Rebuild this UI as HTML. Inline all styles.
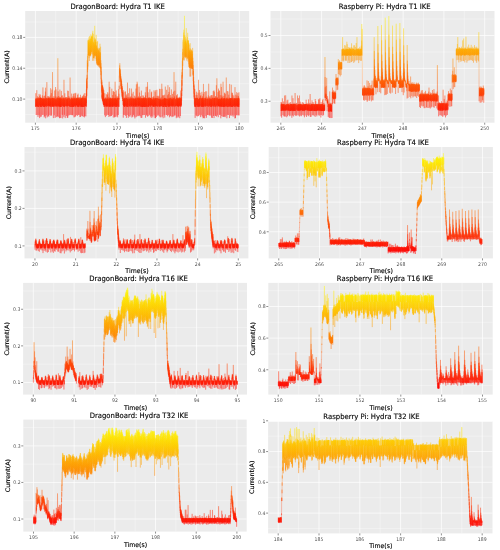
<!DOCTYPE html>
<html lang="en"><head><meta charset="utf-8"><title>Hydra IKE current traces</title>
<style>
html,body{margin:0;padding:0;background:#fff}
body{width:500px;height:550px;overflow:hidden}
svg{display:block;font-family:"DejaVu Sans","Liberation Sans",sans-serif}
.t{font-size:4.6px;fill:#4d4d4d}
.a{font-size:6.2px;fill:#000;stroke:#000;stroke-width:.12}
.h{font-size:6.87px;fill:#000;stroke:#000;stroke-width:.12}
.v{font-size:6.25px;fill:#000;stroke:#000;stroke-width:.12}
.l{fill:none;stroke-width:.3;stroke-linejoin:bevel}
</style></head><body>
<svg width="500" height="550" viewBox="0 0 500 550"><defs><linearGradient id="g0" gradientUnits="userSpaceOnUse" x1="0" x2="0" y1="116.84" y2="14.26"><stop offset="0" stop-color="#FF0000"/><stop offset="1" stop-color="#FFFF00"/></linearGradient><linearGradient id="g1" gradientUnits="userSpaceOnUse" x1="0" x2="0" y1="119.33" y2="14.13"><stop offset="0" stop-color="#FF0000"/><stop offset="1" stop-color="#FFFF00"/></linearGradient><linearGradient id="g2" gradientUnits="userSpaceOnUse" x1="0" x2="0" y1="255.28" y2="152.15"><stop offset="0" stop-color="#FF0000"/><stop offset="1" stop-color="#FFFF00"/></linearGradient><linearGradient id="g3" gradientUnits="userSpaceOnUse" x1="0" x2="0" y1="252.49" y2="153.24"><stop offset="0" stop-color="#FF0000"/><stop offset="1" stop-color="#FFFF00"/></linearGradient><linearGradient id="g4" gradientUnits="userSpaceOnUse" x1="0" x2="0" y1="391.66" y2="287.27"><stop offset="0" stop-color="#FF0000"/><stop offset="1" stop-color="#FFFF00"/></linearGradient><linearGradient id="g5" gradientUnits="userSpaceOnUse" x1="0" x2="0" y1="388.73" y2="285.94"><stop offset="0" stop-color="#FF0000"/><stop offset="1" stop-color="#FFFF00"/></linearGradient><linearGradient id="g6" gradientUnits="userSpaceOnUse" x1="0" x2="0" y1="527.04" y2="425.8"><stop offset="0" stop-color="#FF0000"/><stop offset="1" stop-color="#FFFF00"/></linearGradient><linearGradient id="g7" gradientUnits="userSpaceOnUse" x1="0" x2="0" y1="528.48" y2="417.72"><stop offset="0" stop-color="#FF0000"/><stop offset="1" stop-color="#FFFF00"/></linearGradient></defs><g><rect x="25.2" y="11" width="224" height="111.7" fill="#EBEBEB"/><path d="M55.79 11V122.7M96.57 11V122.7M137.35 11V122.7M178.13 11V122.7M218.91 11V122.7M25.2 114.53H249.2M25.2 83.67H249.2M25.2 52.82H249.2M25.2 21.97H249.2" stroke="#fff" stroke-opacity=".9" stroke-width=".38" fill="none"/><path d="M35.4 11V122.7M76.18 11V122.7M116.96 11V122.7M157.74 11V122.7M198.52 11V122.7M239.3 11V122.7M25.2 99.1H249.2M25.2 68.25H249.2M25.2 37.4H249.2" stroke="#fff" stroke-width=".7" fill="none"/><path d="M35.4 122.7v2M76.18 122.7v2M116.96 122.7v2M157.74 122.7v2M198.52 122.7v2M239.3 122.7v2M25.2 99.1h-2M25.2 68.25h-2M25.2 37.4h-2" stroke="#333" stroke-width=".55" fill="none"/><polyline points="35.4,97.9 35.48,106.3 35.56,98.8 35.64,107 35.71,97.9 35.79,93.2 35.87,97.8 35.95,106.9 36.03,99.7 36.11,106 36.18,115 36.26,106.3 36.34,98.9 36.42,106.7 36.5,97.9 36.58,105.6 36.66,98.9 36.73,106.3 36.81,90.2 36.89,106.2 36.97,99.8 37.05,106.9 37.13,115 37.2,106.3 37.28,98.2 37.36,106.1 37.44,98 37.52,96.3 37.6,99.5 37.68,106.9 37.75,98.5 37.83,106.7 37.91,97.8 37.99,116.9 38.07,98.4 38.15,106.9 38.22,98.9 38.3,106.9 38.38,99.6 38.46,97.2 38.54,97.8 38.62,106.9 38.7,98.2 38.77,106.4 38.85,115.1 38.93,105.8 39.01,98.2 39.09,93.9 39.17,97.9 39.24,105 39.32,98.4 39.4,105.8 39.48,97.8 39.56,95.6 39.64,118.1 39.71,106.1 39.79,98.1 39.87,106.7 39.95,97.8 40.03,106.9 40.11,97.8 40.19,105.4 40.26,98.5 40.34,116.8 40.42,94.5 40.5,106.9 40.58,97.8 40.66,106.1 40.73,99.6 40.81,97.2 40.89,99.3 40.97,106.9 41.05,97.8 41.13,107 41.21,98.1 41.28,105.8 41.36,116.6 41.44,105.4 41.52,98 41.6,106.7 41.68,98.1 41.75,105 41.83,99.7 41.91,106.6 41.99,98.4 42.07,106.7 42.15,99.1 42.23,115 42.3,97.8 42.38,95.4 42.46,98 42.54,105.4 42.62,99.1 42.7,106.2 42.77,98.9 42.85,105.8 42.93,87.4 43.01,105.2 43.09,97.9 43.17,114.9 43.25,97.9 43.32,106.4 43.4,99.2 43.48,105.3 43.56,99.2 43.64,107 43.72,98.2 43.79,106.9 43.87,99.9 43.95,106.9 44.03,98 44.11,96 44.19,117.4 44.27,105.4 44.34,98.8 44.42,106.9 44.5,98.5 44.58,107 44.66,98.8 44.74,116.3 44.81,97.8 44.89,95.5 44.97,98.7 45.05,106 45.13,98.2 45.21,106 45.29,98.2 45.36,91.6 45.44,98.2 45.52,106.5 45.6,87.7 45.68,118.3 45.76,97.8 45.83,106.2 45.91,99.8 45.99,105.2 46.07,99 46.15,107 46.23,99.3 46.31,115.4 46.38,97.9 46.46,106.4 46.54,97.8 46.62,105.5 46.7,99.1 46.78,94.8 46.85,82.1 46.93,91.3 47.01,99.3 47.09,106.8 47.17,97.9 47.25,106.5 47.32,117.3 47.4,106.7 47.48,98.8 47.56,106.1 47.64,98 47.72,96.2 47.8,98.2 47.87,105.7 47.95,98.1 48.03,105.6 48.11,98.3 48.19,106.2 48.27,98.9 48.34,115.8 48.42,96.2 48.5,105 48.58,97.9 48.66,106.7 48.74,98.6 48.82,116.7 48.89,97.9 48.97,105.6 49.05,97.6 49.13,106 49.21,99.6 49.29,96.9 49.36,98.1 49.44,106 49.52,98.2 49.6,105.7 49.68,98.3 49.76,106.9 49.84,99.5 49.91,115 49.99,99.1 50.07,95.6 50.15,99.2 50.23,106.4 50.31,98.7 50.38,107 50.46,98.7 50.54,105.5 50.62,88.2 50.7,105.5 50.78,98.5 50.86,115.9 50.93,97.9 51.01,105.3 51.09,98.3 51.17,107 51.25,98.8 51.33,93.1 51.4,98.4 51.48,105.4 51.56,115.4 51.64,106 51.72,98.3 51.8,106.2 51.88,89.5 51.95,106.9 52.03,98.6 52.11,105.4 52.19,97.9 52.27,107 52.35,97.8 52.42,106.4 52.5,72.1 52.58,85.7 52.66,99.8 52.74,106.2 52.82,97.9 52.9,106.5 52.97,98 53.05,105.8 53.13,98.6 53.21,106.7 53.29,98.1 53.37,118.1 53.44,99.2 53.52,106.4 53.6,98.3 53.68,96.3 53.76,99.8 53.84,107 53.91,97.9 53.99,106.6 54.07,98.5 54.15,107 54.23,115.3 54.31,106.8 54.39,98.3 54.46,105.7 54.54,98.8 54.62,90.5 54.7,97.8 54.78,106.4 54.86,99.5 54.93,105.2 55.01,98.2 55.09,118 55.17,96.5 55.25,106.5 55.33,99.1 55.41,106.6 55.48,97.9 55.56,87 55.64,97.8 55.72,105.9 55.8,99.3 55.88,105.2 55.95,98.4 56.03,89.4 56.11,116.8 56.19,105.4 56.27,99.8 56.35,106.1 56.43,98.9 56.5,106.6 56.58,98 56.66,106.7 56.74,99.1 56.82,96.6 56.9,99 56.97,106.3 57.05,117.2 57.13,105.1 57.21,97.9 57.29,106.3 57.37,97.4 57.45,105.2 57.52,98.5 57.6,106.6 57.68,97.9 57.76,115.9 57.84,58.2 57.92,78.1 57.99,97.8 58.07,106.5 58.15,91.3 58.23,106.3 58.31,117.1 58.39,96 58.47,99.7 58.54,105.6 58.62,98.5 58.7,106.3 58.78,98.3 58.86,106.5 58.94,97.8 59.01,105.6 59.09,98 59.17,107 59.25,98.5 59.33,105.8 59.41,96.7 59.49,118.2 59.56,98.9 59.64,106.9 59.72,97.8 59.8,106.1 59.88,89.6 59.96,105.4 60.03,98.3 60.11,117.8 60.19,97.8 60.27,107 60.35,98.8 60.43,106.8 60.51,97.1 60.58,106.9 60.66,98.3 60.74,106.6 60.82,98.7 60.9,105.3 60.98,118.1 61.05,106.9 61.13,98.7 61.21,107 61.29,98.3 61.37,90.9 61.45,98.3 61.52,107 61.6,98.6 61.68,106 61.76,95.8 61.84,105.1 61.92,98.2 62,105.9 62.07,98.4 62.15,106.8 62.23,114.9 62.31,105.7 62.39,95.3 62.47,105.5 62.54,99.6 62.62,106.9 62.7,118.4 62.78,106.9 62.86,98.3 62.94,105.9 63.02,98.4 63.09,106.3 63.17,99.2 63.25,96.9 63.33,99 63.41,107 63.49,98 63.56,105.8 63.64,99 63.72,106.5 63.8,98.1 63.88,116.8 63.96,79.8 64.04,90 64.11,98 64.19,107 64.27,99.3 64.35,114.9 64.43,99.8 64.51,106.8 64.58,98.1 64.66,106.1 64.74,98.1 64.82,93.3 64.9,97.9 64.98,106.5 65.06,97.8 65.13,106.8 65.21,118.1 65.29,106.7 65.37,98.1 65.45,105.9 65.53,99.5 65.6,97.3 65.68,98.3 65.76,105.8 65.84,99.3 65.92,97.4 66,97.9 66.08,106.9 66.15,99.2 66.23,105.8 66.31,99.6 66.39,115.9 66.47,98.4 66.55,97.4 66.62,99.5 66.7,105.8 66.78,98.7 66.86,105.9 66.94,97.2 67.02,106.6 67.1,98.7 67.17,106.3 67.25,117.9 67.33,105.2 67.41,99.4 67.49,106.5 67.57,98.3 67.64,105.2 67.72,90.6 67.8,117.7 67.88,97.8 67.96,106.4 68.04,98.6 68.12,105.5 68.19,99.5 68.27,91 68.35,98.8 68.43,106 68.51,97.9 68.59,105.5 68.66,115.5 68.74,105.1 68.82,98 68.9,96.1 68.98,98.2 69.06,106 69.13,98.8 69.21,106.3 69.29,98.2 69.37,106.3 69.45,115.1 69.53,105.3 69.61,97.4 69.68,106.4 69.76,98.1 69.84,106.8 69.92,99.7 70,106.7 70.08,77.5 70.15,88.7 70.23,93.4 70.31,106.9 70.39,99.7 70.47,105.6 70.55,114.9 70.63,105.8 70.7,99.1 70.78,106.4 70.86,98.8 70.94,106.8 71.02,97.8 71.1,97.5 71.17,98.5 71.25,105.2 71.33,98.1 71.41,115.1 71.49,99.8 71.57,105.3 71.65,93.6 71.72,106.9 71.8,97.9 71.88,106.8 71.96,98.2 72.04,107 72.12,97.5 72.19,107 72.27,99.7 72.35,115 72.43,98.8 72.51,106.4 72.59,99.1 72.67,105.5 72.74,98.3 72.82,106.2 72.9,115.4 72.98,96.2 73.06,98 73.14,106.7 73.21,98.2 73.29,106.1 73.37,93.9 73.45,106.7 73.53,99.4 73.61,107 73.69,97.8 73.76,107 73.84,99.5 73.92,106 74,117.4 74.08,105.1 74.16,93.2 74.23,105.2 74.31,98 74.39,106.3 74.47,99 74.55,105.6 74.63,98 74.71,106.4 74.78,97.8 74.86,96.5 74.94,117.1 75.02,105.3 75.1,98.7 75.18,105.6 75.25,93.5 75.33,106.6 75.41,99.8 75.49,106.4 75.57,97.9 75.65,106.2 75.72,116.3 75.8,92.8 75.88,98.9 75.96,107 76.04,98.9 76.12,105.2 76.2,98.9 76.27,105 76.35,98.6 76.43,115.1 76.51,97.9 76.59,105.3 76.67,98.4 76.74,105.3 76.82,98.2 76.9,106 76.98,99.4 77.06,97.4 77.14,98.8 77.22,105.1 77.29,97.8 77.37,107 77.45,98.6 77.53,115.8 77.61,94.8 77.69,106.7 77.76,97.9 77.84,106.4 77.92,98.5 78,106.4 78.08,93.6 78.16,106.7 78.24,99.5 78.31,114.9 78.39,97.9 78.47,106.6 78.55,99.7 78.63,106.9 78.71,98.1 78.78,105.2 78.86,98.2 78.94,97.1 79.02,115 79.1,105.3 79.18,98 79.26,106.9 79.33,97.5 79.41,105 79.49,99.7 79.57,105.7 79.65,99.6 79.73,105 79.8,98.6 79.88,117.1 79.96,99.4 80.04,106.5 80.12,97.4 80.2,106.3 80.28,97.8 80.35,107 80.43,98.1 80.51,94.8 80.59,99.1 80.67,116.9 80.75,99.3 80.82,105.1 80.9,98.8 80.98,105.7 81.06,98.7 81.14,107 81.22,97.6 81.3,105.7 81.37,98 81.45,115.7 81.53,98.4 81.61,107 81.69,98.7 81.77,106.4 81.84,97.8 81.92,106.8 82,98.1 82.08,106.6 82.16,96.5 82.24,106.9 82.32,98.4 82.39,106.1 82.47,116.1 82.55,96.5 82.63,97.8 82.71,106.9 82.79,98 82.86,106.9 82.94,97.8 83.02,106.8 83.1,98 83.18,95.6 83.26,116.9 83.33,106.6 83.41,97.9 83.49,107 83.57,98.1 83.65,94.6 83.73,98.5 83.81,105.4 83.88,99.1 83.96,106.9 84.04,97.8 84.12,107 84.2,98.4 84.28,106.6 84.35,93.2 84.43,117.4 84.51,98.1 84.59,105.9 84.67,98.7 84.75,106.3 84.83,116.1 84.9,107 84.98,98 85.06,96.2 85.14,98.7 85.22,105 85.3,96.3 85.37,106.1 85.45,99.2 85.53,105.8 85.61,97.9 85.69,106.1 85.77,98.1 85.85,116.4 85.92,97.9 86,107 86.08,93.1 86.16,105.8 86.24,99.1 86.32,106.7 86.39,89.4 86.47,103.1 86.55,78.9 86.63,97.5 86.71,80.7 86.79,95.9 86.87,77.8 86.94,89.6 87.02,74.8 87.1,88.1 87.18,68.5 87.26,60.3 87.34,64.6 87.41,79.3 87.49,62.9 87.57,72.3 87.65,55.8 87.73,69.5 87.81,54.3 87.89,66.5 87.96,49.9 88.04,40.6 88.12,54.5 88.2,39.8 88.28,54.9 88.36,39.7 88.43,55.5 88.51,42.1 88.59,55.9 88.67,43.1 88.75,55.1 88.83,40.8 88.91,55.3 88.98,37.2 89.06,58.1 89.14,41.5 89.22,57.7 89.3,61 89.38,57.8 89.45,39.7 89.53,55.9 89.61,35.9 89.69,41.6 89.77,41.8 89.85,56.1 89.93,39.1 90,55.1 90.08,43 90.16,55.7 90.24,40.8 90.32,55 90.4,41.2 90.47,54.7 90.55,38.5 90.63,56.4 90.71,39.3 90.79,55.2 90.87,34.3 90.94,40.3 91.02,38.9 91.1,51.5 91.18,37 91.26,53.6 91.34,36.3 91.42,51.5 91.49,38.6 91.57,52 91.65,36.5 91.73,48.4 91.81,35.7 91.89,51.1 91.96,53.9 92.04,48.4 92.12,35.7 92.2,50.4 92.28,36.9 92.36,52.2 92.44,37 92.51,32.8 92.59,39.1 92.67,60.8 92.75,39.8 92.83,30.8 92.91,42.4 92.98,55.2 93.06,41.2 93.14,54 93.22,41.3 93.3,33.9 93.38,44.8 93.46,58.1 93.53,42.1 93.61,58 93.69,42.9 93.77,58.3 93.85,60.8 93.93,58.5 94,42.3 94.08,58.6 94.16,45.4 94.24,57.5 94.32,37.4 94.4,55.4 94.48,44.3 94.55,56.1 94.63,43.1 94.71,25.8 94.79,36.2 94.87,54.9 94.95,39.8 95.02,55.6 95.1,39.4 95.18,55.4 95.26,41.9 95.34,38.7 95.42,39.2 95.5,56.3 95.57,41.9 95.65,53.8 95.73,41.9 95.81,55.4 95.89,40.5 95.97,56.2 96.04,45.2 96.12,59 96.2,34.8 96.28,61.1 96.36,46.6 96.44,60.3 96.52,45.7 96.59,50.1 96.67,63.5 96.75,51.3 96.83,64.7 96.91,47.9 96.99,63 97.06,48.5 97.14,42 97.22,51.5 97.3,64.5 97.38,48.4 97.46,65.2 97.53,63.5 97.61,40.9 97.69,51.2 97.77,64.5 97.85,49.3 97.93,65.8 98.01,49.5 98.08,47.7 98.16,52.5 98.24,65.3 98.32,49.6 98.4,64.5 98.48,50.8 98.55,66.6 98.63,49.7 98.71,63.3 98.79,64.7 98.87,64.1 98.95,51.3 99.03,65.1 99.1,48.2 99.18,65 99.26,51.6 99.34,67.3 99.42,53.4 99.5,48.3 99.57,66.4 99.65,65.4 99.73,53.2 99.81,64.3 99.89,52.1 99.97,43.7 100.05,51.5 100.12,68.3 100.2,52 100.28,68 100.36,52.9 100.44,68.4 100.52,55.4 100.59,46.7 100.67,59.4 100.75,71.7 100.83,60.3 100.91,75.2 100.99,63.2 101.07,79.3 101.14,66.7 101.22,83.7 101.3,71.3 101.38,87.3 101.46,92.6 101.54,89.6 101.61,78.7 101.69,90.8 101.77,80 101.85,97.4 101.93,81.7 102.01,98.6 102.09,94.6 102.16,99.2 102.24,85.4 102.32,100.2 102.4,85.7 102.48,100.5 102.56,84.9 102.63,100.5 102.71,86.3 102.79,101.4 102.87,99.3 102.95,101.6 103.03,89.9 103.11,103.9 103.18,87.4 103.26,102.9 103.34,88.7 103.42,104.9 103.5,92.5 103.58,105.4 103.65,92.8 103.73,104.9 103.81,90.2 103.89,107 103.97,97.9 104.05,105.1 104.13,99.2 104.2,105.1 104.28,98.7 104.36,105.5 104.44,99 104.52,106.7 104.6,98.9 104.67,115.3 104.75,98.4 104.83,93.3 104.91,95.5 104.99,106.9 105.07,99.4 105.14,106.4 105.22,97.9 105.3,106.7 105.38,117.1 105.46,105.3 105.54,98.5 105.62,105.2 105.69,97.4 105.77,105.1 105.85,99.6 105.93,106.2 106.01,99.2 106.09,106.7 106.16,97.9 106.24,106.1 106.32,94.2 106.4,115.8 106.48,98.8 106.56,105.6 106.64,99.6 106.71,106.9 106.79,99.5 106.87,106.3 106.95,98.8 107.03,106.4 107.11,99.4 107.18,94.9 107.26,114.9 107.34,105.5 107.42,98.9 107.5,105.8 107.58,97.9 107.66,106.8 107.73,92.1 107.81,105.7 107.89,98.9 107.97,93.6 108.05,98.9 108.13,106.9 108.2,98.4 108.28,106.7 108.36,115 108.44,106.3 108.52,99.1 108.6,105.8 108.68,99.6 108.75,96.9 108.83,97.8 108.91,117 108.99,98.3 109.07,107 109.15,81.7 109.22,105.4 109.3,99.3 109.38,107 109.46,98 109.54,105.8 109.62,99.8 109.7,107 109.77,86.9 109.85,116.1 109.93,98.8 110.01,105.5 110.09,98 110.17,106.3 110.24,99.3 110.32,106.6 110.4,98.3 110.48,107 110.56,97.4 110.64,116.3 110.72,98.3 110.79,105.9 110.87,99.4 110.95,105.4 111.03,98.2 111.11,106.1 111.19,98.3 111.26,105.4 111.34,99.3 111.42,105.9 111.5,116 111.58,106.3 111.66,98.7 111.74,106.9 111.81,88.7 111.89,106.7 111.97,98.7 112.05,107 112.13,98.3 112.21,114.9 112.28,98.8 112.36,106.2 112.44,98.1 112.52,105.9 112.6,95.1 112.68,106.1 112.75,98.3 112.83,106.9 112.91,98.7 112.99,107 113.07,99.6 113.15,106.6 113.23,91.1 113.3,117.5 113.38,97.9 113.46,91.5 113.54,99.8 113.62,105.5 113.7,98.7 113.77,105.1 113.85,98.2 113.93,106.4 114.01,97.9 114.09,106.5 114.17,99.6 114.25,105.9 114.32,98.6 114.4,106.2 114.48,117.4 114.56,92 114.64,98.4 114.72,106.3 114.79,97.9 114.87,106.4 114.95,98.9 115.03,116.7 115.11,81.7 115.19,105.5 115.27,97.9 115.34,106.9 115.42,99.3 115.5,107 115.58,98.1 115.66,105.2 115.74,94.6 115.81,105.5 115.89,99.2 115.97,117.1 116.05,98 116.13,105.2 116.21,90.5 116.29,106.5 116.36,99.7 116.44,107 116.52,99.8 116.6,106 116.68,98.8 116.76,107 116.83,97.4 116.91,105.5 116.99,115.6 117.07,96.2 117.15,97.9 117.23,107 117.31,98.3 117.38,105.5 117.46,97.8 117.54,106.5 117.62,117.3 117.7,106.5 117.78,98.6 117.85,106.2 117.93,98 118.01,105.6 118.09,98.6 118.17,96.5 118.25,99.8 118.33,115 118.4,97.9 118.48,89.1 118.56,98.7 118.64,106.6 118.72,98 118.8,107 118.87,98 118.95,106.7 119.03,93.7 119.11,99.7 119.19,85.7 119.27,89.3 119.34,75.7 119.42,82 119.5,68 119.58,75.6 119.66,65.3 119.74,73.5 119.82,63.2 119.89,76.7 119.97,68.7 120.05,78 120.13,70.4 120.21,79.2 120.29,69.4 120.36,80.6 120.44,73.2 120.52,82 120.6,74.1 120.68,85.9 120.76,76.7 120.84,77.6 120.91,76.4 120.99,89.1 121.07,78 121.15,88.6 121.23,79 121.31,89.4 121.38,80.1 121.46,91.4 121.54,81.6 121.62,81 121.7,82.7 121.78,93.1 121.86,83.9 121.93,95.7 122.01,86.2 122.09,97 122.17,86.3 122.25,98.6 122.33,89.8 122.4,87.9 122.48,88.4 122.56,99 122.64,91.9 122.72,101 122.8,91.7 122.88,101.2 122.95,92.7 123.03,104.9 123.11,98.1 123.19,106.6 123.27,117.7 123.35,106.4 123.42,98.8 123.5,105.5 123.58,90.3 123.66,106.4 123.74,98.6 123.82,114.9 123.9,99 123.97,106 124.05,98.9 124.13,106.4 124.21,97.5 124.29,105.4 124.37,98.7 124.44,107 124.52,98.4 124.6,106.8 124.68,98 124.76,115.1 124.84,99.3 124.92,106.6 124.99,98.4 125.07,91.9 125.15,98 125.23,106.1 125.31,91.3 125.39,105.2 125.46,98.8 125.54,105 125.62,115.8 125.7,106.3 125.78,97.8 125.86,106.8 125.94,97.9 126.01,105.7 126.09,97.9 126.17,106 126.25,95.5 126.33,106.4 126.41,117.9 126.48,106.7 126.56,97.9 126.64,106.7 126.72,99.7 126.8,94.3 126.88,98.1 126.95,106.9 127.03,97.8 127.11,106.6 127.19,98.8 127.27,115 127.35,99.3 127.43,105 127.5,82.6 127.58,106.6 127.66,99.3 127.74,107 127.82,99.2 127.9,97.3 127.97,99.2 128.05,107 128.13,98.7 128.21,105.5 128.29,117.8 128.37,105.4 128.45,97.9 128.52,93.2 128.6,98.7 128.68,105.6 128.76,98.3 128.84,106.8 128.92,116.1 128.99,107 129.07,96.9 129.15,106.4 129.23,99.2 129.31,106.5 129.39,98.7 129.47,105.9 129.54,98.9 129.62,88.3 129.7,98.4 129.78,106.1 129.86,116.8 129.94,106.9 130.01,98 130.09,106.8 130.17,98.6 130.25,106.9 130.33,98.7 130.41,105.5 130.49,97.8 130.56,97.1 130.64,98.5 130.72,115.3 130.8,97.9 130.88,96.2 130.96,98.3 131.03,105.3 131.11,98.7 131.19,105.7 131.27,98.2 131.35,106.6 131.43,88.6 131.51,106 131.58,99.6 131.66,106.8 131.74,97.9 131.82,105.9 131.9,117.5 131.98,107 132.05,98.3 132.13,93.6 132.21,98.2 132.29,105.7 132.37,98.4 132.45,106.7 132.53,98.6 132.6,116.7 132.68,97.9 132.76,97.4 132.84,97.9 132.92,105.1 133,98.6 133.07,106.8 133.15,97.8 133.23,91.8 133.31,98.2 133.39,106.1 133.47,98.9 133.55,114.9 133.62,98.4 133.7,106 133.78,98.6 133.86,106.7 133.94,98 134.02,106.5 134.09,99 134.17,116.6 134.25,98.8 134.33,107 134.41,98 134.49,95.7 134.56,99.3 134.64,105.6 134.72,99 134.8,106.8 134.88,118.4 134.96,106.1 135.04,99.6 135.11,105.2 135.19,98 135.27,105.1 135.35,96.6 135.43,106 135.51,98.1 135.58,107 135.66,98.7 135.74,106.8 135.82,99.2 135.9,106.4 135.98,88.6 136.06,117.2 136.13,99 136.21,106 136.29,99.3 136.37,84.4 136.45,99.6 136.53,107 136.6,99.6 136.68,105.7 136.76,97.9 136.84,105 136.92,97.8 137,116.4 137.08,98 137.15,81.7 137.23,99.4 137.31,83.7 137.39,92.1 137.47,105.3 137.55,98.5 137.62,106.9 137.7,97.8 137.78,107 137.86,115.7 137.94,106.6 138.02,97.5 138.1,106.4 138.17,97.9 138.25,106.6 138.33,98.5 138.41,106.4 138.49,96.4 138.57,105.9 138.64,99.1 138.72,116.1 138.8,97.8 138.88,105.6 138.96,99.2 139.04,86.7 139.12,98.4 139.19,105.3 139.27,97.9 139.35,105.7 139.43,98.7 139.51,115.4 139.59,92.5 139.66,105.1 139.74,97.8 139.82,106.9 139.9,98.6 139.98,106.1 140.06,97.9 140.14,106.7 140.21,116.3 140.29,96.7 140.37,98.4 140.45,107 140.53,98.7 140.61,105.8 140.68,99.1 140.76,96.1 140.84,98.3 140.92,105.9 141,99.8 141.08,118 141.15,98 141.23,107 141.31,98.2 141.39,90.6 141.47,98.1 141.55,105.6 141.63,98.1 141.7,107 141.78,98.8 141.86,117.8 141.94,98 142.02,106.6 142.1,98.1 142.17,107 142.25,99 142.33,107 142.41,98.8 142.49,106 142.57,115.2 142.65,95.4 142.72,97.8 142.8,106.3 142.88,98.5 142.96,107 143.04,97.8 143.12,105.6 143.19,98.2 143.27,105.8 143.35,98 143.43,115.1 143.51,95.6 143.59,106.9 143.67,98.3 143.74,106.3 143.82,99 143.9,106.7 143.98,98.9 144.06,97.4 144.14,99 144.21,107 144.29,98 144.37,107 144.45,97.2 144.53,115 144.61,98.4 144.69,105.6 144.76,99.8 144.84,106.9 144.92,99.2 145,105 145.08,98.1 145.16,107 145.23,98.4 145.31,92.3 145.39,99 145.47,117.7 145.55,95.5 145.63,106.9 145.71,98.2 145.78,106.4 145.86,98 145.94,106.7 146.02,99.5 146.1,86.9 146.18,97.9 146.25,105.9 146.33,98.2 146.41,114.9 146.49,98.3 146.57,107 146.65,99.1 146.73,106.2 146.8,99.8 146.88,107 146.96,115.9 147.04,106.5 147.12,98.4 147.2,86.6 147.27,98 147.35,106.5 147.43,97.9 147.51,82.1 147.59,91.3 147.67,116.8 147.75,98 147.82,106.5 147.9,98.6 147.98,107 148.06,98.8 148.14,92.3 148.22,98.2 148.29,107 148.37,97.9 148.45,105.7 148.53,98.6 148.61,106.9 148.69,97.5 148.76,115.9 148.84,99 148.92,105.8 149,97.9 149.08,105 149.16,98.1 149.24,106.6 149.31,98 149.39,97.3 149.47,114.9 149.55,106.2 149.63,98.3 149.71,105.8 149.78,98.5 149.86,89.3 149.94,97.9 150.02,105.5 150.1,97.8 150.18,105.2 150.26,99.6 150.33,106.3 150.41,97.9 150.49,106.8 150.57,97.9 150.65,116.5 150.73,98.2 150.8,105 150.88,98.2 150.96,106.6 151.04,98.9 151.12,105.3 151.2,98.6 151.28,117.8 151.35,92.4 151.43,105.8 151.51,99.2 151.59,105 151.67,91.6 151.75,105.6 151.82,98.9 151.9,106.2 151.98,115.8 152.06,106.9 152.14,97.9 152.22,97.7 152.3,98.3 152.37,105.1 152.45,99.3 152.53,105.7 152.61,99.5 152.69,106.5 152.77,99.8 152.84,117.4 152.92,96.9 153,106.6 153.08,98.1 153.16,106.9 153.24,99.7 153.32,106.5 153.39,99.5 153.47,106.1 153.55,97.8 153.63,106.4 153.71,99.2 153.79,96.1 153.86,98.1 153.94,107 154.02,90.3 154.1,115.4 154.18,97.8 154.26,105.3 154.34,98.8 154.41,106.7 154.49,99.6 154.57,105.2 154.65,99.8 154.73,106.4 154.81,98.3 154.88,105.9 154.96,118.1 155.04,106.6 155.12,91.6 155.2,106.5 155.28,97.8 155.36,105.4 155.43,98.4 155.51,118.2 155.59,98.8 155.67,105.5 155.75,90.1 155.83,106.6 155.9,98.1 155.98,106.6 156.06,98.6 156.14,105.5 156.22,97.8 156.3,106.1 156.37,117 156.45,106.2 156.53,98.3 156.61,106.4 156.69,98.6 156.77,106 156.85,97.8 156.92,89.8 157,98.6 157.08,95.9 157.16,99.6 157.24,106.5 157.32,115.6 157.39,106.7 157.47,98.6 157.55,106.9 157.63,98.1 157.71,106.7 157.79,97.9 157.87,105.7 157.94,98.4 158.02,95.8 158.1,98.7 158.18,106.8 158.26,114.9 158.34,106.2 158.41,98.8 158.49,106.5 158.57,99.1 158.65,105.4 158.73,99.8 158.81,97.5 158.89,99.8 158.96,95.8 159.04,116.1 159.12,106.9 159.2,98.9 159.28,106.2 159.36,99 159.43,106.8 159.51,99.8 159.59,106.6 159.67,88.8 159.75,106.7 159.83,98.5 159.91,105.9 159.98,117.2 160.06,89 160.14,98.9 160.22,105.7 160.3,99.6 160.38,106.2 160.45,99.8 160.53,106.7 160.61,98.8 160.69,105.7 160.77,97.8 160.85,105.6 160.93,117.4 161,106.2 161.08,99.6 161.16,105.8 161.24,98.3 161.32,97.5 161.4,98.6 161.47,105.9 161.55,99.8 161.63,105.8 161.71,99.2 161.79,83.7 161.87,92.1 161.95,107 162.02,88.9 162.1,106.4 162.18,99.8 162.26,116.7 162.34,99.6 162.42,106.7 162.49,97.9 162.57,95.4 162.65,99.4 162.73,105.1 162.81,98.6 162.89,106.6 162.96,99.2 163.04,106.5 163.12,118.2 163.2,105.7 163.28,95.4 163.36,105.6 163.44,99.7 163.51,107 163.59,99.2 163.67,107 163.75,97.9 163.83,95.4 163.91,99.9 163.98,107 164.06,98.4 164.14,115.3 164.22,97.9 164.3,105 164.38,98 164.46,105.3 164.53,98.6 164.61,105.8 164.69,94.7 164.77,117.6 164.85,99.3 164.93,105.3 165,97.9 165.08,107 165.16,98.4 165.24,107 165.32,86.6 165.4,105.1 165.48,98.6 165.55,106.9 165.63,97.9 165.71,106.2 165.79,99.1 165.87,105.5 165.95,99.2 166.02,106.4 166.1,115 166.18,106.2 166.26,99 166.34,107 166.42,98.5 166.5,107 166.57,98 166.65,89.8 166.73,98.7 166.81,107 166.89,115 166.97,106.5 167.04,98 167.12,105.1 167.2,98.9 167.28,106.6 167.36,95.3 167.44,106.3 167.52,99.2 167.59,106.3 167.67,116.2 167.75,107 167.83,98 167.91,85.2 167.99,93 168.06,105 168.14,99.1 168.22,106.5 168.3,94.2 168.38,106.4 168.46,99.7 168.54,115.1 168.61,98 168.69,107 168.77,99.1 168.85,105.1 168.93,91.9 169.01,106.7 169.08,99.8 169.16,106.1 169.24,99.7 169.32,106.6 169.4,97.9 169.48,117.3 169.56,87.2 169.63,106.4 169.71,99.2 169.79,106.4 169.87,98.1 169.95,105.3 170.03,98.7 170.1,106.1 170.18,97.5 170.26,105.9 170.34,115.8 170.42,105.1 170.5,97.9 170.57,95.1 170.65,98.9 170.73,106.1 170.81,98 170.89,116.3 170.97,97.9 171.05,106.4 171.12,99.7 171.2,105.3 171.28,98.8 171.36,89.4 171.44,98.9 171.52,106.8 171.59,99.4 171.67,106 171.75,98.7 171.83,105.1 171.91,98.7 171.99,117.2 172.07,96.9 172.14,106.2 172.22,99.5 172.3,105.4 172.38,98.3 172.46,106.3 172.54,93.9 172.61,106 172.69,116.5 172.77,106.9 172.85,98.8 172.93,106.9 173.01,99.4 173.09,105.7 173.16,99.7 173.24,106.7 173.32,97.9 173.4,91.6 173.48,97.8 173.56,105.5 173.63,98 173.71,116.5 173.79,97.9 173.87,105.8 173.95,96.3 174.03,72.1 174.11,85.7 174.18,105.6 174.26,97.8 174.34,106.9 174.42,99.2 174.5,96.4 174.58,115.5 174.65,105 174.73,98.3 174.81,90.7 174.89,99.1 174.97,106.3 175.05,99.4 175.13,106.2 175.2,115.4 175.28,106.2 175.36,99.4 175.44,106.7 175.52,98.8 175.6,106.1 175.67,99 175.75,81.7 175.83,98 175.91,105.9 175.99,99.4 176.07,106.4 176.15,97.9 176.22,105.5 176.3,118.2 176.38,105.9 176.46,96.3 176.54,105.6 176.62,95 176.69,105.3 176.77,98 176.85,107 176.93,116.7 177.01,105.8 177.09,99.1 177.17,105.4 177.24,98 177.32,106.1 177.4,94.2 177.48,106.8 177.56,97.8 177.64,106 177.71,99.6 177.79,106.1 177.87,98.8 177.95,117.8 178.03,97.5 178.11,106.2 178.18,99.3 178.26,106.9 178.34,99 178.42,107 178.5,116.6 178.58,106.9 178.66,98.4 178.73,106.9 178.81,97.8 178.89,106.4 178.97,98.3 179.05,105.7 179.13,97.8 179.2,106 179.28,97.8 179.36,106.3 179.44,96.8 179.52,105.2 179.6,98.5 179.68,106.4 179.75,118.2 179.83,105.6 179.91,98.1 179.99,106.4 180.07,99.1 180.15,105.6 180.22,98.3 180.3,107 180.38,116 180.46,106.8 180.54,97.8 180.62,106 180.7,90.5 180.77,107 180.85,97.8 180.93,105.9 181.01,98.7 181.09,106.8 181.17,97.5 181.24,105.6 181.32,97.8 181.4,93.3 181.48,105.2 181.56,88.2 181.64,100.7 181.72,80 181.79,96 181.87,75.2 181.95,91.1 182.03,72.2 182.11,85.7 182.19,69.4 182.26,78.6 182.34,60.8 182.42,76.4 182.5,58.2 182.58,70 182.66,52.2 182.74,65.9 182.81,48.8 182.89,60.8 182.97,43.9 183.05,39.7 183.13,54.7 183.21,41.7 183.28,53.6 183.36,60 183.44,56.8 183.52,39.4 183.6,32.5 183.68,43.6 183.76,58.6 183.83,29.7 183.91,38.1 183.99,41.5 184.07,34.9 184.15,41.9 184.23,56.9 184.3,60.5 184.38,58.8 184.46,15.8 184.54,30.5 184.62,42 184.7,57.2 184.77,41.7 184.85,56.7 184.93,35.4 185.01,54.7 185.09,41.6 185.17,55.9 185.25,41.2 185.32,57.5 185.4,37.1 185.48,57 185.56,40.3 185.64,57.6 185.72,41.7 185.79,55.8 185.87,41.5 185.95,39.1 186.03,42.2 186.11,58.5 186.19,45.4 186.27,28.1 186.34,37.6 186.42,57.2 186.5,43.6 186.58,56.9 186.66,42.6 186.74,57 186.81,60.6 186.89,58.8 186.97,43.7 187.05,40.6 187.13,45.1 187.21,58.6 187.29,42.3 187.36,36.9 187.44,42.1 187.52,58.6 187.6,40.7 187.68,32.8 187.76,41.5 187.83,42.8 187.91,40.1 187.99,57.6 188.07,40.2 188.15,61.6 188.23,40.9 188.31,58.2 188.38,40.7 188.46,56.6 188.54,43.2 188.62,59.7 188.7,43.1 188.78,49.3 188.85,64.2 188.93,50.7 189.01,67.2 189.09,52 189.17,67.1 189.25,44.6 189.33,65.6 189.4,50 189.48,65.8 189.56,50.9 189.64,68 189.72,48.5 189.8,67.5 189.87,50.6 189.95,76.6 190.03,52.1 190.11,68 190.19,43.2 190.27,68.3 190.35,52.6 190.42,66.5 190.5,52.2 190.58,48.5 190.66,50.9 190.74,76.5 190.82,51.4 190.89,66 190.97,50.3 191.05,68.2 191.13,50.6 191.21,49.3 191.29,52.5 191.37,68.5 191.44,54.3 191.52,68.1 191.6,50.6 191.68,66.6 191.76,50 191.84,69.2 191.91,51.4 191.99,67.4 192.07,51.4 192.15,68.6 192.23,51.2 192.31,68.6 192.38,54 192.46,68.9 192.54,53 192.62,47.9 192.7,51.4 192.78,69 192.86,57.8 192.93,74.6 193.01,61.1 193.09,75.7 193.17,65.1 193.25,81.2 193.33,69.1 193.4,84.2 193.48,71 193.56,87.2 193.64,76.9 193.72,89.4 193.8,81.1 193.88,93.6 193.95,84.3 194.03,97.3 194.11,85.5 194.19,99.2 194.27,88.8 194.35,104.5 194.42,93.1 194.5,99.6 194.58,106.6 194.66,98.3 194.74,106.7 194.82,89.1 194.9,106.3 194.97,98 195.05,105.3 195.13,117.9 195.21,105.5 195.29,99.5 195.37,107 195.44,97.8 195.52,106 195.6,98.7 195.68,106.9 195.76,98.4 195.84,107 195.92,98.3 195.99,94.9 196.07,115.4 196.15,106.6 196.23,97.9 196.31,105.1 196.39,98.8 196.46,91.7 196.54,97.8 196.62,106.6 196.7,98 196.78,116.2 196.86,98.1 196.94,105.2 197.01,99.3 197.09,95.1 197.17,97.8 197.25,105.6 197.33,98.3 197.41,105.4 197.48,97.8 197.56,106.9 197.64,97.9 197.72,105.5 197.8,116.4 197.88,105.7 197.96,92.7 198.03,107 198.11,99.8 198.19,106.9 198.27,99.3 198.35,106.4 198.43,98.2 198.5,79.8 198.58,90 198.66,116 198.74,99.5 198.82,106.4 198.9,98.9 198.98,106.6 199.05,98.5 199.13,105.6 199.21,98.9 199.29,106.5 199.37,114.9 199.45,105 199.52,90 199.6,106.5 199.68,97.9 199.76,107 199.84,97.8 199.92,105.6 199.99,98.4 200.07,106.2 200.15,92.7 200.23,106.5 200.31,98.4 200.39,95.8 200.47,97.8 200.54,106.9 200.62,117.1 200.7,106.4 200.78,98.5 200.86,95.3 200.94,99.8 201.01,105.2 201.09,98 201.17,106.5 201.25,115.2 201.33,105.6 201.41,98.6 201.49,106.9 201.56,97.8 201.64,106.6 201.72,98.8 201.8,106.9 201.88,91.8 201.96,106.5 202.03,99.7 202.11,105.8 202.19,99.8 202.27,116.5 202.35,98.5 202.43,105 202.51,96.3 202.58,106.2 202.66,97.8 202.74,106.9 202.82,98.1 202.9,106.8 202.98,98.4 203.05,118.3 203.13,98 203.21,107 203.29,93.8 203.37,106.6 203.45,83.9 203.53,105.7 203.6,99.7 203.68,105.7 203.76,118 203.84,105.7 203.92,99.8 204,106.9 204.07,99.5 204.15,105.8 204.23,99.7 204.31,92 204.39,98.6 204.47,105.9 204.55,98 204.62,106.6 204.7,118.3 204.78,106.5 204.86,99.4 204.94,97.8 205.02,99.5 205.09,106.9 205.17,98.9 205.25,106.8 205.33,98.8 205.41,105.6 205.49,91.4 205.57,105.7 205.64,97.9 205.72,105.9 205.8,115.8 205.88,106.3 205.96,97.9 206.04,106.4 206.11,98.9 206.19,96.6 206.27,98.7 206.35,105.3 206.43,117.8 206.51,106.7 206.58,98 206.66,91.3 206.74,98.3 206.82,105.8 206.9,99.1 206.98,105.8 207.06,99.2 207.13,105.6 207.21,99.1 207.29,106.8 207.37,98.7 207.45,106.5 207.53,115 207.6,106 207.68,97.9 207.76,105.9 207.84,98.6 207.92,97.4 208,98.4 208.08,106.2 208.15,115 208.23,105.2 208.31,95.4 208.39,107 208.47,99.1 208.55,106.5 208.62,99.4 208.7,83.7 208.78,92.1 208.86,95.6 208.94,98.3 209.02,105.9 209.1,99.8 209.17,115.4 209.25,97.8 209.33,105.1 209.41,97.8 209.49,105.9 209.57,98.7 209.64,106.5 209.72,99.7 209.8,115.5 209.88,98 209.96,96 210.04,97.8 210.12,97.2 210.19,97.9 210.27,106.5 210.35,99.1 210.43,105.1 210.51,98 210.59,107 210.66,99.1 210.74,105.2 210.82,115.5 210.9,106 210.98,95.2 211.06,106.2 211.14,98.8 211.21,106.7 211.29,99.5 211.37,106.8 211.45,99.7 211.53,117.7 211.61,99.4 211.68,95.2 211.76,99.7 211.84,106.8 211.92,98.5 212,106.3 212.08,97.9 212.16,105 212.23,95.2 212.31,106.4 212.39,118 212.47,106.7 212.55,99.4 212.63,97.7 212.7,98.2 212.78,106 212.86,97.9 212.94,105.9 213.02,99.5 213.1,107 213.18,98.1 213.25,91 213.33,97.8 213.41,105.2 213.49,115.9 213.57,106 213.65,98.8 213.72,105.9 213.8,98.1 213.88,106.9 213.96,90.4 214.04,118.1 214.12,98 214.19,105.6 214.27,98.2 214.35,91.7 214.43,99.1 214.51,105.1 214.59,97.9 214.67,106.1 214.74,98.4 214.82,106.9 214.9,98.2 214.98,105.6 215.06,115.6 215.14,106.2 215.21,98.4 215.29,107 215.37,99.4 215.45,96.4 215.53,99.4 215.61,116 215.69,98.4 215.76,96.3 215.84,99.8 215.92,106.3 216,98.1 216.08,106.4 216.16,98.7 216.23,106 216.31,99.7 216.39,85.2 216.47,116.6 216.55,106.4 216.63,98.4 216.71,105.2 216.78,98.1 216.86,78.3 216.94,89.1 217.02,107 217.1,97.9 217.18,97.2 217.25,98.9 217.33,105 217.41,97.9 217.49,115.4 217.57,99 217.65,105.3 217.73,97.8 217.8,106.7 217.88,99 217.96,92.1 218.04,99.5 218.12,105.9 218.2,99.7 218.27,117.2 218.35,99.1 218.43,106.1 218.51,88.6 218.59,105.8 218.67,99.4 218.75,106.1 218.82,99.1 218.9,106.5 218.98,99.5 219.06,106.5 219.14,90.3 219.22,106.1 219.29,98.6 219.37,90.9 219.45,114.9 219.53,106.1 219.61,99 219.69,105.8 219.77,98.2 219.84,106.7 219.92,98.8 220,106.9 220.08,99.3 220.16,114.9 220.24,95.1 220.31,106.6 220.39,99.8 220.47,105.7 220.55,99.5 220.63,105.8 220.71,98.7 220.79,118.3 220.86,97.9 220.94,83.7 221.02,92.1 221.1,106.8 221.18,98 221.26,106.3 221.33,87 221.41,105.7 221.49,98.5 221.57,106.8 221.65,98.9 221.73,116.2 221.8,97.9 221.88,106.6 221.96,95.4 222.04,107 222.12,97.9 222.2,105.8 222.28,98.3 222.35,96.7 222.43,98.5 222.51,106.9 222.59,99.8 222.67,105.2 222.75,98.8 222.82,107 222.9,116.7 222.98,105.5 223.06,81.7 223.14,106.9 223.22,99.1 223.3,106 223.37,98.3 223.45,116.9 223.53,99.7 223.61,107 223.69,98.1 223.77,106.4 223.84,95.9 223.92,106.8 224,98.7 224.08,107 224.16,98.6 224.24,107 224.32,98.3 224.39,105.8 224.47,98 224.55,116.7 224.63,93.1 224.71,106.5 224.79,97.8 224.86,92.5 224.94,98.1 225.02,105.5 225.1,99.5 225.18,117.2 225.26,98.9 225.34,94.1 225.41,97.8 225.49,106 225.57,98.3 225.65,106.7 225.73,98.7 225.81,106.8 225.88,99.8 225.96,106.1 226.04,115.6 226.12,107 226.2,97.8 226.28,77.5 226.36,88.7 226.43,106.2 226.51,98.9 226.59,105.3 226.67,97.9 226.75,106.3 226.83,98.9 226.9,118.3 226.98,97.7 227.06,107 227.14,97.8 227.22,106.7 227.3,91 227.38,105.1 227.45,98.8 227.53,107 227.61,114.9 227.69,106.3 227.77,99.4 227.85,106.9 227.92,98.2 228,91.4 228.08,98.6 228.16,106.9 228.24,99.4 228.32,106.9 228.39,98.4 228.47,106.2 228.55,115 228.63,106.6 228.71,94.7 228.79,106.3 228.87,99 228.94,105.7 229.02,99.6 229.1,106.3 229.18,98.4 229.26,105.2 229.34,97.7 229.41,105.3 229.49,118.1 229.57,105.2 229.65,83.9 229.73,106.3 229.81,97.9 229.89,106.9 229.96,99.5 230.04,106.7 230.12,98.5 230.2,106.5 230.28,98.3 230.36,106.5 230.43,98.1 230.51,105.3 230.59,98.6 230.67,115.3 230.75,98 230.83,105.5 230.91,99.2 230.98,105.5 231.06,98.7 231.14,115.8 231.22,98 231.3,84.7 231.38,97.8 231.45,106.7 231.53,98.2 231.61,107 231.69,97.9 231.77,107 231.85,98.3 231.93,92.6 232,99.7 232.08,107 232.16,98.7 232.24,107 232.32,115.4 232.4,92.9 232.47,98.6 232.55,106.7 232.63,98.4 232.71,107 232.79,94.8 232.87,105.6 232.95,97.8 233.02,105 233.1,116.7 233.18,105.2 233.26,99.8 233.34,106.5 233.42,99.4 233.49,106.2 233.57,98.1 233.65,105.9 233.73,98.2 233.81,95.5 233.89,99.2 233.97,106.9 234.04,115.4 234.12,106.9 234.2,98.2 234.28,105.5 234.36,99.4 234.44,106.5 234.51,98.8 234.59,105.1 234.67,98.1 234.75,106.8 234.83,97.9 234.91,118.4 234.99,87.1 235.06,107 235.14,99.1 235.22,106.7 235.3,98.6 235.38,106.2 235.46,118.1 235.53,106.2 235.61,98.3 235.69,105.8 235.77,94.7 235.85,105.4 235.93,98.3 236,105.6 236.08,98.8 236.16,106.4 236.24,98.5 236.32,106.3 236.4,98.4 236.48,106.2 236.55,115.2 236.63,105.4 236.71,92.1 236.79,105.7 236.87,98.3 236.95,105.4 237.02,95.5 237.1,107 237.18,99.6 237.26,115.3 237.34,98.9 237.42,106.9 237.5,99.4 237.57,106.1 237.65,98 237.73,106 237.81,93.1 237.89,105.8 237.97,98 238.04,106.7 238.12,97.8 238.2,106.6 238.28,98.8 238.36,115.3 238.44,95.9 238.52,106.7 238.59,97.9 238.67,106.6 238.75,99.2 238.83,105.2 238.91,92.3 238.99,107 239.06,97.9 239.14,115.4 239.22,98.7" stroke="url(#g0)" class="l"/><text class="t" transform="translate(35.4 130) scale(1 1.07)" text-anchor="middle">175</text><text class="t" transform="translate(76.18 130) scale(1 1.07)" text-anchor="middle">176</text><text class="t" transform="translate(116.96 130) scale(1 1.07)" text-anchor="middle">177</text><text class="t" transform="translate(157.74 130) scale(1 1.07)" text-anchor="middle">178</text><text class="t" transform="translate(198.52 130) scale(1 1.07)" text-anchor="middle">179</text><text class="t" transform="translate(239.3 130) scale(1 1.07)" text-anchor="middle">180</text><text class="t" transform="translate(22.5 100.85) scale(1 1.07)" text-anchor="end">0.10</text><text class="t" transform="translate(22.5 70) scale(1 1.07)" text-anchor="end">0.14</text><text class="t" transform="translate(22.5 39.15) scale(1 1.07)" text-anchor="end">0.18</text><text class="a" transform="translate(137.7 137.7) scale(1 1.07)" text-anchor="middle">Time(s)</text><text class="v" transform="translate(8.56 66.85) rotate(-90) scale(1.025 1)" text-anchor="middle">Current(A)</text><text class="h" transform="translate(117.6 9.2) scale(1 1.07)" text-anchor="middle">DragonBoard: Hydra T1 IKE</text></g>
<g><rect x="270.5" y="11" width="224" height="111.7" fill="#EBEBEB"/><path d="M301.19 11V122.7M341.97 11V122.7M382.75 11V122.7M423.53 11V122.7M464.31 11V122.7M270.5 117.69H494.5M270.5 84.81H494.5M270.5 51.94H494.5M270.5 19.06H494.5" stroke="#fff" stroke-opacity=".9" stroke-width=".38" fill="none"/><path d="M280.8 11V122.7M321.58 11V122.7M362.36 11V122.7M403.14 11V122.7M443.92 11V122.7M484.7 11V122.7M270.5 101.25H494.5M270.5 68.38H494.5M270.5 35.5H494.5" stroke="#fff" stroke-width=".7" fill="none"/><path d="M280.8 122.7v2M321.58 122.7v2M362.36 122.7v2M403.14 122.7v2M443.92 122.7v2M484.7 122.7v2M270.5 101.25h-2M270.5 68.38h-2M270.5 35.5h-2" stroke="#333" stroke-width=".55" fill="none"/><polyline points="280.8,104.1 280.88,109.6 280.96,116.3 281.04,101.9 281.11,104.2 281.19,110.9 281.27,104.8 281.35,111 281.43,102.5 281.51,109.8 281.58,103.9 281.66,117.7 281.74,103.9 281.82,110.9 281.9,104.3 281.98,110.6 282.06,104.4 282.13,109.7 282.21,104.1 282.29,111 282.37,98.3 282.45,109.6 282.53,105.3 282.6,109.8 282.68,103.9 282.76,109.6 282.84,104.7 282.92,115.1 283,104.3 283.08,110.9 283.15,105 283.23,110.2 283.31,105 283.39,111 283.47,104 283.55,110 283.62,101.4 283.7,109.6 283.78,104 283.86,116.2 283.94,104.3 284.02,110.8 284.1,104 284.17,110 284.25,105.3 284.33,110.1 284.41,116.5 284.49,110.1 284.57,95.5 284.64,110.4 284.72,105.3 284.8,110.9 284.88,104.1 284.96,109.6 285.04,105.4 285.11,110.6 285.19,105 285.27,110.1 285.35,105.4 285.43,116.5 285.51,105.3 285.59,110.5 285.66,95.3 285.74,100.8 285.82,104.7 285.9,110.6 285.98,104.1 286.06,109.7 286.13,105.1 286.21,111.1 286.29,104.3 286.37,110 286.45,105.2 286.53,109.6 286.61,104.1 286.68,109.7 286.76,117.3 286.84,111.1 286.92,104 287,100.4 287.08,103.9 287.15,110.2 287.23,104.2 287.31,110.2 287.39,103.9 287.47,109.8 287.55,116.1 287.63,110 287.7,104.6 287.78,110.6 287.86,99.7 287.94,109.6 288.02,104 288.1,110.5 288.17,103.9 288.25,111.1 288.33,104.8 288.41,109.7 288.49,104.4 288.57,110 288.65,105.2 288.72,110.5 288.8,114.9 288.88,110.9 288.96,104 289.04,111 289.12,103 289.19,111.1 289.27,104.9 289.35,109.7 289.43,116.2 289.51,110.1 289.59,105 289.67,110.2 289.74,104.5 289.82,110.6 289.9,104.8 289.98,103.8 290.06,104.9 290.14,111 290.21,103.9 290.29,102 290.37,103.9 290.45,111 290.53,103.9 290.61,111.1 290.69,104 290.76,115.7 290.84,104.8 290.92,110.7 291,103.9 291.08,109.9 291.16,104.4 291.23,109.8 291.31,104.5 291.39,111.1 291.47,103.9 291.55,110 291.63,104.1 291.71,111 291.78,104.3 291.86,117.8 291.94,95.5 292.02,102.8 292.1,104.4 292.18,109.5 292.25,103.9 292.33,110.9 292.41,105.2 292.49,115.5 292.57,105 292.65,110.6 292.72,104.3 292.8,109.8 292.88,104.2 292.96,110.5 293.04,98.2 293.12,111.1 293.2,103.9 293.27,110.9 293.35,103.9 293.43,110.2 293.51,104.6 293.59,116.4 293.67,104.3 293.74,111.1 293.82,104.3 293.9,109.9 293.98,103.9 294.06,110.3 294.14,102.9 294.22,110.9 294.29,104.1 294.37,111 294.45,104.6 294.53,110.7 294.61,104 294.69,110.9 294.76,115.1 294.84,109.5 294.92,104.7 295,110.6 295.08,93 295.16,99.5 295.24,105.5 295.31,110.7 295.39,103.9 295.47,111 295.55,103.9 295.63,111 295.71,115.8 295.78,110.9 295.86,105.1 295.94,109.6 296.02,103.9 296.1,103.7 296.18,104.8 296.26,109.5 296.33,115.6 296.41,110 296.49,104.2 296.57,103.1 296.65,104.1 296.73,109.6 296.8,104.4 296.88,110.6 296.96,105.2 297.04,109.8 297.12,105.3 297.2,111.1 297.28,115.3 297.35,110.2 297.43,105.3 297.51,95.5 297.59,105.3 297.67,109.8 297.75,104.7 297.82,111 297.9,104.8 297.98,111.1 298.06,104.2 298.14,110.9 298.22,104.1 298.3,109.9 298.37,105.2 298.45,98.1 298.53,104.7 298.61,115.5 298.69,104 298.77,110.8 298.84,105 298.92,110.6 299,104.4 299.08,110 299.16,104.1 299.24,109.8 299.31,104.9 299.39,111.1 299.47,95.5 299.55,109.7 299.63,116.5 299.71,111.1 299.79,104 299.86,110.5 299.94,103.9 300.02,111.1 300.1,104 300.18,109.9 300.26,101.6 300.33,115.6 300.41,104.6 300.49,110.2 300.57,103.9 300.65,109.8 300.73,104.9 300.81,110.2 300.88,104.4 300.96,110 301.04,105.1 301.12,110.9 301.2,104.1 301.28,109.5 301.35,104.4 301.43,116.2 301.51,105.4 301.59,103.8 301.67,104.9 301.75,109.9 301.83,105.1 301.9,110.2 301.98,105.5 302.06,110 302.14,105.1 302.22,114.9 302.3,103.9 302.37,102.1 302.45,105 302.53,111.1 302.61,104.9 302.69,110.1 302.77,104.5 302.85,110.8 302.92,104.5 303,111 303.08,104.3 303.16,110.3 303.24,104.9 303.32,115.4 303.39,105.2 303.47,102.7 303.55,105.3 303.63,110.4 303.71,104.1 303.79,111.1 303.87,104.6 303.94,110.5 304.02,103.9 304.1,103.8 304.18,105.4 304.26,110.1 304.34,105.3 304.41,117.3 304.49,104.3 304.57,110.4 304.65,104.3 304.73,111.1 304.81,104.4 304.89,110.2 304.96,104.2 305.04,109.7 305.12,105.3 305.2,115.5 305.28,104.3 305.36,110.3 305.43,104.3 305.51,109.5 305.59,104.1 305.67,109.7 305.75,104.2 305.83,109.8 305.91,103.9 305.98,109.8 306.06,105.1 306.14,99.7 306.22,104.2 306.3,110.7 306.38,104 306.45,110.9 306.53,116.9 306.61,110.5 306.69,104.4 306.77,109.8 306.85,104 306.92,110 307,105.2 307.08,103.2 307.16,103.9 307.24,109.9 307.32,104.9 307.4,115.2 307.47,105.3 307.55,110.9 307.63,104.9 307.71,110.3 307.79,104.3 307.87,110 307.94,103.9 308.02,110.8 308.1,103.7 308.18,109.6 308.26,105 308.34,111.1 308.42,116.2 308.49,111 308.57,99.4 308.65,109.6 308.73,104.1 308.81,111.1 308.89,105.3 308.96,111 309.04,104.6 309.12,110.9 309.2,115.2 309.28,110.1 309.36,105 309.44,111.1 309.51,104.2 309.59,109.8 309.67,104.1 309.75,103.1 309.83,105.2 309.91,110.9 309.98,104.6 310.06,111 310.14,94 310.22,100.1 310.3,116.9 310.38,110 310.46,105.3 310.53,110.5 310.61,104.8 310.69,110.8 310.77,105.3 310.85,110.8 310.93,103.9 311,111 311.08,116.8 311.16,103.5 311.24,104 311.32,110.6 311.4,104.2 311.48,110 311.55,104.1 311.63,110.9 311.71,104.1 311.79,111 311.87,104.7 311.95,110.5 312.02,100.3 312.1,111 312.18,105 312.26,115.3 312.34,105.4 312.42,109.5 312.5,103.9 312.57,110.4 312.65,104.1 312.73,110.2 312.81,104 312.89,110.4 312.97,105 313.04,102 313.12,104.2 313.2,115 313.28,105.4 313.36,110.9 313.44,103.9 313.52,110.7 313.59,104.3 313.67,103.8 313.75,105.4 313.83,110.9 313.91,103.9 313.99,111.1 314.06,115.9 314.14,110.9 314.22,104.4 314.3,110.2 314.38,104.2 314.46,111 314.53,105.3 314.61,111 314.69,104.2 314.77,111.1 314.85,104.7 314.93,110.9 315.01,104.9 315.08,110.7 315.16,116.8 315.24,99 315.32,105 315.4,111.1 315.48,104.2 315.55,110.8 315.63,104.3 315.71,110.9 315.79,101.1 315.87,109.6 315.95,103.9 316.03,110.5 316.1,114.9 316.18,110.6 316.26,104.4 316.34,110.5 316.42,104 316.5,111 316.57,104.8 316.65,110.4 316.73,104.1 316.81,116.3 316.89,105.5 316.97,111 317.05,105 317.12,109.6 317.2,103.8 317.28,111 317.36,104.4 317.44,110 317.52,104.8 317.59,109.9 317.67,104.5 317.75,111.1 317.83,103.9 317.91,110 317.99,104.5 318.07,109.7 318.14,105.1 318.22,114.9 318.3,104.6 318.38,110 318.46,104 318.54,110.7 318.61,104.7 318.69,99.4 318.77,104 318.85,110.8 318.93,104 319.01,99.5 319.09,104 319.16,115.9 319.24,104 319.32,111 319.4,103.9 319.48,110.8 319.56,105.1 319.63,109.7 319.71,104.5 319.79,109.8 319.87,98.3 319.95,109.6 320.03,114.9 320.11,110.9 320.18,104.1 320.26,109.9 320.34,105.4 320.42,110 320.5,105.4 320.58,111.1 320.65,104 320.73,111 320.81,104.2 320.89,117.5 320.97,104.3 321.05,111 321.12,104.5 321.2,102.1 321.28,105.1 321.36,111 321.44,105.5 321.52,110.9 321.6,104.3 321.67,115.1 321.75,104 321.83,110.7 321.91,104.2 321.99,111.1 322.07,103.9 322.14,111 322.22,104.5 322.3,111.1 322.38,104 322.46,109.6 322.54,100.3 322.62,110.9 322.69,105.5 322.77,110.1 322.85,115.8 322.93,109.8 323.01,98.9 323.09,110.8 323.16,105.4 323.24,110.5 323.32,103.9 323.4,111.1 323.48,105.4 323.56,114.9 323.64,105.2 323.71,110.9 323.79,103 323.87,110.9 323.95,105.2 324.03,110 324.11,105.4 324.18,110.6 324.26,105 324.34,111.1 324.42,104.7 324.5,110.1 324.58,104.9 324.66,110.9 324.73,103.9 324.81,110.3 324.89,98.2 324.97,57 325.05,97.7 325.13,77 325.2,97.8 325.28,87.2 325.36,97.9 325.44,94.4 325.52,98 325.6,97.4 325.68,93.4 325.75,99.4 325.83,98.9 325.91,100.6 325.99,98.2 326.07,101.3 326.15,86.2 326.22,85.9 326.3,98.5 326.38,94.3 326.46,99 326.54,98 326.62,99 326.7,77.8 326.77,99.1 326.85,101.1 326.93,100.7 327.01,102.1 327.09,111.2 327.17,102.6 327.24,100.8 327.32,102.9 327.4,99.5 327.48,103.2 327.56,96.2 327.64,103.4 327.72,100.6 327.79,103.6 327.87,100.3 327.95,107 328.03,98.7 328.11,104.7 328.19,111.7 328.26,116.9 328.34,111.7 328.42,104.2 328.5,111.4 328.58,103.9 328.66,111.3 328.73,104.4 328.81,111.8 328.89,103.9 328.97,102.7 329.05,104.2 329.13,110.4 329.21,117.8 329.28,110.2 329.36,104 329.44,111.8 329.52,104.5 329.6,110.2 329.68,104.7 329.75,91.4 329.83,98.8 329.91,117.9 329.99,103.6 330.07,111 330.15,105.2 330.23,110.6 330.3,104.2 330.38,111.5 330.46,104.4 330.54,111 330.62,102.9 330.7,111.7 330.77,104 330.85,110.9 330.93,104.7 331.01,118.1 331.09,104.1 331.17,111.4 331.25,105.6 331.32,111.4 331.4,104.8 331.48,111.6 331.56,105.1 331.64,111.7 331.72,105.2 331.79,103.1 331.87,104.9 331.95,110.7 332.03,118 332.11,111.5 332.19,92.1 332.27,99.2 332.34,104.2 332.42,99.2 332.5,87.6 332.58,97.9 332.66,91.4 332.74,98.1 332.81,91.9 332.89,98.3 332.97,92.3 333.05,103.3 333.13,92.7 333.21,99.3 333.29,93.1 333.36,98.8 333.44,93 333.52,99.1 333.6,90.3 333.68,99.1 333.76,92.8 333.83,98.1 333.91,92.9 333.99,98.3 334.07,91.5 334.15,99.2 334.23,92.4 334.31,98.1 334.38,103.3 334.46,98.3 334.54,93.1 334.62,99 334.7,91.7 334.78,99.3 334.85,103.9 334.93,99.1 335.01,92.5 335.09,98.3 335.17,92.5 335.25,98.6 335.33,91.4 335.4,97.8 335.48,93.1 335.56,99.2 335.64,93.1 335.72,98.4 335.8,92.7 335.87,79.2 335.95,85.5 336.03,74 336.11,85.2 336.19,78.1 336.27,84.3 336.34,77.8 336.42,85 336.5,78.9 336.58,85.3 336.66,77.8 336.74,84.1 336.82,78.7 336.89,83.8 336.97,90.2 337.05,84.5 337.13,77.6 337.21,85.4 337.29,77.8 337.36,84.2 337.44,77.9 337.52,85.4 337.6,79.3 337.68,85.1 337.76,89.7 337.84,84.3 337.91,78.7 337.99,85.2 338.07,77.6 338.15,84.3 338.23,77.6 338.31,59.1 338.38,74.2 338.46,62.2 338.54,69.7 338.62,63.3 338.7,69.4 338.78,63.5 338.86,69.5 338.93,61.8 339.01,68 339.09,62.8 339.17,61.5 339.25,62.3 339.33,69.7 339.4,63 339.48,68.1 339.56,74.7 339.64,60.3 339.72,62.1 339.8,68.1 339.88,61.8 339.95,69.3 340.03,61.9 340.11,68.5 340.19,76.4 340.27,69.1 340.35,62.9 340.42,68 340.5,62.1 340.58,69 340.66,63.2 340.74,69.6 340.82,63 340.9,69.4 340.97,62 341.05,69.6 341.13,75.1 341.21,68.8 341.29,62.1 341.37,69 341.44,61.9 341.52,68.8 341.6,62.4 341.68,69.7 341.76,62.5 341.84,68.8 341.92,59.5 341.99,49 342.07,61.3 342.15,49.5 342.23,55.9 342.31,49.7 342.39,55.7 342.46,49.3 342.54,55 342.62,37.1 342.7,54.7 342.78,49.3 342.86,54.9 342.93,48.7 343.01,55.2 343.09,60.4 343.17,54.5 343.25,49.1 343.33,55.8 343.41,49.3 343.48,48.6 343.56,49.3 343.64,61.4 343.72,48.7 343.8,55.2 343.88,49.7 343.95,55.1 344.03,48.9 344.11,55.1 344.19,50 344.27,54.6 344.35,49.9 344.43,55.3 344.5,50.2 344.58,55.5 344.66,50.3 344.74,45 344.82,48.7 344.9,55.8 344.97,49.4 345.05,54.6 345.13,60.6 345.21,55.2 345.29,45.6 345.37,55.5 345.45,49.7 345.52,54.7 345.6,49.8 345.68,60.6 345.76,48.7 345.84,55 345.92,49.7 345.99,55.5 346.07,50.2 346.15,54.9 346.23,49.3 346.31,55.9 346.39,48.7 346.47,55.3 346.54,49.3 346.62,60.7 346.7,49.5 346.78,54.7 346.86,41.7 346.94,55.7 347.01,49 347.09,55.5 347.17,44.2 347.25,54.4 347.33,48.8 347.41,55.7 347.49,49.4 347.56,55.7 347.64,49 347.72,55.2 347.8,49.8 347.88,54.6 347.96,49.3 348.03,63 348.11,49 348.19,55.8 348.27,49.3 348.35,47 348.43,48.7 348.51,55.2 348.58,48.7 348.66,55 348.74,50.2 348.82,60.5 348.9,49.7 348.98,55.1 349.05,49.9 349.13,54.9 349.21,49.2 349.29,55.5 349.37,48 349.45,54.8 349.53,48.7 349.6,55.4 349.68,49 349.76,63 349.84,47.2 349.92,55.6 350,48.8 350.07,54.4 350.15,48.7 350.23,55.6 350.31,48.7 350.39,55.7 350.47,49.3 350.54,55.7 350.62,48.8 350.7,54.7 350.78,49.1 350.86,55 350.94,49.3 351.02,62.2 351.09,49.9 351.17,55.9 351.25,47.3 351.33,55.9 351.41,49.8 351.49,55.1 351.56,43.3 351.64,61.9 351.72,50.2 351.8,54.5 351.88,49.7 351.96,54.5 352.04,49.9 352.11,54.9 352.19,49 352.27,55.2 352.35,49.1 352.43,47.7 352.51,49.8 352.58,55.6 352.66,61.1 352.74,55.2 352.82,48.7 352.9,54.9 352.98,48.8 353.06,55.7 353.13,49.3 353.21,54.9 353.29,48.9 353.37,55.2 353.45,48.8 353.53,55.8 353.6,49.1 353.68,55.5 353.76,62.9 353.84,55.9 353.92,48.7 354,45.6 354.08,49.3 354.15,45 354.23,50.2 354.31,55.6 354.39,49.7 354.47,54.7 354.55,49.7 354.62,61.6 354.7,49.8 354.78,54.8 354.86,49.6 354.94,55.4 355.02,49.5 355.1,55.3 355.17,50 355.25,54.3 355.33,48.9 355.41,46.9 355.49,48.8 355.57,55.8 355.64,49.7 355.72,55.7 355.8,60.4 355.88,55.7 355.96,50.3 356.04,55.8 356.12,49.1 356.19,43 356.27,48.7 356.35,54.5 356.43,48.8 356.51,55 356.59,48.7 356.66,60.3 356.74,48.9 356.82,55.7 356.9,49.1 356.98,37.1 357.06,48.7 357.14,55.1 357.21,50.2 357.29,54.8 357.37,49.5 357.45,55.2 357.53,48.8 357.61,55.5 357.68,49.5 357.76,60.2 357.84,49 357.92,55.5 358,49.7 358.08,55.1 358.15,48.7 358.23,54.8 358.31,48.2 358.39,55.7 358.47,49.3 358.55,54.6 358.63,49.3 358.7,63.1 358.78,48.7 358.86,55.4 358.94,50.1 359.02,55.8 359.1,50 359.17,55.6 359.25,49.7 359.33,60.2 359.41,49.9 359.49,55 359.57,49.4 359.65,55.4 359.72,49.6 359.8,46.8 359.88,49.5 359.96,55.7 360.04,48.7 360.12,55.9 360.19,48.7 360.27,55.5 360.35,49.3 360.43,54.8 360.51,48.9 360.59,54.5 360.67,60.8 360.74,54.5 360.82,49.6 360.9,55.7 360.98,48.9 361.06,55.6 361.14,48.9 361.21,54.4 361.29,45.6 361.37,60.8 361.45,48.8 361.53,55 361.61,40.5 361.69,55 361.76,24 361.84,36.7 361.92,49.1 362,55.8 362.08,49.3 362.16,28.9 362.23,39.4 362.31,55.4 362.39,89 362.47,94.9 362.55,89.5 362.63,94.8 362.71,88.4 362.78,95.5 362.86,88.3 362.94,95.5 363.02,88.5 363.1,95.5 363.18,89.1 363.25,95.5 363.33,86.6 363.41,94 363.49,99.9 363.57,95 363.65,88 363.73,94 363.8,88.9 363.88,95.7 363.96,87.8 364.04,95 364.12,88.9 364.2,100.8 364.27,85.1 364.35,95.2 364.43,88.3 364.51,95.4 364.59,88.5 364.67,95.2 364.74,86.3 364.82,94.9 364.9,88.8 364.98,95.6 365.06,87.8 365.14,99.8 365.22,88.8 365.29,94.4 365.37,87.8 365.45,94 365.53,89.2 365.61,95.3 365.69,87.7 365.76,95.2 365.84,87.8 365.92,95.3 366,88.1 366.08,95.4 366.16,100.2 366.24,95.1 366.31,88.3 366.39,94.9 366.47,88.5 366.55,95.6 366.63,89.2 366.71,94.9 366.78,87.8 366.86,95.6 366.94,89.1 367.02,80.4 367.1,88.3 367.18,101.8 367.26,87.9 367.33,93.9 367.41,88.2 367.49,94.6 367.57,88.5 367.65,94.4 367.73,88.2 367.8,95.4 367.88,87.9 367.96,100.6 368.04,86.3 368.12,95.3 368.2,88.8 368.28,94 368.35,81 368.43,95.6 368.51,88.8 368.59,94 368.67,89 368.75,95.6 368.82,87.9 368.9,95 368.98,87.8 369.06,95.3 369.14,88.2 369.22,94.5 369.3,88.4 369.37,100.9 369.45,88.1 369.53,95.2 369.61,82.9 369.69,94.3 369.77,88 369.84,95.4 369.92,99.6 370,94.9 370.08,89.3 370.16,95.5 370.24,89 370.32,85.3 370.39,89.1 370.47,95.5 370.55,88.5 370.63,94.6 370.71,88.4 370.79,94.4 370.86,88.7 370.94,94.8 371.02,89.4 371.1,95 371.18,89.5 371.26,93.9 371.34,101.4 371.41,95.2 371.49,89.1 371.57,84.8 371.65,89.2 371.73,94.8 371.81,89.3 371.88,94.9 371.96,89.3 372.04,95.1 372.12,80.6 372.2,100.2 372.28,87.8 372.35,95.4 372.43,89.1 372.51,94.1 372.59,88.3 372.67,94.6 372.75,88.3 372.83,95.3 372.9,89 372.98,95.5 373.06,100.4 373.14,94.4 373.22,88.1 373.3,87.2 373.37,88.1 373.45,95.2 373.53,87.9 373.61,95.3 373.69,89.2 373.77,95.1 373.85,78.6 373.92,87 374,80.4 374.08,87.6 374.16,37.1 374.24,87.4 374.32,50.9 374.39,79.7 374.47,59.3 374.55,86.4 374.63,65.9 374.71,86.4 374.79,69.9 374.87,86.9 374.94,74.6 375.02,86.5 375.1,76.2 375.18,86.6 375.26,78.3 375.34,88.1 375.41,76.1 375.49,87.5 375.57,80.2 375.65,88.1 375.73,80.7 375.81,87.9 375.89,80.2 375.96,94.3 376.04,80.8 376.12,86.4 376.2,78.3 376.28,87.5 376.36,80.4 376.43,87.7 376.51,81.9 376.59,86.9 376.67,80.8 376.75,86.9 376.83,83.9 376.91,87.5 376.98,80.3 377.06,86.5 377.14,80.9 377.22,77.7 377.3,80.3 377.38,87.5 377.45,80.5 377.53,88 377.61,82 377.69,88 377.77,92.2 377.85,26 377.93,81.9 378,44.1 378.08,80.3 378.16,52.7 378.24,80.6 378.32,63.2 378.4,80.6 378.47,68.9 378.55,80.4 378.63,71.9 378.71,80.2 378.79,75.6 378.87,80.9 378.95,77.9 379.02,80.4 379.1,79 379.18,81.4 379.26,80.2 379.34,80.3 379.42,81.2 379.49,81.4 379.57,82.1 379.65,92.1 379.73,82.7 379.81,80.4 379.89,79.5 379.96,82 380.04,83.3 380.12,81.2 380.2,83.5 380.28,81.4 380.36,83.7 380.44,81.5 380.51,83.8 380.59,80.8 380.67,83.9 380.75,93.3 380.83,84 380.91,80.5 380.98,84 381.06,80.2 381.14,87.6 381.22,76.3 381.3,87.4 381.38,80.3 381.46,87.7 381.53,25 381.61,87 381.69,40.2 381.77,87.8 381.85,54.6 381.93,87.6 382,61.1 382.08,78.5 382.16,68.5 382.24,86.6 382.32,71.8 382.4,87.1 382.48,74.9 382.55,87.6 382.63,76.9 382.71,86.9 382.79,78.9 382.87,87.8 382.95,80.2 383.02,87.1 383.1,79.8 383.18,87.7 383.26,80.6 383.34,87.9 383.42,79.8 383.5,87.8 383.57,83 383.65,87.6 383.73,80.7 383.81,86.8 383.89,81 383.97,86.9 384.04,81.8 384.12,87.1 384.2,80.9 384.28,88.1 384.36,80.2 384.44,86.9 384.52,78.8 384.59,87.3 384.67,80.3 384.75,95.2 384.83,81.3 384.91,87.8 384.99,81.4 385.06,87.4 385.14,80.6 385.22,17.7 385.3,81.9 385.38,39.7 385.46,81.6 385.54,52.3 385.61,80.3 385.69,60 385.77,94.7 385.85,64.7 385.93,80.3 386.01,70.6 386.08,80.9 386.16,74.1 386.24,94.7 386.32,77 386.4,80.2 386.48,78.5 386.55,80.3 386.63,80.1 386.71,80.4 386.79,81.1 386.87,80.2 386.95,81.6 387.03,80.2 387.1,82.4 387.18,79.6 387.26,82.9 387.34,93.9 387.42,83.2 387.5,80.4 387.57,83.4 387.65,80.9 387.73,83.6 387.81,81.6 387.89,83.8 387.97,81.8 388.05,80.2 388.12,81.4 388.2,83.9 388.28,81.7 388.36,84 388.44,81.3 388.52,87.7 388.59,81.6 388.67,87 388.75,80.6 388.83,16.1 388.91,81.1 388.99,34.7 389.07,81.3 389.14,47.2 389.22,80.3 389.3,57.2 389.38,80.9 389.46,65.2 389.54,75.6 389.61,69.3 389.69,92.8 389.77,73 389.85,81.6 389.93,76.1 390.01,81.1 390.09,77.9 390.16,81 390.24,79.7 390.32,81.9 390.4,78.9 390.48,81.3 390.56,81.7 390.63,93.6 390.71,82.4 390.79,80.2 390.87,82.8 390.95,80.8 391.03,83.1 391.11,80.6 391.18,83.4 391.26,81 391.34,83.6 391.42,81.7 391.5,83.8 391.58,80 391.65,83.9 391.73,80.5 391.81,83.9 391.89,81.9 391.97,84 392.05,81.4 392.13,88 392.2,92.7 392.28,87.6 392.36,81.1 392.44,87 392.52,25.6 392.6,87.9 392.67,46.8 392.75,87 392.83,54 392.91,87.1 392.99,61.4 393.07,86.5 393.15,68.7 393.22,86.9 393.3,71.8 393.38,86.7 393.46,75.2 393.54,77.2 393.62,77.6 393.69,87.9 393.77,79.5 393.85,87.1 393.93,80.5 394.01,87.6 394.09,81.2 394.16,87.2 394.24,82.2 394.32,88 394.4,80.9 394.48,88.1 394.56,80.3 394.64,87 394.71,81.1 394.79,87.7 394.87,80.8 394.95,86.9 395.03,80.2 395.11,87.4 395.18,80.8 395.26,79 395.34,81.1 395.42,86.8 395.5,80.8 395.58,94 395.66,81.6 395.73,86.6 395.81,81.9 395.89,87.2 395.97,81.3 396.05,87.4 396.13,79.1 396.2,23.7 396.28,81.9 396.36,39.7 396.44,82 396.52,51.7 396.6,80.6 396.68,60.9 396.75,80.3 396.83,65.9 396.91,80.5 396.99,70.8 397.07,80.4 397.15,75.3 397.22,81.3 397.3,76.8 397.38,77.6 397.46,79.3 397.54,79.7 397.62,80.5 397.7,80.7 397.77,81.2 397.85,80.4 397.93,82.1 398.01,80.4 398.09,82.5 398.17,92.9 398.24,83 398.32,81.4 398.4,83.3 398.48,81.3 398.56,83.5 398.64,80.5 398.72,83.6 398.79,80.6 398.87,83.8 398.95,80.7 399.03,83.9 399.11,79.9 399.19,84 399.26,81 399.34,84 399.42,80.6 399.5,88 399.58,80.2 399.66,87.2 399.74,80.8 399.81,88.1 399.89,23 399.97,87.8 400.05,38.8 400.13,87.6 400.21,51.7 400.28,86.7 400.36,59.8 400.44,87.9 400.52,66.8 400.6,87.3 400.68,71.1 400.76,87.5 400.83,75.3 400.91,86.7 400.99,76.5 401.07,76.5 401.15,78.9 401.23,86.4 401.3,80.2 401.38,87.9 401.46,81.2 401.54,86.6 401.62,80.4 401.7,87.7 401.77,80.2 401.85,79 401.93,81.4 402.01,92.1 402.09,81.3 402.17,87.8 402.25,80.3 402.32,86.9 402.4,80.4 402.48,86.6 402.56,81.1 402.64,87.5 402.72,80.2 402.79,87.6 402.87,78.3 402.95,86.9 403.03,81.4 403.11,87.1 403.19,81.3 403.27,95.2 403.34,72.8 403.42,86.9 403.5,80.4 403.58,28.3 403.66,81.6 403.74,45.3 403.81,80.7 403.89,55 403.97,80.8 404.05,63.4 404.13,92.5 404.21,68.7 404.29,80.6 404.36,71.6 404.44,81.2 404.52,75.7 404.6,80.3 404.68,77.7 404.76,80.9 404.83,79.3 404.91,81.3 404.99,80.4 405.07,81.2 405.15,81.3 405.23,80.7 405.31,82.1 405.38,80.5 405.46,82.6 405.54,81.2 405.62,83.4 405.7,82.2 405.78,85 405.85,82.9 405.93,86.6 406.01,83.8 406.09,87.3 406.17,83.7 406.25,87.5 406.33,84.6 406.4,87.5 406.48,83.9 406.56,87.6 406.64,83.8 406.72,87.6 406.8,85.2 406.87,91.2 406.95,85 407.03,83.3 407.11,98.5 407.19,45 407.27,84 407.35,60.6 407.42,83.9 407.5,64.2 407.58,82 407.66,72.3 407.74,83.9 407.82,75.6 407.89,83.9 407.97,78.9 408.05,97.8 408.13,81.6 408.21,83.8 408.29,83.2 408.36,84.5 408.44,83.8 408.52,84.3 408.6,84.9 408.68,84.1 408.76,85.6 408.84,83.8 408.91,84.2 408.99,91.2 409.07,80.9 409.15,90.9 409.23,84.1 409.31,91.2 409.38,84.4 409.46,91.2 409.54,84.4 409.62,90.8 409.7,83.8 409.78,91.5 409.86,96.9 409.93,83.4 410.01,83.8 410.09,91.5 410.17,85 410.25,91.4 410.33,85.3 410.4,91 410.48,85 410.56,91 410.64,76.5 410.72,90.8 410.8,98.3 410.88,91 410.95,84 411.03,91.7 411.11,84 411.19,91.5 411.27,84.1 411.35,91.7 411.42,84 411.5,91.6 411.58,82.7 411.66,91.7 411.74,83.9 411.82,95.9 411.9,85.6 411.97,90.1 412.05,85.4 412.13,91.5 412.21,84.7 412.29,82.3 412.37,84.5 412.44,91.5 412.52,84.1 412.6,91.7 412.68,84 412.76,91.4 412.84,84 412.92,97.5 412.99,84.2 413.07,90.5 413.15,84.6 413.23,91.6 413.31,83.6 413.39,90.9 413.46,84.5 413.54,91.6 413.62,84 413.7,90.3 413.78,85.1 413.86,96.4 413.94,85.4 414.01,82.4 414.09,85.2 414.17,91.5 414.25,84.1 414.33,90.9 414.41,85.4 414.48,91.6 414.56,84 414.64,90.7 414.72,84.2 414.8,91.6 414.88,96.2 414.96,91.3 415.03,85.5 415.11,90.2 415.19,84 415.27,91.7 415.35,85.1 415.43,91.7 415.5,85.1 415.58,96.5 415.66,85.6 415.74,91.3 415.82,84.8 415.9,90.8 415.97,83.8 416.05,91.5 416.13,84.1 416.21,91.4 416.29,84.5 416.37,82.6 416.45,84 416.52,91.7 416.6,83.8 416.68,98 416.76,84.9 416.84,91.7 416.92,85 416.99,91.3 417.07,84 417.15,90.1 417.23,84.1 417.31,91.5 417.39,85.3 417.47,90.2 417.54,95.8 417.62,90.1 417.7,85.1 417.78,90.2 417.86,83.1 417.94,91 418.01,85 418.09,90.8 418.17,84.5 418.25,91.7 418.33,82.7 418.41,91.7 418.49,84.2 418.56,96.7 418.64,84.8 418.72,90.7 418.8,84.7 418.88,90 418.96,85.2 419.03,91.5 419.11,85 419.19,91 419.27,84 419.35,90.5 419.43,84.5 419.51,93.9 419.58,107.1 419.66,94.4 419.74,101.6 419.82,94.5 419.9,101.3 419.98,94.7 420.05,101.5 420.13,94 420.21,100.6 420.29,95.1 420.37,101.4 420.45,95 420.53,108 420.6,94.2 420.68,101.5 420.76,92.7 420.84,100.8 420.92,94.4 421,100.8 421.07,93.7 421.15,100.4 421.23,105.6 421.31,90.5 421.39,93.7 421.47,100.5 421.55,95.4 421.62,101.5 421.7,93.8 421.78,101.3 421.86,95 421.94,100.8 422.02,93.8 422.09,101.6 422.17,106.4 422.25,101.4 422.33,90.1 422.41,100.9 422.49,94.8 422.57,100.2 422.64,94 422.72,101.6 422.8,95.1 422.88,92.8 422.96,94.2 423.04,101 423.11,94.4 423.19,100.8 423.27,95.1 423.35,106.3 423.43,93.9 423.51,101.4 423.58,93.6 423.66,101.1 423.74,95.4 423.82,99.9 423.9,94.7 423.98,101.3 424.06,94.7 424.13,108.2 424.21,94.6 424.29,100.1 424.37,95.2 424.45,100.1 424.53,93.8 424.6,101 424.68,93.8 424.76,92.3 424.84,95.3 424.92,100 425,94.6 425.08,108.1 425.15,94.1 425.23,100.9 425.31,93.7 425.39,100.2 425.47,93.9 425.55,90.8 425.62,93.8 425.7,101 425.78,95.2 425.86,101.2 425.94,93.7 426.02,100.9 426.1,94.4 426.17,100.2 426.25,94.5 426.33,101.4 426.41,93.8 426.49,107.3 426.57,94.5 426.64,99.9 426.72,95.3 426.8,100.8 426.88,94.7 426.96,100.4 427.04,107.8 427.12,101 427.19,93.2 427.27,101.6 427.35,93.8 427.43,99.9 427.51,95.3 427.59,101.3 427.66,94.5 427.74,100.5 427.82,94.3 427.9,100.4 427.98,94.3 428.06,100.5 428.14,94.3 428.21,108 428.29,93.8 428.37,101.5 428.45,94.9 428.53,100.2 428.61,93.9 428.68,100.2 428.76,91.6 428.84,101.4 428.92,94.4 429,87.6 429.08,94.2 429.16,100.2 429.23,94.8 429.31,100.5 429.39,95.1 429.47,100.1 429.55,107.6 429.63,101.2 429.7,94.9 429.78,100 429.86,95.1 429.94,100.8 430.02,93.9 430.1,100.1 430.17,95.3 430.25,108.5 430.33,93.8 430.41,92.5 430.49,94.3 430.57,100.9 430.65,93.8 430.72,100.4 430.8,94 430.88,100.9 430.96,95 431.04,101.6 431.12,95.4 431.19,107.5 431.27,94.9 431.35,92.9 431.43,93.8 431.51,101.6 431.59,94.9 431.67,100.2 431.74,94.6 431.82,101 431.9,106.6 431.98,101.2 432.06,95.1 432.14,99.9 432.21,94.6 432.29,101.1 432.37,93.7 432.45,90 432.53,93.7 432.61,100.8 432.69,94.6 432.76,100.8 432.84,95.2 432.92,101.4 433,92.9 433.08,100.7 433.16,93.8 433.23,101.4 433.31,107.2 433.39,101.5 433.47,93.7 433.55,100.2 433.63,93.7 433.71,101.4 433.78,94.1 433.86,101.5 433.94,89.1 434.02,101 434.1,95.4 434.18,100.6 434.25,107.7 434.33,101 434.41,95.4 434.49,100.9 434.57,93.7 434.65,100 434.73,94.3 434.8,101.5 434.88,92.7 434.96,100.6 435.04,93.8 435.12,100.6 435.2,94.3 435.27,101.5 435.35,105.9 435.43,99.9 435.51,94.1 435.59,101.3 435.67,95 435.75,93.5 435.82,106.1 435.9,99.9 435.98,94.9 436.06,101.2 436.14,94 436.22,101.2 436.29,94.5 436.37,101.6 436.45,93.4 436.53,101 436.61,94.2 436.69,100.8 436.77,94 436.84,108.4 436.92,93.8 437,101.5 437.08,91.6 437.16,99.9 437.24,94.8 437.31,101.6 437.39,65.1 437.47,79.7 437.55,93.9 437.63,101 437.71,95.1 437.78,100 437.86,103.1 437.94,110.3 438.02,102.9 438.1,109.3 438.18,103.1 438.26,109.8 438.33,104.4 438.41,109.7 438.49,102.9 438.57,95.5 438.65,116.3 438.73,110.2 438.8,104.1 438.88,110.3 438.96,104.2 439.04,110.3 439.12,102.9 439.2,110.8 439.28,104.5 439.35,102.5 439.43,103.9 439.51,109.2 439.59,102.9 439.67,110.6 439.75,103.4 439.82,109.5 439.9,115.2 439.98,109.9 440.06,102.9 440.14,109.8 440.22,104.1 440.3,110.5 440.37,104.6 440.45,110.8 440.53,104 440.61,109.7 440.69,103.1 440.77,109.8 440.84,103 440.92,115.3 441,103.9 441.08,110.7 441.16,103.2 441.24,110.7 441.32,104 441.39,101.1 441.47,104 441.55,109.1 441.63,102.9 441.71,109.3 441.79,104.3 441.86,115.9 441.94,104 442.02,110.8 442.1,103.5 442.18,110.6 442.26,103.1 442.34,110.2 442.41,103.5 442.49,110.7 442.57,102.9 442.65,110 442.73,104.2 442.81,116.9 442.88,103.2 442.96,109.5 443.04,103.1 443.12,89.7 443.2,97.4 443.28,110.6 443.36,103.8 443.43,109.9 443.51,103.2 443.59,109.7 443.67,103.1 443.75,110.5 443.83,102.9 443.9,110.1 443.98,115.5 444.06,110.7 444.14,103 444.22,99.2 444.3,103.2 444.38,110.2 444.45,103.1 444.53,109.9 444.61,115.1 444.69,110.6 444.77,103.6 444.85,109.4 444.92,95.5 445,109.9 445.08,103.7 445.16,109.7 445.24,104.1 445.32,110.8 445.39,104.4 445.47,117.4 445.55,103.2 445.63,110.2 445.71,103.5 445.79,110.2 445.87,103.9 445.94,110.1 446.02,103.4 446.1,101.6 446.18,104.6 446.26,110.6 446.34,103 446.41,115.6 446.49,104.1 446.57,109.8 446.65,104.1 446.73,109.7 446.81,103.2 446.89,109.2 446.96,102.9 447.04,110.2 447.12,103.1 447.2,99.8 447.28,103 447.36,109.3 447.43,115 447.51,110.5 447.59,101.1 447.67,109.7 447.75,103.5 447.83,110.5 447.91,104.6 447.98,109.6 448.06,94.4 448.14,100.4 448.22,94.5 448.3,100.5 448.38,93.7 448.45,100.1 448.53,91.1 448.61,100.1 448.69,105.7 448.77,99.5 448.85,94.4 448.93,100.5 449,93.4 449.08,101.1 449.16,94 449.24,99.7 449.32,93.7 449.4,100.5 449.47,94.3 449.55,99.7 449.63,94.6 449.71,100.6 449.79,93.6 449.87,106.9 449.95,93.6 450.02,93.2 450.1,94.6 450.18,100 450.26,93.4 450.34,88.6 450.42,93.6 450.49,100.4 450.57,94.7 450.65,101 450.73,94.3 450.81,100.3 450.89,94.1 450.97,101.2 451.04,106.4 451.12,100.6 451.2,93.6 451.28,101.2 451.36,93.6 451.44,100.9 451.51,90.2 451.59,101.2 451.67,94 451.75,106.2 451.83,94.1 451.91,99.7 451.98,93.7 452.06,100.2 452.14,74.8 452.22,82.5 452.3,75.9 452.38,74.2 452.46,75.9 452.53,82 452.61,75.2 452.69,70.8 452.77,75.3 452.85,82.5 452.93,58.5 453,67.5 453.08,75.4 453.16,89.1 453.24,75.1 453.32,81.4 453.4,75.3 453.48,82.4 453.55,74.8 453.63,82 453.71,75.1 453.79,80.9 453.87,74.7 453.95,74.6 454.02,87.2 454.1,81 454.18,74.7 454.26,81.7 454.34,67.3 454.42,81.1 454.5,74.7 454.57,81.5 454.65,75.6 454.73,82.4 454.81,87.1 454.89,81 454.97,76.1 455.04,82.4 455.12,75 455.2,81.7 455.28,74 455.36,81.9 455.44,75.9 455.52,81.6 455.59,74.8 455.67,81.5 455.75,76 455.83,81.8 455.91,75.8 455.99,80.9 456.06,75 456.14,82.2 456.22,49.5 456.3,55.2 456.38,48.5 456.46,54.6 456.54,48.6 456.61,55.2 456.69,48.6 456.77,55.5 456.85,49.3 456.93,55.5 457.01,60.2 457.08,55.1 457.16,49.3 457.24,55.3 457.32,49 457.4,44 457.48,49.3 457.56,54.9 457.63,48.4 457.71,55.5 457.79,37.1 457.87,43.8 457.95,49.6 458.03,54.8 458.1,49 458.18,54 458.26,59.8 458.34,54 458.42,49 458.5,55.6 458.58,49.5 458.65,55.5 458.73,48.5 458.81,47.4 458.89,62.4 458.97,54.7 459.05,48.5 459.12,55.2 459.2,48.9 459.28,54.5 459.36,48.3 459.44,54.7 459.52,48.9 459.59,47.1 459.67,48.9 459.75,55.5 459.83,49.9 459.91,54.2 459.99,48.3 460.07,54.8 460.14,60.2 460.22,54.9 460.3,48.7 460.38,55.5 460.46,49.7 460.54,54.4 460.61,48.7 460.69,54.8 460.77,48.4 460.85,61.8 460.93,48.5 461.01,55.5 461.09,49.8 461.16,54.7 461.24,48.5 461.32,55.5 461.4,46.7 461.48,55.5 461.56,49.1 461.63,55.4 461.71,49.8 461.79,60.9 461.87,49.3 461.95,54.7 462.03,48.5 462.11,54.4 462.18,48.3 462.26,55.4 462.34,49.6 462.42,54.4 462.5,49.7 462.58,54.9 462.65,40.4 462.73,55.2 462.81,48.7 462.89,54.2 462.97,49.4 463.05,55.5 463.13,61.1 463.2,54 463.28,48.5 463.36,54.2 463.44,48.8 463.52,54.9 463.6,48.6 463.67,38.5 463.75,49.7 463.83,61 463.91,49.4 463.99,55.3 464.07,49.4 464.15,55.2 464.22,48.3 464.3,55.3 464.38,49.6 464.46,55.4 464.54,49.7 464.62,54.6 464.69,49.4 464.77,62.4 464.85,48.3 464.93,55.4 465.01,47.3 465.09,54.5 465.17,48.8 465.24,55.3 465.32,48.7 465.4,55.5 465.48,48.5 465.56,54.4 465.64,49.6 465.71,55.5 465.79,60.1 465.87,54 465.95,36.7 466.03,54.9 466.11,48.5 466.19,54.5 466.26,48.7 466.34,55.2 466.42,49.2 466.5,54.7 466.58,49.3 466.66,53.9 466.73,49.3 466.81,54.7 466.89,62.6 466.97,55 467.05,49 467.13,54.6 467.2,49.3 467.28,54.5 467.36,46.7 467.44,55.4 467.52,48.5 467.6,48.2 467.68,48.6 467.75,55.2 467.83,49.7 467.91,55 467.99,61 468.07,55.5 468.15,48.7 468.22,54.4 468.3,49 468.38,55 468.46,48.4 468.54,55 468.62,48.4 468.7,44.6 468.77,49 468.85,55.4 468.93,48.5 469.01,59.9 469.09,49.5 469.17,47.5 469.24,49.1 469.32,55.5 469.4,48.7 469.48,55.4 469.56,48.5 469.64,54.3 469.72,48.9 469.79,60.5 469.87,49.1 469.95,53.9 470.03,48.7 470.11,55.4 470.19,49.8 470.26,55.6 470.34,48.5 470.42,55 470.5,48.6 470.58,54.7 470.66,59.8 470.74,54.6 470.81,49.5 470.89,47.4 470.97,48.3 471.05,55.1 471.13,49.1 471.21,44.8 471.28,49.2 471.36,55.3 471.44,48.5 471.52,54.8 471.6,60.2 471.68,54.8 471.76,48.9 471.83,54.8 471.91,48.7 471.99,55.2 472.07,48.7 472.15,54.5 472.23,49.1 472.3,55 472.38,49.3 472.46,54.5 472.54,60.9 472.62,54 472.7,46.7 472.78,54.3 472.85,48.8 472.93,54.9 473.01,48.7 473.09,47.9 473.17,49.3 473.25,55.4 473.32,49.4 473.4,54.8 473.48,62.7 473.56,55.4 473.64,48.4 473.72,54.3 473.79,49.4 473.87,54.8 473.95,48.6 474.03,55.5 474.11,49.5 474.19,55.5 474.27,49.7 474.34,55.3 474.42,48.3 474.5,45.1 474.58,48.9 474.66,55.2 474.74,49.4 474.81,54.6 474.89,49.6 474.97,60.4 475.05,48.7 475.13,46.9 475.21,48.8 475.29,54.7 475.36,49.3 475.44,54.5 475.52,48.4 475.6,48.3 475.68,49.7 475.76,54.5 475.83,48.6 475.91,55 475.99,61.2 476.07,55.1 476.15,49.9 476.23,54.7 476.31,48.7 476.38,54.6 476.46,48.7 476.54,55.1 476.62,46.7 476.7,62.8 476.78,48.7 476.85,54.5 476.93,49.9 477.01,55.1 477.09,48.5 477.17,55.5 477.25,49.8 477.33,54.8 477.4,48.9 477.48,54.1 477.56,49.2 477.64,54.8 477.72,49.6 477.8,47.7 477.87,48.4 477.95,60.3 478.03,49.6 478.11,54.6 478.19,49.8 478.27,55.3 478.35,48.4 478.42,55.4 478.5,49.3 478.58,61.4 478.66,49.4 478.74,54.1 478.82,32.2 478.89,41.1 478.97,49.1 479.05,88 479.13,101.3 479.21,87.9 479.29,87.8 479.37,89.7 479.44,96.3 479.52,89.6 479.6,95.9 479.68,86.7 479.76,96.1 479.84,89.4 479.91,95.2 479.99,87.8 480.07,96 480.15,102.7 480.23,94.8 480.31,87.9 480.39,96.3 480.46,87.9 480.54,95.2 480.62,88.9 480.7,95.3 480.78,89.6 480.86,95.3 480.93,86.4 481.01,96.3 481.09,89.7 481.17,102.5 481.25,88.5 481.33,95.8 481.4,88.5 481.48,96.3 481.56,87.8 481.64,94.8 481.72,87.4 481.8,95.3 481.88,88.5 481.95,96.1 482.03,88.2 482.11,94.9 482.19,101.7 482.27,95 482.35,88 482.42,95.6 482.5,88.5 482.58,96 482.66,100 482.74,96.1 482.82,88.9 482.9,95.1 482.97,88 483.05,96.3 483.13,89.7 483.21,96.3 483.29,85.6 483.37,94.5 483.44,89.2 483.52,94.7 483.6,87.8 483.68,95.7 483.76,102.7 483.84,96.3 483.92,89.4 483.99,94.6 484.07,88.2" stroke="url(#g1)" class="l"/><text class="t" transform="translate(280.8 130) scale(1 1.07)" text-anchor="middle">245</text><text class="t" transform="translate(321.58 130) scale(1 1.07)" text-anchor="middle">246</text><text class="t" transform="translate(362.36 130) scale(1 1.07)" text-anchor="middle">247</text><text class="t" transform="translate(403.14 130) scale(1 1.07)" text-anchor="middle">248</text><text class="t" transform="translate(443.92 130) scale(1 1.07)" text-anchor="middle">249</text><text class="t" transform="translate(484.7 130) scale(1 1.07)" text-anchor="middle">250</text><text class="t" transform="translate(267.8 103) scale(1 1.07)" text-anchor="end">0.3</text><text class="t" transform="translate(267.8 70.12) scale(1 1.07)" text-anchor="end">0.4</text><text class="t" transform="translate(267.8 37.25) scale(1 1.07)" text-anchor="end">0.5</text><text class="a" transform="translate(383 137.7) scale(1 1.07)" text-anchor="middle">Time(s)</text><text class="v" transform="translate(256.79 66.85) rotate(-90) scale(1.025 1)" text-anchor="middle">Current(A)</text><text class="h" transform="translate(384.6 9.2) scale(1 1.07)" text-anchor="middle">Raspberry Pi: Hydra T1 IKE</text></g>
<g><rect x="24.5" y="147" width="223.9" height="111.4" fill="#EBEBEB"/><path d="M55.29 147V258.4M95.96 147V258.4M136.62 147V258.4M177.3 147V258.4M217.97 147V258.4M24.5 227.15H248.4M24.5 189.65H248.4M24.5 152.15H248.4" stroke="#fff" stroke-opacity=".9" stroke-width=".38" fill="none"/><path d="M34.95 147V258.4M75.62 147V258.4M116.29 147V258.4M156.96 147V258.4M197.63 147V258.4M238.3 147V258.4M24.5 245.9H248.4M24.5 208.4H248.4M24.5 170.9H248.4" stroke="#fff" stroke-width=".7" fill="none"/><path d="M34.95 258.4v2M75.62 258.4v2M116.29 258.4v2M156.96 258.4v2M197.63 258.4v2M238.3 258.4v2M24.5 245.9h-2M24.5 208.4h-2M24.5 170.9h-2" stroke="#333" stroke-width=".55" fill="none"/><polyline points="34.95,240.5 35.03,249.7 35.11,244.1 35.18,247.5 35.26,242.2 35.34,245.4 35.42,241.4 35.5,245 35.58,240.5 35.65,242.9 35.73,238.9 35.81,242.6 35.89,238.6 35.97,243.4 36.05,240 36.12,250.7 36.2,240.8 36.28,245.9 36.36,242.5 36.44,246.9 36.51,243.1 36.59,247.5 36.67,244.6 36.75,248.1 36.83,244.3 36.91,250.3 36.98,243.7 37.06,248 37.14,244.7 37.22,248.5 37.3,243.8 37.38,248.1 37.45,244.3 37.53,248.1 37.61,244.1 37.69,248.5 37.77,244.3 37.84,248.3 37.92,243.7 38,247.5 38.08,244.2 38.16,248.2 38.24,244.3 38.31,251.1 38.39,243.7 38.47,248 38.55,244.4 38.63,247.7 38.71,243.7 38.78,246.7 38.86,241.8 38.94,245.6 39.02,241.3 39.1,245.1 39.18,240.3 39.25,243.7 39.33,239.2 39.41,251.7 39.49,239.3 39.57,244.1 39.64,241.4 39.72,244.7 39.8,241.7 39.88,246.2 39.96,242.9 40.04,246.5 40.11,243.6 40.19,248.2 40.27,244.4 40.35,248.5 40.43,243.8 40.51,247.9 40.58,244 40.66,248.2 40.74,243.8 40.82,249.8 40.9,243.9 40.97,247.7 41.05,244.5 41.13,248.5 41.21,244.1 41.29,248.3 41.37,243.9 41.44,247.4 41.52,244.4 41.6,248.1 41.68,244 41.76,247.6 41.84,243.9 41.91,247.8 41.99,244.3 42.07,250.5 42.15,244 42.23,247.7 42.3,243.9 42.38,247.2 42.46,242.6 42.54,245.6 42.62,240.8 42.7,244.2 42.77,239.3 42.85,242.8 42.93,238.6 43.01,253.1 43.09,239.6 43.17,243.2 43.24,239.6 43.32,243.5 43.4,241 43.48,245.6 43.56,242.1 43.63,246.8 43.71,241.5 43.79,247.7 43.87,244.4 43.95,248.3 44.03,243.8 44.1,248.3 44.18,250.8 44.26,247.6 44.34,244 44.42,248.4 44.5,244.1 44.57,248.4 44.65,244.2 44.73,248.3 44.81,244.7 44.89,248.2 44.96,244.1 45.04,248 45.12,243.9 45.2,240.3 45.28,243.7 45.36,250.4 45.43,243.8 45.51,248.5 45.59,243.7 45.67,247.8 45.75,244.5 45.83,247.4 45.9,243 45.98,251.8 46.06,241.5 46.14,245.3 46.22,240 46.3,244.1 46.37,238.8 46.45,242.1 46.53,238.4 46.61,242.6 46.69,238.1 46.76,242.4 46.84,239.1 46.92,244.6 47,240.6 47.08,245.5 47.16,243 47.23,247.5 47.31,243.8 47.39,252.7 47.47,244.1 47.55,241 47.63,244.3 47.7,248.2 47.78,244.6 47.86,247.4 47.94,244.2 48.02,248.5 48.09,243.8 48.17,248 48.25,244.5 48.33,252 48.41,243.9 48.49,248 48.56,244.5 48.64,248.4 48.72,244.2 48.8,248 48.88,244 48.96,248.3 49.03,244.7 49.11,247.7 49.19,243.7 49.27,248.5 49.35,243.7 49.42,247.8 49.5,242.9 49.58,246.9 49.66,242.2 49.74,249.7 49.82,241 49.89,243.6 49.97,239.3 50.05,243.2 50.13,239.3 50.21,242.9 50.29,239.3 50.36,243.3 50.44,240.8 50.52,244.3 50.6,241.2 50.68,246.6 50.75,242.5 50.83,252.5 50.91,243.5 50.99,247.8 51.07,244.2 51.15,247.4 51.22,243.7 51.3,247.7 51.38,243.7 51.46,248 51.54,244.1 51.62,248.4 51.69,243.8 51.77,248.3 51.85,244 51.93,248.5 52.01,243.6 52.08,248.5 52.16,244 52.24,248.1 52.32,251.6 52.4,248.1 52.48,244.1 52.55,248.1 52.63,243.7 52.71,248.4 52.79,243.8 52.87,247.4 52.95,241 53.02,247.4 53.1,242.9 53.18,246.7 53.26,241.9 53.34,252.9 53.42,240.4 53.49,244.5 53.57,240 53.65,243.2 53.73,239.8 53.81,243.6 53.88,239.6 53.96,243.8 54.04,240.6 54.12,244.7 54.2,241.4 54.28,246.2 54.35,242.6 54.43,247.5 54.51,241.3 54.59,251.1 54.67,244.4 54.75,248.5 54.82,243.7 54.9,247.5 54.98,244 55.06,248.2 55.14,251.7 55.21,248.1 55.29,244.2 55.37,247.6 55.45,243.9 55.53,248.5 55.61,244.4 55.68,248.3 55.76,244.3 55.84,247.7 55.92,244.7 56,248.4 56.08,243.8 56.15,248.3 56.23,244.5 56.31,249.8 56.39,244 56.47,247.7 56.54,243.5 56.62,241.8 56.7,242.6 56.78,246.5 56.86,241.5 56.94,245.4 57.01,240.5 57.09,244.1 57.17,239.5 57.25,243.8 57.33,239.8 57.41,243.1 57.48,239.9 57.56,244.5 57.64,241.5 57.72,251.5 57.8,242.5 57.87,246.6 57.95,239.9 58.03,247.6 58.11,244 58.19,248.5 58.27,244 58.34,247.8 58.42,244.2 58.5,248.5 58.58,251.7 58.66,247.9 58.74,243.7 58.81,247.9 58.89,244.1 58.97,248.3 59.05,243.9 59.13,248.2 59.2,243.7 59.28,247.5 59.36,243.9 59.44,247.9 59.52,243.7 59.6,247.6 59.67,244.3 59.75,248.4 59.83,244.6 59.91,247.6 59.99,244 60.07,248.3 60.14,253.1 60.22,248 60.3,243.7 60.38,246 60.46,241.7 60.54,245 60.61,240.8 60.69,244.3 60.77,240.8 60.85,244.6 60.93,240 61,243.7 61.08,253.3 61.16,244.8 61.24,241.1 61.32,245.7 61.4,242.1 61.47,247.3 61.55,243.1 61.63,248.2 61.71,243.9 61.79,242.8 61.87,244.7 61.94,248.2 62.02,244.4 62.1,251.3 62.18,243.7 62.26,248.2 62.33,243.7 62.41,248.3 62.49,244.2 62.57,248.4 62.65,244.6 62.73,248 62.8,243.7 62.88,248.2 62.96,244.6 63.04,248.4 63.12,243.7 63.2,248.4 63.27,250.5 63.35,248.3 63.43,243.8 63.51,248.2 63.59,234.1 63.66,247.8 63.74,244.4 63.82,247.3 63.9,242.6 63.98,246.8 64.06,241.6 64.13,244.7 64.21,240.3 64.29,244.1 64.37,253.5 64.45,244 64.53,239.8 64.6,243.5 64.68,240.4 64.76,244.8 64.84,240.7 64.92,246 64.99,241.9 65.07,247.2 65.15,243.4 65.23,248 65.31,244.1 65.39,247.5 65.46,244.4 65.54,248.5 65.62,244.7 65.7,248.3 65.78,243.7 65.86,248.4 65.93,243.7 66.01,251.4 66.09,244 66.17,248.5 66.25,244.7 66.32,248.2 66.4,244.1 66.48,248.3 66.56,250.1 66.64,239.5 66.72,244 66.79,248.5 66.87,244.2 66.95,248.3 67.03,243.7 67.11,242.8 67.19,244.3 67.26,247.7 67.34,243 67.42,246.3 67.5,242 67.58,244.7 67.66,240.2 67.73,250.3 67.81,239.3 67.89,242.8 67.97,238.5 68.05,241.7 68.12,238.1 68.2,242.8 68.28,239 68.36,243.5 68.44,240.9 68.52,245.4 68.59,241.6 68.67,246.5 68.75,243.2 68.83,248.1 68.91,244.2 68.99,248.5 69.06,250.6 69.14,247.5 69.22,244.5 69.3,247.7 69.38,244 69.45,248.3 69.53,243.7 69.61,248.5 69.69,244.4 69.77,248.4 69.85,244.4 69.92,248.5 70,243.8 70.08,248.2 70.16,243.9 70.24,252.4 70.32,244.4 70.39,248.5 70.47,236.9 70.55,248.1 70.63,244.1 70.71,248.4 70.78,244.2 70.86,247.6 70.94,241 71.02,246.9 71.1,242.4 71.18,245.8 71.25,241 71.33,251.1 71.41,239.5 71.49,242.9 71.57,238.8 71.65,243.4 71.72,239.2 71.8,242.9 71.88,239.4 71.96,244.8 72.04,240.8 72.11,246 72.19,242.1 72.27,247.3 72.35,243.4 72.43,248.2 72.51,250.2 72.58,248.2 72.66,243.9 72.74,248.5 72.82,244.4 72.9,248 72.98,244.1 73.05,248.3 73.13,244.7 73.21,247.8 73.29,244.5 73.37,248.1 73.44,244.2 73.52,247.9 73.6,243.8 73.68,242 73.76,250 73.84,248.3 73.91,243.7 73.99,248.2 74.07,244.5 74.15,248.2 74.23,244.1 74.31,247.6 74.38,243.6 74.46,248.1 74.54,251.4 74.62,246.8 74.7,241.4 74.77,245 74.85,240 74.93,242.8 75.01,239.1 75.09,242.2 75.17,238.7 75.24,242.4 75.32,238.4 75.4,242.7 75.48,239.8 75.56,243.5 75.64,240.7 75.71,246 75.79,242.2 75.87,247.4 75.95,243.9 76.03,247.9 76.11,249.8 76.18,248 76.26,244.2 76.34,248.1 76.42,244.3 76.5,248.5 76.57,244.3 76.65,248.5 76.73,244.5 76.81,248.1 76.89,244.5 76.97,248.5 77.04,243.7 77.12,249.8 77.2,243.7 77.28,248.3 77.36,244.4 77.44,242.5 77.51,243.7 77.59,248.5 77.67,244.2 77.75,248.4 77.83,243.8 77.9,248.5 77.98,243.8 78.06,247.3 78.14,251.7 78.22,246.9 78.3,241.3 78.37,244.5 78.45,240.4 78.53,244 78.61,239.2 78.69,242.4 78.77,239 78.84,242.6 78.92,238.6 79,243 79.08,240.1 79.16,244.3 79.23,241.3 79.31,243.6 79.39,243.1 79.47,250.7 79.55,243.4 79.63,247.9 79.7,243.8 79.78,248.3 79.86,243.8 79.94,248.3 80.02,243.9 80.1,247.9 80.17,244.2 80.25,248.4 80.33,244.2 80.41,247.8 80.49,244 80.56,248.5 80.64,244.4 80.72,252.7 80.8,237.2 80.88,248.4 80.96,244.4 81.03,248 81.11,243.7 81.19,248.3 81.27,243.7 81.35,247.6 81.43,253.2 81.5,248.4 81.58,243.8 81.66,247.4 81.74,243.2 81.82,243.6 81.89,242.4 81.97,245.2 82.05,240.4 82.13,243.9 82.21,239.8 82.29,243.6 82.36,239.7 82.44,243.1 82.52,239.8 82.6,253 82.68,240.6 82.76,244.8 82.83,242 82.91,246.5 82.99,243.1 83.07,247.6 83.15,244.4 83.23,247.5 83.3,243.9 83.38,248.5 83.46,243.7 83.54,248.4 83.62,243.9 83.69,247.9 83.77,244.2 83.85,248.2 83.93,244.6 84.01,253.2 84.09,243.9 84.16,247.7 84.24,244.3 84.32,248.1 84.4,244.3 84.48,248.5 84.56,244.3 84.63,248.1 84.71,244.5 84.79,243 84.87,243.9 84.95,252.6 85.02,243.8 85.1,247.9 85.18,244.4 85.26,247.5 85.34,243" stroke="url(#g2)" class="l"/><polyline points="86.67,236 86.75,228.7 86.82,235.8 86.9,241 86.98,233.6 87.06,240 87.14,230.7 87.22,237.7 87.29,230.4 87.37,238.3 87.45,230.7 87.53,238.5 87.61,231.8 87.68,232.5 87.76,234 87.84,221 87.92,235.9 88,228.7 88.08,235.1 88.15,232.9 88.23,237.1 88.31,235.7 88.39,236.4 88.47,236.8 88.55,235.8 88.62,237.8 88.7,236 88.78,238.4 88.86,236.2 88.94,238.7 89.01,236.5 89.09,238.9 89.17,235 89.25,239 89.33,233.6 89.41,239 89.48,235.2 89.56,239 89.64,234.6 89.72,239 89.8,234.4 89.88,240.7 89.95,210.8 90.03,239.5 90.11,221.9 90.19,238.3 90.27,229.5 90.35,235.5 90.42,227.7 90.5,236.1 90.58,228.7 90.66,236.6 90.74,229.8 90.81,239.4 90.89,231.9 90.97,241.1 91.05,233.5 91.13,241.4 91.21,234.3 91.28,242.9 91.36,238 91.44,242 91.52,234 91.6,242.7 91.68,235.1 91.75,231.5 91.83,233.7 91.91,241.5 91.99,233.7 92.07,225 92.14,235.1 92.22,230.2 92.3,233.5 92.38,233.5 92.46,232.3 92.54,235 92.61,233.9 92.69,236.1 92.77,235 92.85,236.6 92.93,232 93.01,237.1 93.08,229.6 93.16,236 93.24,226.1 93.32,233.4 93.4,224.8 93.47,232.4 93.55,225.1 93.63,232.8 93.71,227.4 93.79,236.1 93.87,229.8 93.94,218.4 94.02,232.3 94.1,240.5 94.18,211 94.26,240.3 94.34,222.6 94.41,241.4 94.49,228.2 94.57,240.6 94.65,231.3 94.73,240.3 94.8,232.7 94.88,241.4 94.96,232.6 95.04,240.1 95.12,235.5 95.2,240.3 95.27,233.2 95.35,225 95.43,232.6 95.51,240.7 95.59,233.7 95.67,240.6 95.74,232.1 95.82,240.3 95.9,231.5 95.98,239.6 96.06,229.9 96.13,236.8 96.21,228.2 96.29,221.3 96.37,225.5 96.45,228.3 96.53,225.5 96.6,231 96.68,226.5 96.76,232.9 96.84,227.7 96.92,233.7 97,229.1 97.07,234.5 97.15,231.2 97.23,234.9 97.31,232 97.39,235.1 97.47,231.5 97.54,235.1 97.62,231.7 97.7,218.8 97.78,241.8 97.86,235.1 97.93,232.4 98.01,235 98.09,231.9 98.17,234.9 98.25,231.7 98.33,239 98.4,206.7 98.48,238.3 98.56,218.5 98.64,238.3 98.72,225.3 98.8,237.1 98.87,228.7 98.95,215.5 99.03,228.2 99.11,235.3 99.19,225.5 99.26,232.5 99.34,232.6 99.42,230.6 99.5,221.4 99.58,229.7 99.66,223 99.73,230.7 99.81,223.5 99.89,232.6 99.97,227.4 100.05,235.3 100.13,229 100.2,236 100.28,228.9 100.36,236.2 100.44,229.2 100.52,214.5 100.59,228.7 100.67,222 100.75,228.7 100.83,226.1 100.91,229.2 100.99,228.9 101.06,229.5 101.14,230.3 101.22,229.4 101.3,219.5 101.38,226.8 101.46,211.3 101.53,221.7 101.61,205.6 101.69,215.1 101.77,197.6 101.85,207.4 101.92,192.5 102,201 102.08,184.3 102.16,193.2 102.24,178.9 102.32,186.9 102.39,172.4 102.47,171.7 102.55,181.9 102.63,186.8 102.71,184.7 102.79,164.7 102.86,176.5 102.94,158.8 103.02,172.8 103.1,158.1 103.18,169.7 103.25,157.8 103.33,164.7 103.41,154.3 103.49,169.3 103.57,157.8 103.65,170.8 103.72,163.6 103.8,170.3 103.88,162.9 103.96,178.8 104.04,182.9 104.12,179.5 104.19,171.3 104.27,181.7 104.35,167.6 104.43,181.4 104.51,173.7 104.59,182.1 104.66,169.8 104.74,182.7 104.82,166.1 104.9,185 104.98,167.9 105.05,182.7 105.13,165.6 105.21,178.7 105.29,166.9 105.37,175.7 105.45,162.9 105.52,174.3 105.6,161.1 105.68,172.4 105.76,159.9 105.84,167.9 105.92,190.7 105.99,168.7 106.07,154.9 106.15,162.3 106.23,165.2 106.31,164.1 106.38,154.6 106.46,169.4 106.54,155.3 106.62,174.6 106.7,162.7 106.78,179 106.85,164.7 106.93,181.3 107.01,166.5 107.09,182.2 107.17,168.3 107.25,171.5 107.32,166.4 107.4,183.9 107.48,165.4 107.56,184 107.64,166.4 107.71,184.1 107.79,165.8 107.87,178.3 107.95,169 108.03,181 108.11,171.7 108.18,174.5 108.26,168.4 108.34,184.6 108.42,174 108.5,184 108.58,173.8 108.65,185 108.73,164.8 108.81,182.5 108.89,164.7 108.97,176 109.04,162.5 109.12,174.6 109.2,158.2 109.28,172.2 109.36,158.2 109.44,172.1 109.51,156.7 109.59,173.1 109.67,193.3 109.75,176.2 109.83,161.4 109.91,182.5 109.98,165.4 110.06,178.3 110.14,165.4 110.22,184.8 110.3,167.2 110.37,182.1 110.45,170.9 110.53,181.1 110.61,170.8 110.69,186.6 110.77,176 110.84,187.3 110.92,168.8 111,189.6 111.08,171.5 111.16,187.7 111.24,173.2 111.31,191.1 111.39,173.8 111.47,191.6 111.55,176.7 111.63,188 111.71,176.8 111.78,197 111.86,173.9 111.94,187.3 112.02,166.2 112.1,177.9 112.17,163.7 112.25,169.5 112.33,158.9 112.41,171.8 112.49,158.3 112.57,173.3 112.64,161 112.72,176.8 112.8,163.1 112.88,183.8 112.96,170.8 113.04,186.5 113.11,169.2 113.19,187.1 113.27,174.7 113.35,162.6 113.43,171.5 113.5,184.2 113.58,172.2 113.66,176.2 113.74,174.9 113.82,189 113.9,178.2 113.97,189.6 114.05,172.6 114.13,187.6 114.21,173 114.29,189.2 114.37,169.6 114.44,190.8 114.52,173.7 114.6,189.9 114.68,172.4 114.76,183.8 114.83,173.2 114.91,197.6 114.99,165.5 115.07,182.2 115.15,161 115.23,172.4 115.3,160.4 115.38,170.1 115.46,154.1 115.54,166.1 115.62,156.4 115.7,170.3 115.77,157.4 115.85,168.7 115.93,174.2 116.01,187.5 116.09,179.8 116.16,191.8 116.24,183.8 116.32,195.8 116.4,190 116.48,200.4 116.56,195.4 116.63,205.5 116.71,197.6 116.79,209.5 116.87,203.5 116.95,215.7 117.03,207.9 117.1,220.6 117.18,212.4 117.26,224.5 117.34,218.4 117.42,229.8 117.49,221.2 117.57,233.4 117.65,225.2 117.73,234.7 117.81,226.3 117.89,234.9 117.96,228.5 118.04,238.8 118.12,229.1 118.2,240.6 118.28,230.4 118.36,242.5 118.43,232.8 118.51,242.5 118.59,234.2 118.67,246.1 118.75,236.7 118.83,247.7 118.9,238.3 118.98,249.5 119.06,240 119.14,244.2 119.22,247.5 119.29,244 119.37,247.8 119.45,242.8 119.53,246.7 119.61,241.7 119.69,245.3 119.76,241.5 119.84,244.2 119.92,240.6 120,244.4 120.08,240.6 120.16,244.5 120.23,240.5 120.31,253 120.39,241.8 120.47,245.6 120.55,242.3 120.62,247.5 120.7,243.8 120.78,247.7 120.86,244.5 120.94,248.3 121.02,244.6 121.09,247.9 121.17,244.6 121.25,248.3 121.33,244 121.41,248 121.49,244.1 121.56,248 121.64,249.9 121.72,248.5 121.8,243.7 121.88,247.7 121.95,243.7 122.03,247.7 122.11,244.6 122.19,248.5 122.27,243.8 122.35,248.1 122.42,244.5 122.5,248.1 122.58,243.7 122.66,248.5 122.74,250.4 122.82,248.1 122.89,244.3 122.97,247.4 123.05,242.9 123.13,245.7 123.21,241.4 123.28,245.4 123.36,240.1 123.44,238.3 123.52,240.1 123.6,243.8 123.68,239.6 123.75,250.7 123.83,240.3 123.91,244.5 123.99,241.2 124.07,245.4 124.15,242.1 124.22,247.1 124.3,243.8 124.38,248.3 124.46,244.4 124.54,252.2 124.61,243.9 124.69,248.1 124.77,244.5 124.85,248 124.93,244.1 125.01,239.2 125.08,243.9 125.16,248.1 125.24,243.9 125.32,248.2 125.4,244.5 125.48,248.5 125.55,244.7 125.63,247.8 125.71,243.7 125.79,248.4 125.87,243.9 125.95,251 126.02,243.8 126.1,247.9 126.18,243.9 126.26,248.3 126.34,244.1 126.41,247.5 126.49,243.6 126.57,247.5 126.65,242.4 126.73,246.3 126.81,240.8 126.88,251.6 126.96,239.7 127.04,243.9 127.12,239.1 127.2,243.6 127.28,239.8 127.35,243.5 127.43,239.7 127.51,244.3 127.59,240.8 127.67,246.3 127.74,242.8 127.82,247.4 127.9,243.2 127.98,248.2 128.06,244.1 128.14,247.8 128.21,244.4 128.29,251.9 128.37,244.5 128.45,247.6 128.53,243.9 128.61,248 128.68,243.7 128.76,248.3 128.84,244 128.92,247.6 129,244.7 129.07,251.6 129.15,244 129.23,247.9 129.31,244.3 129.39,248.3 129.47,244.6 129.54,240.1 129.62,244.4 129.7,248.3 129.78,244.2 129.86,248.2 129.94,244.1 130.01,247.4 130.09,242.9 130.17,250.9 130.25,241.8 130.33,245.1 130.4,240.5 130.48,243.4 130.56,239.2 130.64,243.5 130.72,238.8 130.8,243 130.87,239.6 130.95,242.9 131.03,239.8 131.11,245.1 131.19,241.5 131.27,245.9 131.34,243.2 131.42,247.7 131.5,244.2 131.58,247.8 131.66,244 131.73,251.3 131.81,244.2 131.89,247.7 131.97,244 132.05,248.5 132.13,244.1 132.2,248.4 132.28,244.4 132.36,247.7 132.44,244.4 132.52,240.1 132.6,244.5 132.67,253.3 132.75,244 132.83,248 132.91,244.6 132.99,248 133.07,244 133.14,248.5 133.22,243.7 133.3,247.6 133.38,243.6 133.46,247.9 133.53,244.2 133.61,248 133.69,243.4 133.77,246.5 133.85,242 133.93,246 134,241.7 134.08,244.6 134.16,240.4 134.24,253.2 134.32,239.6 134.4,244 134.47,239.5 134.55,244.2 134.63,240.2 134.71,244.7 134.79,234.6 134.86,246.2 134.94,250 135.02,247.8 135.1,244.4 135.18,248.2 135.26,244.3 135.33,248.3 135.41,244.3 135.49,247.5 135.57,244.1 135.65,248.2 135.73,243.8 135.8,248.5 135.88,244.2 135.96,250.4 136.04,243.7 136.12,247.5 136.19,244.7 136.27,248.4 136.35,244.4 136.43,247.7 136.51,240.4 136.59,247.9 136.66,243.7 136.74,248.4 136.82,244.1 136.9,248.2 136.98,243.7 137.06,248.2 137.13,244.1 137.21,251 137.29,242.7 137.37,246.8 137.45,241.9 137.52,245.2 137.6,240.2 137.68,243.9 137.76,239.1 137.84,242.3 137.92,239.2 137.99,242.7 138.07,239 138.15,243.8 138.23,240.8 138.31,245.3 138.39,241.8 138.46,245.9 138.54,242.8 138.62,247.8 138.7,252.2 138.78,247.6 138.85,244 138.93,248.2 139.01,244.5 139.09,247.8 139.17,243.7 139.25,248.5 139.32,244.6 139.4,247.8 139.48,244.2 139.56,247.7 139.64,244.5 139.72,248.5 139.79,243.7 139.87,253 139.95,234.1 140.03,247.9 140.11,243.7 140.18,248.4 140.26,243.8 140.34,247.5 140.42,244.4 140.5,248.2 140.58,244.2 140.65,248.4 140.73,243.5 140.81,247.7 140.89,243 140.97,239.7 141.05,241.6 141.12,252.9 141.2,240.7 141.28,244.4 141.36,239.4 141.44,243.6 141.52,239.3 141.59,243.8 141.67,239.6 141.75,243.6 141.83,249.7 141.91,245.4 141.98,242 142.06,246.7 142.14,243.2 142.22,247 142.3,243.8 142.38,247.7 142.45,243.9 142.53,247.6 142.61,243.8 142.69,247.5 142.77,243.7 142.85,248.4 142.92,244.2 143,248.2 143.08,251.3 143.16,248.3 143.24,243.7 143.31,248.5 143.39,243.7 143.47,247.5 143.55,244.1 143.63,247.9 143.71,243.7 143.78,248.3 143.86,240.1 143.94,242 144.02,244.6 144.1,251 144.18,244.6 144.25,247.9 144.33,243.4 144.41,247.7 144.49,243.2 144.57,246.3 144.64,240.8 144.72,244.3 144.8,239.5 144.88,242.5 144.96,238.3 145.04,241.6 145.11,250.2 145.19,242.3 145.27,239.2 145.35,242.8 145.43,239.7 145.51,244.8 145.58,241.8 145.66,246.6 145.74,243.1 145.82,247.9 145.9,244.2 145.97,247.6 146.05,243.9 146.13,248.5 146.21,244 146.29,247.6 146.37,242.3 146.44,248 146.52,244.5 146.6,251.5 146.68,243.7 146.76,248 146.84,243.9 146.91,247.5 146.99,244.7 147.07,247.4 147.15,244.5 147.23,247.8 147.3,244 147.38,250.6 147.46,244.7 147.54,242.4 147.62,243.9 147.7,248.4 147.77,244.1 147.85,248.3 147.93,244 148.01,246.4 148.09,242 148.17,245 148.24,240.7 148.32,243.8 148.4,238.7 148.48,242.6 148.56,237.9 148.64,242.4 148.71,237.9 148.79,242.8 148.87,252.6 148.95,244 149.03,240.3 149.1,244.7 149.18,241.5 149.26,246.9 149.34,243.3 149.42,248.1 149.5,244.2 149.57,250.2 149.65,243.8 149.73,241.2 149.81,244.7 149.89,248.4 149.97,244.5 150.04,248.3 150.12,243.7 150.2,248.5 150.28,244.6 150.36,248.2 150.43,244.1 150.51,247.5 150.59,244.6 150.67,247.5 150.75,244.7 150.83,251.7 150.9,244.2 150.98,247.5 151.06,243.9 151.14,247.5 151.22,244 151.3,247.7 151.37,244.7 151.45,247.8 151.53,244 151.61,246.7 151.69,243.3 151.76,245.9 151.84,242.1 151.92,244.7 152,240.3 152.08,244 152.16,239.8 152.23,244.2 152.31,249.8 152.39,243.5 152.47,240.1 152.55,244.9 152.63,242.7 152.7,245.6 152.78,242.8 152.86,246.5 152.94,243.8 153.02,248.3 153.09,244.5 153.17,248.5 153.25,243.7 153.33,248.2 153.41,243.8 153.49,248 153.56,252.8 153.64,248.2 153.72,243.9 153.8,248.5 153.88,243.8 153.96,247.9 154.03,243.7 154.11,252.2 154.19,243.9 154.27,242.9 154.35,243.7 154.42,248.1 154.5,244.4 154.58,248.5 154.66,244.5 154.74,248.5 154.82,243.7 154.89,247.6 154.97,243.8 155.05,247.6 155.13,243.4 155.21,247.6 155.29,242.6 155.36,245.8 155.44,250.9 155.52,245.2 155.6,240.7 155.68,243.6 155.76,240 155.83,243.3 155.91,239.8 155.99,244.1 156.07,240.8 156.15,245.4 156.22,241.6 156.3,246.2 156.38,251.2 156.46,242.5 156.54,243.5 156.62,247.5 156.69,244.1 156.77,247.5 156.85,243.8 156.93,248.5 157.01,244 157.09,248.4 157.16,243.7 157.24,239.6 157.32,243.9 157.4,248.3 157.48,244.7 157.55,248.5 157.63,244 157.71,247.6 157.79,244.1 157.87,248.4 157.95,250.1 158.02,248.1 158.1,244.4 158.18,247.6 158.26,243.8 158.34,247.8 158.42,243.7 158.49,248 158.57,243.6 158.65,247.7 158.73,243.6 158.81,247.2 158.88,249.8 158.96,245.7 159.04,241.1 159.12,244.1 159.2,239.2 159.28,243.6 159.35,238.6 159.43,242.7 159.51,239 159.59,243.5 159.67,239.7 159.75,245.1 159.82,241.1 159.9,245.5 159.98,243.3 160.06,247.6 160.14,244 160.21,248.3 160.29,251.1 160.37,248.3 160.45,244.7 160.53,248.5 160.61,243.7 160.68,248.4 160.76,244 160.84,248.3 160.92,244.5 161,247.4 161.08,243.7 161.15,247.7 161.23,243.7 161.31,247.9 161.39,243.9 161.47,248.4 161.54,244.1 161.62,250.2 161.7,244.6 161.78,239.9 161.86,244.5 161.94,247.7 162.01,244.3 162.09,248 162.17,243.5 162.25,248 162.33,243.4 162.41,246.8 162.48,242.2 162.56,245.6 162.64,240.9 162.72,251.5 162.8,239.8 162.88,243.4 162.95,239.9 163.03,240.1 163.11,239.9 163.19,244 163.27,240.2 163.34,245.2 163.42,241.8 163.5,246.4 163.58,243 163.66,247.7 163.74,243.4 163.81,252.8 163.89,244.7 163.97,248 164.05,243.7 164.13,248.5 164.21,243.8 164.28,248.5 164.36,243.7 164.44,248.4 164.52,243.9 164.6,248.4 164.67,250.1 164.75,243.6 164.83,244.5 164.91,248.5 164.99,243.7 165.07,248.3 165.14,244 165.22,247.4 165.3,244.7 165.38,248.2 165.46,243.7 165.54,248.2 165.61,244 165.69,248.4 165.77,244.5 165.85,247.7 165.93,243.5 166,246.5 166.08,250.3 166.16,246 166.24,241.7 166.32,245.1 166.4,241.1 166.47,244.7 166.55,240.6 166.63,243.9 166.71,241 166.79,245.1 166.87,241.6 166.94,243.3 167.02,242.3 167.1,252.4 167.18,243.8 167.26,247.4 167.33,243.7 167.41,248.1 167.49,244.5 167.57,248.5 167.65,243.7 167.73,250.9 167.8,243.7 167.88,248.5 167.96,243.9 168.04,247.8 168.12,244.1 168.2,248.1 168.27,244 168.35,247.9 168.43,243.7 168.51,248.5 168.59,244.5 168.66,248.4 168.74,243.8 168.82,248.1 168.9,243.8 168.98,248.5 169.06,244.7 169.13,248.5 169.21,249.9 169.29,247.7 169.37,244 169.45,247.1 169.53,242.8 169.6,246.2 169.68,242.3 169.76,246.1 169.84,240.9 169.92,244.3 170,240.2 170.07,244.8 170.15,240.4 170.23,244.3 170.31,240.2 170.39,244.4 170.46,251 170.54,246.3 170.62,242 170.7,243.4 170.78,243.3 170.86,247.6 170.93,244.4 171.01,247.7 171.09,244 171.17,247.9 171.25,244.1 171.33,248.4 171.4,252.1 171.48,247.6 171.56,244.3 171.64,247.7 171.72,243.9 171.79,248.2 171.87,244.3 171.95,247.6 172.03,243.7 172.11,248.3 172.19,243.8 172.26,247.6 172.34,243.8 172.42,248 172.5,244.6 172.58,250.5 172.66,244.2 172.73,248.5 172.81,244.1 172.89,234.1 172.97,244 173.05,247.6 173.12,242.7 173.2,246.9 173.28,242.5 173.36,245 173.44,241.2 173.52,244.4 173.59,239.8 173.67,243.7 173.75,240.3 173.83,251.6 173.91,239.8 173.99,244.8 174.06,240.6 174.14,246 174.22,242.4 174.3,246.8 174.38,243.6 174.45,243.4 174.53,244.6 174.61,248.3 174.69,243.9 174.77,247.9 174.85,244 174.92,253.3 175,244.1 175.08,248.1 175.16,243.7 175.24,243 175.32,243.7 175.39,248.2 175.47,244.7 175.55,247.9 175.63,243.8 175.71,251.3 175.78,243.9 175.86,248.4 175.94,244.2 176.02,248.2 176.1,244.1 176.18,248.5 176.25,243.7 176.33,247.6 176.41,243.7 176.49,248.3 176.57,243.2 176.65,247.3 176.72,242.4 176.8,245.9 176.88,240.5 176.96,251.7 177.04,239.7 177.12,243.3 177.19,238.9 177.27,242.7 177.35,238.5 177.43,243.3 177.51,239.1 177.58,244.1 177.66,240.2 177.74,245.5 177.82,242 177.9,246.6 177.98,243.5 178.05,247.8 178.13,252.5 178.21,248.4 178.29,244.2 178.37,247.8 178.45,244.1 178.52,247.8 178.6,242.9 178.68,248.1 178.76,244.1 178.84,247.5 178.91,243.7 178.99,242.9 179.07,244 179.15,248.5 179.23,243.9 179.31,247.6 179.38,243.9 179.46,248.3 179.54,243.9 179.62,247.4 179.7,244.7 179.78,248 179.85,251.8 179.93,248.4 180.01,244.1 180.09,248.4 180.17,243.3 180.24,246.9 180.32,242.8 180.4,246 180.48,242 180.56,245.4 180.64,240.5 180.71,244 180.79,250.4 180.87,243.9 180.95,240.4 181.03,244.3 181.11,240.7 181.18,244.6 181.26,243.6 181.34,246.4 181.42,243 181.5,247.6 181.57,243.6 181.65,248 181.73,252.5 181.81,247.8 181.89,243.8 181.97,247.6 182.04,243.7 182.12,247.5 182.2,244.1 182.28,248.3 182.36,243.7 182.44,247.9 182.51,243.7 182.59,247.9 182.67,243.9 182.75,251.7 182.83,244.1 182.9,247.8 182.98,235.2 183.06,248.4 183.14,243.7 183.22,248.4 183.3,244.6 183.37,247.6 183.45,243.9 183.53,247.7 183.61,244.5 183.69,247.7 183.77,243.7 183.84,247 183.92,242.3 184,246.1 184.08,241.3 184.16,245.3 184.24,240.9 184.31,252.3 184.39,239.3 184.47,243.8 184.55,239.5 184.63,244.2 184.7,240 184.78,244.8 184.86,241 184.94,245.4 185.02,242.2 185.1,247.4 185.17,250.9 185.25,247.3 185.33,244.6 185.41,248.3 185.49,240.2 185.57,226.7 185.64,235.5 185.72,244.5 185.8,232.4 185.88,241.2 185.96,232.1 186.03,240.8 186.11,232.3 186.19,241.8 186.27,234.7 186.35,231.2 186.43,235.7 186.5,244.6 186.58,235.8 186.66,244.8 186.74,235.7 186.82,244.4 186.9,226.3 186.97,243.3 187.05,233.4 187.13,242.5 187.21,233.6 187.29,242 187.36,231.3 187.44,242.2 187.52,233.3 187.6,239.6 187.68,228.9 187.76,237.4 187.83,225.8 187.91,235.7 187.99,231.5 188.07,235.4 188.15,227.5 188.23,240.4 188.3,233.2 188.38,243.8 188.46,234.4 188.54,245.4 188.62,234.8 188.69,244.3 188.77,227.3 188.85,244.3 188.93,236.8 189.01,246.3 189.09,237.7 189.16,247.7 189.24,236.8 189.32,247.4 189.4,238.9 189.48,233.4 189.56,239.6 189.63,246.5 189.71,235.4 189.79,243.1 189.87,231.5 189.95,241.2 190.02,230.8 190.1,242.1 190.18,234.2 190.26,245.8 190.34,243.7 190.42,248.3 190.49,252.5 190.57,247.2 190.65,243 190.73,246.5 190.81,241.8 190.89,244.3 190.96,240.3 191.04,243.9 191.12,239.3 191.2,243.6 191.28,239 191.36,251.7 191.43,240.4 191.51,243.8 191.59,240.6 191.67,245.7 191.75,242.2 191.82,247 191.9,244 191.98,247.3 192.06,243.7 192.14,247.8 192.22,250.3 192.29,239.7 192.37,244.6 192.45,248.3 192.53,243.7 192.61,247.6 192.69,244.3 192.76,247.6 192.84,244.6 192.92,248.4 193,244.7 193.08,247.6 193.15,243.8 193.23,247.9 193.31,244.7 193.39,248.1 193.47,243.8 193.55,248.4 193.62,244 193.7,250.3 193.78,243.9 193.86,248.5 193.94,243.7 194.02,242.1 194.09,243.8 194.17,246.2 194.25,241.9 194.33,245.4 194.41,240.8 194.48,242.9 194.56,238.7 194.64,242.5 194.72,237.8 194.8,238.1 194.88,244.7 194.95,229.7 195.03,235.2 195.11,219.1 195.19,226.7 195.27,210.1 195.35,216.6 195.42,199.3 195.5,208.3 195.58,190.6 195.66,199.5 195.74,180.2 195.81,188.9 195.89,170.6 195.97,179.7 196.05,173.2 196.13,182.5 196.21,167.1 196.28,179.9 196.36,165.4 196.44,175.4 196.52,158.6 196.6,169.1 196.68,154.8 196.75,171.6 196.83,157.4 196.91,170.7 196.99,151.8 197.07,171.9 197.14,159.8 197.22,174.7 197.3,157.4 197.38,170.7 197.46,160.4 197.54,165.1 197.61,160.9 197.69,176.7 197.77,165.1 197.85,178.1 197.93,165.3 198.01,172.2 198.08,186.4 198.16,161.6 198.24,166.7 198.32,177.5 198.4,166.7 198.48,173.8 198.55,166.1 198.63,175.9 198.71,160.4 198.79,179.3 198.87,165.6 198.94,178.7 199.02,166.6 199.1,178 199.18,162.1 199.26,177.5 199.34,160.8 199.41,172.8 199.49,159.9 199.57,176.1 199.65,159.6 199.73,174.2 199.81,155.3 199.88,165.1 199.96,159.7 200.04,176.1 200.12,186.5 200.2,180.6 200.27,163.2 200.35,181.1 200.43,167.3 200.51,184.3 200.59,166.9 200.67,185.8 200.74,166.7 200.82,180.2 200.9,169.5 200.98,185.4 201.06,170.6 201.14,179.6 201.21,165.6 201.29,176.9 201.37,168.6 201.45,182 201.53,167.1 201.6,176.8 201.68,163.3 201.76,180.5 201.84,167 201.92,179.8 202,180.5 202.07,179.4 202.15,163.8 202.23,168.5 202.31,160.4 202.39,178.4 202.47,163 202.54,170.4 202.62,157 202.7,171 202.78,185.9 202.86,172 202.93,159.2 203.01,170.7 203.09,158.8 203.17,173 203.25,165 203.33,180 203.4,163.3 203.48,183.3 203.56,172.6 203.64,182.7 203.72,167.8 203.8,183.9 203.87,171.7 203.95,183.5 204.03,169.2 204.11,186 204.19,168.5 204.26,184.1 204.34,169.2 204.42,186.6 204.5,169.4 204.58,167.5 204.66,176.7 204.73,188.1 204.81,173.8 204.89,183.6 204.97,174.8 205.05,184.1 205.13,172.5 205.2,185.6 205.28,168.7 205.36,183.7 205.44,169.7 205.52,180.2 205.59,160.1 205.67,170.8 205.75,156.1 205.83,167.2 205.91,152.5 205.99,172.2 206.06,154.1 206.14,171.8 206.22,157.7 206.3,176.1 206.38,162.5 206.46,180.9 206.53,198.1 206.61,166.6 206.69,168 206.77,183.9 206.85,174.3 206.93,183.7 207,172.9 207.08,181.7 207.16,168.4 207.24,181.7 207.32,173.3 207.39,185.7 207.47,174.9 207.55,187.1 207.63,170.2 207.71,189.4 207.79,171.1 207.86,187.4 207.94,171.7 208.02,183 208.1,169.5 208.18,182.5 208.26,169.9 208.33,165.7 208.41,169.1 208.49,176.3 208.57,162.8 208.65,177.5 208.72,158.6 208.8,170.5 208.88,160 208.96,170 209.04,161.1 209.12,174.8 209.19,182 209.27,173.9 209.35,166.3 209.43,173 209.51,185.6 209.59,180.2 209.66,192.3 209.74,185 209.82,198.4 209.9,192.3 209.98,202.6 210.05,197.7 210.13,208.4 210.21,204.2 210.29,215.8 210.37,209.6 210.45,221.1 210.52,213.8 210.6,225.3 210.68,219.6 210.76,228.1 210.84,221.4 210.92,230.7 210.99,221.4 211.07,231.2 211.15,222.3 211.23,233.7 211.31,224.3 211.38,234.3 211.46,225.9 211.54,236.5 211.62,227.5 211.7,237.7 211.78,228.4 211.85,238.8 211.93,228.7 212.01,239.6 212.09,231.9 212.17,241.4 212.25,231.4 212.32,242.4 212.4,233.3 212.48,243 212.56,234.4 212.64,244.6 212.71,235.9 212.79,245.8 212.87,237.1 212.95,247.1 213.03,240.3 213.11,244 213.18,248.4 213.26,234.1 213.34,247.4 213.42,243.3 213.5,246.8 213.58,241.5 213.65,244.9 213.73,241.5 213.81,244.4 213.89,240.4 213.97,244.5 214.05,240.8 214.12,244 214.2,240.8 214.28,245.1 214.36,253.4 214.44,246.3 214.51,243.2 214.59,247.2 214.67,244.2 214.75,247.4 214.83,244.3 214.91,243 214.98,243.9 215.06,247.5 215.14,244.3 215.22,248.5 215.3,244.1 215.38,247.6 215.45,244.4 215.53,247.5 215.61,244.2 215.69,252.3 215.77,244.5 215.84,240 215.92,244.4 216,247.7 216.08,243.7 216.16,247.7 216.24,244.3 216.31,248.3 216.39,244 216.47,247.5 216.55,243.9 216.63,250.1 216.71,244.7 216.78,248.4 216.86,243.6 216.94,247.5 217.02,242.5 217.1,245.9 217.17,241.4 217.25,244.7 217.33,250.5 217.41,244.3 217.49,240 217.57,244.5 217.64,240.8 217.72,244.7 217.8,240.9 217.88,245.4 217.96,241.5 218.04,246.2 218.11,243.1 218.19,247.7 218.27,243.8 218.35,248.4 218.43,244.2 218.5,247.5 218.58,244.6 218.66,247.5 218.74,242.9 218.82,248.3 218.9,244.6 218.97,248 219.05,250.4 219.13,248.5 219.21,243.8 219.29,248.2 219.37,244.5 219.44,247.8 219.52,244.6 219.6,247.7 219.68,244.7 219.76,248.4 219.83,244 219.91,247.5 219.99,251.2 220.07,247.5 220.15,244.1 220.23,248.1 220.3,244.7 220.38,240.4 220.46,243.1 220.54,246.8 220.62,242.2 220.7,246.4 220.77,241.7 220.85,244.4 220.93,240.7 221.01,253.3 221.09,240.4 221.17,243.6 221.24,240.4 221.32,244.2 221.4,240.5 221.48,245.6 221.56,241.9 221.63,246.5 221.71,242.9 221.79,247.1 221.87,244.2 221.95,248.1 222.03,243.7 222.1,248.4 222.18,244 222.26,247.9 222.34,244.3 222.42,247.7 222.5,250.2 222.57,248.4 222.65,244.1 222.73,248 222.81,244.1 222.89,248.4 222.96,244.4 223.04,241.2 223.12,244.2 223.2,248 223.28,244.7 223.36,248.3 223.43,244.6 223.51,248.5 223.59,251.6 223.67,247.6 223.75,244 223.83,248.5 223.9,244.3 223.98,242.6 224.06,243.1 224.14,247.2 224.22,251.6 224.29,245.3 224.37,241 224.45,244.9 224.53,239.6 224.61,243.6 224.69,239.6 224.76,243.2 224.84,240 224.92,243.4 225,240.4 225.08,245.4 225.16,241.3 225.23,243.4 225.31,243.3 225.39,247.1 225.47,252.8 225.55,248.1 225.62,244.5 225.7,248.3 225.78,243.7 225.86,248.1 225.94,244.7 226.02,248.4 226.09,244.6 226.17,248.5 226.25,244.4 226.33,248.1 226.41,244.7 226.49,248.2 226.56,243.8 226.64,247.9 226.72,243.8 226.8,247.4 226.88,249.8 226.95,248.5 227.03,243.8 227.11,248.3 227.19,244.6 227.27,248.2 227.35,243.7 227.42,248.2 227.5,244.3 227.58,247.9 227.66,249.8 227.74,236.3 227.82,241.1 227.89,244.8 227.97,239.9 228.05,242.7 228.13,238.5 228.21,241.7 228.29,238.3 228.36,242 228.44,238 228.52,243.1 228.6,239.5 228.68,244 228.75,241.3 228.83,252 228.91,242.3 228.99,247.8 229.07,244.4 229.15,247.5 229.22,244 229.3,247.7 229.38,244 229.46,247.8 229.54,244.6 229.62,247.7 229.69,239 229.77,248.1 229.85,243.8 229.93,250.5 230.01,244.5 230.08,248.3 230.16,244.7 230.24,248.5 230.32,243.8 230.4,248.4 230.48,243.7 230.55,248 230.63,244.2 230.71,248.3 230.79,244.4 230.87,248.3 230.95,244.1 231.02,247.7 231.1,252.8 231.18,247 231.26,242.6 231.34,245.6 231.41,240.7 231.49,244.3 231.57,243.6 231.65,243 231.73,238.4 231.81,242.2 231.88,237.8 231.96,241.7 232.04,238.4 232.12,243.3 232.2,239.2 232.28,252.4 232.35,240.9 232.43,245.6 232.51,242.9 232.59,247 232.67,244.1 232.74,247.7 232.82,244 232.9,248.5 232.98,243.8 233.06,248 233.14,243.8 233.21,248.1 233.29,243.8 233.37,247.6 233.45,244.3 233.53,248.5 233.61,244.1 233.68,248.5 233.76,253.2 233.84,248.1 233.92,244.3 234,247.7 234.07,243.8 234.15,247.9 234.23,243.9 234.31,248.1 234.39,243.7 234.47,248.2 234.54,244 234.62,248 234.7,244 234.78,247.1 234.86,242.4 234.94,249.8 235.01,241.8 235.09,238.3 235.17,240.6 235.25,243.7 235.33,238.6 235.41,242.2 235.48,239.2 235.56,243 235.64,250.9 235.72,243.9 235.8,241 235.87,244.7 235.95,242.2 236.03,246.6 236.11,243.1 236.19,247.3 236.27,244.3 236.34,248 236.42,243.9 236.5,248.2 236.58,244.6 236.66,247.7 236.74,243.8 236.81,248.1 236.89,244.5 236.97,247.6 237.05,243.8 237.13,248.4 237.2,244.5 237.28,251.9 237.36,243.1 237.44,248.2 237.52,244.1 237.6,248.5 237.67,244.3 237.75,248.5 237.83,243.9 237.91,248.1 237.99,244.2 238.07,247.7 238.14,244.6 238.22,252.2" stroke="url(#g2)" class="l"/><text class="t" transform="translate(34.95 265.7) scale(1 1.07)" text-anchor="middle">20</text><text class="t" transform="translate(75.62 265.7) scale(1 1.07)" text-anchor="middle">21</text><text class="t" transform="translate(116.29 265.7) scale(1 1.07)" text-anchor="middle">22</text><text class="t" transform="translate(156.96 265.7) scale(1 1.07)" text-anchor="middle">23</text><text class="t" transform="translate(197.63 265.7) scale(1 1.07)" text-anchor="middle">24</text><text class="t" transform="translate(238.3 265.7) scale(1 1.07)" text-anchor="middle">25</text><text class="t" transform="translate(21.8 247.65) scale(1 1.07)" text-anchor="end">0.1</text><text class="t" transform="translate(21.8 210.15) scale(1 1.07)" text-anchor="end">0.2</text><text class="t" transform="translate(21.8 172.65) scale(1 1.07)" text-anchor="end">0.3</text><text class="a" transform="translate(136.95 273.4) scale(1 1.07)" text-anchor="middle">Time(s)</text><text class="v" transform="translate(10.79 202.7) rotate(-90) scale(1.025 1)" text-anchor="middle">Current(A)</text><text class="h" transform="translate(117.2 145.2) scale(1 1.07)" text-anchor="middle">DragonBoard: Hydra T4 IKE</text></g>
<g><rect x="268.7" y="147" width="224.2" height="111.4" fill="#EBEBEB"/><path d="M299.12 147V258.4M339.88 147V258.4M380.62 147V258.4M421.38 147V258.4M462.12 147V258.4M268.7 246.56H492.9M268.7 216.94H492.9M268.7 187.31H492.9M268.7 157.69H492.9" stroke="#fff" stroke-opacity=".9" stroke-width=".38" fill="none"/><path d="M278.75 147V258.4M319.5 147V258.4M360.25 147V258.4M401 147V258.4M441.75 147V258.4M482.5 147V258.4M268.7 231.75H492.9M268.7 202.12H492.9M268.7 172.5H492.9" stroke="#fff" stroke-width=".7" fill="none"/><path d="M278.75 258.4v2M319.5 258.4v2M360.25 258.4v2M401 258.4v2M441.75 258.4v2M482.5 258.4v2M268.7 231.75h-2M268.7 202.12h-2M268.7 172.5h-2" stroke="#333" stroke-width=".55" fill="none"/><polyline points="278.75,248 278.83,246.9 278.91,243 278.99,246.3 279.06,243 279.14,246.7 279.22,243.1 279.3,246.5 279.38,242.8 279.46,246.7 279.53,243.1 279.61,249 279.69,243 279.77,246.5 279.85,242.7 279.93,246.8 280,242.5 280.08,246.6 280.16,243.4 280.24,247 280.32,242.8 280.4,239.1 280.47,242.9 280.55,246.9 280.63,243 280.71,247.1 280.79,242.5 280.87,248.5 280.95,242.5 281.02,247.1 281.1,243.4 281.18,246.5 281.26,243.4 281.34,246.4 281.42,243.4 281.49,246.9 281.57,248.8 281.65,247.1 281.73,243.2 281.81,239.2 281.89,242.5 281.96,247.1 282.04,242.5 282.12,246.4 282.2,243 282.28,247 282.36,237.4 282.43,246.5 282.51,243 282.59,246.1 282.67,243.2 282.75,246.9 282.83,248 282.9,247 282.98,242.4 283.06,246.4 283.14,243.2 283.22,247 283.3,243.4 283.38,248.8 283.45,242.8 283.53,246.7 283.61,243.5 283.69,246.2 283.77,242.5 283.85,246.3 283.92,242.5 284,246.4 284.08,243 284.16,247.1 284.24,241.4 284.32,246.2 284.39,242.4 284.47,247.1 284.55,243.4 284.63,246.5 284.71,248.8 284.79,246.8 284.86,242.9 284.94,246.8 285.02,242.4 285.1,247 285.18,242.6 285.26,246.8 285.34,242.7 285.41,249.1 285.49,243.2 285.57,246.4 285.65,242.7 285.73,246.9 285.81,242.4 285.88,246.9 285.96,243.2 286.04,246.9 286.12,242.6 286.2,247.1 286.28,240.8 286.35,246.8 286.43,242.4 286.51,248.9 286.59,242.4 286.67,247.1 286.75,242.6 286.82,247.1 286.9,243.5 286.98,246.6 287.06,242.5 287.14,246.7 287.22,242.2 287.3,247.1 287.37,248.3 287.45,246.7 287.53,242.4 287.61,246.2 287.69,242.8 287.77,247.1 287.84,243 287.92,246.2 288,242.4 288.08,246.6 288.16,243.2 288.24,246.8 288.31,242.4 288.39,246.5 288.47,248.3 288.55,247 288.63,243.1 288.71,247.2 288.78,242.5 288.86,246.2 288.94,242.5 289.02,247.1 289.1,242.4 289.18,246.8 289.26,242.7 289.33,240.7 289.41,243.3 289.49,241 289.57,243.1 289.65,246.7 289.73,248.5 289.8,247.2 289.88,242.4 289.96,247.1 290.04,242.7 290.12,246.9 290.2,242.6 290.27,246.3 290.35,242.9 290.43,246.9 290.51,242.9 290.59,246.3 290.67,248.6 290.74,246.9 290.82,242.5 290.9,246.8 290.98,242.5 291.06,246.9 291.14,243.5 291.21,246.2 291.29,242.4 291.37,246.9 291.45,243.2 291.53,246.3 291.61,248.4 291.69,246.6 291.76,243.1 291.84,241.2 291.92,242.5 292,246.4 292.08,243.1 292.16,248.5 292.23,243.1 292.31,246.1 292.39,242.5 292.47,247.2 292.55,242.9 292.63,247.1 292.7,243.3 292.78,246.4 292.86,242.8 292.94,246.4 293.02,243.4 293.1,246.5 293.17,248 293.25,246.8 293.33,242.4 293.41,246.6 293.49,242.6 293.57,247.1 293.65,242.5 293.72,247 293.8,243.2 293.88,247.2 293.96,242.5 294.04,247 294.12,243.2 294.19,247.1 294.27,243.5 294.35,246.4 294.43,242.7 294.51,246.6 294.59,248.5 294.66,246.4 294.74,242.5 294.82,246.3 294.9,243.1 294.98,247.1 295.06,238 295.13,241.8 295.21,237.8 295.29,242.1 295.37,237.9 295.45,241.9 295.53,238.2 295.61,242 295.68,237.7 295.76,235.5 295.84,238.1 295.92,242.2 296,238.5 296.08,241.5 296.15,237.7 296.23,241.4 296.31,244.2 296.39,242.1 296.47,237.6 296.55,241.2 296.62,238.4 296.7,242.2 296.78,237.6 296.86,241.3 296.94,244.6 297.02,241.8 297.09,237.5 297.17,241.6 297.25,237.9 297.33,241.7 297.41,233.4 297.49,241.7 297.56,238.1 297.64,241.3 297.72,238.2 297.8,241.9 297.88,238.4 297.96,241.6 298.04,238 298.11,244.7 298.19,237.8 298.27,241.3 298.35,238.1 298.43,241.7 298.51,237.9 298.58,241.6 298.66,238.6 298.74,242.2 298.82,244.7 298.9,233.3 298.98,237.6 299.05,242 299.13,236.1 299.21,236.6 299.29,231.4 299.37,231.9 299.45,227.2 299.52,227.4 299.6,222.3 299.68,222.9 299.76,217.8 299.84,218.4 299.92,213.2 300,209.9 300.07,214.9 300.15,210.4 300.23,214.6 300.31,208.8 300.39,214.9 300.47,210 300.54,214.2 300.62,210.7 300.7,209.1 300.78,210.3 300.86,216.4 300.94,210.4 301.01,214.1 301.09,210.9 301.17,214.6 301.25,210 301.33,208 301.41,210 301.48,215 301.56,210.1 301.64,214.7 301.72,210.3 301.8,214.7 301.88,210.3 301.96,215.2 302.03,216.7 302.11,214 302.19,209.8 302.27,215 302.35,210.2 302.43,214.3 302.5,209.9 302.58,214.7 302.66,210.2 302.74,214.4 302.82,210.3 302.9,209.4 302.97,210.1 303.05,214.4 303.13,216.6 303.21,207.1 303.29,208.5 303.37,200.9 303.44,203.8 303.52,195.4 303.6,198 303.68,189.7 303.76,192.8 303.84,184.9 303.91,187 303.99,179.2 304.07,181.3 304.15,173.6 304.23,176.3 304.31,168.9 304.39,169.7 304.46,161.1 304.54,168.1 304.62,161.7 304.7,167.6 304.78,161.7 304.86,160.1 304.93,162 305.01,168.5 305.09,161.2 305.17,168 305.25,161.3 305.33,168.2 305.4,161.3 305.48,167.1 305.56,160.3 305.64,167.9 305.72,161.4 305.8,168.5 305.87,161.8 305.95,168.6 306.03,162.1 306.11,169.9 306.19,161.9 306.27,170.3 306.35,161.3 306.42,171 306.5,161.1 306.58,171.3 306.66,161.4 306.74,167.5 306.82,161.1 306.89,167.2 306.97,161.4 307.05,168.5 307.13,180 307.21,167.8 307.29,178.1 307.36,167 307.44,178.1 307.52,168.1 307.6,176.6 307.68,167.8 307.76,162.6 307.83,168.5 307.91,162 307.99,168.6 308.07,161.2 308.15,167.3 308.23,161.1 308.31,168.5 308.38,160.9 308.46,168 308.54,162.2 308.62,160.3 308.7,161 308.78,168.4 308.85,161.1 308.93,168.6 309.01,176.8 309.09,168.1 309.17,177 309.25,168.5 309.32,176.7 309.4,167.3 309.48,174.8 309.56,168.6 309.64,162.4 309.72,167.5 309.79,160.5 309.87,167.6 309.95,161.2 310.03,168.5 310.11,162.4 310.19,167.2 310.27,161.3 310.34,167.5 310.42,171.1 310.5,168.3 310.58,172.6 310.66,168.5 310.74,172.5 310.81,167.8 310.89,173.1 310.97,167.7 311.05,162.7 311.13,168.5 311.21,161.2 311.28,167.7 311.36,161.3 311.44,167.4 311.52,160.9 311.6,175.4 311.68,161.2 311.75,175.3 311.83,161.4 311.91,175.7 311.99,161.9 312.07,175.7 312.15,162 312.22,168.6 312.3,161.9 312.38,167.2 312.46,162.1 312.54,167.6 312.62,161 312.7,168.4 312.77,162.6 312.85,168.6 312.93,161.2 313.01,167.6 313.09,173.3 313.17,167 313.24,175.6 313.32,167.4 313.4,175.5 313.48,167.1 313.56,173.2 313.64,160.4 313.71,162.6 313.79,185.8 313.87,176.4 313.95,167.3 314.03,161.7 314.11,168.6 314.18,161.1 314.26,174.9 314.34,161.9 314.42,173.6 314.5,161.4 314.58,173.3 314.66,162 314.73,175.7 314.81,162.4 314.89,168 314.97,160.9 315.05,181.4 315.13,173.9 315.2,168.3 315.28,162.1 315.36,168.3 315.44,162 315.52,168.5 315.6,175.5 315.67,167.9 315.75,175.6 315.83,167.7 315.91,175.7 315.99,167.8 316.07,175.5 316.14,168.6 316.22,187.3 316.3,177.2 316.38,162.6 316.46,168.4 316.54,162.1 316.62,168.5 316.69,161.5 316.77,167.9 316.85,158.2 316.93,167.7 317.01,170.9 317.09,168.6 317.16,170.1 317.24,168.3 317.32,171.5 317.4,167 317.48,170.6 317.56,168.5 317.63,162.5 317.71,167.6 317.79,161.6 317.87,167.4 317.95,162.1 318.03,168.2 318.1,161.7 318.18,160.5 318.26,161.7 318.34,168.3 318.42,162.5 318.5,168.1 318.57,161.1 318.65,167.6 318.73,162.3 318.81,177.3 318.89,161 318.97,177.6 319.05,161 319.12,175.6 319.2,162.3 319.28,177.2 319.36,162.6 319.44,167.6 319.52,159.7 319.59,168.3 319.67,161 319.75,176.8 319.83,162.6 319.91,175.4 319.99,162.1 320.06,177.9 320.14,162.1 320.22,177.3 320.3,161.2 320.38,167.6 320.46,162.5 320.53,168.4 320.61,161 320.69,167.1 320.77,161.1 320.85,168.6 320.93,161.1 321.01,167.7 321.08,161.3 321.16,167.2 321.24,162.2 321.32,167.9 321.4,161.3 321.48,167.6 321.55,162.4 321.63,168.1 321.71,162.4 321.79,167.6 321.87,175.6 321.95,168.5 322.02,173.9 322.1,168 322.18,176.2 322.26,167.2 322.34,175.4 322.42,167.4 322.49,160.5 322.57,167.7 322.65,161.6 322.73,167.1 322.81,161.9 322.89,168.1 322.97,162.1 323.04,167.4 323.12,172.4 323.2,167.8 323.28,171.6 323.36,167.3 323.44,171.1 323.51,168.3 323.59,171.7 323.67,167.2 323.75,162.3 323.83,167.1 323.91,161.6 323.98,167.6 324.06,161.1 324.14,167.8 324.22,161 324.3,168.4 324.38,172.3 324.45,168.3 324.53,171.5 324.61,168.2 324.69,172 324.77,168.2 324.85,172.2 324.92,167.3 325,161.7 325.08,168.4 325.16,161.3 325.24,167.8 325.32,162.1 325.4,168.1 325.47,159.6 325.55,166.9 325.63,162.6 325.71,167.6 325.79,161 325.87,167.4 325.94,171.3 326.02,168.6 326.1,170.4 326.18,167.3 326.26,171.4 326.34,168 326.41,169.8 326.49,171.5 326.57,181 326.65,176.9 326.73,186 326.81,183.7 326.88,192.3 326.96,189.6 327.04,196.9 327.12,194.4 327.2,203.4 327.28,199.7 327.36,208.4 327.43,206.7 327.51,215.4 327.59,211.5 327.67,220.7 327.75,215.2 327.83,221.7 327.9,215.8 327.98,222.5 328.06,217.2 328.14,224.7 328.22,219.1 328.3,224.9 328.37,219.9 328.45,227.6 328.53,222 328.61,228.3 328.69,221.2 328.77,227 328.84,221.3 328.92,228.8 329,222.6 329.08,228.4 329.16,223.3 329.24,228.8 329.32,224 329.39,231.1 329.47,226 329.55,234.2 329.63,229 329.71,237.1 329.79,232.7 329.86,238.9 329.94,234.4 330.02,243 330.1,245.3 330.18,243.7 330.26,239.7 330.33,243.7 330.41,239.8 330.49,243.5 330.57,240.5 330.65,239.2 330.73,239.6 330.8,243.8 330.88,240.5 330.96,244.3 331.04,239.7 331.12,243.6 331.2,239.8 331.28,245 331.35,240 331.43,244.3 331.51,239.2 331.59,243.7 331.67,240 331.75,243.7 331.82,244.6 331.9,243.9 331.98,240.6 332.06,244.3 332.14,239.6 332.22,243.8 332.29,240.3 332.37,244.3 332.45,239.8 332.53,243.8 332.61,239.9 332.69,238 332.76,240.3 332.84,243.8 332.92,239.8 333,243.9 333.08,240.1 333.16,244.7 333.23,240.2 333.31,244.3 333.39,240.4 333.47,243.8 333.55,239.7 333.63,244.3 333.71,240.2 333.78,244.8 333.86,240.3 333.94,238.9 334.02,239.7 334.1,243.6 334.18,239.9 334.25,243.8 334.33,239.7 334.41,243.5 334.49,240.4 334.57,244.3 334.65,240.3 334.72,245 334.8,240.1 334.88,244.3 334.96,239.7 335.04,243.9 335.12,240 335.19,244 335.27,239.8 335.35,243.7 335.43,239.7 335.51,243.4 335.59,239.8 335.67,244 335.74,239.1 335.82,244 335.9,240.3 335.98,243.7 336.06,239.7 336.14,243.8 336.21,244.6 336.29,238.7 336.37,240.6 336.45,243.5 336.53,240.1 336.61,244.2 336.68,240.5 336.76,244 336.84,239.8 336.92,245.5 337,240.4 337.08,243.6 337.15,240.3 337.23,239.4 337.31,239.6 337.39,244.1 337.47,239.7 337.55,243.6 337.63,240.6 337.7,244.3 337.78,239.9 337.86,244.2 337.94,245.3 338.02,244.3 338.1,240.6 338.17,243.9 338.25,239.7 338.33,244.3 338.41,239.7 338.49,244.3 338.57,237.6 338.64,244.9 338.72,240.1 338.8,244.3 338.88,240.5 338.96,244.1 339.04,238.7 339.11,243.9 339.19,239.7 339.27,244.3 339.35,239.6 339.43,244.2 339.51,239.6 339.58,244 339.66,239.8 339.74,237.2 339.82,239.9 339.9,244.2 339.98,239.7 340.06,243.8 340.13,245.6 340.21,244 340.29,239.7 340.37,243.7 340.45,240.6 340.53,244.3 340.6,245 340.68,244 340.76,239.9 340.84,243.6 340.92,239.5 341,244.3 341.07,240 341.15,244.1 341.23,239.8 341.31,244.3 341.39,240.6 341.47,244.3 341.54,239.7 341.62,243.8 341.7,238.8 341.78,243.5 341.86,239.8 341.94,244.2 342.02,239.7 342.09,244.7 342.17,239.7 342.25,244 342.33,240.3 342.41,244.2 342.49,240.3 342.56,239.5 342.64,240.1 342.72,243.4 342.8,240.5 342.88,244.3 342.96,239.8 343.03,243.7 343.11,245 343.19,244.2 343.27,240.1 343.35,243.9 343.43,240.1 343.5,243.7 343.58,239.9 343.66,244.3 343.74,239.7 343.82,239.3 343.9,244.7 343.98,243.6 344.05,240.5 344.13,243.4 344.21,239.6 344.29,244.2 344.37,240.3 344.45,243.9 344.52,239.9 344.6,244.1 344.68,245.4 344.76,239.6 344.84,239.9 344.92,244.2 344.99,240 345.07,243.4 345.15,240.2 345.23,243.5 345.31,239.9 345.39,243.6 345.46,239.6 345.54,244.3 345.62,240.4 345.7,245.6 345.78,240.1 345.86,243.8 345.93,238 346.01,243.4 346.09,240.4 346.17,244.3 346.25,240.2 346.33,244.3 346.41,240.2 346.48,244.2 346.56,240.1 346.64,244.6 346.72,240.6 346.8,243.8 346.88,240 346.95,244.3 347.03,240.2 347.11,243.4 347.19,240.3 347.27,238.7 347.35,239.6 347.42,245.2 347.5,240 347.58,244 347.66,240.5 347.74,244.2 347.82,240.4 347.89,243.5 347.97,238.6 348.05,243.5 348.13,240 348.21,244 348.29,240.3 348.37,244.2 348.44,239.6 348.52,243.4 348.6,240 348.68,243.4 348.76,239.8 348.84,244.8 348.91,239.7 348.99,244.2 349.07,239.5 349.15,244.3 349.23,239.6 349.31,243.9 349.38,240.2 349.46,244.3 349.54,240.3 349.62,244.3 349.7,239.8 349.78,239.1 349.85,244.8 349.93,244.1 350.01,239.9 350.09,244.3 350.17,240.4 350.25,244.2 350.33,239.9 350.4,244 350.48,239.7 350.56,244.2 350.64,239.6 350.72,244.1 350.8,239.6 350.87,245.5 350.95,239.6 351.03,243.8 351.11,239.4 351.19,244.1 351.27,240.2 351.34,244.2 351.42,245.1 351.5,244.3 351.58,240.3 351.66,243.6 351.74,240.1 351.81,244.3 351.89,240 351.97,243.7 352.05,239.8 352.13,244.3 352.21,240.1 352.29,244.2 352.36,240.6 352.44,243.7 352.52,245 352.6,244.3 352.68,240 352.76,243.7 352.83,240.2 352.91,238.7 352.99,238.6 353.07,244.1 353.15,239.6 353.23,243.5 353.3,239.8 353.38,244.3 353.46,240.1 353.54,244.3 353.62,240.4 353.7,244 353.77,244.7 353.85,244.3 353.93,239.6 354.01,243.5 354.09,238.8 354.17,244.2 354.24,239.7 354.32,244 354.4,239.6 354.48,243.5 354.56,240.3 354.64,244.2 354.72,240.2 354.79,244.7 354.87,240.4 354.95,243.4 355.03,240.5 355.11,243.6 355.19,240.6 355.26,244.2 355.34,240.2 355.42,239.5 355.5,240.4 355.58,244.9 355.66,239.5 355.73,244.3 355.81,239.7 355.89,244 355.97,239.6 356.05,244.2 356.13,240.1 356.2,244.2 356.28,240.4 356.36,244.3 356.44,239.6 356.52,243.7 356.6,244.6 356.68,244.3 356.75,240.2 356.83,243.5 356.91,239.6 356.99,243.3 357.07,240.5 357.15,243.6 357.22,245 357.3,239.2 357.38,240.3 357.46,243.7 357.54,239.6 357.62,244.3 357.69,239.6 357.77,244.3 357.85,239.1 357.93,244.1 358.01,239.7 358.09,244.3 358.16,240.3 358.24,244 358.32,240.3 358.4,244.2 358.48,239.9 358.56,244 358.64,244.7 358.71,244.3 358.79,240.1 358.87,239.4 358.95,240.6 359.03,243.4 359.11,240 359.18,243.8 359.26,240.3 359.34,243.4 359.42,239.6 359.5,244.9 359.58,240.4 359.65,243.3 359.73,240 359.81,243.8 359.89,240.3 359.97,243.8 360.05,239.6 360.12,243.6 360.2,239.9 360.28,243.6 360.36,245 360.44,243.8 360.52,239.2 360.59,243.9 360.67,240.4 360.75,244 360.83,240 360.91,244.3 360.99,240 361.07,244.2 361.14,240 361.22,245.1 361.3,239.8 361.38,244 361.46,239.7 361.54,244.3 361.61,240 361.69,243.9 361.77,240.7 361.85,244.3 361.93,239.7 362.01,244.2 362.08,240 362.16,244.3 362.24,240.6 362.32,244.3 362.4,244.9 362.48,244.3 362.55,240.2 362.63,244.3 362.71,240 362.79,243.9 362.87,240 362.95,239.6 363.03,239.8 363.1,244.1 363.18,239.9 363.26,244.2 363.34,239.6 363.42,244.3 363.5,245.6 363.57,244.2 363.65,240.6 363.73,238.5 363.81,239.7 363.89,243.4 363.97,239.9 364.04,244.1 364.12,240 364.2,244.2 364.28,240 364.36,241.9 364.44,246.5 364.51,241 364.59,246.6 364.67,241.8 364.75,245.9 364.83,242.2 364.91,245.9 364.99,241.8 365.06,246.5 365.14,241.8 365.22,246.5 365.3,246.9 365.38,246.4 365.46,241.9 365.53,246.5 365.61,242.8 365.69,245.9 365.77,242.2 365.85,246.5 365.93,242.3 366,246.3 366.08,241.2 366.16,245.8 366.24,242.7 366.32,245.7 366.4,247.5 366.47,246.6 366.55,241.7 366.63,246.1 366.71,242.3 366.79,246.1 366.87,241.9 366.94,246.5 367.02,246.9 367.1,246.1 367.18,241.8 367.26,245.9 367.34,242.9 367.42,245.9 367.49,241.9 367.57,245.8 367.65,242.1 367.73,245.9 367.81,242 367.89,246.2 367.96,242.3 368.04,246 368.12,241.9 368.2,245.9 368.28,242.3 368.36,246.7 368.43,241.8 368.51,245.8 368.59,242.8 368.67,245.9 368.75,242.4 368.83,246.3 368.9,241.8 368.98,246.6 369.06,241.9 369.14,246 369.22,242.4 369.3,246.5 369.38,242 369.45,246.2 369.53,242 369.61,246.4 369.69,242.9 369.77,246 369.85,242 369.92,245.8 370,247 370.08,245.9 370.16,241.8 370.24,245.8 370.32,241.9 370.39,246.4 370.47,242.5 370.55,246.5 370.63,242.6 370.71,245.8 370.79,242.1 370.86,239.5 370.94,242.8 371.02,246.6 371.1,246.9 371.18,245.5 371.26,242.5 371.34,246.1 371.41,242 371.49,246.6 371.57,241.3 371.65,245.7 371.73,242.9 371.81,246.1 371.88,246.7 371.96,246.2 372.04,242.2 372.12,246.1 372.2,241.8 372.28,246.4 372.35,239.5 372.43,246.5 372.51,242 372.59,246.3 372.67,241.9 372.75,246.5 372.82,242 372.9,246.6 372.98,241.8 373.06,246.3 373.14,242.5 373.22,245.9 373.3,242.2 373.37,245.9 373.45,241.8 373.53,241.3 373.61,241.9 373.69,246.5 373.77,241.8 373.84,246 373.92,241.4 374,246.7 374.08,242.4 374.16,246.3 374.24,242.4 374.31,246.5 374.39,242.5 374.47,245.9 374.55,242.6 374.63,245.8 374.71,241.8 374.78,245.9 374.86,242.7 374.94,245.9 375.02,242.5 375.1,246.8 375.18,241.9 375.25,241.6 375.33,242.5 375.41,245.5 375.49,242.4 375.57,246.2 375.65,242.2 375.73,246.1 375.8,242 375.88,247.1 375.96,242.1 376.04,246.5 376.12,242.4 376.2,246.1 376.27,240.9 376.35,246 376.43,242.1 376.51,245.7 376.59,242.6 376.67,245.8 376.74,241.8 376.82,246.1 376.9,241.8 376.98,247.5 377.06,242.3 377.14,245.9 377.21,240.6 377.29,246.5 377.37,242 377.45,245.6 377.53,241.9 377.61,245.7 377.69,242.5 377.76,246.4 377.84,241.8 377.92,246.2 378,246.8 378.08,246.1 378.16,242 378.23,246.5 378.31,242.4 378.39,245.5 378.47,241.9 378.55,245.8 378.63,239.7 378.7,246.4 378.78,242.8 378.86,246.4 378.94,242.1 379.02,246 379.1,242.2 379.17,246.3 379.25,247 379.33,246.5 379.41,242 379.49,246.5 379.57,241.9 379.65,245.7 379.72,242.2 379.8,246.4 379.88,242.2 379.96,246.3 380.04,241.9 380.12,247.4 380.19,242.7 380.27,246 380.35,239.5 380.43,246.5 380.51,242 380.59,246.2 380.66,242.2 380.74,246 380.82,242.4 380.9,246 380.98,246.6 381.06,246.2 381.13,241.9 381.21,245.8 381.29,242.2 381.37,245.6 381.45,241.1 381.53,245.8 381.6,242.1 381.68,246.3 381.76,246.9 381.84,246 381.92,242.8 382,246 382.08,240.9 382.15,245.6 382.23,242.4 382.31,245.7 382.39,242.7 382.47,245.6 382.55,242.1 382.62,246.3 382.7,242.1 382.78,247.5 382.86,242.8 382.94,245.7 383.02,241.9 383.09,245.9 383.17,242 383.25,240.6 383.33,242.7 383.41,246 383.49,241.9 383.56,245.9 383.64,246.6 383.72,245.8 383.8,242.4 383.88,246.2 383.96,242.4 384.04,246.2 384.11,242 384.19,241.4 384.27,242.1 384.35,246.4 384.43,242.7 384.51,246.3 384.58,241.8 384.66,246.3 384.74,241.9 384.82,246.4 384.9,246.7 384.98,246.2 385.05,242.4 385.13,246.4 385.21,242.3 385.29,241.6 385.37,241.8 385.45,246.1 385.52,242 385.6,245.5 385.68,241.9 385.76,246.5 385.84,242.7 385.92,246.2 386,242.6 386.07,245.5 386.15,247.2 386.23,241.8 386.31,242.3 386.39,241.1 386.47,242.4 386.54,245.8 386.62,247 386.7,246.5 386.78,242.1 386.86,246.5 386.94,241.9 387.01,245.6 387.09,242 387.17,245.8 387.25,242 387.33,246.3 387.41,242.4 387.48,246 387.56,241.9 387.64,245.7 387.72,242.4 387.8,246.3 387.88,241.6 387.95,246.4 388.03,247.2 388.11,253.4 388.19,247.7 388.27,251.3 388.35,247.8 388.43,246.7 388.5,247.9 388.58,251.5 388.66,247.1 388.74,252.5 388.82,247.3 388.9,251.3 388.97,247.2 389.05,250.9 389.13,247.3 389.21,251.5 389.29,247.9 389.37,251 389.44,243.7 389.52,251.3 389.6,247.8 389.68,251.3 389.76,252.7 389.84,251.6 389.91,247.6 389.99,251.7 390.07,247.3 390.15,251.4 390.23,247.1 390.31,251.6 390.39,247.1 390.46,251.7 390.54,247.9 390.62,251.7 390.7,247 390.78,243.8 390.86,253.4 390.93,250.7 391.01,247.6 391.09,251.6 391.17,247.9 391.25,250.9 391.33,247 391.4,251.2 391.48,247.8 391.56,245.2 391.64,248.1 391.72,251.2 391.8,247.8 391.87,251.3 391.95,247.5 392.03,253 392.11,247.2 392.19,251.7 392.27,247.6 392.35,251.4 392.42,247.5 392.5,245.1 392.58,247.2 392.66,250.9 392.74,252.5 392.82,251.5 392.89,247.3 392.97,250.9 393.05,247.2 393.13,251.4 393.21,247 393.29,251.5 393.36,247.4 393.44,250.9 393.52,247.1 393.6,252.9 393.68,247.5 393.76,245.3 393.83,247.9 393.91,250.9 393.99,247.1 394.07,251.6 394.15,247.2 394.23,251 394.31,247.3 394.38,251.3 394.46,247 394.54,250.9 394.62,253 394.7,251.7 394.78,247.7 394.85,251.6 394.93,247.7 395.01,251 395.09,247.1 395.17,251.7 395.25,247.6 395.32,251.3 395.4,243.7 395.48,250.9 395.56,247.9 395.64,251.4 395.72,247 395.79,253.4 395.87,248 395.95,251.7 396.03,247.2 396.11,246 396.19,247 396.26,251 396.34,247.3 396.42,251.7 396.5,247 396.58,252.4 396.66,247.6 396.74,251 396.81,247.4 396.89,251.1 396.97,247.4 397.05,251.1 397.13,247.1 397.21,245.4 397.28,247.8 397.36,245.6 397.44,248 397.52,250.9 397.6,247 397.68,251.7 397.75,247.7 397.83,252.9 397.91,247.1 397.99,251.5 398.07,247.2 398.15,251.6 398.22,247 398.3,251.5 398.38,247.3 398.46,251.7 398.54,246.5 398.62,251.6 398.7,253.2 398.77,250.9 398.85,247.1 398.93,251.4 399.01,247.1 399.09,251.2 399.17,247.3 399.24,250.7 399.32,246.6 399.4,251.6 399.48,247 399.56,251.6 399.64,247.3 399.71,251.2 399.79,247.8 399.87,251.3 399.95,252.4 400.03,251.5 400.11,247.5 400.18,250.9 400.26,247.4 400.34,246.9 400.42,247 400.5,253.3 400.58,247.3 400.66,251.5 400.73,247.5 400.81,251.6 400.89,247.6 400.97,251.7 401.05,247.1 401.13,251.2 401.2,247 401.28,251.7 401.36,252.5 401.44,250.9 401.52,247 401.6,250.8 401.67,247.4 401.75,246.3 401.83,247.1 401.91,251.7 401.99,247.4 402.07,251.2 402.14,247.8 402.22,247 402.3,247.7 402.38,253 402.46,247.2 402.54,251.7 402.61,247.9 402.69,250.7 402.77,247.9 402.85,251.7 402.93,247 403.01,251.2 403.09,247.6 403.16,250.8 403.24,247.4 403.32,250.8 403.4,253.3 403.48,250.8 403.56,247.7 403.63,251.5 403.71,248 403.79,251.7 403.87,247.1 403.95,251.4 404.03,247.6 404.1,246.3 404.18,247.3 404.26,251.7 404.34,247.2 404.42,251.4 404.5,247.4 404.57,251.7 404.65,247.1 404.73,251.5 404.81,252.4 404.89,251.4 404.97,247.7 405.05,251.7 405.12,248 405.2,250.8 405.28,247 405.36,251.5 405.44,247.4 405.52,252.4 405.59,247.8 405.67,251.7 405.75,247 405.83,250.9 405.91,248 405.99,251 406.06,247.8 406.14,247 406.22,247 406.3,251.2 406.38,247.6 406.46,250.9 406.53,247.8 406.61,253.2 406.69,247 406.77,246.2 406.85,253.6 406.93,246.3 407.01,251 407.08,246.2 407.16,250.4 407.24,246.7 407.32,250.7 407.4,246.6 407.48,250.6 407.55,225.1 407.63,253 407.71,234.2 407.79,251.4 407.87,240.7 407.95,251 408.02,243.2 408.1,251 408.18,245.4 408.26,251.3 408.34,246.4 408.42,251.1 408.49,246.3 408.57,251.3 408.65,248 408.73,251.4 408.81,246.2 408.89,250.9 408.96,247.3 409.04,250.6 409.12,246.7 409.2,251 409.28,246.6 409.36,232.5 409.44,240.7 409.51,239.2 409.59,246.3 409.67,242.7 409.75,246.2 409.83,245.5 409.91,246.5 409.98,246.4 410.06,246.2 410.14,247.5 410.22,245 410.3,248 410.38,247.2 410.45,248.3 410.53,246.8 410.61,248.5 410.69,252.8 410.77,248.6 410.85,246.6 410.92,248.7 411,243.5 411.08,248.7 411.16,229.5 411.24,248.7 411.32,237.2 411.4,250.5 411.47,241.5 411.55,252.3 411.63,243.8 411.71,250.7 411.79,246.2 411.87,250.8 411.94,246.8 412.02,250.8 412.1,246.3 412.18,251 412.26,247.1 412.34,237.4 412.41,248.4 412.49,250.8 412.57,246.3 412.65,250.4 412.73,246.6 412.81,251.2 412.88,246.5 412.96,251.4 413.04,246.2 413.12,250.5 413.2,246.4 413.28,247.9 413.36,253.2 413.43,247.2 413.51,251 413.59,247.2 413.67,250.9 413.75,247 413.83,250.7 413.9,247.7 413.98,251.4 414.06,247.3 414.14,253.6 414.22,247.2 414.3,251.3 414.37,247.6 414.45,251.7 414.53,248 414.61,251.2 414.69,247.9 414.77,251 414.84,248 414.92,250.7 415,247 415.08,250.8 415.16,247 415.24,245.7 415.32,247.1 415.39,251.4 415.47,254 415.55,251.7 415.63,247.2 415.71,251.3 415.79,248 415.86,251 415.94,248 416.02,250.7 416.1,245.4 416.18,247.6 416.26,239 416.33,241.3 416.41,233.8 416.49,236.1 416.57,228.5 416.65,231.6 416.73,223.6 416.8,226.1 416.88,217.9 416.96,220.9 417.04,212.7 417.12,215.4 417.2,207.2 417.27,209.7 417.35,202.2 417.43,207.7 417.51,202 417.59,208.2 417.67,201.5 417.75,207.4 417.82,202.1 417.9,201.4 417.98,200.2 418.06,207.1 418.14,200.3 418.22,205.6 418.29,200.6 418.37,206.2 418.45,199.8 418.53,206.6 418.61,199.9 418.69,205.8 418.76,200 418.84,206 418.92,198.8 419,205.3 419.08,199.2 419.16,204.1 419.23,198.3 419.31,205 419.39,197.9 419.47,204.7 419.55,198.1 419.63,203.8 419.71,197.5 419.78,204.1 419.86,197.1 419.94,197.9 420.02,196.5 420.1,203.5 420.18,197 420.25,203.2 420.33,194.2 420.41,202.3 420.49,196.9 420.57,202.5 420.65,195.3 420.72,202.5 420.8,195.3 420.88,201.5 420.96,195.8 421.04,202 421.12,195.8 421.19,201.4 421.27,194.2 421.35,201.3 421.43,191.3 421.51,193.9 421.59,187.7 421.67,189.7 421.74,184.5 421.82,187.4 421.9,180 421.98,182.7 422.06,176.8 422.14,179.4 422.21,173 422.29,175.4 422.37,169.1 422.45,172.1 422.53,166 422.61,158.3 422.68,165.3 422.76,159.1 422.84,165.8 422.92,158.3 423,166.4 423.08,158.6 423.15,166.6 423.23,160.4 423.31,166 423.39,159.3 423.47,166.3 423.55,160.7 423.62,167.2 423.7,160 423.78,166 423.86,160.3 423.94,166.7 424.02,160.1 424.1,166.1 424.17,173 424.25,166.8 424.33,171.9 424.41,166.9 424.49,171.8 424.57,165.9 424.64,171.6 424.72,158.2 424.8,159.9 424.88,167.6 424.96,160 425.04,166.8 425.11,159.7 425.19,167.4 425.27,159.9 425.35,167.5 425.43,161.7 425.51,166.6 425.58,160.7 425.66,168.3 425.74,179.5 425.82,168.1 425.9,181.2 425.98,167.5 426.06,181.4 426.13,167.9 426.21,180.2 426.29,167.5 426.37,162.1 426.45,168.2 426.53,161.9 426.6,176.2 426.68,160.6 426.76,179.1 426.84,161.2 426.92,177.1 427,160.5 427.07,178.2 427.15,160.6 427.23,168.2 427.31,161.5 427.39,168.7 427.47,178.4 427.54,172.9 427.62,162.7 427.7,169.4 427.78,163.7 427.86,170.2 427.94,171 428.02,170.6 428.09,171.8 428.17,170.6 428.25,172.6 428.33,170.4 428.41,172.6 428.49,170.3 428.56,165 428.64,171.3 428.72,163.7 428.8,171.2 428.88,163.7 428.96,170.5 429.03,164.1 429.11,171.7 429.19,160.6 429.27,170.8 429.35,163.5 429.43,171 429.5,164.2 429.58,171.4 429.66,163.4 429.74,171.1 429.82,178.6 429.9,169.8 429.97,176.2 430.05,169.7 430.13,177.9 430.21,170.8 430.29,176.2 430.37,170.5 430.45,161.3 430.52,170.5 430.6,161.5 430.68,169.7 430.76,164.1 430.84,169.1 430.92,162.4 430.99,170.1 431.07,162.6 431.15,171.3 431.23,163.3 431.31,171.9 431.39,162.1 431.46,172.4 431.54,190.3 431.62,178.9 431.7,162.3 431.78,168.6 431.86,162.8 431.93,169 432.01,162.8 432.09,167.7 432.17,162.4 432.25,168.6 432.33,162.7 432.41,184.4 432.48,175.4 432.56,169.1 432.64,169.6 432.72,169.2 432.8,170.4 432.88,169.5 432.95,171 433.03,168.3 433.11,169.4 433.19,169.5 433.27,162.8 433.35,168.1 433.42,162.3 433.5,158.1 433.58,161.5 433.66,169.1 433.74,162.6 433.82,168.9 433.89,162.7 433.97,170.7 434.05,162.4 434.13,170.8 434.21,161.8 434.29,169.9 434.37,161.9 434.44,170.7 434.52,160.6 434.6,159.1 434.68,161.1 434.76,168.2 434.84,160.5 434.91,167.3 434.99,160.2 435.07,166.4 435.15,160.4 435.23,166.7 435.31,169.1 435.38,166.7 435.46,169.4 435.54,165.7 435.62,169.9 435.7,165.7 435.78,168.9 435.85,165.6 435.93,158.5 436.01,166.5 436.09,158.7 436.17,166 436.25,158.1 436.33,165.4 436.4,158.6 436.48,164.9 436.56,159 436.64,164.8 436.72,157.3 436.8,164.9 436.87,157.1 436.95,164.1 437.03,157 437.11,172.4 437.19,156.8 437.27,172.2 437.34,156.5 437.42,171 437.5,158.2 437.58,171.2 437.66,158 437.74,164.7 437.81,158.3 437.89,164.8 437.97,158.2 438.05,164.1 438.13,159 438.21,168.6 438.28,159.1 438.36,169.7 438.44,158.9 438.52,169.4 438.6,158.7 438.68,168.5 438.76,159.1 438.83,157.5 438.91,159.9 438.99,166.5 439.07,158.8 439.15,166.6 439.23,155.6 439.3,165.7 439.38,159.7 439.46,165.8 439.54,159.1 439.62,165.7 439.7,158.3 439.77,173.4 439.85,158.9 439.93,172.3 440.01,157.5 440.09,173.4 440.17,158.7 440.24,171.3 440.32,158 440.4,165.1 440.48,158.2 440.56,165.4 440.64,157.5 440.72,166.5 440.79,158.6 440.87,166.8 440.95,170.8 441.03,165.6 441.11,170 441.19,166.7 441.26,169.7 441.34,167.1 441.42,171.7 441.5,166.8 441.58,158.6 441.66,165.4 441.73,159.1 441.81,156.6 441.89,158.1 441.97,165.4 442.05,157.7 442.13,165.4 442.2,157.9 442.28,164.1 442.36,157.3 442.44,164.8 442.52,156.9 442.6,164.6 442.68,171.4 442.75,164.2 442.83,173.1 442.91,165.5 442.99,173.6 443.07,164.4 443.15,171.4 443.22,164.5 443.3,159 443.38,153.2 443.46,156.9 443.54,164.9 443.62,157.4 443.69,164 443.77,157.4 443.85,164.7 443.93,173.9 444.01,168.9 444.09,176.5 444.16,173.4 444.24,181 444.32,177.9 444.4,185.4 444.48,181.1 444.56,190 444.63,186.8 444.71,194.4 444.79,190.7 444.87,198.2 444.95,193.5 445.03,202.8 445.11,198.3 445.18,206.4 445.26,201.7 445.34,209.7 445.42,206.8 445.5,213.7 445.58,208.4 445.65,217 445.73,211.1 445.81,219.4 445.89,214.2 445.97,221.8 446.05,216.1 446.12,224.7 446.2,220.1 446.28,226.3 446.36,221.7 446.44,229.8 446.52,224.8 446.59,232.5 446.67,227.4 446.75,234.3 446.83,229.3 446.91,236.1 446.99,232.4 447.07,235.6 447.14,239.2 447.22,236 447.3,241.4 447.38,236.3 447.46,239.1 447.54,236.2 447.61,239.5 447.69,235 447.77,239.4 447.85,236.5 447.93,241.4 448.01,236.3 448.08,239.7 448.16,236.5 448.24,239.1 448.32,235.8 448.4,239.6 448.48,235.6 448.55,237.1 448.63,236.1 448.71,238.9 448.79,236.2 448.87,239.1 448.95,236.1 449.03,233.7 449.1,235.3 449.18,239.7 449.26,228.2 449.34,239.3 449.42,236.1 449.5,209.5 449.57,235.7 449.65,235.5 449.73,216.8 449.81,239.2 449.89,235.7 449.97,223.9 450.04,236 450.12,239.6 450.2,226.6 450.28,239 450.36,236.4 450.44,229.7 450.51,236.1 450.59,239.7 450.67,231.8 450.75,235.4 450.83,236.5 450.91,233.1 450.98,236.2 451.06,239.5 451.14,234.1 451.22,239.2 451.3,236.4 451.38,234.9 451.46,235.7 451.53,234.8 451.61,235.6 451.69,238.9 451.77,236.2 451.85,236.2 451.93,235.8 452,235.5 452.08,236.3 452.16,242 452.24,233.9 452.32,236.9 452.4,235.6 452.47,229.2 452.55,235.9 452.63,239.6 452.71,211.8 452.79,237.2 452.87,235.7 452.94,219.4 453.02,235.6 453.1,239.2 453.18,224.8 453.26,237.4 453.34,235 453.42,227.4 453.49,235.9 453.57,238.8 453.65,230.6 453.73,237.5 453.81,236 453.89,232.1 453.96,235.6 454.04,239 454.12,233.7 454.2,237.6 454.28,236.3 454.36,234.6 454.43,233.5 454.51,239.2 454.59,235.2 454.67,241.5 454.75,235.6 454.83,235.8 454.9,236.5 454.98,237.1 455.06,236.3 455.14,234.2 455.22,236.2 455.3,236.6 455.38,236.5 455.45,233.9 455.53,236.4 455.61,239.4 455.69,228.2 455.77,237.1 455.85,236.1 455.92,211 456,235.8 456.08,241.3 456.16,219.7 456.24,237.3 456.32,235 456.39,222.7 456.47,234.4 456.55,239.7 456.63,227.3 456.71,237.5 456.79,241.1 456.86,230.4 456.94,236.1 457.02,239.5 457.1,231.7 457.18,237.6 457.26,236.5 457.34,233.5 457.41,235.6 457.49,239.7 457.57,234.3 457.65,239.6 457.73,235.8 457.81,235.3 457.88,236.2 457.96,242.1 458.04,235.7 458.12,235 458.2,235.7 458.28,236.4 458.35,235.9 458.43,239 458.51,236 458.59,234.2 458.67,236 458.75,236.9 458.82,228.4 458.9,241.6 458.98,236.4 459.06,210.3 459.14,234.8 459.22,237.3 459.29,219.2 459.37,239.7 459.45,236.3 459.53,224.6 459.61,236.2 459.69,237.4 459.77,226.4 459.84,239 459.92,235.7 460,229.3 460.08,235.9 460.16,237.5 460.24,231.9 460.31,239.4 460.39,236.5 460.47,233.3 460.55,236 460.63,237.6 460.71,234.1 460.78,239.3 460.86,241.8 460.94,235.3 461.02,235.7 461.1,235.6 461.18,235.6 461.25,239.6 461.33,235.6 461.41,236.2 461.49,235.7 461.57,236.1 461.65,236.3 461.73,239.3 461.8,233.8 461.88,236.8 461.96,236 462.04,227.1 462.12,235 462.2,238.9 462.27,208.8 462.35,237.2 462.43,235.7 462.51,218.3 462.59,236.3 462.67,239.4 462.74,221.8 462.82,237.4 462.9,236.3 462.98,226.9 463.06,235.7 463.14,238.9 463.21,229.6 463.29,237.5 463.37,235.7 463.45,231.3 463.53,235.8 463.61,241.2 463.69,233.3 463.76,237.6 463.84,236.1 463.92,234.2 464,236.4 464.08,239.1 464.16,234.5 464.23,238.9 464.31,236.1 464.39,235.5 464.47,241.8 464.55,237.2 464.63,235.6 464.7,239.7 464.78,235.9 464.86,235.1 464.94,235.6 465.02,234.2 465.1,236 465.17,239.7 465.25,227.5 465.33,237.1 465.41,235.9 465.49,211 465.57,235.7 465.64,239 465.72,218.2 465.8,237.3 465.88,236.3 465.96,222.9 466.04,235.8 466.12,238.9 466.19,227.7 466.27,237.5 466.35,236.4 466.43,230.3 466.51,237.5 466.59,239.3 466.66,231.8 466.74,237.6 466.82,235.7 466.9,233.1 466.98,234.6 467.06,239.3 467.13,234.4 467.21,239.7 467.29,236.5 467.37,235.4 467.45,234.5 467.53,239.1 467.6,235.7 467.68,239.3 467.76,236 467.84,236.3 467.92,235.7 468,236.2 468.08,236.4 468.15,239 468.23,233.8 468.31,236.9 468.39,236.1 468.47,228.6 468.55,235.7 468.62,239.1 468.7,210.3 468.78,237.2 468.86,234.9 468.94,218.4 469.02,236.2 469.09,238.8 469.17,224.6 469.25,237.4 469.33,235.6 469.41,227.3 469.49,237.5 469.56,239.4 469.64,229.6 469.72,237.5 469.8,235.6 469.88,232 469.96,235.9 470.04,239.3 470.11,232.9 470.19,237.6 470.27,235.8 470.35,234.5 470.43,241.3 470.51,239.4 470.58,234.4 470.66,239.1 470.74,236 470.82,235.8 470.9,235.6 470.98,237.1 471.05,236.1 471.13,239 471.21,236.2 471.29,236.6 471.37,236.2 471.45,234 471.52,236.1 471.6,239.3 471.68,227 471.76,237.1 471.84,236.5 471.92,209.5 471.99,236.2 472.07,239.7 472.15,217 472.23,237.4 472.31,235.9 472.39,224 472.47,235.7 472.54,239 472.62,227.6 472.7,237.5 472.78,235.9 472.86,229.6 472.94,235.7 473.01,239.7 473.09,231.5 473.17,237.6 473.25,236.1 473.33,232.8 473.41,237.6 473.48,238.9 473.56,234.1 473.64,239.1 473.72,236.3 473.8,235.2 473.88,235.6 473.95,239.3 474.03,232.4 474.11,237.1 474.19,236.4 474.27,236.1 474.35,235.8 474.43,239.2 474.5,236.6 474.58,234 474.66,236 474.74,236.9 474.82,227.5 474.9,239 474.97,236.4 475.05,210.3 475.13,235.8 475.21,235.5 475.29,217.2 475.37,239.2 475.44,235.9 475.52,224.4 475.6,236.1 475.68,237.4 475.76,226.8 475.84,239.4 475.91,235 475.99,229.9 476.07,236 476.15,237.5 476.23,231.3 476.31,239.7 476.39,235.7 476.46,233.1 476.54,235.8 476.62,237.6 476.7,234.4 476.78,239.4 476.86,234.8 476.93,235.2 477.01,236.3 477.09,239.7 477.17,235.9 477.25,239.1 477.33,237.1 477.4,236.3 477.48,236.3 477.56,234.6 477.64,236.3 477.72,238.9 477.8,234.2 477.87,236.8 477.95,236.3 478.03,227.7 478.11,235.7 478.19,239.6 478.27,209.5 478.35,237.2 478.42,236.1 478.5,219.6 478.58,236.2 478.66,239 478.74,223.4 478.82,234.3 478.89,236.1 478.97,227.5 479.05,236.2 479.13,238.8 479.21,230.1 479.29,237.5 479.36,241.6 479.44,231.2 479.52,236.1 479.6,239.4 479.68,239 479.76,242.9 479.83,238.9 479.91,243.7 479.99,239.1 480.07,238.1 480.15,239.1 480.23,243.8 480.3,239.4 480.38,243.8 480.46,237.7 480.54,243.4 480.62,238.9 480.7,243.9 480.78,245.2 480.85,243.8 480.93,238.9 481.01,243 481.09,238.7 481.17,243.1 481.25,237.8 481.32,243.1 481.4,239.5 481.48,243.2 481.56,245 481.64,243.6 481.72,239.1 481.79,244 481.87,239 481.95,244 482.03,239.4" stroke="url(#g3)" class="l"/><text class="t" transform="translate(278.75 265.7) scale(1 1.07)" text-anchor="middle">265</text><text class="t" transform="translate(319.5 265.7) scale(1 1.07)" text-anchor="middle">266</text><text class="t" transform="translate(360.25 265.7) scale(1 1.07)" text-anchor="middle">267</text><text class="t" transform="translate(401 265.7) scale(1 1.07)" text-anchor="middle">268</text><text class="t" transform="translate(441.75 265.7) scale(1 1.07)" text-anchor="middle">269</text><text class="t" transform="translate(482.5 265.7) scale(1 1.07)" text-anchor="middle">270</text><text class="t" transform="translate(266 233.5) scale(1 1.07)" text-anchor="end">0.4</text><text class="t" transform="translate(266 203.88) scale(1 1.07)" text-anchor="end">0.6</text><text class="t" transform="translate(266 174.25) scale(1 1.07)" text-anchor="end">0.8</text><text class="a" transform="translate(381.3 273.4) scale(1 1.07)" text-anchor="middle">Time(s)</text><text class="v" transform="translate(254.99 202.7) rotate(-90) scale(1.025 1)" text-anchor="middle">Current(A)</text><text class="h" transform="translate(383 145.2) scale(1 1.07)" text-anchor="middle">Raspberry Pi: Hydra T4 IKE</text></g>
<g><rect x="23.1" y="282.9" width="223.9" height="111.7" fill="#EBEBEB"/><path d="M53.71 282.9V394.6M94.53 282.9V394.6M135.35 282.9V394.6M176.17 282.9V394.6M216.99 282.9V394.6M23.1 364.19H247M23.1 327.56H247M23.1 290.94H247" stroke="#fff" stroke-opacity=".9" stroke-width=".38" fill="none"/><path d="M33.3 282.9V394.6M74.12 282.9V394.6M114.94 282.9V394.6M155.76 282.9V394.6M196.58 282.9V394.6M237.4 282.9V394.6M23.1 382.5H247M23.1 345.88H247M23.1 309.25H247" stroke="#fff" stroke-width=".7" fill="none"/><path d="M33.3 394.6v2M74.12 394.6v2M114.94 394.6v2M155.76 394.6v2M196.58 394.6v2M237.4 394.6v2M23.1 382.5h-2M23.1 345.88h-2M23.1 309.25h-2" stroke="#333" stroke-width=".55" fill="none"/><polyline points="33.3,377 33.38,382.6 33.46,374.5 33.54,379.1 33.61,370.2 33.69,374.3 33.77,365.7 33.85,369.4 33.93,361.1 34.01,366.9 34.09,342.2 34.16,352.8 34.24,363.3 34.32,360.8 34.4,363.7 34.48,370.1 34.56,351.4 34.64,359.2 34.71,366.3 34.79,372 34.87,367 34.95,373.1 35.03,368.2 35.11,357.4 35.18,369.8 35.26,375.4 35.34,370 35.42,376.6 35.5,370.5 35.58,376.8 35.66,365.2 35.73,377.7 35.81,371.6 35.89,379 35.97,372.5 36.05,379.7 36.13,373 36.21,380.3 36.28,373.4 36.36,380.7 36.44,374.6 36.52,381.2 36.6,376.1 36.68,382.2 36.76,361.2 36.83,382.6 36.91,375.9 36.99,382.4 37.07,377 37.15,382.6 37.23,378.2 37.31,383.4 37.38,380.4 37.46,380 37.54,380.2 37.62,384.2 37.7,379.5 37.78,383 37.85,377.9 37.93,380.6 38.01,376.6 38.09,380.5 38.17,375.8 38.25,380 38.33,375.5 38.4,380.3 38.48,376.2 38.56,389 38.64,377.3 38.72,382.1 38.8,379.4 38.88,383.9 38.95,380 39.03,384.3 39.11,380.6 39.19,384.5 39.27,380.4 39.35,384.1 39.43,389.8 39.5,384.3 39.58,380.8 39.66,384.2 39.74,380.9 39.82,384.2 39.9,380.7 39.98,384.9 40.05,380.7 40.13,384.7 40.21,380.4 40.29,384.5 40.37,381 40.45,384.9 40.52,380.4 40.6,384.6 40.68,380.6 40.76,379.7 40.84,381 40.92,385.1 41,380.4 41.07,388.3 41.15,380.5 41.23,383.6 41.31,379.8 41.39,382.9 41.47,378.3 41.55,382.2 41.62,377.6 41.7,388.1 41.78,377.4 41.86,380.6 41.94,376.9 42.02,381.4 42.1,377.5 42.17,381.2 42.25,378.4 42.33,382.7 42.41,379.1 42.49,383.1 42.57,380 42.65,384.1 42.72,380.6 42.8,384.6 42.88,380.3 42.96,384.3 43.04,387.7 43.12,384.1 43.19,381.3 43.27,384.1 43.35,380.9 43.43,385 43.51,380.4 43.59,384.8 43.67,380.4 43.74,384.1 43.82,380.6 43.9,384.4 43.98,380.4 44.06,384.6 44.14,380.3 44.22,384.9 44.29,381.1 44.37,384.8 44.45,381.1 44.53,388.1 44.61,380.7 44.69,384.5 44.77,380 44.84,383.7 44.92,379 45,382.1 45.08,386.5 45.16,381.1 45.24,376.7 45.32,380.4 45.39,375.8 45.47,379.5 45.55,375.9 45.63,379.7 45.71,376.4 45.79,381.4 45.86,378 45.94,382.4 46.02,379.6 46.1,384.1 46.18,380.1 46.26,384.5 46.34,380.7 46.41,386.4 46.49,380.6 46.57,384 46.65,380.4 46.73,384.9 46.81,380.6 46.89,384.1 46.96,380.4 47.04,384.9 47.12,376.9 47.2,384.6 47.28,380.7 47.36,384.7 47.44,381.1 47.51,384.3 47.59,381.2 47.67,384.8 47.75,380.9 47.83,386.5 47.91,380.4 47.99,384.7 48.06,380.6 48.14,384 48.22,380.7 48.3,374.1 48.38,379.8 48.46,382.8 48.53,379.1 48.61,382.1 48.69,377.1 48.77,380.1 48.85,375.8 48.93,389.2 49.01,375 49.08,378.6 49.16,375.7 49.24,379.5 49.32,376 49.4,381.1 49.48,377.5 49.56,381.8 49.63,388.1 49.71,384.2 49.79,380.9 49.87,384.4 49.95,381.3 50.03,384.8 50.11,380.4 50.18,384.7 50.26,381.2 50.34,384.7 50.42,380.7 50.5,385 50.58,380.5 50.66,384.5 50.73,378.4 50.81,384.6 50.89,381.1 50.97,384.3 51.05,389.7 51.13,384.9 51.2,380.4 51.28,384.4 51.36,380.8 51.44,384.8 51.52,381.2 51.6,384 51.68,380.7 51.75,384.5 51.83,380.9 51.91,384.1 51.99,379.7 52.07,382.7 52.15,378.4 52.23,386.7 52.3,377.9 52.38,380.9 52.46,376.6 52.54,379.9 52.62,375.6 52.7,379.2 52.78,375.6 52.85,380.2 52.93,377 53.01,381.6 53.09,377.8 53.17,382.6 53.25,379.1 53.33,383.8 53.4,380.5 53.48,386.2 53.56,380.9 53.64,384.5 53.72,380.4 53.8,384.8 53.87,380.4 53.95,384.9 54.03,381.3 54.11,385.1 54.19,380.8 54.27,384.8 54.35,381.3 54.42,379.7 54.5,380.5 54.58,384.8 54.66,380.9 54.74,388.1 54.82,380.4 54.9,384.9 54.97,381 55.05,384.1 55.13,381 55.21,384.5 55.29,380.3 55.37,385.1 55.45,380.8 55.52,388.3 55.6,379.2 55.68,382.1 55.76,377.7 55.84,380.5 55.92,379.8 56,379.6 56.07,375.1 56.15,378.1 56.23,374.4 56.31,378.2 56.39,375.3 56.47,379.4 56.54,375.9 56.62,380.9 56.7,377.9 56.78,389.4 56.86,379.7 56.94,384 57.02,380 57.09,384.6 57.17,380.4 57.25,385 57.33,381.3 57.41,385 57.49,380.3 57.57,384.8 57.64,380.3 57.72,384.9 57.8,380.4 57.88,384.4 57.96,380.6 58.04,385 58.12,380.3 58.19,388.6 58.27,381.4 58.35,384.6 58.43,373.3 58.51,384.5 58.59,381.3 58.67,385 58.74,380.6 58.82,384.9 58.9,380.4 58.98,384.5 59.06,380.6 59.14,384.4 59.21,380 59.29,388.8 59.37,378.1 59.45,381.3 59.53,376.8 59.61,380.2 59.69,375.4 59.76,380.2 59.84,375.5 59.92,380 60,375.5 60.08,380.2 60.16,376.9 60.24,381.5 60.31,378.2 60.39,388.6 60.47,379.3 60.55,383.8 60.63,380.2 60.71,384.4 60.79,380.3 60.86,384.9 60.94,380.3 61.02,384.9 61.1,380.3 61.18,385.1 61.26,380.9 61.34,384.6 61.41,388.1 61.49,384.5 61.57,381.2 61.65,384.6 61.73,380.8 61.81,379.8 61.88,380.8 61.96,384.5 62.04,381 62.12,384.4 62.2,381 62.28,384.1 62.36,381.2 62.43,384.7 62.51,380.6 62.59,384 62.67,380.4 62.75,386.6 62.83,379.4 62.91,382.6 62.98,378.7 63.06,382 63.14,376.7 63.22,380.9 63.3,377 63.38,380.3 63.46,375.9 63.53,379.7 63.61,376.5 63.69,381.2 63.77,377.7 63.85,382.3 63.93,389.5 64.01,383.7 64.08,379.9 64.16,384.2 64.24,380.7 64.32,384.4 64.4,381.4 64.48,381 64.56,372.8 64.63,379.2 64.71,372 64.79,377.4 64.87,371.4 64.95,363.6 65.03,369.3 65.1,375.7 65.18,368.6 65.26,373 65.34,367.5 65.42,371.7 65.5,364.5 65.58,371.7 65.65,363.3 65.73,356.6 65.81,373.6 65.89,369.1 65.97,361.8 66.05,367.6 66.13,362.6 66.2,368.9 66.28,361.5 66.36,368.7 66.44,362.6 66.52,360.9 66.6,362.7 66.68,369.4 66.75,361.5 66.83,369.4 66.91,362.4 66.99,369.6 67.07,363.2 67.15,346.6 67.23,355 67.3,367.5 67.38,363.4 67.46,370.4 67.54,363.4 67.62,370.4 67.7,363.3 67.77,371 67.85,356.6 67.93,372 68.01,364.7 68.09,371.6 68.17,364.7 68.25,372.6 68.32,365 68.4,371.8 68.48,365 68.56,372.1 68.64,364.5 68.72,371.9 68.8,359.5 68.87,370.6 68.95,364.7 69.03,369.8 69.11,366.8 69.19,370 69.27,361.8 69.35,369.2 69.42,362.1 69.5,359.5 69.58,360.9 69.66,367.7 69.74,359.3 69.82,366.6 69.9,360 69.97,366.1 70.05,348.8 70.13,355.7 70.21,357.5 70.29,366.1 70.37,359.5 70.44,364.9 70.52,359.3 70.6,367.1 70.68,360.4 70.76,366.1 70.84,358.8 70.92,366.6 70.99,360.7 71.07,368.1 71.15,366.9 71.23,369.4 71.31,362.4 71.39,369.5 71.47,362.5 71.54,369.8 71.62,354.5 71.7,369.3 71.78,363.4 71.86,369 71.94,362.8 72.02,369.8 72.09,363.1 72.17,369.8 72.25,363.5 72.33,368.9 72.41,361.9 72.49,340.4 72.57,351.3 72.64,370.2 72.72,363.6 72.8,370.2 72.88,363.4 72.96,361.5 73.04,365.3 73.11,370.9 73.19,364.9 73.27,372.8 73.35,365.6 73.43,372 73.51,366.1 73.59,373.6 73.66,374.7 73.74,374.9 73.82,367.8 73.9,375.5 73.98,369.6 74.06,367.9 74.14,368.7 74.21,376.9 74.29,369.2 74.37,368 74.45,371.3 74.53,376.4 74.61,370.1 74.69,377.5 74.76,371 74.84,378.6 74.92,372.1 75,377.8 75.08,372.5 75.16,378.7 75.24,371.8 75.31,379.7 75.39,380.5 75.47,379 75.55,373.1 75.63,379.8 75.71,374.4 75.78,381.3 75.86,374.8 75.94,381 76.02,374.8 76.1,381.1 76.18,375.1 76.26,373 76.33,375.7 76.41,383.6 76.49,377.3" stroke="url(#g4)" class="l"/><polyline points="78.22,387.3 78.3,384.8 78.38,380.8 78.45,383.5 78.53,379.9 78.61,383 78.69,378 78.77,381.5 78.85,380.1 78.93,380.3 79,376.6 79.08,380.6 79.16,376.2 79.24,380.4 79.32,376.6 79.4,381.5 79.48,377.9 79.55,387.2 79.63,378.9 79.71,383.9 79.79,372.1 79.87,383.9 79.95,380.9 80.03,385 80.1,380.5 80.18,389.7 80.26,380.8 80.34,384.1 80.42,381.2 80.5,384.3 80.58,380.9 80.65,384.3 80.73,381.2 80.81,384.9 80.89,381.2 80.97,384.2 81.05,380.9 81.12,384.3 81.2,381.3 81.28,384.7 81.36,380.4 81.44,384.1 81.52,381.4 81.6,385 81.67,376.2 81.75,388.8 81.83,380.4 81.91,384.6 81.99,380.8 82.07,383.1 82.15,378.9 82.22,382 82.3,378.1 82.38,380.3 82.46,376.6 82.54,388.2 82.62,375.4 82.7,379.6 82.77,375.5 82.85,379.8 82.93,376.4 83.01,380.6 83.09,377.2 83.17,381.6 83.25,379.2 83.32,382.9 83.4,379.9 83.48,384.1 83.56,379.8 83.64,385 83.72,380.9 83.79,385 83.87,380.9 83.95,384.7 84.03,381 84.11,387.7 84.19,380.3 84.27,384.4 84.34,380.6 84.42,385.1 84.5,380.9 84.58,384.1 84.66,380.9 84.74,384.1 84.82,386.9 84.89,384.5 84.97,381.2 85.05,384.7 85.13,380.4 85.21,384.5 85.29,381.3 85.37,384.2 85.44,380.4 85.52,384 85.6,379.5 85.68,383 85.76,378.1 85.84,381.1 85.92,376.9 85.99,388.1 86.07,375 86.15,378 86.23,377.1 86.31,377.9 86.39,374.2 86.46,379 86.54,375.5 86.62,380.1 86.7,377.6 86.78,381.6 86.86,378.5 86.94,383.2 87.01,380.4 87.09,384.6 87.17,389.9 87.25,384.9 87.33,381.2 87.41,384 87.49,381 87.56,385 87.64,380.9 87.72,384.3 87.8,380.8 87.88,384.8 87.96,379.3 88.04,385.1 88.11,380.6 88.19,385 88.27,388.8 88.35,384.1 88.43,381.2 88.51,384.5 88.59,380.6 88.66,384.4 88.74,380.7 88.82,384.6 88.9,380.5 88.98,384.9 89.06,380.4 89.13,384.1 89.21,380.3 89.29,383.1 89.37,378.3 89.45,381.1 89.53,376.5 89.61,380 89.68,375.7 89.76,378.3 89.84,374.8 89.92,378.5 90,386.8 90.08,378.5 90.16,378.3 90.23,380.7 90.31,377.1 90.39,382.2 90.47,379.5 90.55,383.5 90.63,380.7 90.71,383.9 90.78,381.1 90.86,386.3 90.94,380.3 91.02,384.2 91.1,380.5 91.18,385 91.26,380.7 91.33,384.3 91.41,380.5 91.49,385.1 91.57,380.6 91.65,384.4 91.73,380.9 91.81,387.1 91.88,380.3 91.96,384.3 92.04,380.3 92.12,385.1 92.2,380.6 92.28,384.1 92.35,380.9 92.43,384.1 92.51,380.8 92.59,384.8 92.67,380.8 92.75,384 92.83,379.7 92.9,383.1 92.98,378.3 93.06,380.9 93.14,370.9 93.22,380 93.3,375.8 93.38,388 93.45,374.7 93.53,378.7 93.61,375.3 93.69,379.9 93.77,376.8 93.85,380.7 93.93,377.9 94,382.3 94.08,379.1 94.16,384.4 94.24,380.1 94.32,387.9 94.4,380.6 94.48,385 94.55,381.3 94.63,384.7 94.71,380.7 94.79,384.3 94.87,380.3 94.95,384.9 95.02,380.7 95.1,384.6 95.18,389.9 95.26,384.9 95.34,378.8 95.42,384.1 95.5,381.2 95.57,384.9 95.65,381.2 95.73,385.1 95.81,381.1 95.89,384.3 95.97,380.8 96.05,384.6 96.12,380.8 96.2,384.3 96.28,386.8 96.36,384.3 96.44,379.3 96.52,383.2 96.6,379.4 96.67,387.9 96.75,379 96.83,382.5 96.91,377.4 96.99,380.8 97.07,376.5 97.15,379 97.22,374.7 97.3,378.6 97.38,374.6 97.46,377.7 97.54,385.1 97.62,377.9 97.69,375.5 97.77,379.7 97.85,376.3 97.93,380.1 98.01,377 98.09,381.8 98.17,378.2 98.24,383.1 98.32,379.4 98.4,383.3 98.48,379.3 98.56,383.4 98.64,379.2 98.72,386.9 98.79,379.1 98.87,383.4 98.95,379.5 99.03,383.3 99.11,379.6 99.19,383 99.27,378.7 99.34,382.9 99.42,379.3 99.5,378.6 99.58,379.1 99.66,383.3 99.74,378.7 99.82,383.2 99.89,378.8 99.97,387.1 100.05,374 100.13,383.3 100.21,379.3 100.29,382.7 100.36,378.5 100.44,381.6 100.52,376.7 100.6,379.7 100.68,375.5 100.76,379 100.84,373.9 100.91,387.7 100.99,373.9 101.07,377.5 101.15,373.6 101.23,378.2 101.31,374.4 101.39,378.9 101.46,376.1 101.54,380.4 101.62,377.3 101.7,381.5 101.78,379.1 101.86,382.4 101.94,379 102.01,373.9 102.09,379.6 102.17,382.7 102.25,378.8 102.33,385.3 102.41,379.2 102.49,383.3 102.56,379 102.64,375.4 102.72,379.1 102.8,383 102.88,379 102.96,382.9 103.03,378.7 103.11,375 103.19,378.9 103.27,367.9 103.35,373.6 103.43,359.9 103.51,365.7 103.58,353.4 103.66,359.5 103.74,346.8 103.82,352 103.9,341.6 103.98,345.3 104.06,334.5 104.13,339.8 104.21,328.5 104.29,332.2 104.37,319.3 104.45,328 104.53,318.7 104.61,328.4 104.68,339.4 104.76,333.8 104.84,318.7 104.92,334.4 105,316.5 105.08,332.5 105.16,323 105.23,333.8 105.31,322.8 105.39,336.8 105.47,320.5 105.55,323.8 105.63,320.1 105.7,334.1 105.78,324.4 105.86,334.9 105.94,320.3 106.02,335.2 106.1,319.8 106.18,332.2 106.25,316.2 106.33,329.1 106.41,315.3 106.49,328 106.57,318.3 106.65,333.2 106.73,319 106.8,333.3 106.88,316.3 106.96,327.6 107.04,320.1 107.12,317.1 107.2,319.2 107.28,335 107.35,316.4 107.43,335.1 107.51,321.9 107.59,335.1 107.67,317.2 107.75,329 107.83,322.1 107.9,334.1 107.98,322.9 108.06,333.9 108.14,321.6 108.22,329.6 108.3,316.7 108.37,330.8 108.45,327.5 108.53,332.5 108.61,320.4 108.69,328.8 108.77,316.4 108.85,328.1 108.92,318.8 109,329.7 109.08,316.6 109.16,330.4 109.24,312.2 109.32,329.8 109.4,329.6 109.47,322 109.55,316.3 109.63,324.7 109.71,316.3 109.79,323.2 109.87,310 109.95,328 110.02,317.2 110.1,328.2 110.18,313.9 110.26,324.4 110.34,314.5 110.42,329.1 110.5,321.5 110.57,333.8 110.65,316.4 110.73,334.9 110.81,321.9 110.89,335.6 110.97,324.1 111.04,335.8 111.12,320.2 111.2,333.5 111.28,317.3 111.36,332.9 111.44,319.5 111.52,334.1 111.59,320.1 111.67,332.3 111.75,317.8 111.83,336.4 111.91,319.6 111.99,332.1 112.07,321 112.14,337.7 112.22,319.8 112.3,331.8 112.38,321.8 112.46,331.7 112.54,322.9 112.62,334.4 112.69,317.9 112.77,335.2 112.85,325.2 112.93,336.8 113.01,323.5 113.09,331.8 113.17,324.6 113.24,334.5 113.32,321 113.4,336.3 113.48,320.7 113.56,341.9 113.64,324.7 113.71,335.7 113.79,319.9 113.87,335.8 113.95,323 114.03,338 114.11,321.3 114.19,334.6 114.26,319.9 114.34,337.1 114.42,328.8 114.5,341.8 114.58,328.5 114.66,337.2 114.74,324 114.81,342.9 114.89,330.6 114.97,338.8 115.05,325.6 115.13,331.8 115.21,329.9 115.29,336.8 115.36,327.9 115.44,319.1 115.52,325.7 115.6,339.2 115.68,325.8 115.76,341.7 115.84,325.6 115.91,337.4 115.99,325.4 116.07,336.4 116.15,325.7 116.23,320.5 116.31,323.2 116.38,340 116.46,327.9 116.54,335.6 116.62,324 116.7,333 116.78,318.4 116.86,336 116.93,317.3 117.01,335 117.09,316.7 117.17,332.6 117.25,315.7 117.33,332.8 117.41,317.7 117.48,332.6 117.56,319.8 117.64,329.6 117.72,318.5 117.8,329.9 117.88,316.2 117.96,324.8 118.03,314.9 118.11,324.6 118.19,310 118.27,324.7 118.35,312.2 118.43,319.8 118.51,310.6 118.58,318.9 118.66,306.9 118.74,322.2 118.82,310.5 118.9,325.5 118.98,311.5 119.05,328.1 119.13,310.4 119.21,324.8 119.29,318.3 119.37,325.8 119.45,316.2 119.53,333.3 119.6,313.5 119.68,329.2 119.76,313.7 119.84,327.6 119.92,314.9 120,326.3 120.08,316.6 120.15,330 120.23,316.4 120.31,315.1 120.39,314.5 120.47,325.5 120.55,314.7 120.63,330.6 120.7,315.1 120.78,322.8 120.86,324 120.94,328.6 121.02,309.2 121.1,323.5 121.18,310.9 121.25,326.2 121.33,307 121.41,322.4 121.49,308.3 121.57,323.4 121.65,313.6 121.73,320.5 121.8,306.1 121.88,321 121.96,305.9 122.04,314.2 122.12,302 122.2,318.2 122.27,300.2 122.35,311 122.43,302.9 122.51,312.8 122.59,301.1 122.67,312.9 122.75,299.8 122.82,322.6 122.9,303.8 122.98,312.1 123.06,301.9 123.14,302.7 123.22,318.5 123.3,297 123.37,318.2 123.45,298.7 123.53,313.7 123.61,303.6 123.69,318.6 123.77,296.7 123.85,311.2 123.92,296.6 124,317.5 124.08,297.5 124.16,306 124.24,301.4 124.32,318.8 124.4,304.6 124.47,340.7 124.55,298.1 124.63,314 124.71,297.4 124.79,316.1 124.87,297.6 124.94,318.1 125.02,299.5 125.1,310.5 125.18,302.9 125.26,313.3 125.34,295.1 125.42,316.5 125.49,293.7 125.57,302.2 125.65,299 125.73,312.3 125.81,292.6 125.89,307.4 125.97,291.6 126.04,308.8 126.12,297.3 126.2,312.8 126.28,336.3 126.36,311.1 126.44,289.9 126.52,312.1 126.59,294.3 126.67,307.5 126.75,289.7 126.83,306.8 126.91,305.9 126.99,306.4 127.07,291.5 127.14,311.1 127.22,292.2 127.3,310.4 127.38,287.6 127.46,309 127.54,293 127.61,303 127.69,288.3 127.77,310.3 127.85,290 127.93,307.5 128.01,300.4 128.09,308.5 128.16,295.4 128.24,310 128.32,300.3 128.4,311.2 128.48,298 128.56,311.2 128.64,304 128.71,313.5 128.79,300.1 128.87,321 128.95,306.6 129.03,321.4 129.11,302.5 129.19,324.1 129.26,304.4 129.34,296.5 129.42,307.9 129.5,317.8 129.58,304.4 129.66,320.9 129.74,306.7 129.81,319.3 129.89,302 129.97,323.8 130.05,303.6 130.13,319.8 130.21,304.9 130.28,320 130.36,299.8 130.44,301.7 130.52,302.5 130.6,315.5 130.68,300.8 130.76,312 130.83,326.8 130.91,316.4 130.99,302.8 131.07,318.5 131.15,301.1 131.23,317.6 131.31,302.9 131.38,320.1 131.46,300.2 131.54,315.2 131.62,303.9 131.7,303.8 131.78,301.1 131.86,319.8 131.93,304.1 132.01,318.3 132.09,300.8 132.17,321.4 132.25,300.3 132.33,321 132.41,300.2 132.48,321 132.56,307.9 132.64,323.3 132.72,302.6 132.8,304.5 132.88,302 132.95,323.5 133.03,303.8 133.11,323 133.19,305.6 133.27,316.8 133.35,308.8 133.43,320.9 133.5,304.3 133.58,314.5 133.66,299.4 133.74,317.8 133.82,306.8 133.9,318.8 133.98,306.8 134.05,312.4 134.13,298.4 134.21,316.8 134.29,297.4 134.37,318.9 134.45,296 134.53,317.9 134.6,301.3 134.68,312.9 134.76,299.8 134.84,311.3 134.92,295.1 135,315.5 135.08,295.6 135.15,316.3 135.23,295.9 135.31,318.1 135.39,296 135.47,313.4 135.55,305.5 135.62,314.9 135.7,303 135.78,313.6 135.86,296.6 135.94,316.2 136.02,297.9 136.1,313.1 136.17,298.2 136.25,315.9 136.33,298.6 136.41,318.3 136.49,299.7 136.57,313.8 136.65,301.4 136.72,317.3 136.8,299.8 136.88,314.9 136.96,298.9 137.04,314.6 137.12,298.6 137.2,316.7 137.27,296.4 137.35,317.2 137.43,297.9 137.51,316.6 137.59,302.6 137.67,315.5 137.75,297.4 137.82,296.7 137.9,298.6 137.98,309.8 138.06,301.4 138.14,312.4 138.22,301.6 138.29,310.4 138.37,336.9 138.45,311.6 138.53,303.9 138.61,315.9 138.69,298.9 138.77,321.9 138.84,303.6 138.92,323.2 139,300 139.08,318.2 139.16,308 139.24,317.9 139.32,308.9 139.39,323 139.47,309 139.55,322.1 139.63,308.7 139.71,320.7 139.79,304.1 139.87,323.1 139.94,324.3 140.02,317 140.1,308.8 140.18,301.1 140.26,304.8 140.34,322.2 140.42,304.2 140.49,318.7 140.57,301.8 140.65,324.4 140.73,306.7 140.81,321.4 140.89,302 140.96,318.5 141.04,303 141.12,314.9 141.2,300.1 141.28,314 141.36,306.6 141.44,320.7 141.51,300.4 141.59,299.5 141.67,301.7 141.75,315.1 141.83,302 141.91,319.7 141.99,304.4 142.06,314.9 142.14,300.1 142.22,315.7 142.3,306.3 142.38,322.1 142.46,301.4 142.54,322.5 142.61,305 142.69,321.8 142.77,304.6 142.85,318.8 142.93,305 143.01,321.3 143.09,301.5 143.16,324 143.24,302.4 143.32,311.1 143.4,304.7 143.48,323.2 143.56,301.7 143.63,317.7 143.71,300.6 143.79,317.4 143.87,303.2 143.95,303.3 144.03,303 144.11,320.3 144.18,303.2 144.26,322.2 144.34,301.4 144.42,321.9 144.5,300.2 144.58,317.5 144.66,301.8 144.73,319.9 144.81,300.3 144.89,316.7 144.97,300.4 145.05,301.2 145.13,306.4 145.21,320.3 145.28,300.7 145.36,315.6 145.44,316.2 145.52,315 145.6,305.4 145.68,317.6 145.76,299.2 145.83,320.3 145.91,299.3 145.99,321.2 146.07,294.4 146.15,318.5 146.23,302 146.3,320.3 146.38,302.8 146.46,318.9 146.54,300.9 146.62,321.1 146.7,307 146.78,323.4 146.85,303 146.93,319.3 147.01,308.9 147.09,323.8 147.17,307.6 147.25,322.3 147.33,305.9 147.4,327.2 147.48,310.5 147.56,318.8 147.64,303.9 147.72,326 147.8,307 147.88,321.8 147.95,299.1 148.03,321.4 148.11,299.5 148.19,321.2 148.27,302.6 148.35,318.5 148.43,298.3 148.5,310.6 148.58,301.2 148.66,311.4 148.74,300 148.82,328.9 148.9,300.1 148.97,318.2 149.05,297.3 149.13,318.4 149.21,297.8 149.29,315.1 149.37,300.4 149.45,319.2 149.52,300 149.6,318.3 149.68,303.8 149.76,317.1 149.84,304.1 149.92,317.2 150,307 150.07,322.1 150.15,301.8 150.23,321.8 150.31,302.2 150.39,299.7 150.47,303.8 150.55,318.5 150.62,302.1 150.7,329 150.78,301.5 150.86,312 150.94,298.7 151.02,311.7 151.1,293.3 151.17,312.3 151.25,298.8 151.33,306.4 151.41,297.5 151.49,310.2 151.57,295.8 151.65,310.6 151.72,292.7 151.8,309.2 151.88,288.8 151.96,309.1 152.04,295.5 152.12,311.4 152.19,295.6 152.27,307.5 152.35,297 152.43,308.6 152.51,297.3 152.59,311.6 152.67,290.7 152.74,309.4 152.82,304.3 152.9,311.3 152.98,295.1 153.06,308.7 153.14,296.6 153.22,312.5 153.29,293.9 153.37,310.4 153.45,294.6 153.53,308.8 153.61,294.3 153.69,308.3 153.77,294.9 153.84,312.9 153.92,296.3 154,312.2 154.08,296.6 154.16,333 154.24,302.8 154.32,313 154.39,298.8 154.47,311.4 154.55,302.9 154.63,316.4 154.71,303.8 154.79,318 154.86,304.9 154.94,317.4 155.02,303.5 155.1,318.6 155.18,301.9 155.26,316.2 155.34,298.3 155.41,317.6 155.49,304.9 155.57,319 155.65,301.4 155.73,338 155.81,303.3 155.89,313.9 155.96,296 156.04,315.9 156.12,296.8 156.2,317.7 156.28,301.1 156.36,312.7 156.44,294.8 156.51,315.9 156.59,299.6 156.67,308.5 156.75,297.8 156.83,307.2 156.91,297.8 156.99,310.2 157.06,291.9 157.14,309.2 157.22,293.8 157.3,309.9 157.38,298.5 157.46,313.2 157.53,296.9 157.61,310.8 157.69,293.7 157.77,301.4 157.85,295.2 157.93,312.5 158.01,328.3 158.08,311.6 158.16,296.1 158.24,316.1 158.32,298.5 158.4,308.7 158.48,298.8 158.56,317 158.63,295.2 158.71,315.4 158.79,294.5 158.87,312.2 158.95,302.8 159.03,316.5 159.11,297.2 159.18,313 159.26,295.8 159.34,315.1 159.42,297.1 159.5,314.6 159.58,297 159.66,316.4 159.73,327.8 159.81,318.5 159.89,303.8 159.97,317.2 160.05,299.9 160.13,302.1 160.2,304.8 160.28,322.4 160.36,300.7 160.44,323 160.52,300.3 160.6,316.9 160.68,305.2 160.75,319.3 160.83,302.6 160.91,315.9 160.99,306.4 161.07,319.9 161.15,305.1 161.23,311.4 161.3,297.8 161.38,312.6 161.46,297.9 161.54,310.7 161.62,295.4 161.7,313.1 161.78,290.8 161.85,309 161.93,295.5 162.01,312.4 162.09,314.4 162.17,305.8 162.25,296.1 162.33,311.1 162.4,296.1 162.48,310.7 162.56,295.5 162.64,316 162.72,296.6 162.8,312.7 162.87,297.9 162.95,319.1 163.03,303.8 163.11,321.9 163.19,300.4 163.27,323 163.35,305.3 163.42,329.9 163.5,303.5 163.58,323.3 163.66,302.4 163.74,324 163.82,302.6 163.9,319.1 163.97,305.7 164.05,322.2 164.13,306.1 164.21,313.4 164.29,298.2 164.37,314.7 164.45,299.4 164.52,317.6 164.6,295 164.68,316.2 164.76,299.3 164.84,302.4 164.92,312.4 165,313.9 165.07,291.2 165.15,310 165.23,291.7 165.31,305.6 165.39,292.6 165.47,308 165.54,294.5 165.62,315.1 165.7,293.3 165.78,315.2 165.86,300.7 165.94,316.6 166.02,307.7 166.09,316.7 166.17,312.8 166.25,324.4 166.33,316.5 166.41,328.7 166.49,322 166.57,333.6 166.64,328.7 166.72,338.4 166.8,332.4 166.88,344.2 166.96,337.7 167.04,350.6 167.12,342.6 167.19,356 167.27,347.8 167.35,359.4 167.43,355.2 167.51,366.3 167.59,360.5 167.67,368.8 167.74,360.6 167.82,370.8 167.9,361 167.98,369.8 168.06,363.8 168.14,372.3 168.21,363 168.29,374.1 168.37,365 168.45,375 168.53,364.8 168.61,375.2 168.69,365.9 168.76,376.8 168.84,366.7 168.92,376.3 169,367.7 169.08,376.9 169.16,369.9 169.24,379.6 169.31,369.9 169.39,380.1 169.47,372.6 169.55,382 169.63,372.7 169.71,380.8 169.79,373.2 169.86,384.1 169.94,375.8 170.02,383.3 170.1,375.8 170.18,384.5 170.26,377.2 170.34,386.6 170.41,376.8 170.49,388.3 170.57,384 170.65,380.4 170.73,383.5 170.81,378.3 170.88,381.8 170.96,376.9 171.04,379.6 171.12,375.7 171.2,379.1 171.28,374.9 171.36,378.3 171.43,374.4 171.51,379.2 171.59,375.5 171.67,380.6 171.75,377.3 171.83,388.6 171.91,378.6 171.98,382.8 172.06,379.8 172.14,384.2 172.22,381.1 172.3,384.7 172.38,380.8 172.46,384.8 172.53,387.5 172.61,384.9 172.69,380.6 172.77,385.1 172.85,381.1 172.93,384.6 173.01,380.9 173.08,385 173.16,381.4 173.24,384.2 173.32,380.4 173.4,384.7 173.48,380.7 173.55,384.9 173.63,381 173.71,384.8 173.79,380.8 173.87,384.1 173.95,380.5 174.03,388.2 174.1,370.9 174.18,383.9 174.26,380.1 174.34,383.6 174.42,378.4 174.5,382 174.58,376.7 174.65,380.7 174.73,375.8 174.81,378.8 174.89,375.3 174.97,379.4 175.05,375.7 175.13,389 175.2,376.8 175.28,381.2 175.36,377.7 175.44,382.2 175.52,379.2 175.6,383.4 175.68,379.9 175.75,383.9 175.83,380.4 175.91,384.6 175.99,381.2 176.07,379.3 176.15,380.3 176.22,384.3 176.3,380.7 176.38,384 176.46,380.3 176.54,388.1 176.62,380.5 176.7,384.4 176.77,381.1 176.85,384.9 176.93,381.1 177.01,387.2 177.09,380.3 177.17,384.9 177.25,380.8 177.32,384.3 177.4,380.4 177.48,384.5 177.56,380.8 177.64,370.9 177.72,380.8 177.8,384.5 177.87,379.5 177.95,383.7 178.03,378.8 178.11,382 178.19,378.1 178.27,381.1 178.35,376.8 178.42,380.1 178.5,376.1 178.58,379.8 178.66,386.4 178.74,375.5 178.82,376.9 178.89,381.1 178.97,378 179.05,382.1 179.13,379.5 179.21,383.5 179.29,380.8 179.37,384 179.44,381.2 179.52,388.5 179.6,380.7 179.68,384.2 179.76,380.8 179.84,384.4 179.92,380.3 179.99,385 180.07,380.5 180.15,384.6 180.23,367.9 180.31,374.5 180.39,381.2 180.47,384.6 180.54,380.4 180.62,384.3 180.7,380.7 180.78,384.6 180.86,389.2 180.94,385 181.02,380.8 181.09,384.4 181.17,380.8 181.25,384.9 181.33,380.9 181.41,384.5 181.49,379.8 181.57,383.4 181.64,378.1 181.72,381.9 181.8,376.5 181.88,380.5 181.96,375.7 182.04,378.5 182.11,375.8 182.19,388.2 182.27,375.1 182.35,379.9 182.43,376.2 182.51,380.6 182.59,378.6 182.66,382.2 182.74,379.7 182.82,388.3 182.9,380.6 182.98,384.4 183.06,380.8 183.14,384.8 183.21,380.4 183.29,379.6 183.37,380.3 183.45,384.2 183.53,381.3 183.61,384.3 183.69,381.1 183.76,385 183.84,380.3 183.92,384 184,380.6 184.08,385 184.16,380.6 184.24,386.3 184.31,380.4 184.39,384.5 184.47,380.6 184.55,384.4 184.63,380.9 184.71,384.9 184.78,380.3 184.86,384.7 184.94,380.8 185.02,384.1 185.1,379.9 185.18,383 185.26,378.3 185.33,381.3 185.41,387.8 185.49,380.1 185.57,375.2 185.65,378.6 185.73,375 185.81,378.5 185.88,375 185.96,379.6 186.04,373 186.12,380.7 186.2,386.2 186.28,383.1 186.36,379.7 186.43,383.6 186.51,380.2 186.59,384.5 186.67,380.4 186.75,384.9 186.83,380.5 186.91,384.3 186.98,380.4 187.06,384.1 187.14,380.5 187.22,384.3 187.3,380.7 187.38,384.8 187.45,380.4 187.53,384.8 187.61,380.9 187.69,384.6 187.77,380.4 187.85,387.4 187.93,380.4 188,370.9 188.08,381.4 188.16,384.4 188.24,380.3 188.32,385 188.4,381 188.48,384.6 188.55,380.4 188.63,383.8 188.71,379.7 188.79,386.8 188.87,378.6 188.95,381.7 189.03,376.9 189.1,380.8 189.18,376.2 189.26,380 189.34,376.3 189.42,380.6 189.5,376.8 189.58,380.6 189.65,386.6 189.73,381.7 189.81,378.8 189.89,383.5 189.97,377.5 190.05,383.9 190.12,380.9 190.2,385 190.28,380.8 190.36,384.5 190.44,380.4 190.52,384.4 190.6,380.6 190.67,384.7 190.75,381 190.83,385.1 190.91,380.8 190.99,384.2 191.07,386.5 191.15,384.7 191.22,381.3 191.3,384.9 191.38,380.6 191.46,384.9 191.54,380.6 191.62,384.5 191.7,377.6 191.77,384.9 191.85,381.2 191.93,384.7 192.01,380.4 192.09,384.9 192.17,380 192.25,388 192.32,379.3 192.4,382.8 192.48,377.6 192.56,380.9 192.64,376.7 192.72,379.6 192.79,375.3 192.87,379.3 192.95,375 193.03,379.7 193.11,386.3 193.19,380.7 193.27,377.6 193.34,381.2 193.42,378.2 193.5,383.4 193.58,379.8 193.66,384.5 193.74,380.4 193.82,384.7 193.89,381 193.97,384.9 194.05,380.5 194.13,384.8 194.21,380.9 194.29,384.8 194.37,380.4 194.44,384.8 194.52,387.2 194.6,384.2 194.68,380.5 194.76,384 194.84,380.4 194.92,384.3 194.99,380.9 195.07,384.1 195.15,380.5 195.23,384.5 195.31,380.3 195.39,385 195.46,380.5 195.54,387.5 195.62,380.9 195.7,383.8 195.78,380 195.86,383.8 195.94,379.3 196.01,382.1 196.09,376.7 196.17,380.1 196.25,376 196.33,378.7 196.41,374.7 196.49,377.9 196.56,375 196.64,379 196.72,375.9 196.8,380.3 196.88,388.8 196.96,378.8 197.04,378.4 197.11,383.6 197.19,379.8 197.27,384.8 197.35,380.5 197.43,384.8 197.51,381.2 197.59,384.7 197.66,380.6 197.74,385 197.82,387.3 197.9,384.2 197.98,380.5 198.06,384.3 198.13,381 198.21,385 198.29,380.6 198.37,385 198.45,380.8 198.53,384.6 198.61,381.2 198.68,384.2 198.76,380.4 198.84,372.2 198.92,380.4 199,385 199.08,380.3 199.16,386.2 199.23,380.3 199.31,384.8 199.39,379.7 199.47,383.5 199.55,378.9 199.63,381.7 199.71,376.7 199.78,380.6 199.86,388.2 199.94,380.3 200.02,375 200.1,378.8 200.18,375.2 200.26,379.6 200.33,375.4 200.41,380.3 200.49,377 200.57,382.4 200.65,378.9 200.73,383.7 200.8,380.7 200.88,384.7 200.96,380.7 201.04,385 201.12,381.3 201.2,384 201.28,375.9 201.35,385 201.43,386.3 201.51,384.2 201.59,381 201.67,385 201.75,380.5 201.83,384.4 201.9,380.4 201.98,384.8 202.06,380.8 202.14,384.8 202.22,380.8 202.3,384.3 202.38,380.7 202.45,384.2 202.53,381.2 202.61,387.4 202.69,380.5 202.77,384.4 202.85,381.2 202.93,384.6 203,380.1 203.08,382.8 203.16,378.7 203.24,381.7 203.32,376.6 203.4,380.6 203.47,375.4 203.55,379.3 203.63,375.1 203.71,378.6 203.79,387.9 203.87,379.2 203.95,376.9 204.02,381.1 204.1,378.3 204.18,381.9 204.26,379.4 204.34,384.2 204.42,387.4 204.5,384.4 204.57,381 204.65,385 204.73,380.9 204.81,384.1 204.89,380.4 204.97,384.9 205.05,380.6 205.12,384.1 205.2,380.5 205.28,384.3 205.36,380.5 205.44,385 205.52,381.3 205.6,384.6 205.67,389.7 205.75,385 205.83,380.3 205.91,375.8 205.99,380.8 206.07,384.9 206.14,381.2 206.22,385 206.3,380.5 206.38,377.7 206.46,380.8 206.54,384.5 206.62,380.5 206.69,384 206.77,378.7 206.85,382.4 206.93,378.6 207.01,381.5 207.09,376.8 207.17,386.2 207.24,376.9 207.32,380.3 207.4,376.3 207.48,380.5 207.56,377 207.64,381.8 207.72,378 207.79,383.1 207.87,379.4 207.95,383.3 208.03,380.9 208.11,384.3 208.19,386.3 208.27,375.6 208.34,381 208.42,384.1 208.5,381.3 208.58,384.8 208.66,380.5 208.74,384.3 208.82,368.6 208.89,374.9 208.97,380.5 209.05,384.5 209.13,380.3 209.21,384.9 209.29,387.8 209.36,384.3 209.44,380.5 209.52,384.2 209.6,380.5 209.68,384.5 209.76,380.8 209.84,384.7 209.91,381.2 209.99,385 210.07,380.5 210.15,377.2 210.23,379.8 210.31,382.5 210.39,377.9 210.46,381.7 210.54,388.5 210.62,380.2 210.7,375.3 210.78,379 210.86,374.6 210.94,379.3 211.01,375.1 211.09,379.1 211.17,376 211.25,381.2 211.33,378.2 211.41,382.4 211.49,379.2 211.56,383.8 211.64,380.6 211.72,384.1 211.8,380.4 211.88,388.8 211.96,380.9 212.03,376.3 212.11,380.3 212.19,384.9 212.27,380.9 212.35,384.4 212.43,380.7 212.51,384.2 212.58,381.1 212.66,386.5 212.74,380.5 212.82,384.3 212.9,380.4 212.98,385 213.06,380.9 213.13,384.2 213.21,381.3 213.29,384.6 213.37,381.4 213.45,384.5 213.53,381 213.61,384.9 213.68,380.9 213.76,383.8 213.84,379.1 213.92,382.6 214,378 214.08,381.5 214.16,387.8 214.23,379.8 214.31,375.9 214.39,379.3 214.47,376 214.55,379.9 214.63,376.4 214.7,380 214.78,378.7 214.86,382.1 214.94,378.8 215.02,387.8 215.1,379.4 215.18,384.3 215.25,380.8 215.33,385 215.41,381.1 215.49,384.5 215.57,380.3 215.65,385 215.73,380.4 215.8,384.5 215.88,380.9 215.96,384.5 216.04,380.5 216.12,384.6 216.2,380.5 216.28,387.2 216.35,381.1 216.43,384.9 216.51,380.4 216.59,385.1 216.67,380.9 216.75,384.4 216.83,376.3 216.9,384.2 216.98,380.8 217.06,384.7 217.14,380.7 217.22,384.9 217.3,388.2 217.37,384.4 217.45,380.1 217.53,383.3 217.61,378.4 217.69,382.1 217.77,378.3 217.85,381 217.92,377 218,380.5 218.08,376.3 218.16,389 218.24,376.4 218.32,381.5 218.4,378.1 218.47,382.2 218.55,378.4 218.63,383.3 218.71,380.2 218.79,384.2 218.87,380.8 218.95,384.2 219.02,364.2 219.1,372.5 219.18,380.3 219.26,384.4 219.34,381.2 219.42,385 219.5,380.4 219.57,384.8 219.65,381 219.73,384.8 219.81,380.8 219.89,385 219.97,389.3 220.04,385 220.12,380.4 220.2,378.6 220.28,381 220.36,384.4 220.44,380.7 220.52,384.1 220.59,381.3 220.67,384.2 220.75,381.3 220.83,384.3 220.91,388 220.99,383.7 221.07,379.5 221.14,382.1 221.22,377.4 221.3,380.8 221.38,376.8 221.46,380.2 221.54,375.3 221.62,389.4 221.69,375.3 221.77,379.8 221.85,375.9 221.93,380.9 222.01,379.8 222.09,382.5 222.17,378.9 222.24,383.3 222.32,380.3 222.4,384.7 222.48,381.3 222.56,384.2 222.64,381 222.71,384.8 222.79,380.5 222.87,389.4 222.95,381.3 223.03,385 223.11,380.3 223.19,385 223.26,381.4 223.34,384.6 223.42,380.9 223.5,378.2 223.58,380.3 223.66,384.8 223.74,380.5 223.81,384.5 223.89,381 223.97,384.5 224.05,389 224.13,384.3 224.21,380.5 224.29,384.9 224.36,380.3 224.44,384.7 224.52,380.1 224.6,383.6 224.68,380 224.76,383.2 224.84,378.4 224.91,373.6 224.99,376.9 225.07,381.2 225.15,376.9 225.23,380.4 225.31,388.6 225.38,380.6 225.46,376.7 225.54,381.5 225.62,378.3 225.7,382.2 225.78,378.9 225.86,383.1 225.93,379.8 226.01,384.7 226.09,381.1 226.17,388.1 226.25,380.3 226.33,384.5 226.41,381.2 226.48,384.4 226.56,380.8 226.64,384.5 226.72,380.4 226.8,379.9 226.88,381 226.96,384.5 227.03,380.5 227.11,384.2 227.19,363.5 227.27,372.1 227.35,386.8 227.43,385.1 227.51,380.6 227.58,384.3 227.66,380.3 227.74,384.7 227.82,380.4 227.9,384.5 227.98,380.9 228.05,383.9 228.13,379.7 228.21,382.8 228.29,378.8 228.37,382 228.45,377.5 228.53,380.1 228.6,376.4 228.68,380 228.76,375.3 228.84,379 228.92,374.8 229,378.8 229.08,389.3 229.15,380.7 229.23,377.2 229.31,382.3 229.39,379 229.47,383.5 229.55,379.7 229.63,384.9 229.7,389.7 229.78,384.1 229.86,380.3 229.94,384.8 230.02,381.1 230.1,384.2 230.18,380.3 230.25,384.7 230.33,380.6 230.41,385 230.49,381 230.57,384.6 230.65,380.7 230.72,385 230.8,380.7 230.88,384.1 230.96,380.3 231.04,386.6 231.12,380.8 231.2,384.9 231.27,381.3 231.35,384.6 231.43,380.9 231.51,384.9 231.59,380.7 231.67,383.9 231.75,380.4 231.82,380.2 231.9,378 231.98,381.5 232.06,376.6 232.14,386.8 232.22,374.7 232.3,378.4 232.37,373.9 232.45,378.5 232.53,374.5 232.61,378.7 232.69,375.2 232.77,380.4 232.85,377.2 232.92,382.4 233,379.5 233.08,383.8 233.16,380.1 233.24,376.6 233.32,364.9 233.39,372.9 233.47,380.9 233.55,388.7 233.63,381.3 233.71,384.7 233.79,380.8 233.87,384.5 233.94,380.3 234.02,384.6 234.1,381.2 234.18,384.2 234.26,380.8 234.34,384.6 234.42,380.9 234.49,386.2 234.57,381 234.65,384.7 234.73,380.4 234.81,384.7 234.89,380.4 234.97,384.9 235.04,381.2 235.12,384.6 235.2,380.2 235.28,384.5 235.36,389.9 235.44,382.7 235.52,378.8 235.59,381.5 235.67,376.5 235.75,379.6 235.83,375.8 235.91,379.1 235.99,374.6 236.06,378.3 236.14,378.4 236.22,379.8 236.3,376.1 236.38,388.8 236.46,377.9 236.54,382.9 236.61,379.8 236.69,383.8 236.77,380.9 236.85,384 236.93,380.9 237.01,384.6 237.09,381.3 237.16,384.9 237.24,380.8 237.32,384.7" stroke="url(#g4)" class="l"/><text class="t" transform="translate(33.3 401.9) scale(1 1.07)" text-anchor="middle">90</text><text class="t" transform="translate(74.12 401.9) scale(1 1.07)" text-anchor="middle">91</text><text class="t" transform="translate(114.94 401.9) scale(1 1.07)" text-anchor="middle">92</text><text class="t" transform="translate(155.76 401.9) scale(1 1.07)" text-anchor="middle">93</text><text class="t" transform="translate(196.58 401.9) scale(1 1.07)" text-anchor="middle">94</text><text class="t" transform="translate(237.4 401.9) scale(1 1.07)" text-anchor="middle">95</text><text class="t" transform="translate(20.4 384.25) scale(1 1.07)" text-anchor="end">0.1</text><text class="t" transform="translate(20.4 347.62) scale(1 1.07)" text-anchor="end">0.2</text><text class="t" transform="translate(20.4 311) scale(1 1.07)" text-anchor="end">0.3</text><text class="a" transform="translate(135.55 409.6) scale(1 1.07)" text-anchor="middle">Time(s)</text><text class="v" transform="translate(9.39 338.75) rotate(-90) scale(1.025 1)" text-anchor="middle">Current(A)</text><text class="h" transform="translate(138.5 281.1) scale(1 1.07)" text-anchor="middle">DragonBoard: Hydra T16 IKE</text></g>
<g><rect x="268.3" y="282.9" width="224.4" height="111.7" fill="#EBEBEB"/><path d="M298.68 282.9V394.6M339.52 282.9V394.6M380.38 282.9V394.6M421.23 282.9V394.6M462.07 282.9V394.6M268.3 385.56H492.7M268.3 353.94H492.7M268.3 322.31H492.7M268.3 290.69H492.7" stroke="#fff" stroke-opacity=".9" stroke-width=".38" fill="none"/><path d="M278.25 282.9V394.6M319.1 282.9V394.6M359.95 282.9V394.6M400.8 282.9V394.6M441.65 282.9V394.6M482.5 282.9V394.6M268.3 369.75H492.7M268.3 338.12H492.7M268.3 306.5H492.7" stroke="#fff" stroke-width=".7" fill="none"/><path d="M278.25 394.6v2M319.1 394.6v2M359.95 394.6v2M400.8 394.6v2M441.65 394.6v2M482.5 394.6v2M268.3 369.75h-2M268.3 338.12h-2M268.3 306.5h-2" stroke="#333" stroke-width=".55" fill="none"/><polyline points="278.25,381.9 278.33,386.2 278.41,381.5 278.49,386.3 278.56,382 278.64,371.3 278.72,377 278.8,385.6 278.88,381.5 278.96,385.7 279.04,381.5 279.11,385.9 279.19,381.5 279.27,385.9 279.35,389.1 279.43,385.4 279.51,382.1 279.59,386.4 279.66,381.7 279.74,386.3 279.82,382.5 279.9,380.5 279.98,388 280.06,386.2 280.14,381.5 280.21,386.2 280.29,382.2 280.37,386.2 280.45,382.1 280.53,386 280.61,381.5 280.69,385.8 280.76,382.1 280.84,385.7 280.92,381.5 281,385.4 281.08,382.4 281.16,385.5 281.24,382.5 281.31,386 281.39,388.6 281.47,386.5 281.55,382.1 281.63,385.9 281.71,382 281.79,386.5 281.87,382.5 281.94,388.5 282.02,381.5 282.1,385.4 282.18,382.2 282.26,386.1 282.34,380.1 282.42,385.7 282.49,382.1 282.57,386.3 282.65,381.7 282.73,385.9 282.81,381.5 282.89,378.6 282.97,381.6 283.04,386.2 283.12,382 283.2,386.1 283.28,388.3 283.36,385.4 283.44,381.5 283.52,386.4 283.59,382.2 283.67,386.3 283.75,382.1 283.83,386.5 283.91,381.5 283.99,385.6 284.07,387.8 284.14,386.5 284.22,382.5 284.3,386.4 284.38,381.5 284.46,386.1 284.54,381.9 284.62,386.5 284.69,382.1 284.77,381.3 284.85,382.6 284.93,388.9 285.01,382.1 285.09,385.9 285.17,382 285.24,386.5 285.32,382.3 285.4,386.3 285.48,381.9 285.56,385.6 285.64,382.1 285.72,379.5 285.79,382.6 285.87,385.7 285.95,381.9 286.03,385.8 286.11,388.2 286.19,386.3 286.27,381.8 286.34,386.3 286.42,381.7 286.5,385.9 286.58,381.8 286.66,386.3 286.74,382 286.82,386.2 286.89,381.8 286.97,385.8 287.05,382 287.13,385.4 287.21,381.7 287.29,386 287.37,387.9 287.44,386.3 287.52,381.7 287.6,386.1 287.68,382.5 287.76,388.1 287.84,382 287.92,379 287.99,382.1 288.07,385.5 288.15,381.5 288.23,385.6 288.31,382.6 288.39,386.3 288.47,376.6 288.55,380.9 288.62,377.2 288.7,380.9 288.78,383.3 288.86,380.7 288.94,376.6 289.02,380.8 289.1,376.6 289.17,375.8 289.25,376.7 289.33,380.2 289.41,377.3 289.49,380.6 289.57,382.8 289.65,380.5 289.72,376.6 289.8,380.2 289.88,376.7 289.96,381 290.04,376.7 290.12,380.9 290.2,376.6 290.27,372.2 290.35,377.1 290.43,380.8 290.51,384 290.59,381 290.67,377 290.75,380.9 290.82,376.8 290.9,380.9 290.98,377 291.06,374.9 291.14,376.6 291.22,380.8 291.3,376.9 291.37,382.6 291.45,376.6 291.53,381 291.61,377 291.69,380.9 291.77,376.6 291.85,380.9 291.92,376.6 292,380.3 292.08,376.6 292.16,381 292.24,371.5 292.32,380.7 292.4,376.6 292.47,380.6 292.55,383 292.63,380.9 292.71,376.6 292.79,380.8 292.87,377.4 292.95,381 293.02,376.9 293.1,375.6 293.18,376.7 293.26,380.8 293.34,376.6 293.42,380.6 293.5,383.8 293.57,380.8 293.65,376.9 293.73,380.1 293.81,376.9 293.89,375.8 293.97,377.5 294.05,380.7 294.12,376.6 294.2,380.6 294.28,376.6 294.36,381 294.44,377.4 294.52,383.8 294.6,377.1 294.67,380.8 294.75,376.6 294.83,380 294.91,377.3 294.99,380.6 295.07,374.8 295.15,380.6 295.22,376.8 295.3,380.6 295.38,383 295.46,373.9 295.54,377.7 295.62,379.6 295.7,377.6 295.78,373.5 295.85,352 295.93,373.8 296.01,360 296.09,373.8 296.17,364.7 296.25,367.5 296.33,367.7 296.4,373.1 296.48,369.1 296.56,373.9 296.64,371 296.72,372 296.8,372.5 296.88,373.8 296.95,373.2 297.03,372.7 297.11,373.7 297.19,373.5 297.27,374.2 297.35,373.7 297.43,361.2 297.5,380.3 297.58,366.5 297.66,373.3 297.74,368.9 297.82,372.5 297.9,370.3 297.98,373 298.05,371.6 298.13,373 298.21,372.8 298.29,373.4 298.37,373.2 298.45,373.3 298.53,373.7 298.6,380.4 298.68,374.2 298.76,372.8 298.84,368.5 298.92,373 299,374.7 299.08,364.1 299.15,374.7 299.23,367.6 299.31,374.8 299.39,369.4 299.47,374.9 299.55,371.2 299.63,374.9 299.7,372.3 299.78,366.4 299.86,372.3 299.94,374.9 300.02,372.5 300.1,374.9 300.18,372.1 300.25,374.9 300.33,372.3 300.41,364.6 300.49,374.3 300.57,377 300.65,372.3 300.73,376.9 300.8,372 300.88,377.4 300.96,372.4 301.04,376.8 301.12,372.4 301.2,374.4 301.28,379.2 301.35,380.8 301.43,373.8 301.51,375.4 301.59,378.6 301.67,374.4 301.75,379.3 301.83,375 301.9,379.3 301.98,374.3 302.06,380.7 302.14,375.4 302.22,372.2 302.3,375 302.38,379.3 302.46,374.8 302.53,379.2 302.61,374.8 302.69,379.4 302.77,375.1 302.85,379 302.93,381.8 303.01,378.3 303.08,375.4 303.16,378.5 303.24,375.1 303.32,370.4 303.4,375.1 303.48,379.4 303.56,374.2 303.63,378.9 303.71,374.3 303.79,378.8 303.87,374.9 303.95,379 304.03,374.6 304.11,378.8 304.18,374.8 304.26,378.9 304.34,381.1 304.42,379 304.5,374.5 304.58,379.2 304.66,375.4 304.73,374.2 304.81,374.6 304.89,379.4 304.97,374.4 305.05,378.4 305.13,374.5 305.21,378.6 305.28,371.6 305.36,380.9 305.44,374.9 305.52,378.9 305.6,375.4 305.68,379.4 305.76,374.8 305.83,380.7 305.91,374.8 305.99,378.5 306.07,375.1 306.15,379.3 306.23,374.5 306.31,372.5 306.38,375.3 306.46,379 306.54,374.5 306.62,379.4 306.7,374.5 306.78,378.7 306.86,374.5 306.93,379 307.01,374.5 307.09,378.7 307.17,374.6 307.25,380.8 307.33,374.8 307.41,378.8 307.48,375.4 307.56,374.3 307.64,375.2 307.72,378.5 307.8,381 307.88,379 307.96,374.8 308.03,379.4 308.11,374.5 308.19,378.8 308.27,374.7 308.35,372 308.43,375.1 308.51,378.5 308.58,374.4 308.66,378.6 308.74,375.1 308.82,379.3 308.9,372.3 308.98,378.3 309.06,372.3 309.14,379.8 309.21,369.9 309.29,356.2 309.37,373 309.45,361.9 309.53,372.4 309.61,365.5 309.69,372.4 309.76,367.9 309.84,372.1 309.92,369.4 310,373.2 310.08,371.3 310.16,372.8 310.24,372.3 310.31,371.9 310.39,372.7 310.47,372.1 310.55,371.6 310.63,372.4 310.71,373.8 310.79,371.9 310.86,374.1 310.94,327.5 311.02,374.2 311.1,343.9 311.18,374.4 311.26,349.5 311.34,374.6 311.41,355.7 311.49,374.6 311.57,360.5 311.65,374.7 311.73,365.1 311.81,374.7 311.89,367.1 311.96,374.7 312.04,369.1 312.12,374.7 312.2,371 312.28,374.7 312.36,371.6 312.44,374.7 312.51,371.6 312.59,354.2 312.67,372.9 312.75,361.2 312.83,372 312.91,363.6 312.99,371.6 313.06,366.8 313.14,372.1 313.22,369.2 313.3,365.6 313.38,370.5 313.46,371.6 313.54,371.2 313.61,358.9 313.69,372.3 313.77,374.4 313.85,372.6 313.93,371.5 314.01,373.1 314.09,371.5 314.16,373.6 314.24,378.9 314.32,385.3 314.4,379.1 314.48,382.3 314.56,379.2 314.64,383 314.71,379.3 314.79,382.7 314.87,377.5 314.95,383.3 315.03,378.8 315.11,382.9 315.19,378.6 315.26,385.2 315.34,378.5 315.42,382.2 315.5,378.3 315.58,382.5 315.66,374.9 315.74,383.2 315.82,379.2 315.89,383 315.97,378.3 316.05,383.2 316.13,378.5 316.21,357.1 316.29,378.5 316.37,367.7 316.44,378.7 316.52,372.9 316.6,379.2 316.68,376 316.76,379.2 316.84,377.4 316.92,384.8 316.99,379 317.07,378.3 317.15,379.5 317.23,378.7 317.31,380.1 317.39,376.9 317.47,380.4 317.54,378.3 317.62,380.5 317.7,378.9 317.78,380.6 317.86,384.7 317.94,380.7 318.02,379.1 318.09,380.8 318.17,379.2 318.25,382.3 318.33,378.8 318.41,382.6 318.49,378.3 318.57,377.3 318.64,378.6 318.72,382.3 318.8,378.9 318.88,383 318.96,379.1 319.04,383.3 319.12,379.1 319.19,384.6 319.27,378.5 319.35,372.2 319.43,378.4 319.51,382.3 319.59,378.3 319.67,382.7 319.74,378.9 319.82,382.9 319.9,363.4 319.98,382.6 320.06,371.4 320.14,383.3 320.22,374.4 320.29,383.2 320.37,376.9 320.45,382.8 320.53,378.5 320.61,383.2 320.69,378.1 320.77,383.1 320.84,379.9 320.92,382.9 321,379.3 321.08,383 321.16,374.6 321.24,375.2 321.32,367 321.39,368.5 321.47,359.8 321.55,360 321.63,351.5 321.71,352.5 321.79,343.7 321.87,344.9 321.94,336.2 322.02,338.5 322.1,329.1 322.18,329.9 322.26,322.1 322.34,323.1 322.42,313.7 322.49,312.2 322.57,313 322.65,323.6 322.73,311.3 322.81,321.8 322.89,311.9 322.97,320.1 323.05,310 323.12,319.3 323.2,310.4 323.28,320.3 323.36,310.4 323.44,317.7 323.52,309.2 323.6,318.4 323.67,305.7 323.75,317.5 323.83,305.7 323.91,316.1 323.99,305.1 324.07,314.2 324.15,304.5 324.22,315.4 324.3,304.1 324.38,285.9 324.46,297.9 324.54,302.5 324.62,304.6 324.7,316.9 324.77,305.6 324.85,317 324.93,306.3 325.01,316.6 325.09,307.6 325.17,315.7 325.25,306.1 325.32,316.8 325.4,304.6 325.48,314.4 325.56,305.4 325.64,317.6 325.72,305.2 325.8,295.4 325.87,304.7 325.95,316.2 326.03,308 326.11,316.3 326.19,307.6 326.27,318.6 326.35,307.4 326.42,317.5 326.5,308 326.58,318.9 326.66,309.3 326.74,320.3 326.82,310.1 326.9,323.1 326.97,301 327.05,322.8 327.13,313.6 327.21,324 327.29,293.9 327.37,301.7 327.45,314.9 327.52,324.2 327.6,313.1 327.68,323.9 327.76,312.6 327.84,324.1 327.92,312.6 328,323.4 328.07,312.2 328.15,322.9 328.23,311.1 328.31,298.1 328.39,312.4 328.47,320.6 328.55,309.6 328.62,321.9 328.7,319 328.78,319.7 328.86,310.1 328.94,332.7 329.02,339.1 329.1,332.1 329.17,340.2 329.25,332.8 329.33,339.7 329.41,334.1 329.49,339 329.57,332.8 329.65,340.3 329.73,333.8 329.8,342.6 329.88,333.6 329.96,341.4 330.04,335 330.12,340.9 330.2,331.3 330.28,341.7 330.35,336.5 330.43,342.8 330.51,335.9 330.59,343.1 330.67,336.3 330.75,343.7 330.83,337.5 330.9,342.5 330.98,336.8 331.06,344.1 331.14,349 331.22,343.9 331.3,337.4 331.38,343.8 331.45,337.3 331.53,343.4 331.61,336.9 331.69,344.4 331.77,337.5 331.85,343.4 331.93,337.6 332,342.8 332.08,336.4 332.16,342.7 332.24,336.8 332.32,343 332.4,336.7 332.48,343 332.55,335 332.63,342.8 332.71,334.9 332.79,344.7 332.87,336.1 332.95,335.5 333.03,308.8 333.1,318.8 333.18,309.2 333.26,325.1 333.34,307.4 333.42,317 333.5,308.1 333.58,316.8 333.65,306.5 333.73,316.3 333.81,290.7 333.89,300.2 333.97,306.3 334.05,305.2 334.13,304.9 334.2,315.7 334.28,305.6 334.36,315.7 334.44,307.1 334.52,315.4 334.6,307.1 334.68,314.8 334.75,327 334.83,315.8 334.91,307.2 334.99,315.5 335.07,304.1 335.15,315.9 335.23,305.7 335.3,314.4 335.38,307.1 335.46,315.3 335.54,306.2 335.62,315.6 335.7,308 335.78,314.8 335.85,306.7 335.93,315.8 336.01,306.2 336.09,314.4 336.17,320.7 336.25,313.8 336.33,306.6 336.41,313.8 336.48,304.6 336.56,313.1 336.64,297.9 336.72,313.1 336.8,305.7 336.88,313.8 336.96,303.8 337.03,313.6 337.11,303.9 337.19,314.4 337.27,303.5 337.35,312.9 337.43,304.6 337.51,313.8 337.58,303 337.66,312.3 337.74,321.3 337.82,313.2 337.9,303.1 337.98,310.6 338.06,302.5 338.13,312.2 338.21,295.1 338.29,311.8 338.37,302.8 338.45,311.4 338.53,300.8 338.61,310.9 338.68,299.9 338.76,310.2 338.84,301 338.92,309 339,301.4 339.08,310.6 339.16,296.6 339.23,308.4 339.31,300 339.39,310.5 339.47,300.9 339.55,310.8 339.63,300.8 339.71,308.7 339.78,300.3 339.86,309.2 339.94,318.5 340.02,310 340.1,299.6 340.18,309.1 340.26,301.4 340.33,308.5 340.41,296.2 340.49,293.3 340.57,295 340.65,301.6 340.73,295.5 340.81,301.9 340.88,295.2 340.96,301.9 341.04,295.8 341.12,301.1 341.2,295.7 341.28,301.1 341.36,296.1 341.43,312.3 341.51,295.7 341.59,312.4 341.67,293.2 341.75,311.3 341.83,295.9 341.91,309.9 341.98,295.5 342.06,312.7 342.14,294.7 342.22,313.6 342.3,294.7 342.38,313.6 342.46,293.9 342.53,313.2 342.61,295.5 342.69,302 342.77,294.8 342.85,300.7 342.93,294.7 343.01,302.2 343.09,295.7 343.16,301.8 343.24,310.1 343.32,301.5 343.4,311.1 343.48,301.5 343.56,309 343.64,302 343.71,308.8 343.79,301.8 343.87,295.7 343.95,301.1 344.03,295.7 344.11,301.3 344.19,311.7 344.26,300.6 344.34,310.7 344.42,302.1 344.5,313.3 344.58,301.6 344.66,312.3 344.74,302 344.81,316.7 344.89,301.7 344.97,317.2 345.05,302.2 345.13,313.9 345.21,301 345.29,313.3 345.36,302.2 345.44,295.8 345.52,302.2 345.6,294.9 345.68,302.1 345.76,295 345.84,292.9 345.91,295 345.99,301.2 346.07,295.6 346.15,315.8 346.23,296.3 346.31,315.2 346.39,295.1 346.46,318 346.54,295 346.62,314.8 346.7,294.9 346.78,315.8 346.86,295.5 346.94,313.8 347.01,295.3 347.09,316.3 347.17,294.7 347.25,316.3 347.33,294.8 347.41,300.9 347.49,296 347.56,301 347.64,295.4 347.72,302.2 347.8,294.7 347.88,302.2 347.96,295.4 348.04,311.2 348.11,295.5 348.19,310.8 348.27,294.8 348.35,311.4 348.43,295.9 348.51,311.3 348.59,295.9 348.66,301.7 348.74,295.1 348.82,301.4 348.9,294.7 348.98,313.4 349.06,294.7 349.14,313.4 349.21,294.8 349.29,314 349.37,294.6 349.45,313 349.53,295.4 349.61,301.4 349.69,292.3 349.77,302.2 349.84,295.7 349.92,309.8 350,294.9 350.08,309.8 350.16,294.8 350.24,311.5 350.32,294.9 350.39,310 350.47,295.9 350.55,300.8 350.63,311.6 350.71,302.2 350.79,309 350.87,300.8 350.94,312 351.02,301.9 351.1,310.3 351.18,301.2 351.26,295.3 351.34,300.8 351.42,294.8 351.49,312.7 351.57,294.8 351.65,314.9 351.73,294.8 351.81,313.9 351.89,294.6 351.97,314.1 352.04,295.5 352.12,301.8 352.2,296 352.28,302 352.36,293.5 352.44,301.1 352.52,294.9 352.59,301.2 352.67,295.2 352.75,309.8 352.83,296.2 352.91,312.9 352.99,295.9 353.07,310.4 353.14,296.1 353.22,310.1 353.3,309.3 353.38,301.4 353.46,309.1 353.54,301.9 353.62,309.5 353.69,301.7 353.77,310.5 353.85,301 353.93,296 354.01,302.2 354.09,293.7 354.17,302.1 354.24,311 354.32,301.7 354.4,309.3 354.48,301.8 354.56,310.4 354.64,302 354.72,310.6 354.79,301.7 354.87,296 354.95,302 355.03,295.2 355.11,301.6 355.19,294.9 355.27,301.8 355.34,294.9 355.42,317.7 355.5,294.8 355.58,316 355.66,295 355.74,317.5 355.82,294.7 355.89,322.3 355.97,311.6 356.05,294.5 356.13,311.6 356.21,301.9 356.29,309.4 356.37,302.2 356.44,308.8 356.52,302 356.6,310.7 356.68,302.2 356.76,296.3 356.84,300.8 356.92,294.8 357,301.3 357.07,296 357.15,300.6 357.23,310.3 357.31,302 357.39,309.1 357.47,302.2 357.55,309.2 357.62,301.8 357.7,311.2 357.78,301.9 357.86,296.2 357.94,293 358.02,296.2 358.1,301.5 358.17,294.7 358.25,301.7 358.33,316 358.41,301 358.49,315.1 358.57,302 358.65,314.4 358.72,301.4 358.8,317.7 358.88,300.6 358.96,294.6 359.04,302.2 359.12,295.8 359.2,301.6 359.27,313.5 359.35,301.8 359.43,312.9 359.51,301.2 359.59,315.5 359.67,302 359.75,315.2 359.82,300.6 359.9,296.1 359.98,301.1 360.06,311.2 360.14,301.2 360.22,310.3 360.3,301.4 360.37,309.5 360.45,301.5 360.53,310.6 360.61,300.9 360.69,295.9 360.77,294.6 360.85,296 360.92,301.3 361,295.1 361.08,300.5 361.16,295.4 361.24,312.7 361.32,294.7 361.4,310.3 361.47,295.9 361.55,312.5 361.63,294.8 361.71,312.9 361.79,295.4 361.87,301.4 361.95,309.9 362.02,302.2 362.1,308.4 362.18,300.9 362.26,309.6 362.34,301.9 362.42,308.2 362.5,302 362.57,295.2 362.65,301 362.73,294.1 362.81,301.1 362.89,295.6 362.97,300.7 363.05,295.5 363.12,313 363.2,294.6 363.28,313 363.36,295.7 363.44,314 363.52,294.9 363.6,315 363.68,294.9 363.75,318.8 363.83,295.2 363.91,314.1 363.99,294.9 364.07,313.8 364.15,295.1 364.23,318.2 364.3,294.7 364.38,300.6 364.46,295.6 364.54,300.9 364.62,296.3 364.7,309.3 364.78,296.2 364.85,311.9 364.93,293.7 365.01,308.9 365.09,295.9 365.17,309.9 365.25,295.5 365.33,301.3 365.4,294.8 365.48,302.1 365.56,295.2 365.64,312.7 365.72,291.6 365.8,309.9 365.88,295.7 365.95,310.9 366.03,294.8 366.11,309.4 366.19,295 366.27,301.7 366.35,295.3 366.43,301.8 366.5,295.5 366.58,301.8 366.66,295.4 366.74,310 366.82,295.8 366.9,313.6 366.98,295.8 367.05,312.6 367.13,295.8 367.21,312.8 367.29,295.2 367.37,319 367.45,294.8 367.53,316.9 367.6,296.1 367.68,316.4 367.76,294.6 367.84,317.2 367.92,294.7 368,300.7 368.08,295.6 368.15,301.6 368.23,295.7 368.31,291.6 368.39,315.2 368.47,301.9 368.55,314.8 368.63,302.1 368.7,315.8 368.78,300.9 368.86,318.9 368.94,302.2 369.02,294.7 369.1,302.2 369.18,294.7 369.25,301.9 369.33,295.1 369.41,301.8 369.49,295.1 369.57,301.5 369.65,294.8 369.73,311.1 369.8,294.9 369.88,310.8 369.96,295 370.04,311.3 370.12,295.7 370.2,312.2 370.28,313.6 370.36,302.2 370.43,313.9 370.51,301.5 370.59,314.1 370.67,301.4 370.75,314.7 370.83,301.6 370.91,295.3 370.98,294.5 371.06,294.9 371.14,301 371.22,294.8 371.3,300.6 371.38,295.5 371.46,315.9 371.53,294.8 371.61,315.7 371.69,296 371.77,317.8 371.85,294.9 371.93,316.9 372.01,293.5 372.08,312.7 372.16,295.1 372.24,327.1 372.32,314.2 372.4,316.8 372.48,295.1 372.56,316.7 372.63,294.9 372.71,302.2 372.79,295 372.87,300.9 372.95,296.3 373.03,302.1 373.11,294.9 373.18,302.1 373.26,310.2 373.34,301.9 373.42,311.2 373.5,302 373.58,311.3 373.66,302.2 373.73,311 373.81,301.9 373.89,294.3 373.97,301.3 374.05,295.9 374.13,314.9 374.21,295 374.28,317.8 374.36,295 374.44,315.8 374.52,295 374.6,314.5 374.68,296.3 374.76,301.9 374.83,295.7 374.91,310.3 374.99,294.7 375.07,311.6 375.15,295 375.23,311.9 375.31,294.9 375.38,310 375.46,296.3 375.54,301.9 375.62,295.6 375.7,301.7 375.78,295.6 375.86,315.4 375.93,294.8 376.01,315 376.09,294.3 376.17,313.4 376.25,294.7 376.33,315.8 376.41,295.5 376.48,301.4 376.56,295 376.64,301.9 376.72,296.1 376.8,301.4 376.88,294.7 376.96,300.9 377.04,294.9 377.11,301.9 377.19,318.9 377.27,300.7 377.35,316.1 377.43,300.9 377.51,319.2 377.59,301.8 377.66,314.4 377.74,300.5 377.82,295.4 377.9,302 377.98,312.7 378.06,302.2 378.14,311.1 378.21,302.1 378.29,310.5 378.37,301.9 378.45,310.8 378.53,292.7 378.61,295.6 378.69,301.9 378.76,295.2 378.84,301.3 378.92,295.1 379,309.7 379.08,295.2 379.16,309 379.24,296.3 379.31,311 379.39,294.6 379.47,310.2 379.55,294.8 379.63,300.8 379.71,294.9 379.79,300.9 379.86,291.6 379.94,314.6 380.02,295.6 380.1,313.5 380.18,295.1 380.26,313.9 380.34,295.2 380.41,313 380.49,295.2 380.57,293.9 380.65,294.7 380.73,302 380.81,294.7 380.89,311.9 380.96,295.7 381.04,308.8 381.12,295.4 381.2,311.2 381.28,295.9 381.36,310.5 381.44,296 381.51,293.7 381.59,294.6 381.67,302 381.75,295.6 381.83,301.5 381.91,310.7 381.99,301.1 382.06,312.4 382.14,300.9 382.22,310.4 382.3,301.2 382.38,323.9 382.46,312.4 382.54,295.4 382.61,301.5 382.69,294.7 382.77,311 382.85,295.6 382.93,311.4 383.01,295.5 383.09,313.9 383.16,296.3 383.24,311.6 383.32,295.7 383.4,301.6 383.48,296.1 383.56,293.2 383.64,295.2 383.71,316.5 383.79,294.6 383.87,317.2 383.95,294.9 384.03,315 384.11,295.7 384.19,314.9 384.27,295.5 384.34,300.6 384.42,294.8 384.5,302 384.58,294.6 384.66,313.5 384.74,295.6 384.82,314.2 384.89,294.6 384.97,316.8 385.05,294.6 385.13,315.9 385.21,294.9 385.29,301.9 385.37,315.2 385.44,302.2 385.52,313.9 385.6,301.3 385.68,313.6 385.76,301.5 385.84,314.2 385.92,300.9 385.99,295.7 386.07,300.7 386.15,294.8 386.23,301.2 386.31,312.9 386.39,300.7 386.47,312.7 386.54,302.2 386.62,313.8 386.7,301.3 386.78,315.5 386.86,302.1 386.94,293.6 387.02,301.3 387.09,294.6 387.17,313.3 387.25,295.9 387.33,315 387.41,296.3 387.49,314.9 387.57,295.3 387.64,314.8 387.72,294.9 387.8,302 387.88,295.5 387.96,301.4 388.04,295.3 388.12,316.9 388.19,295.2 388.27,312.9 388.35,295.8 388.43,314.6 388.51,296.2 388.59,316.3 388.67,295.6 388.74,301 388.82,295 388.9,301.5 388.98,295 389.06,314 389.14,296.1 389.22,314.6 389.29,295.6 389.37,316.3 389.45,293.6 389.53,314.8 389.61,295.9 389.69,301.1 389.77,294.9 389.84,302.1 389.92,295.7 390,302.1 390.08,294.7 390.16,313.3 390.24,295 390.32,310 390.39,295.1 390.47,312.6 390.55,330.2 390.63,315.9 390.71,295.9 390.79,301.3 390.87,295 390.95,301.2 391.02,295 391.1,310.7 391.18,294.9 391.26,311.5 391.34,295.9 391.42,310.2 391.5,295.6 391.57,310.8 391.65,293.8 391.73,300.8 391.81,294.7 391.89,302 391.97,311.6 392.05,301.3 392.12,309.2 392.2,301.4 392.28,310.1 392.36,301.8 392.44,312.4 392.52,301.4 392.6,294.7 392.67,301.9 392.75,308.7 392.83,300.8 392.91,309.2 392.99,300.9 393.07,309.9 393.15,302.1 393.22,310.8 393.3,302 393.38,294.4 393.46,301.3 393.54,295.9 393.62,302.1 393.7,295.3 393.77,294.4 393.85,295.8 393.93,311.8 394.01,295.9 394.09,309.1 394.17,294.8 394.25,309.3 394.32,296.3 394.4,310.8 394.48,295.9 394.56,301 394.64,316.9 394.72,300.9 394.8,318.9 394.87,301 394.95,318.3 395.03,301.9 395.11,318.6 395.19,301.5 395.27,295.2 395.35,294.4 395.42,294.9 395.5,301 395.58,314.2 395.66,301.2 395.74,313.8 395.82,300.9 395.9,314 395.97,304.4 396.05,290.6 396.13,305.8 396.21,299.7 396.29,305.5 396.37,299.4 396.45,305.6 396.52,299.3 396.6,293.5 396.68,299.3 396.76,291.5 396.84,300.3 396.92,291.5 397,300.6 397.07,305.5 397.15,299.1 397.23,305.6 397.31,291.4 397.39,305.1 397.47,299.4 397.55,306.9 397.63,300.4 397.7,292.7 397.78,300.1 397.86,292.3 397.94,305.3 398.02,292.1 398.1,305.3 398.18,292 398.25,306.6 398.33,293.1 398.41,305.9 398.49,290.6 398.57,300.1 398.65,291.9 398.73,307 398.8,292.9 398.88,307.3 398.96,292.9 399.04,305.3 399.12,291.8 399.2,307.8 399.28,291.7 399.35,300.8 399.43,292.2 399.51,291.4 399.59,292.8 399.67,299.6 399.75,308.7 399.83,299.8 399.9,310.6 399.98,300.9 400.06,296.5 400.14,292.1 400.22,295.2 400.3,301.1 400.38,295.8 400.45,302.2 400.53,295.5 400.61,301.8 400.69,296.4 400.77,302.3 400.85,295.2 400.93,302.7 401,311.3 401.08,302.7 401.16,309.3 401.24,301.4 401.32,311.2 401.4,301.1 401.48,311.9 401.55,302.1 401.63,294.4 401.71,308.1 401.79,295.9 401.87,308.2 401.95,296.2 402.03,308.8 402.1,296.3 402.18,309.6 402.26,296.7 402.34,301.1 402.42,295.4 402.5,301.7 402.58,295.4 402.65,309.8 402.73,295.2 402.81,310.5 402.89,295.3 402.97,308.3 403.05,295.3 403.13,308.5 403.2,295.6 403.28,301.2 403.36,295.7 403.44,302.4 403.52,295.1 403.6,301.7 403.68,296 403.75,301.5 403.83,314.9 403.91,301.4 403.99,312 404.07,302.6 404.15,315.8 404.23,294.5 404.31,313 404.38,301.9 404.46,295.9 404.54,308.8 404.62,296.7 404.7,308.3 404.78,295.7 404.86,319.1 404.93,310 405.01,308.3 405.09,295.9 405.17,302.1 405.25,295.6 405.33,302 405.41,311.6 405.48,292.8 405.56,314.7 405.64,302.4 405.72,314.6 405.8,302.2 405.88,313.9 405.96,301.6 406.03,295.2 406.11,301.5 406.19,295.4 406.27,301.4 406.35,295.6 406.43,301.3 406.51,312 406.58,301.8 406.66,312.4 406.74,302.1 406.82,310 406.9,302.7 406.98,310.5 407.06,302.2 407.13,295.1 407.21,302.1 407.29,296.2 407.37,308.4 407.45,295.2 407.53,308.2 407.61,295.2 407.68,308.6 407.76,296.4 407.84,307.9 407.92,296.7 408,302.2 408.08,295.3 408.16,302.4 408.23,296.7 408.31,301.5 408.39,295.6 408.47,302.4 408.55,295.6 408.63,301.6 408.71,311.2 408.78,301.7 408.86,313.6 408.94,301.7 409.02,310.6 409.1,301.3 409.18,310.5 409.26,311.7 409.33,295.2 409.41,311.3 409.49,296.2 409.57,312.4 409.65,295.8 409.73,309.3 409.81,295.2 409.88,302.6 409.96,295.3 410.04,301.4 410.12,295.3 410.2,301.5 410.28,296.7 410.36,309.2 410.43,295.7 410.51,307.4 410.59,296.8 410.67,307.3 410.75,294.6 410.83,307.9 410.91,295.2 410.98,302.5 411.06,295.1 411.14,302.1 411.22,295.4 411.3,301.5 411.38,308.4 411.46,302.2 411.54,308.1 411.61,301.8 411.69,307.1 411.77,302.1 411.85,308.2 411.93,302.6 412.01,295.1 412.09,302.4 412.16,296.7 412.24,301.6 412.32,296.7 412.4,311.2 412.48,295.8 412.56,313.1 412.64,295.5 412.71,313.8 412.79,295.7 412.87,311.1 412.95,295.8 413.03,302.5 413.11,295.3 413.19,314.9 413.26,295.4 413.34,314.9 413.42,296.3 413.5,314.4 413.58,295.2 413.66,314.4 413.74,295.6 413.81,301.3 413.89,307.9 413.97,302.3 414.05,309.2 414.13,302.6 414.21,308.1 414.29,294.3 414.36,309.3 414.44,302.2 414.52,295.6 414.6,301.9 414.68,296.8 414.76,301.8 414.84,296.3 414.91,312.9 414.99,296.2 415.07,313.1 415.15,295.8 415.23,313.8 415.31,295.9 415.39,313 415.46,295.2 415.54,302.4 415.62,296.7 415.7,302.6 415.78,295.2 415.86,301.5 415.94,309.8 416.01,301.1 416.09,311 416.17,302.1 416.25,309.1 416.33,302.5 416.41,308.9 416.49,302 416.56,295.4 416.64,302.6 416.72,296 416.8,302.4 416.88,296.1 416.96,310.3 417.04,296 417.11,310 417.19,295.5 417.27,310.1 417.35,295.8 417.43,308.7 417.51,295.4 417.59,302.4 417.66,312.7 417.74,302.7 417.82,311.5 417.9,301 417.98,312.1 418.06,301.7 418.14,311.5 418.22,301.6 418.29,295.4 418.37,302.7 418.45,295.8 418.53,301.7 418.61,295.1 418.69,302.1 418.77,295.1 418.84,312.4 418.92,295.8 419,314.3 419.08,295.3 419.16,322.3 419.24,311.8 419.32,313.7 419.39,296 419.47,302.6 419.55,295.1 419.63,302.4 419.71,308 419.79,301.1 419.87,309.7 419.94,301.2 420.02,308.6 420.1,302.7 420.18,307.8 420.26,293.9 420.34,295.5 420.42,302.4 420.49,310 420.57,302.5 420.65,308.5 420.73,301.1 420.81,309.3 420.89,302.5 420.97,310.3 421.04,302.4 421.12,296.8 421.2,301.7 421.28,295.3 421.36,301.9 421.44,309 421.52,294.8 421.59,310.6 421.67,301.3 421.75,309.6 421.83,302.6 421.91,309.5 421.99,301.2 422.07,295.7 422.14,301.6 422.22,296.8 422.3,302.6 422.38,296.7 422.46,302.7 422.54,310.1 422.62,301.1 422.69,311.9 422.77,302.7 422.85,310.8 422.93,301.2 423.01,310 423.09,301.6 423.17,295.3 423.24,292.7 423.32,296.1 423.4,302.5 423.48,295.8 423.56,302.2 423.64,309.2 423.72,302.5 423.79,308.1 423.87,302.2 423.95,309.7 424.03,302.7 424.11,308.5 424.19,301.6 424.27,295.3 424.34,312 424.42,296 424.5,312.4 424.58,296.3 424.66,313.8 424.74,296.3 424.82,313 424.9,295.3 424.97,302.6 425.05,295.5 425.13,302.7 425.21,295.9 425.29,301.9 425.37,295.5 425.45,309.5 425.52,295.4 425.6,308 425.68,295.4 425.76,310.1 425.84,295.9 425.92,308.5 426,296.7 426.07,302.6 426.15,323.9 426.23,312.7 426.31,295.8 426.39,309.6 426.47,296.3 426.55,308.9 426.62,295.3 426.7,308 426.78,295.1 426.86,309.2 426.94,296.6 427.02,309.9 427.1,296.6 427.17,310.8 427.25,296.6 427.33,309.9 427.41,296.1 427.49,310.2 427.57,296.2 427.65,301.9 427.72,295.5 427.8,302.6 427.88,295.4 427.96,293 428.04,295.2 428.12,302.7 428.2,313.6 428.27,302.3 428.35,311.4 428.43,302.2 428.51,313 428.59,301.6 428.67,313.2 428.75,301.7 428.82,295.1 428.9,301.2 428.98,296.4 429.06,301.5 429.14,293.8 429.22,311.8 429.3,295.2 429.37,312.2 429.45,296.7 429.53,311.8 429.61,295.1 429.69,311.3 429.77,295.6 429.85,302.5 429.92,310.4 430,301.6 430.08,312.5 430.16,301.6 430.24,313.2 430.32,302.6 430.4,310.3 430.47,302.6 430.55,296.2 430.63,301 430.71,296.4 430.79,302.7 430.87,296.8 430.95,302 431.02,296.5 431.1,312.1 431.18,294.6 431.26,312.8 431.34,295.1 431.42,312.6 431.5,295.5 431.58,312.3 431.65,295.6 431.73,302.7 431.81,309.9 431.89,302.2 431.97,310.1 432.05,301.3 432.13,309.1 432.2,302.6 432.28,311.8 432.36,301.8 432.44,296 432.52,301.2 432.6,295.2 432.68,301.9 432.75,296.4 432.83,301.5 432.91,294.8 432.99,310 433.07,296 433.15,309.4 433.23,295.8 433.3,309.3 433.38,295.2 433.46,308.7 433.54,303.8 433.62,310.4 433.7,305.9 433.78,313.2 433.85,306.4 433.93,313.4 434.01,308.3 434.09,315.2 434.17,309.5 434.25,317.6 434.33,311.9 434.4,318.8 434.48,313.2 434.56,320.9 434.64,315 434.72,320.9 434.8,315.8 434.88,323.1 434.95,316.9 435.03,324.8 435.11,318.8 435.19,327.5 435.27,323.9 435.35,332.2 435.43,329.1 435.5,338.7 435.58,335.1 435.66,343.7 435.74,339.2 435.82,349 435.9,345.2 435.98,353.4 436.05,350 436.13,359.1 436.21,354.2 436.29,363.9 436.37,358.8 436.45,367.3 436.53,361.4 436.6,369.7 436.68,364.2 436.76,372.4 436.84,367.6 436.92,374.9 437,369.9 437.08,378.9 437.15,372.9 437.23,381.8 437.31,376.6 437.39,384.3 437.47,378.7 437.55,386.2 437.63,388.5 437.7,388.1 437.78,383.5 437.86,388 437.94,383.3 438.02,388.6 438.1,382.7 438.18,387.8 438.26,378.9 438.33,388.8 438.41,383 438.49,388.2 438.57,382.4 438.65,388.7 438.73,382.7 438.81,388.4 438.88,382.6 438.96,388.1 439.04,382.7 439.12,388.7 439.2,382.5 439.28,377.3 439.36,383.3 439.43,377.7 439.51,378.4 439.59,377.7 439.67,382.5 439.75,377 439.83,382.2 439.91,377.7 439.98,374.3 440.06,378 440.14,384.7 440.22,369.5 440.3,382.4 440.38,378 440.46,359.9 440.53,378.5 440.61,382.8 440.69,365.7 440.77,383.3 440.85,378.1 440.93,369.8 441.01,378.8 441.08,383 441.16,372 441.24,380.4 441.32,378.2 441.4,373.1 441.48,378.6 441.56,382.6 441.63,375.1 441.71,380.1 441.79,378.4 441.87,376.3 441.95,377.8 442.03,383 442.11,377.1 442.18,379.2 442.26,378.7 442.34,377.8 442.42,377.8 442.5,382.8 442.58,377.8 442.66,376.5 442.73,378.6 442.81,378.9 442.89,373.4 442.97,384.3 443.05,377.7 443.13,375.8 443.21,378.4 443.28,374.5 443.36,376.3 443.44,383.2 443.52,378.5 443.6,377.5 443.68,376 443.76,379.9 443.83,378.2 443.91,382.1 443.99,378.7 444.07,378.6 444.15,378 444.23,380.2 444.31,379 444.38,382.2 444.46,378.1 444.54,379.4 444.62,378.9 444.7,380.1 444.78,377.9 444.86,382.7 444.93,379.6 445.01,379.8 445.09,378.1 445.17,379.1 445.25,378.3 445.33,383.3 445.41,378.1 445.49,380.1 445.56,377.8 445.64,376.3 445.72,377.7 445.8,385.6 445.88,372.6 445.96,380.3 446.04,378.3 446.11,366.3 446.19,378.6 446.27,383 446.35,370.3 446.43,380.4 446.51,378.1 446.59,372.8 446.66,378.8 446.74,377.1 446.82,374 446.9,380.4 446.98,378.5 447.06,375.8 447.14,378.5 447.21,382.4 447.29,376.6 447.37,380.4 447.45,377.9 447.53,377.8 447.61,375.2 447.69,382.9 447.76,378.4 447.84,380.5 447.92,384.7 448,378.6 448.08,378 448.16,383 448.24,377.7 448.31,380.5 448.39,378.6 448.47,379.5 448.55,378.1 448.63,372.1 448.71,378.2 448.79,382.2 448.86,378.4 448.94,379.9 449.02,378 449.1,382.8 449.18,380 449.26,379.7 449.34,377.7 449.41,380.1 449.49,377.8 449.57,382.7 449.65,378.5 449.73,378.3 449.81,375.9 449.89,380.3 449.96,376.5 450.04,382.9 450.12,380.3 450.2,374 450.28,377.7 450.36,380.4 450.44,369.1 450.51,383 450.59,377.9 450.67,358.4 450.75,378.4 450.83,380.4 450.91,365.1 450.99,385.3 451.06,378.7 451.14,367.4 451.22,378.2 451.3,380.5 451.38,370.5 451.46,382.3 451.54,378.3 451.61,372.8 451.69,377.8 451.77,384.8 451.85,374.5 451.93,383.2 452.01,377.9 452.09,375.7 452.17,371.6 452.24,382.6 452.32,376.8 452.4,383.2 452.48,378 452.56,377.6 452.64,377.9 452.72,383.3 452.79,378.2 452.87,383.3 452.95,377.8 453.03,378.8 453.11,377.9 453.19,382.6 453.27,378.7 453.34,379.5 453.42,378.5 453.5,379.6 453.58,378.1 453.66,383.2 453.74,376.7 453.82,377.8 453.89,384.9 453.97,379.8 454.05,375.5 454.13,383.3 454.21,377.8 454.29,371.3 454.37,378.5 454.44,380.1 454.52,365.4 454.6,382.5 454.68,377.9 454.76,352 454.84,377.4 454.92,380.3 454.99,359.7 455.07,382.8 455.15,378 455.23,363.9 455.31,377.9 455.39,380.4 455.47,368.6 455.54,383.3 455.62,378.5 455.7,370.9 455.78,377.8 455.86,380.4 455.94,373.1 456.02,383.3 456.09,380.4 456.17,374.8 456.25,378.6 456.33,382.8 456.41,375.7 456.49,383 456.57,384.4 456.64,376.8 456.72,378.7 456.8,373 456.88,377.8 456.96,379.9 457.04,378 457.12,378.3 457.19,378.7 457.27,382.2 457.35,378.4 457.43,378.6 457.51,375.8 457.59,379.2 457.67,376.9 457.74,385.7 457.82,378.8 457.9,374.6 457.98,377.9 458.06,379.7 458.14,370.4 458.22,382.6 458.29,378.4 458.37,361 458.45,377.9 458.53,380.1 458.61,345.7 458.69,382.1 458.77,380.2 458.85,356.3 458.92,378.7 459,377.2 459.08,362.1 459.16,382.5 459.24,377.8 459.32,364.6 459.4,377.7 459.47,377.6 459.55,369.3 459.63,382.5 459.71,378.8 459.79,370.7 459.87,378.3 459.95,380.4 460.02,373.3 460.1,382.3 460.18,377.8 460.26,375 460.34,378.3 460.42,382.8 460.5,375.8 460.57,385.5 460.65,378.3 460.73,377.3 460.81,378.4 460.89,383 460.97,378.1 461.05,377.1 461.12,378.9 461.2,378.4 461.28,378.4 461.36,382.1 461.44,377.7 461.52,382.8 461.6,385.4 461.67,379.3 461.75,378 461.83,383.3 461.91,378.6 461.99,376 462.07,378.8 462.15,379.7 462.22,378.8 462.3,382.7 462.38,378.9 462.46,383.2 462.54,378.4 462.62,380.1 462.7,377.7 462.77,383.2 462.85,378.1 462.93,382.4 463.01,385.2 463.09,379.5 463.17,378.5 463.25,382.8 463.32,378.2 463.4,382.4 463.48,377.8 463.56,377.4 463.64,384.8 463.72,382.6 463.8,375.2 463.87,382.9 463.95,378.2 464.03,371.3 464.11,378.5 464.19,382.9 464.27,364.6 464.35,377.5 464.42,377.7 464.5,350.5 464.58,377.8 464.66,382.1 464.74,359.9 464.82,383.3 464.9,377.8 464.97,365 465.05,377.7 465.13,382.2 465.21,367.1 465.29,382.6 465.37,378.8 465.45,370.7 465.53,378.1 465.6,383.2 465.68,372.7 465.76,382.5 465.84,378 465.92,374 466,377.8 466.08,382.8 466.15,376.1 466.23,383.3 466.31,378.1 466.39,375 466.47,377.7 466.55,382.8 466.63,377.5 466.7,384.3 466.78,378 466.86,378.4 466.94,377.7 467.02,382.6 467.1,378.5 467.18,382.5 467.25,377 467.33,377.2 467.41,378.5 467.49,382.6 467.57,374.6 467.65,382.9 467.73,377.9 467.8,369.4 467.88,378.8 467.96,382.6 468.04,372.3 468.12,383.2 468.2,378.2 468.28,374.7 468.35,378.8 468.43,383.1 468.51,375.4 468.59,382.8 468.67,378.8 468.75,376.8 468.83,377.7 468.9,382.7 468.98,377.7 469.06,382.1 469.14,377.9 469.22,377.6 469.3,377.9 469.38,380 469.45,378.8 469.53,383.1 469.61,378.5 469.69,379.1 469.77,378.2 469.85,378.9 469.93,377.7 470,383.3 470.08,377.8 470.16,379.7 470.24,378.3 470.32,375.8 470.4,377.8 470.48,383.2 470.55,372.2 470.63,380 470.71,377.8 470.79,365.1 470.87,378.9 470.95,382.6 471.03,352.8 471.1,376.8 471.18,378.6 471.26,361.7 471.34,380.3 471.42,383.3 471.5,365.3 471.58,380.3 471.65,378.3 471.73,369 471.81,372.7 471.89,382.5 471.97,371.4 472.05,380.4 472.13,377.9 472.2,373.6 472.28,377.8 472.36,382.6 472.44,374.4 472.52,380.4 472.6,378.7 472.68,376.2 472.76,380.5 472.83,382.7 472.91,377.1 472.99,380.5 473.07,377.3 473.15,378 473.23,378.9 473.31,379.6 473.38,377.7 473.46,382.1 473.54,378.8 473.62,378.8 473.7,378.8 473.78,377.6 473.86,378 473.93,383.3 474.01,375.9 474.09,379.6 474.17,375.5 474.25,372.3 474.33,377.7 474.41,382.7 474.48,364 474.56,379.9 474.64,384.5 474.72,351.6 474.8,378.1 474.88,383.2 474.96,361 475.03,380.1 475.11,378.6 475.19,363.8 475.27,378.3 475.35,382.2 475.43,368.1 475.51,380.3 475.58,378.7 475.66,370.1 475.74,378.2 475.82,382.4 475.9,373.2 475.98,380.4 476.06,378.3 476.13,374.8 476.21,377.7 476.29,382.1 476.37,375.7 476.45,380.4 476.53,378.3 476.61,376.9 476.68,377.8 476.76,382.9 476.84,377.7 476.92,382.3 477,377.9 477.08,378.4 477.16,378.1 477.23,382.3 477.31,378.3 477.39,379.3 477.47,377.9 477.55,379.1 477.63,378.5 477.71,385.3 477.78,378 477.86,377.2 477.94,377.8 478.02,375.8 478.1,374.8 478.18,383.2 478.26,377.7 478.33,370.5 478.41,378.1 478.49,380 478.57,363 478.65,385.1 478.73,378.9 478.81,346.5 478.88,377.9 478.96,380.2 479.04,356.8 479.12,383.3 479.2,374.5 479.28,362.6 479.36,378.3 479.44,380.3 479.51,365.9 479.59,382.3 479.67,378 479.75,368.9 479.83,378.2 479.91,380.4 479.99,371.8 480.06,382.2 480.14,377.8 480.22,373.6 480.3,377.8 480.38,382.1 480.46,375.5 480.54,382.5 480.61,375.6 480.69,375.9 480.77,378.2 480.85,382.9 480.93,377 481.01,383.3 481.09,377.8 481.16,377.8 481.24,378.5 481.32,382.6 481.4,376 481.48,383.3 481.56,375.6 481.64,372.1 481.71,378.1 481.79,382.5 481.87,364.7 481.95,382.7 482.03,378.2 482.11,369.5 482.19,377.9 482.26,383.2 482.34,372.3 482.42,383.3" stroke="url(#g5)" class="l"/><text class="t" transform="translate(278.25 401.9) scale(1 1.07)" text-anchor="middle">150</text><text class="t" transform="translate(319.1 401.9) scale(1 1.07)" text-anchor="middle">151</text><text class="t" transform="translate(359.95 401.9) scale(1 1.07)" text-anchor="middle">152</text><text class="t" transform="translate(400.8 401.9) scale(1 1.07)" text-anchor="middle">153</text><text class="t" transform="translate(441.65 401.9) scale(1 1.07)" text-anchor="middle">154</text><text class="t" transform="translate(482.5 401.9) scale(1 1.07)" text-anchor="middle">155</text><text class="t" transform="translate(265.6 371.5) scale(1 1.07)" text-anchor="end">0.4</text><text class="t" transform="translate(265.6 339.88) scale(1 1.07)" text-anchor="end">0.6</text><text class="t" transform="translate(265.6 308.25) scale(1 1.07)" text-anchor="end">0.8</text><text class="a" transform="translate(381 409.6) scale(1 1.07)" text-anchor="middle">Time(s)</text><text class="v" transform="translate(254.59 338.75) rotate(-90) scale(1.025 1)" text-anchor="middle">Current(A)</text><text class="h" transform="translate(385 281.1) scale(1 1.07)" text-anchor="middle">Raspberry Pi: Hydra T16 IKE</text></g>
<g><rect x="23.3" y="419.6" width="223.4" height="112" fill="#EBEBEB"/><path d="M53.84 419.6V531.6M94.52 419.6V531.6M135.2 419.6V531.6M175.88 419.6V531.6M216.56 419.6V531.6M23.3 500.72H246.7M23.3 464.17H246.7M23.3 427.62H246.7" stroke="#fff" stroke-opacity=".9" stroke-width=".38" fill="none"/><path d="M33.5 419.6V531.6M74.18 419.6V531.6M114.86 419.6V531.6M155.54 419.6V531.6M196.22 419.6V531.6M236.9 419.6V531.6M23.3 519H246.7M23.3 482.45H246.7M23.3 445.9H246.7" stroke="#fff" stroke-width=".7" fill="none"/><path d="M33.5 531.6v2M74.18 531.6v2M114.86 531.6v2M155.54 531.6v2M196.22 531.6v2M236.9 531.6v2M23.3 519h-2M23.3 482.45h-2M23.3 445.9h-2" stroke="#333" stroke-width=".55" fill="none"/><polyline points="33.5,524.2 33.58,516.5 33.66,517.8 33.73,523.4 33.81,517.3 33.89,523.4 33.97,517.6 34.05,523 34.13,518.1 34.2,514.6 34.28,517.4 34.36,523.1 34.44,517.2 34.52,522.3 34.6,524.2 34.67,523.7 34.75,516.4 34.83,523 34.91,517.2 34.99,523.6 35.07,517.3 35.14,524.3 35.22,517.8 35.3,523.3 35.38,515.6 35.46,522.7 35.53,517.5 35.61,523.6 35.69,517.5 35.77,522.6 35.85,517.5 35.93,522.3 36,511 36.08,492.9 36.16,509.4 36.24,513.5 36.32,507.4 36.4,511.3 36.47,505.2 36.55,509.9 36.63,503.5 36.71,493.9 36.79,501.4 36.87,506.9 36.94,487.2 37.02,493.1 37.1,502.8 37.18,503.8 37.26,498.5 37.33,489.5 37.41,498.5 37.49,504 37.57,498.8 37.65,504.7 37.73,498.4 37.8,504.3 37.88,499.2 37.96,503.9 38.04,494.7 38.12,503.2 38.2,498 38.27,503.4 38.35,497.2 38.43,502.6 38.51,496.3 38.59,494.9 38.67,502.7 38.74,502.6 38.82,496.7 38.9,502.2 38.98,496.4 39.06,503 39.13,498.2 39.21,495.9 39.29,498.1 39.37,505.5 39.45,499.6 39.53,505.6 39.6,501.8 39.68,507.2 39.76,502 39.84,508.3 39.92,504.5 40,495.2 40.07,505 40.15,510 40.23,505 40.31,510.6 40.39,505.7 40.47,511.2 40.54,506.6 40.62,510.7 40.7,507.9 40.78,511.1 40.86,505.6 40.93,510.1 41.01,504.5 41.09,509.9 41.17,504.4 41.25,497.1 41.33,503.9 41.4,509.2 41.48,503.2 41.56,508.8 41.64,502.4 41.72,505 41.8,501.8 41.87,497 41.95,501.8 42.03,489.8 42.11,496 42.19,506.4 42.27,495.6 42.34,505.3 42.42,499.1 42.5,504.3 42.58,497.7 42.66,503.7 42.73,498 42.81,502.6 42.89,497.3 42.97,501.3 43.05,496.3 43.13,501 43.2,496.9 43.28,509.3 43.36,495.7 43.44,501.7 43.52,496.6 43.6,503 43.67,497 43.75,502.8 43.83,497.8 43.91,503.7 43.99,498.7 44.07,505.1 44.14,499.3 44.22,506.1 44.3,500.7 44.38,505.7 44.46,511.8 44.53,507.8 44.61,502.3 44.69,508.5 44.77,502.9 44.85,509.6 44.93,505.2 45,509.8 45.08,504.7 45.16,510.9 45.24,504.8 45.32,510.3 45.4,506.4 45.47,511.3 45.55,506.6 45.63,511.2 45.71,507 45.79,505.6 45.87,506.4 45.94,514.4 46.02,506.5 46.1,513 46.18,506.8 46.26,513 46.33,507.8 46.41,512.5 46.49,503.9 46.57,513.3 46.65,508 46.73,512.7 46.8,509.2 46.88,514.7 46.96,509 47.04,514.2 47.12,497.6 47.2,515.6 47.27,516.3 47.35,516.4 47.43,512.9 47.51,518.2 47.59,510.2 47.67,518.6 47.74,514.1 47.82,519.4 47.9,513.6 47.98,517.8 48.06,513.8 48.13,500.1 48.21,512.6 48.29,517.8 48.37,513.4 48.45,517.7 48.53,512.1 48.6,517.1 48.68,511.4 48.76,516.6 48.84,511.2 48.92,517.1 49,512 49.07,518.1 49.15,518.9 49.23,518.5 49.31,513.4 49.39,519.3 49.47,513.6 49.54,519.6 49.62,514.1 49.7,520.7 49.78,513.6 49.86,521.6 49.93,515.7 50.01,522.1 50.09,514 50.17,522.8 50.25,516.7 50.33,522.5 50.4,517.8 50.48,523.2 50.56,517.2 50.64,524.8 50.72,522.7 50.8,517.2 50.87,523.6 50.95,515.8 51.03,523.5 51.11,517.2 51.19,523.1 51.27,518.6 51.34,525.1 51.42,518 51.5,523 51.58,518.4 51.66,523.7 51.73,517.8 51.81,523.6 51.89,517.9 51.97,523.6 52.05,517.4 52.13,515.4 52.2,518.3 52.28,523.6 52.36,524.9 52.44,523.1 52.52,517.4 52.6,517 52.67,518.5 52.75,522.6 52.83,517.4 52.91,515.1 52.99,518.2 53.07,522.6 53.14,518.2 53.22,523.2 53.3,524.8 53.38,523 53.46,517.5 53.53,523.5 53.61,518.5 53.69,522.3 53.77,525.5 53.85,509.6 53.93,517.6 54,523.3 54.08,518.4 54.16,523.5 54.24,517.6 54.32,513.6 54.4,517.6 54.47,522.9 54.55,518.2 54.63,523.2 54.71,514.3 54.79,525.5 54.87,517.5 54.94,523.7 55.02,517.5 55.1,523 55.18,517.4 55.26,522.7 55.33,517.2 55.41,523.4 55.49,517.3 55.57,524.8 55.65,517.8 55.73,522.4 55.8,518.4 55.88,512.9 55.96,517.5 56.04,522.5 56.12,517.6 56.2,522.9 56.27,517.3 56.35,507.8 56.43,522.2 56.51,522.9 56.59,520.9 56.67,513.9 56.74,520.1 56.82,514.5 56.9,520.2 56.98,514 57.06,520.4 57.13,511.6 57.21,519.3 57.29,512.5 57.37,518 57.45,511.4 57.53,493.4 57.6,502.9 57.68,517.6 57.76,511.1 57.84,517.4 57.92,509.5 58,516.3 58.07,509.9 58.15,509.3 58.23,510.2 58.31,517.9 58.39,520.7 58.47,518 58.54,511.6 58.62,506.8 58.7,511.2 58.78,516.9 58.86,510.7 58.93,518.7 59.01,511.1 59.09,518 59.17,511 59.25,518.6 59.33,512.1 59.4,504.9 59.48,512.5 59.56,518.6 59.64,512.8 59.72,518.2 59.8,511.6 59.87,518.5 59.95,518.3 60.03,519.3 60.11,512.8 60.19,518.9 60.27,512.9 60.34,505.2 60.42,512.7 60.5,519 60.58,512.6 60.66,520.3 60.73,513 60.81,520.7 60.89,512.9 60.97,519.2 61.05,513.3 61.13,521.1 61.2,508.5 61.28,515.8 61.36,504 61.44,508.6 61.52,497.7 61.6,502.1 61.67,492 61.75,496.7 61.83,484.7 61.91,491.3 61.99,479.4 62.07,485.6 62.14,471.9 62.22,479.5 62.3,466.7 62.38,472.3 62.46,458.8 62.53,469 62.61,452.9 62.69,469.5 62.77,457 62.85,469.6 62.93,453.5 63,471.5 63.08,454.8 63.16,467.2 63.24,464.1 63.32,471 63.4,457.5 63.47,469.8 63.55,460.6 63.63,469.9 63.71,457.5 63.79,467.4 63.87,456.9 63.94,471.9 64.02,455 64.1,471.7 64.18,455.3 64.26,469.1 64.33,455.4 64.41,472.9 64.49,460.3 64.57,467.5 64.65,464.3 64.73,473.2 64.8,462.4 64.88,476.1 64.96,461 65.04,474 65.12,466.1 65.2,473.9 65.27,467.4 65.35,477.4 65.43,461.8 65.51,472.6 65.59,461.4 65.67,477.8 65.74,460.9 65.82,476.3 65.9,463.4 65.98,462.4 66.06,461.3 66.13,472.7 66.21,459.2 66.29,466.6 66.37,460 66.45,468.9 66.53,455.9 66.6,471.8 66.68,455.5 66.76,472 66.84,455.5 66.92,472 67,458.7 67.07,469.6 67.15,458.1 67.23,473.3 67.31,457.6 67.39,463.9 67.47,460 67.54,474.3 67.62,461 67.7,474.8 67.78,458.1 67.86,475.2 67.93,461.1 68.01,470.4 68.09,460.8 68.17,470.2 68.25,457 68.33,473.5 68.4,473 68.48,468.8 68.56,458.1 68.64,467.4 68.72,461.4 68.8,469.3 68.87,454.3 68.95,468.8 69.03,454.1 69.11,471.7 69.19,458.4 69.27,468.2 69.34,459.9 69.42,469.7 69.5,454.6 69.58,470.6 69.66,457.7 69.73,471.6 69.81,458.8 69.89,468.9 69.97,457.2 70.05,467.4 70.13,455.5 70.2,467 70.28,455.2 70.36,466 70.44,458.5 70.52,472.2 70.6,455.7 70.67,460.4 70.75,457.1 70.83,471 70.91,455.7 70.99,473.1 71.07,459.6 71.14,471.1 71.22,460.6 71.3,478.1 71.38,457 71.46,470.5 71.53,461.5 71.61,474.6 71.69,462.9 71.77,470.6 71.85,464 71.93,470.2 72,459 72.08,474.1 72.16,457 72.24,472.8 72.32,455.8 72.4,473.3 72.47,456.7 72.55,472.8 72.63,455.9 72.71,472 72.79,454.9 72.87,467.1 72.94,456.1 73.02,468 73.1,453.9 73.18,470.8 73.26,479.5 73.33,459.8 73.41,458.1 73.49,467.7 73.57,456.5 73.65,471.4 73.73,456.9 73.8,468.2 73.88,456 73.96,472.3 74.04,459.7 74.12,473.2 74.2,462.2 74.27,468.6 74.35,459 74.43,469.1 74.51,457.3 74.59,460.7 74.67,463.1 74.74,474.6 74.82,461.3 74.9,473.4 74.98,462.1 75.06,467.5 75.13,461.7 75.21,474.9 75.29,461.6 75.37,470.7 75.45,457.7 75.53,475.1 75.6,459.6 75.68,472.4 75.76,458.2 75.84,474.9 75.92,457.7 76,472.9 76.07,460.8 76.15,469.9 76.23,457.5 76.31,471.5 76.39,462.3 76.47,471.1 76.54,455.9 76.62,473.7 76.7,461.8 76.78,456.9 76.86,457.5 76.93,471.1 77.01,457.8 77.09,473.5 77.17,462.5 77.25,468.6 77.33,459.7 77.4,469.2 77.48,479.6 77.56,475.3 77.64,461 77.72,469.8 77.8,459.2 77.87,473.5 77.95,461.8 78.03,472 78.11,460.6 78.19,472.1 78.27,464.1 78.34,474.1 78.42,463.8 78.5,472.1 78.58,459.3 78.66,474.1 78.73,458.3 78.81,468.1 78.89,459 78.97,473.9 79.05,459.8 79.13,470.8 79.2,460 79.28,473.6 79.36,458.7 79.44,473.6 79.52,458.2 79.6,467.8 79.67,456.6 79.75,469.6 79.83,455.6 79.91,466.5 79.99,454.8 80.07,471.5 80.14,458.7 80.22,465.3 80.3,453.2 80.38,474.5 80.46,453 80.53,466.2 80.61,458.8 80.69,471.5 80.77,459 80.85,466 80.93,456.2 81,468 81.08,457.7 81.16,469.3 81.24,460 81.32,474.3 81.4,462.1 81.47,471.9 81.55,458.4 81.63,471.3 81.71,462.1 81.79,476.4 81.87,457.3 81.94,474.5 82.02,464.9 82.1,475.2 82.18,461.4 82.26,474 82.33,459.9 82.41,470.3 82.49,465.3 82.57,472.3 82.65,462.5 82.73,471 82.8,472.3 82.88,463.3 82.96,458.8 83.04,473.3 83.12,460.1 83.2,471.4 83.27,458.4 83.35,474.4 83.43,461.8 83.51,474 83.59,461.2 83.67,467.2 83.74,455.8 83.82,472.5 83.9,456.8 83.98,471.5 84.06,453.6 84.13,469.6 84.21,457.2 84.29,470.1 84.37,453.2 84.45,468.1 84.53,455.6 84.6,464.6 84.68,477.3 84.76,470 84.84,460.4 84.92,467 85,460.2 85.07,466.8 85.15,459.7 85.23,470 85.31,457.2 85.39,467.4 85.47,460.8 85.54,467.6 85.62,460.1 85.7,471.8 85.78,458.8 85.86,462.8 85.93,459.3 86.01,472.2 86.09,459 86.17,472.5 86.25,459.1 86.33,468.3 86.4,458.2 86.48,468.3 86.56,459.3 86.64,478.8 86.72,454.5 86.8,474.6 86.87,458.8 86.95,479.8 87.03,458.6 87.11,473.8 87.19,464 87.27,479.6 87.34,463.6 87.42,477.5 87.5,455.5 87.58,478.5 87.66,462.4 87.73,473.6 87.81,453.3 87.89,477.4 87.97,456.4 88.05,472.5 88.13,454.6 88.2,477.5 88.28,455.2 88.36,473.1 88.44,454.6 88.52,474.5 88.6,463.5 88.67,477 88.75,458.1 88.83,470.4 88.91,451.7 88.99,470.3 89.07,452 89.14,460.6 89.22,452.4 89.3,472.3 89.38,455.3 89.46,472.4 89.53,448.8 89.61,468.7 89.69,452 89.77,468.8 89.85,449.2 89.93,465.4 90,455.3 90.08,471.1 90.16,452.8 90.24,473.4 90.32,452.4 90.4,458.4 90.47,453.6 90.55,462.2 90.63,453.8 90.71,474.3 90.79,454 90.87,474 90.94,454.1 91.02,474.3 91.1,462.9 91.18,473.8 91.26,455.8 91.33,472.9 91.41,458.5 91.49,471.8 91.57,452.8 91.65,471.6 91.73,452.3 91.8,474.5 91.88,452.8 91.96,473.2 92.04,447.6 92.12,462.6 92.2,450.7 92.27,469.3 92.35,450.3 92.43,464.3 92.51,443 92.59,449.6 92.67,445.8 92.74,457.6 92.82,443.9 92.9,458.8 92.98,444.9 93.06,466.1 93.13,447 93.21,459.7 93.29,450.4 93.37,463.6 93.45,444 93.53,465.9 93.6,443.9 93.68,467.5 93.76,453.1 93.84,467.7 93.92,459.8 94,461.8 94.07,452.3 94.15,464 94.23,446.6 94.31,467.9 94.39,452.5 94.47,463.6 94.54,452.7 94.62,464 94.7,453.8 94.78,470.7 94.86,447 94.93,471.2 95.01,471.1 95.09,468.5 95.17,455.6 95.25,451 95.33,448.9 95.4,471.3 95.48,454.5 95.56,470.6 95.64,451.4 95.72,467.9 95.8,447.3 95.87,465.2 95.95,449.2 96.03,467.5 96.11,443.9 96.19,464.9 96.27,443.4 96.34,464.7 96.42,452.8 96.5,463.6 96.58,450.5 96.66,464.3 96.73,442.2 96.81,465.1 96.89,441 96.97,461.3 97.05,446.2 97.13,463.9 97.2,448.8 97.28,459.8 97.36,447.3 97.44,456.7 97.52,440.7 97.6,461.9 97.67,440.8 97.75,457.8 97.83,444.7 97.91,458.9 97.99,441.1 98.07,456.7 98.14,441.1 98.22,459.7 98.3,440.1 98.38,461.6 98.46,438.5 98.53,460.2 98.61,440 98.69,456 98.77,447.3 98.85,461.7 98.93,439.4 99,457.5 99.08,440.2 99.16,459.8 99.24,443.1 99.32,464.6 99.4,444 99.47,456.7 99.55,465.8 99.63,458.8 99.71,445.9 99.79,460.2 99.87,450.4 99.94,463.8 100.02,442.1 100.1,461.5 100.18,442.2 100.26,461.3 100.33,442.2 100.41,466.1 100.49,446.2 100.57,465.8 100.65,447.2 100.73,447 100.8,449.4 100.88,456.1 100.96,443.4 101.04,467.6 101.12,444.5 101.2,463.8 101.27,443.8 101.35,463.5 101.43,445.8 101.51,460.1 101.59,442.9 101.67,459.5 101.74,442.8 101.82,462.5 101.9,440.7 101.98,461.6 102.06,439 102.13,459.7 102.21,437.9 102.29,456.3 102.37,440.5 102.45,461 102.53,439.9 102.6,451.2 102.68,435.9 102.76,454.3 102.84,441.5 102.92,457.8 103,433.8 103.07,451.5 103.15,439.8 103.23,449.6 103.31,433.5 103.39,454.3 103.47,434.7 103.54,454.8 103.62,442.1 103.7,456.9 103.78,435.3 103.86,450.7 103.93,438 104.01,450.3 104.09,434.5 104.17,456.7 104.25,438.2 104.33,457.1 104.4,439 104.48,451.5 104.56,438.6 104.64,445.5 104.72,435.2 104.8,453.8 104.87,435.1 104.95,464.3 105.03,440.4 105.11,455.8 105.19,438.6 105.27,457.2 105.34,440 105.42,451.3 105.5,433.6 105.58,449.3 105.66,434.2 105.73,455.8 105.81,441.1 105.89,456.7 105.97,440.5 106.05,456.4 106.13,434.2 106.2,453.3 106.28,433.6 106.36,451.7 106.44,431.3 106.52,454.7 106.6,432.5 106.67,451.6 106.75,447.8 106.83,455.4 106.91,430.9 106.99,447.5 107.07,435.3 107.14,454.9 107.22,437.3 107.3,454.6 107.38,439.2 107.46,447.8 107.53,433.4 107.61,455.3 107.69,439.3 107.77,448.7 107.85,435.6 107.93,452.2 108,431.4 108.08,449.5 108.16,437.6 108.24,447 108.32,434 108.4,444.7 108.47,429.5 108.55,446.5 108.63,428.5 108.71,438.3 108.79,430.1 108.87,448.6 108.94,428.2 109.02,448.4 109.1,431.2 109.18,445.3 109.26,434.3 109.33,444.9 109.41,432.8 109.49,444.8 109.57,432.8 109.65,452.6 109.73,432.3 109.8,445.5 109.88,427.8 109.96,448.5 110.04,438.1 110.12,446.2 110.2,437.1 110.27,455.8 110.35,435.4 110.43,446.8 110.51,433.7 110.59,456.8 110.67,439.4 110.74,454.3 110.82,435.8 110.9,449.8 110.98,435.1 111.06,456.7 111.13,434.2 111.21,451.8 111.29,437.2 111.37,436.7 111.45,438.5 111.53,454.5 111.6,430.3 111.68,446.8 111.76,437.1 111.84,450.4 111.92,427.8 112,443.6 112.07,428.4 112.15,437.5 112.23,435.7 112.31,446.5 112.39,427.7 112.47,450.8 112.54,430.2 112.62,443 112.7,430.6 112.78,451.1 112.86,452.8 112.93,453 113.01,429.4 113.09,451.6 113.17,432.2 113.25,449.4 113.33,436.6 113.4,457.4 113.48,434.5 113.56,452.2 113.64,442.1 113.72,454 113.8,435.4 113.87,451.2 113.95,446.5 114.03,460.6 114.11,436 114.19,454.7 114.27,436.5 114.34,453.2 114.42,435 114.5,454.6 114.58,438.4 114.66,457.8 114.73,442.5 114.81,437 114.89,436 114.97,457.8 115.05,433 115.13,452.2 115.2,437.8 115.28,453.5 115.36,431.6 115.44,455 115.52,436.2 115.6,453.4 115.67,436.6 115.75,453.8 115.83,431.6 115.91,449 115.99,427.8 116.07,445.5 116.14,427.9 116.22,446.8 116.3,436.4 116.38,448.4 116.46,438.3 116.53,453.8 116.61,428.6 116.69,451.4 116.77,438.3 116.85,450.4 116.93,437.6 117,454.8 117.08,430.2 117.16,451 117.24,434.4 117.32,455.9 117.4,431.2 117.47,452.3 117.55,471.8 117.63,440.9 117.71,437 117.79,456.8 117.87,439.4 117.94,456.6 118.02,436.8 118.1,456.8 118.18,434 118.26,450.7 118.33,440.3 118.41,452.9 118.49,433.1 118.57,452.6 118.65,430.2 118.73,438.2 118.8,436.5 118.88,447.6 118.96,438.1 119.04,452.2 119.12,437.1 119.2,445.5 119.27,429.5 119.35,449.4 119.43,438.1 119.51,453.9 119.59,430.6 119.67,454.8 119.74,432.7 119.82,454 119.9,432 119.98,454.5 120.06,430.5 120.13,454.1 120.21,448.8 120.29,456.1 120.37,435 120.45,452.9 120.53,439.3 120.6,456.1 120.68,433.3 120.76,455.9 120.84,443.6 120.92,454 121,432.9 121.07,455.6 121.15,432 121.23,451.9 121.31,429.7 121.39,449.7 121.47,431.8 121.54,452.9 121.62,430 121.7,454.5 121.78,435.5 121.86,452.9 121.93,435.7 122.01,452.8 122.09,437.7 122.17,454.3 122.25,434.1 122.33,441.5 122.4,432.3 122.48,457 122.56,433.7 122.64,454 122.72,440.2 122.8,451.1 122.87,436 122.95,456.6 123.03,438.8 123.11,459.3 123.19,437.3 123.27,459.2 123.34,435.5 123.42,437.5 123.5,455.6 123.58,457.4 123.66,441.5 123.73,460.8 123.81,436.9 123.89,457.2 123.97,436.7 124.05,455.2 124.13,436.1 124.2,455 124.28,440.5 124.36,452.4 124.44,441.7 124.52,452.5 124.6,443.2 124.67,447.2 124.75,440.6 124.83,457.4 124.91,436.3 124.99,450.4 125.07,436.3 125.14,457 125.22,437.8 125.3,452.8 125.38,436.5 125.46,454.1 125.53,436.2 125.61,456.1 125.69,437.6 125.77,456.4 125.85,439.3 125.93,447 126,436.4 126.08,455.8 126.16,430.7 126.24,448.5 126.32,430.2 126.4,452.2 126.47,431.3 126.55,445.2 126.63,429.6 126.71,453.2 126.79,433.1 126.87,440.8 126.94,430.1 127.02,453 127.1,437.7 127.18,452.2 127.26,447.9 127.33,451.9 127.41,432.6 127.49,448.8 127.57,429.2 127.65,447 127.73,432 127.8,453.6 127.88,437.4 127.96,455 128.04,434.6 128.12,448.2 128.2,438.4 128.27,453.9 128.35,449.8 128.43,443.6 128.51,435.9 128.59,450.6 128.67,429.6 128.74,444.4 128.82,432.7 128.9,453.8 128.98,428.3 129.06,445.7 129.13,430.8 129.21,453.8 129.29,432.6 129.37,436.2 129.45,435.8 129.53,455.9 129.6,435.2 129.68,447.8 129.76,441.6 129.84,454.3 129.92,438.2 130,451.7 130.07,436.3 130.15,456.5 130.23,437.5 130.31,457.2 130.39,439.6 130.47,460.6 130.54,440.2 130.62,459.6 130.7,436.3 130.78,454.2 130.86,444.5 130.93,460.5 131.01,437 131.09,455 131.17,435.4 131.25,467.1 131.33,437.9 131.4,456.4 131.48,439 131.56,458.3 131.64,435.2 131.72,455.8 131.8,433.8 131.87,458.6 131.95,434.2 132.03,452.5 132.11,439.1 132.19,454.2 132.27,439 132.34,457.8 132.42,436.1 132.5,460.6 132.58,438.7 132.66,460.6 132.73,435.5 132.81,459.8 132.89,440.4 132.97,455 133.05,443.7 133.13,459.2 133.2,440.8 133.28,435.8 133.36,437.4 133.44,455.5 133.52,444.7 133.6,459.9 133.67,437.5 133.75,457.8 133.83,442.8 133.91,456.1 133.99,435.5 134.07,459.6 134.14,437 134.22,454.8 134.3,450 134.38,457.8 134.46,442.5 134.53,459.7 134.61,441.1 134.69,443.7 134.77,434.7 134.85,458.9 134.93,435.4 135,456.4 135.08,433.4 135.16,455.1 135.24,436.2 135.32,453 135.4,435.2 135.47,452.6 135.55,432.6 135.63,454.1 135.71,443.8 135.79,453.1 135.87,435.2 135.94,456.2 136.02,467 136.1,454.8 136.18,437.3 136.26,451.7 136.33,438.9 136.41,452.3 136.49,433.3 136.57,453.9 136.65,437.1 136.73,451.1 136.8,429.4 136.88,453.4 136.96,429.8 137.04,452.4 137.12,441.7 137.2,452.5 137.27,430.7 137.35,448.1 137.43,430.9 137.51,449 137.59,440.4 137.67,451.3 137.74,432.2 137.82,448.3 137.9,433.7 137.98,447.4 138.06,432 138.13,447.7 138.21,443.2 138.29,456 138.37,430.5 138.45,455.4 138.53,432.7 138.6,449.7 138.68,429.5 138.76,454.2 138.84,429.4 138.92,454.9 139,432.7 139.07,452.3 139.15,432.2 139.23,454.7 139.31,431.9 139.39,453.3 139.47,434.5 139.54,448.2 139.62,436.2 139.7,448.8 139.78,436.9 139.86,457.4 139.93,433.3 140.01,450.3 140.09,438 140.17,455.3 140.25,436 140.33,467.6 140.4,439.8 140.48,455.7 140.56,436 140.64,457 140.72,439 140.8,456.5 140.87,436.6 140.95,457.7 141.03,434 141.11,448.4 141.19,433 141.27,457.6 141.34,435.1 141.42,464.9 141.5,437.3 141.58,452.5 141.66,436.4 141.73,452.8 141.81,434.1 141.89,442.3 141.97,435.8 142.05,454.4 142.13,437.6 142.2,449.2 142.28,439.6 142.36,447.9 142.44,440.4 142.52,455.5 142.6,431.6 142.67,436.1 142.75,433.4 142.83,455.3 142.91,434.9 142.99,453.7 143.07,429.5 143.14,447.3 143.22,428.8 143.3,451.4 143.38,434.2 143.46,445.8 143.53,437 143.61,453.4 143.69,433.8 143.77,454.6 143.85,440.7 143.93,449.5 144,437.5 144.08,455.6 144.16,432 144.24,453.9 144.32,432.4 144.4,447.7 144.47,436.3 144.55,451.2 144.63,434.2 144.71,456.3 144.79,437.5 144.87,455.5 144.94,436.9 145.02,451.9 145.1,439.9 145.18,455.4 145.26,433.3 145.33,452.4 145.41,436.5 145.49,450.2 145.57,439.5 145.65,453.7 145.73,451 145.8,457.8 145.88,440.7 145.96,458.6 146.04,434 146.12,459.1 146.2,442.3 146.27,459.5 146.35,443.7 146.43,458.6 146.51,436.1 146.59,444.4 146.67,439.1 146.74,459.4 146.82,460.7 146.9,456.1 146.98,439.1 147.06,458.6 147.13,436.2 147.21,459.8 147.29,436.1 147.37,455 147.45,437.1 147.53,434.1 147.6,438.2 147.68,459.6 147.76,441.3 147.84,460.7 147.92,436.1 148,458.5 148.07,435.1 148.15,459.2 148.23,437.8 148.31,458.2 148.39,439.6 148.47,456.2 148.54,432.8 148.62,450.6 148.7,434.8 148.78,451.9 148.86,433.5 148.93,449.6 149.01,437 149.09,448.5 149.17,434.1 149.25,453.1 149.33,433.1 149.4,451.3 149.48,433.9 149.56,454.9 149.64,437.9 149.72,450.7 149.8,441.5 149.87,457.8 149.95,441.2 150.03,456.2 150.11,434.5 150.19,456.5 150.27,440.2 150.34,457 150.42,433.1 150.5,451.7 150.58,431.6 150.66,450.4 150.73,438.2 150.81,450.8 150.89,439 150.97,452.1 151.05,430.3 151.13,447.4 151.2,432.3 151.28,446.1 151.36,455.9 151.44,447.9 151.52,430.7 151.6,454.5 151.67,439.2 151.75,455.2 151.83,438.9 151.91,455.8 151.99,435.2 152.07,451.4 152.14,432.6 152.22,452.9 152.3,430.9 152.38,448.4 152.46,431.1 152.53,453.4 152.61,444.5 152.69,454.3 152.77,431.5 152.85,448.5 152.93,439.7 153,451.7 153.08,431.4 153.16,454.6 153.24,456.3 153.32,452.7 153.4,437.9 153.47,454.5 153.55,434 153.63,454.4 153.71,431.1 153.79,451 153.87,431.8 153.94,442.1 154.02,431.7 154.1,446.7 154.18,430.9 154.26,448.1 154.33,437.4 154.41,455.4 154.49,433.5 154.57,450.7 154.65,475.8 154.73,457.3 154.8,445.3 154.88,456.2 154.96,438.7 155.04,458.5 155.12,440 155.2,458.6 155.27,443.1 155.35,455.3 155.43,442.3 155.51,453.3 155.59,437.6 155.67,458.8 155.74,435.1 155.82,456.2 155.9,439.4 155.98,453.5 156.06,438.8 156.13,455.8 156.21,438 156.29,464.3 156.37,443.6 156.45,451.9 156.53,435.3 156.6,456.9 156.68,435.3 156.76,456.4 156.84,439.6 156.92,457.7 157,435.1 157.07,453.1 157.15,435.2 157.23,452.2 157.31,443.9 157.39,454.2 157.47,443 157.54,458.4 157.62,434.9 157.7,460.4 157.78,439 157.86,455.5 157.93,439.6 158.01,452.2 158.09,434.4 158.17,459.2 158.25,434.3 158.33,449.3 158.4,437.1 158.48,456.3 158.56,434.9 158.64,459 158.72,442.8 158.8,440.5 158.87,441.1 158.95,459 159.03,436 159.11,457.5 159.19,442.7 159.27,454.1 159.34,443.2 159.42,458.5 159.5,441 159.58,457.3 159.66,439.7 159.73,458.5 159.81,435.7 159.89,459.5 159.97,436.2 160.05,459.3 160.13,436.5 160.2,457.5 160.28,434.7 160.36,457.4 160.44,467.8 160.52,456.4 160.6,433.9 160.67,451.2 160.75,438.8 160.83,454.2 160.91,439.7 160.99,452 161.07,433.4 161.14,450.1 161.22,439.8 161.3,456.8 161.38,433.5 161.46,435 161.53,433.6 161.61,456.4 161.69,437.1 161.77,451.8 161.85,431.6 161.93,448 162,431.7 162.08,465 162.16,439.1 162.24,442.6 162.32,437.3 162.4,454.6 162.47,436.3 162.55,449.7 162.63,436.7 162.71,452.5 162.79,433.4 162.87,449.5 162.94,433.2 163.02,454.2 163.1,439 163.18,452.6 163.26,433.2 163.33,447.6 163.41,430 163.49,446.3 163.57,433.1 163.65,452.1 163.73,458.6 163.8,455.1 163.88,431.6 163.96,437.2 164.04,433.4 164.12,457.1 164.2,436 164.27,458.1 164.35,441.3 164.43,454.1 164.51,433.9 164.59,453 164.67,437.9 164.74,457.9 164.82,442.5 164.9,432.9 164.98,433.9 165.06,458.7 165.13,439.4 165.21,457.9 165.29,434.8 165.37,453.3 165.45,451.3 165.53,456.9 165.6,433.4 165.68,454.8 165.76,435.9 165.84,452.4 165.92,431.9 166,456.6 166.07,440.2 166.15,456.4 166.23,438.7 166.31,455.4 166.39,435.5 166.47,456.4 166.54,440 166.62,453.3 166.7,440.1 166.78,452.2 166.86,438.2 166.93,454.4 167.01,434.8 167.09,454.7 167.17,432.3 167.25,451.3 167.33,439.4 167.4,439.9 167.48,431 167.56,447.9 167.64,434 167.72,462.7 167.8,437.9 167.87,455.7 167.95,433 168.03,448.8 168.11,430.1 168.19,454.9 168.27,429.9 168.34,454.9 168.42,442.5 168.5,455.1 168.58,436.6 168.66,452.7 168.73,430.9 168.81,469.5 168.89,431.4 168.97,451.9 169.05,431.8 169.13,453.6 169.2,441.2 169.28,455.9 169.36,433.7 169.44,451.2 169.52,440.1 169.6,456.5 169.67,434.7 169.75,443.2 169.83,434.4 169.91,450.3 169.99,435.2 170.07,455.1 170.14,436.3 170.22,455.4 170.3,443 170.38,456.7 170.46,436.4 170.53,456.5 170.61,466.1 170.69,455.8 170.77,442.9 170.85,455.5 170.93,439.2 171,450.4 171.08,439.6 171.16,439.9 171.24,442.9 171.32,452.4 171.4,439.7 171.47,449.8 171.55,432.9 171.63,457.6 171.71,435.5 171.79,456.9 171.87,435.4 171.94,456.3 172.02,436 172.1,455.4 172.18,436.2 172.26,442.2 172.33,447.1 172.41,455.1 172.49,436.1 172.57,455.9 172.65,431.3 172.73,449.3 172.8,432.5 172.88,456 172.96,433.2 173.04,452.8 173.12,433.5 173.2,448.7 173.27,437.3 173.35,455.8 173.43,438.5 173.51,453.3 173.59,438.8 173.67,455.3 173.74,434 173.82,456.3 173.9,434.8 173.98,451.1 174.06,434.3 174.13,448.9 174.21,440.4 174.29,456.9 174.37,439.7 174.45,453.6 174.53,434 174.6,449.4 174.68,432.8 174.76,448.7 174.84,431.2 174.92,455.9 175,441.6 175.07,447.6 175.15,437.3 175.23,448.6 175.31,432.7 175.39,448 175.47,431.3 175.54,450.7 175.62,441.5 175.7,455.2 175.78,432.9 175.86,455.7 175.93,430.8 176.01,455.1 176.09,435.4 176.17,447.6 176.25,436.6 176.33,455.1 176.4,457.9 176.48,453.3 176.56,435.4 176.64,452 176.72,438.4 176.8,450.7 176.87,434.1 176.95,456.1 177.03,435.2 177.11,451.9 177.19,441 177.27,457.1 177.34,442.8 177.42,456.6 177.5,435.9 177.58,456.8 177.66,442.8 177.73,460.7 177.81,435.9 177.89,454.5 177.97,444.5 178.05,453.6 178.13,449.2 178.2,460.1 178.28,456.3 178.36,464.9 178.44,461.2 178.52,471.8 178.6,467.3 178.67,477.6 178.75,471.7 178.83,483.2 178.91,478.1 178.99,488.5 179.07,484.5 179.14,493 179.22,487.8 179.3,496.4 179.38,491.7 179.46,499.9 179.53,492.9 179.61,501.9 179.69,495.6 179.77,504.3 179.85,499.8 179.93,508.2 180,501 180.08,511 180.16,504.5 180.24,513 180.32,506.6 180.4,515 180.47,508.6 180.55,515.8 180.63,509 180.71,517 180.79,510.2 180.87,517.9 180.94,509.6 181.02,518 181.1,510.1 181.18,518.8 181.26,512.3 181.33,519.3 181.41,511.3 181.49,518.7 181.57,513.4 181.65,520.3 181.73,513.6 181.8,520.8 181.88,514.7 181.96,521.8 182.04,513.8 182.12,521.7 182.2,515.3 182.27,523 182.35,515.9 182.43,518.8 182.51,522.4 182.59,518.4 182.67,521.8 182.74,516.2 182.82,522.6 182.9,517.9 182.98,522.4 183.06,518.3 183.13,522.4 183.21,518 183.29,522.5 183.37,523.9 183.45,521.7 183.53,518 183.6,522.1 183.68,516.3 183.76,522.2 183.84,518.6 183.92,522 184,517.9 184.07,522.5 184.15,518.9 184.23,522.1 184.31,524.6 184.39,522.4 184.47,518.3 184.54,522.4 184.62,518.7 184.7,522.6 184.78,524.1 184.86,521.9 184.93,518.4 185.01,522.2 185.09,518.2 185.17,521.9 185.25,509.7 185.33,522.3 185.4,518.2 185.48,521.8 185.56,518.1 185.64,522.2 185.72,518.4 185.8,523.7 185.87,518.1 185.95,522.6 186.03,509.7 186.11,522.6 186.19,518.2 186.27,522.2 186.34,519 186.42,521.7 186.5,518 186.58,523.8 186.66,518 186.73,522.6 186.81,518.4 186.89,522.1 186.97,518.3 187.05,522.3 187.13,518.1 187.2,514.5 187.28,518.5 187.36,523.8 187.44,518 187.52,521.9 187.6,518.4 187.67,522.5 187.75,518.6 187.83,522.3 187.91,518.5 187.99,517.5 188.07,505.1 188.14,511.9 188.22,524.6 188.3,522.1 188.38,518.1 188.46,522.1 188.53,518.6 188.61,522.6 188.69,518.3 188.77,522 188.85,518.5 188.93,521.7 189,518 189.08,522.2 189.16,517.9 189.24,521.7 189.32,524 189.4,522.6 189.47,517.7 189.55,521.7 189.63,518.3 189.71,522.4 189.79,518.2 189.87,523.8 189.94,518.9 190.02,522.6 190.1,518.1 190.18,522.6 190.26,518.9 190.33,521.8 190.41,518.2 190.49,521.8 190.57,517.9 190.65,522.5 190.73,524.4 190.8,522.4 190.88,518.9 190.96,522.6 191.04,518.1 191.12,522.6 191.2,518.1 191.27,521.8 191.35,518.9 191.43,517.6 191.51,518 191.59,522.5 191.67,518.7 191.74,522.2 191.82,518.4 191.9,524.6 191.98,518.9 192.06,521.9 192.13,513.8 192.21,522.4 192.29,518.7 192.37,521.9 192.45,518.4 192.53,523.8 192.6,518.4 192.68,522.4 192.76,518.5 192.84,522.4 192.92,518.3 193,522.6 193.07,518.5 193.15,522.1 193.23,518.1 193.31,522.2 193.39,518.2 193.47,523.8 193.54,518.3 193.62,521.9 193.7,516.4 193.78,522 193.86,518 193.93,522.2 194.01,518.2 194.09,521.9 194.17,518 194.25,522.4 194.33,523.7 194.4,522.5 194.48,517.9 194.56,522.2 194.64,518.5 194.72,522.1 194.8,518.9 194.87,521.7 194.95,518.5 195.03,522.4 195.11,515.5 195.19,522.6 195.27,518.7 195.34,521.6 195.42,524.6 195.5,521.7 195.58,516.3 195.66,522.5 195.73,518.2 195.81,522.1 195.89,518.6 195.97,521.9 196.05,524.2 196.13,522.2 196.2,518.3 196.28,522.6 196.36,517.9 196.44,516.5 196.52,518.6 196.6,522.1 196.67,518 196.75,521.6 196.83,518.5 196.91,522.3 196.99,518.1 197.07,522.5 197.14,524 197.22,522.1 197.3,518 197.38,522.6 197.46,519 197.53,522.4 197.61,518.1 197.69,522.3 197.77,518.1 197.85,523.8 197.93,516 198,522.5 198.08,518 198.16,522.3 198.24,518.8 198.32,522.1 198.4,523.7 198.47,522 198.55,517.9 198.63,521.8 198.71,518.8 198.79,522.2 198.87,518.1 198.94,522 199.02,518.8 199.1,522.5 199.18,518.5 199.26,522.1 199.33,524.1 199.41,522.5 199.49,518.2 199.57,522.4 199.65,517.9 199.73,522.2 199.8,515.1 199.88,522.7 199.96,517.9 200.04,521.6 200.12,524.5 200.2,522.6 200.27,518.4 200.35,521.8 200.43,518 200.51,521.8 200.59,518 200.67,517.6 200.74,518.3 200.82,522 200.9,518.3 200.98,522 201.06,517.9 201.13,522.5 201.21,523.7 201.29,522.5 201.37,518.6 201.45,521.7 201.53,518.7 201.6,522 201.68,518 201.76,522.3 201.84,518.6 201.92,522.5 202,518.4 202.07,522.3 202.15,516 202.23,523.8 202.31,518 202.39,522 202.47,518 202.54,522.4 202.62,517.9 202.7,521.9 202.78,524.6 202.86,522.4 202.93,517.9 203.01,517.9 203.09,518 203.17,521.7 203.25,518.1 203.33,522.6 203.4,518.4 203.48,522 203.56,524 203.64,522 203.72,517.9 203.8,522.6 203.87,518.9 203.95,522.5 204.03,518 204.11,522 204.19,513.2 204.27,522.2 204.34,518 204.42,522.4 204.5,517.9 204.58,522.6 204.66,518.5 204.73,523.8 204.81,517.9 204.89,522.3 204.97,518.3 205.05,522.1 205.13,518 205.2,517.4 205.28,518.1 205.36,521.7 205.44,518.1 205.52,521.9 205.6,517.9 205.67,523.7 205.75,518.7 205.83,522.3 205.91,517.9 205.99,522.2 206.07,518 206.14,522.6 206.22,518 206.3,521.7 206.38,518.7 206.46,524.5 206.53,518.6 206.61,521.8 206.69,515.9 206.77,521.8 206.85,518.8 206.93,522.1 207,518.6 207.08,522.3 207.16,524.4 207.24,522.4 207.32,518 207.4,522.5 207.47,518.7 207.55,522.5 207.63,518.5 207.71,522.5 207.79,518.7 207.87,521.8 207.94,517.9 208.02,522.6 208.1,518.6 208.18,522.3 208.26,524.4 208.33,522.2 208.41,518.7 208.49,521.9 208.57,514.5 208.65,522.1 208.73,518 208.8,522 208.88,516 208.96,524 209.04,518.2 209.12,522.5 209.2,518.4 209.27,522.5 209.35,518 209.43,522.6 209.51,518.2 209.59,523.8 209.67,518.1 209.74,522 209.82,518.6 209.9,522.6 209.98,518.9 210.06,521.9 210.13,518.1 210.21,521.8 210.29,509.9 210.37,522.6 210.45,518.7 210.53,522.7 210.6,517.9 210.68,523.9 210.76,518.5 210.84,522.4 210.92,518.6 211,521.7 211.07,518.7 211.15,522.6 211.23,518 211.31,522.1 211.39,517.7 211.47,522 211.54,518.4 211.62,523.7 211.7,518.1 211.78,522.6 211.86,518.1 211.93,522.6 212.01,518.7 212.09,522.1 212.17,524.2 212.25,522.1 212.33,518.3 212.4,522.5 212.48,509.9 212.56,514.6 212.64,518.2 212.72,522.5 212.8,518.5 212.87,522.5 212.95,518 213.03,521.8 213.11,518 213.19,523.8 213.27,518.2 213.34,521.7 213.42,518.5 213.5,522.1 213.58,518.8 213.66,522.4 213.73,518.6 213.81,522.1 213.89,518.5 213.97,522.6 214.05,518.8 214.13,523.9 214.2,518.1 214.28,522.4 214.36,518 214.44,522.4 214.52,515 214.6,522.4 214.67,524 214.75,515.8 214.83,517.9 214.91,522.2 214.99,518.2 215.07,522.3 215.14,518.1 215.22,522.6 215.3,518.1 215.38,522.2 215.46,518.5 215.53,523.7 215.61,518.1 215.69,522.1 215.77,517.9 215.85,522.7 215.93,517.9 216,522.4 216.08,518.2 216.16,522.2 216.24,518.1 216.32,522.7 216.4,518.9 216.47,522.2 216.55,518.7 216.63,522.1 216.71,524.1 216.79,521.9 216.87,518.3 216.94,517.1 217.02,518.2 217.1,522.2 217.18,524.2 217.26,522.3 217.33,517.9 217.41,521.6 217.49,517.2 217.57,521.8 217.65,518.2 217.73,521.9 217.8,519 217.88,522.1 217.96,518.2 218.04,522 218.12,517.9 218.2,522.5 218.27,518.4 218.35,522.5 218.43,523.9 218.51,522.3 218.59,506.2 218.67,512.5 218.74,518.1 218.82,522.3 218.9,518.2 218.98,521.7 219.06,518.1 219.13,522.5 219.21,518.6 219.29,524.2 219.37,518.5 219.45,517.3 219.53,518.9 219.6,521.6 219.68,518.2 219.76,522.6 219.84,518.9 219.92,522.5 220,518.3 220.07,524.5 220.15,518.5 220.23,522.4 220.31,518.7 220.39,521.8 220.47,518 220.54,521.8 220.62,518.4 220.7,521.8 220.78,517.9 220.86,523.9 220.93,518.6 221.01,522.3 221.09,518.6 221.17,521.7 221.25,518.6 221.33,522.4 221.4,518.3 221.48,522.4 221.56,518.2 221.64,524 221.72,510.7 221.8,522 221.87,518.5 221.95,522.2 222.03,518.9 222.11,522.5 222.19,518.3 222.27,522.7 222.34,518.2 222.42,522.5 222.5,514.4 222.58,524.1 222.66,518 222.73,522.5 222.81,518.2 222.89,522.5 222.97,518.1 223.05,521.7 223.13,518.7 223.2,522 223.28,518.6 223.36,522.5 223.44,518.8 223.52,522 223.6,523.7 223.67,522.5 223.75,518.7 223.83,522.6 223.91,518 223.99,522.4 224.07,518.8 224.14,522.3 224.22,518 224.3,524.2 224.38,516.8 224.46,522 224.53,518.7 224.61,522.1 224.69,518.1 224.77,522.5 224.85,518.8 224.93,521.8 225,518.1 225.08,524.5 225.16,518.8 225.24,522.4 225.32,518 225.4,514.4 225.47,518.2 225.55,522.4 225.63,518.4 225.71,522 225.79,518.3 225.87,522.4 225.94,517.9 226.02,522 226.1,524.2 226.18,522.5 226.26,518.3 226.33,522.3 226.41,518.6 226.49,521.6 226.57,523.8 226.65,522.4 226.73,518.1 226.8,517.4 226.88,518.7 226.96,522.6 227.04,518.6 227.12,522.4 227.2,518.9 227.27,522.6 227.35,518.5 227.43,522.6 227.51,517.9 227.59,522.6 227.67,518.1 227.74,522.4 227.82,517.9 227.9,523.9 227.98,518.1 228.06,521.7 228.13,518.4 228.21,522.3 228.29,518.3 228.37,522.4 228.45,518.4 228.53,515.4 228.6,524.1 228.68,522.4 228.76,518.6 228.84,522.4 228.92,518 229,522.2 229.07,518.8 229.15,522.4 229.23,524.1 229.31,522.5 229.39,518.4 229.47,522.3 229.54,518.9 229.62,522.4 229.7,515 229.78,522.4 229.86,518.5 229.93,522.6 230.01,517.9 230.09,522.4 230.17,518 230.25,524.1 230.33,518.7 230.4,514.5 230.48,520.5 230.56,511.2 230.64,517.1 230.72,508.2 230.8,512.8 230.87,503 230.95,509.3 231.03,498.9 231.11,503.7 231.19,495.3 231.27,499.8 231.34,490.7 231.42,497 231.5,491.8 231.58,486.1 231.66,490.5 231.73,491.3 231.81,493 231.89,502.5 231.97,495.2 232.05,503.5 232.13,496.1 232.2,505.5 232.28,497.6 232.36,506.9 232.44,499.3 232.52,506.8 232.6,501.8 232.67,509.3 232.75,502.4 232.83,511.6 232.91,500.4 232.99,512.8 233.07,506.5 233.14,514.1 233.22,508.6 233.3,515.9 233.38,510 233.46,517.8 233.53,511.5 233.61,518.6 233.69,511.1 233.77,519.5 233.85,511.2 233.93,519.7 234,510.6 234.08,519 234.16,512.4 234.24,519.2 234.32,513.1 234.4,519.6 234.47,513.2 234.55,520.1 234.63,513.8 234.71,520.1 234.79,513.3 234.87,519.8 234.94,512.5 235.02,520.2 235.1,513.6 235.18,520.3 235.26,512.9 235.33,519.4 235.41,507.6 235.49,520.9 235.57,514.1 235.65,521.4 235.73,516.6 235.8,521.6 235.88,518 235.96,521.8 236.04,518.1 236.12,516.4 236.2,518.7 236.27,522 236.35,518.8 236.43,522.3 236.51,518 236.59,522.1 236.67,526.8 236.74,521.7 236.82,518.7" stroke="url(#g6)" class="l"/><text class="t" transform="translate(33.5 538.9) scale(1 1.07)" text-anchor="middle">195</text><text class="t" transform="translate(74.18 538.9) scale(1 1.07)" text-anchor="middle">196</text><text class="t" transform="translate(114.86 538.9) scale(1 1.07)" text-anchor="middle">197</text><text class="t" transform="translate(155.54 538.9) scale(1 1.07)" text-anchor="middle">198</text><text class="t" transform="translate(196.22 538.9) scale(1 1.07)" text-anchor="middle">199</text><text class="t" transform="translate(236.9 538.9) scale(1 1.07)" text-anchor="middle">200</text><text class="t" transform="translate(20.6 520.75) scale(1 1.07)" text-anchor="end">0.1</text><text class="t" transform="translate(20.6 484.2) scale(1 1.07)" text-anchor="end">0.2</text><text class="t" transform="translate(20.6 447.65) scale(1 1.07)" text-anchor="end">0.3</text><text class="a" transform="translate(135.5 546.6) scale(1 1.07)" text-anchor="middle">Time(s)</text><text class="v" transform="translate(9.59 475.6) rotate(-90) scale(1.025 1)" text-anchor="middle">Current(A)</text><text class="h" transform="translate(139 417.8) scale(1 1.07)" text-anchor="middle">DragonBoard: Hydra T32 IKE</text></g>
<g><rect x="268.1" y="421.2" width="224.4" height="112.2" fill="#EBEBEB"/><path d="M298.6 421.2V533.4M339.4 421.2V533.4M380.2 421.2V533.4M421 421.2V533.4M461.8 421.2V533.4M268.1 528.48H492.5M268.1 497.72H492.5M268.1 466.95H492.5M268.1 436.18H492.5" stroke="#fff" stroke-opacity=".9" stroke-width=".38" fill="none"/><path d="M278.2 421.2V533.4M319 421.2V533.4M359.8 421.2V533.4M400.6 421.2V533.4M441.4 421.2V533.4M482.2 421.2V533.4M268.1 513.1H492.5M268.1 482.33H492.5M268.1 451.57H492.5M268.1 421.5H492.5" stroke="#fff" stroke-width=".7" fill="none"/><path d="M278.2 533.4v2M319 533.4v2M359.8 533.4v2M400.6 533.4v2M441.4 533.4v2M482.2 533.4v2M268.1 513.1h-2M268.1 482.33h-2M268.1 451.57h-2M268.1 420.8h-2" stroke="#333" stroke-width=".55" fill="none"/><polyline points="278.2,517.6 278.28,522 278.36,517.4 278.44,522.8 278.51,518.4 278.59,522.3 278.67,517.9 278.75,522.2 278.83,517.7 278.91,522.7 278.98,523.1 279.06,522 279.14,518.3 279.22,521.7 279.3,518.4 279.38,522.8 279.46,518 279.53,522.1 279.61,517.9 279.69,522.2 279.77,517.3 279.85,522.2 279.93,518.1 280.01,522.8 280.08,522.7 280.16,517 280.24,517.5 280.32,522.3 280.4,517.8 280.48,522.3 280.55,517.6 280.63,517.2 280.71,517.6 280.79,521.8 280.87,517.5 280.95,522.2 281.03,522.6 281.1,522.7 281.18,517.3 281.26,522 281.34,517.3 281.42,522.8 281.5,513.4 281.58,515.1 281.65,497.7 281.73,501 281.81,497.6 281.89,501.1 281.97,489.6 282.05,493.3 282.12,482.4 282.2,485.7 282.28,475.4 282.36,478.5 282.44,467.3 282.52,470.8 282.6,460.4 282.67,463.3 282.75,442.4 282.83,458.5 282.91,444 282.99,470.2 283.07,443.3 283.14,470.8 283.22,444.7 283.3,473.3 283.38,442.4 283.46,457.1 283.54,440.8 283.62,455.5 283.69,440.6 283.77,457.4 283.85,441.8 283.93,457.4 284.01,443 284.09,457.7 284.17,463.2 284.24,457.2 284.32,463 284.4,456.8 284.48,462.7 284.56,455.9 284.64,434.9 284.71,459 284.79,445.4 284.87,456 284.95,444.4 285.03,459.4 285.11,446.9 285.19,459.9 285.26,443.3 285.34,457.5 285.42,470.4 285.5,458.9 285.58,469.5 285.66,458 285.74,471.4 285.81,458.6 285.89,443.6 285.97,458.8 286.05,443.9 286.13,457.9 286.21,442.3 286.28,455.9 286.36,441.9 286.44,455.1 286.52,465 286.6,455.8 286.68,465.4 286.76,456.6 286.83,467.4 286.91,457.9 286.99,439.1 287.07,458.1 287.15,441 287.23,457.5 287.31,441.4 287.38,453.4 287.46,441.9 287.54,439.2 287.62,441 287.7,470.1 287.78,439.5 287.85,468.8 287.93,439.5 288.01,468.2 288.09,440.1 288.17,456.6 288.25,443.6 288.33,455.5 288.4,442.5 288.48,457.3 288.56,443.7 288.64,459.3 288.72,443.9 288.8,459.9 288.87,464.9 288.95,460.6 289.03,468.5 289.11,435.2 289.19,466.4 289.27,459.5 289.35,444.1 289.42,457.3 289.5,444.2 289.58,459 289.66,431 289.74,456.6 289.82,446.2 289.9,458.5 289.97,442.3 290.05,457.6 290.13,442.3 290.21,454.2 290.29,443.8 290.37,462 290.44,428.5 290.52,436.8 290.6,434.1 290.68,462.1 290.76,439.6 290.84,454.6 290.92,440.1 290.99,456.4 291.07,441.1 291.15,456.5 291.23,442.8 291.31,455.9 291.39,463.5 291.47,457.5 291.54,463.5 291.62,435.6 291.7,464.1 291.78,456.8 291.86,443.9 291.94,458.5 292.01,442.8 292.09,455.4 292.17,445.8 292.25,467.1 292.33,443.6 292.41,467.8 292.49,445.4 292.56,465.9 292.64,444.2 292.72,457 292.8,443.4 292.88,455.2 292.96,443.8 293.03,436.3 293.11,441.7 293.19,457.5 293.27,441.6 293.35,456.1 293.43,442.8 293.51,457.9 293.58,441.1 293.66,458.1 293.74,444 293.82,458.6 293.9,441.9 293.98,456.6 294.06,444.1 294.13,455.5 294.21,442.8 294.29,453.8 294.37,441.8 294.45,457.3 294.53,442.3 294.6,457.1 294.68,440.6 294.76,454.7 294.84,428.4 294.92,454.1 295,443.4 295.08,459.2 295.15,442.2 295.23,460.1 295.31,445.5 295.39,462.4 295.47,443.5 295.55,455.7 295.63,442.6 295.7,459.2 295.78,438.7 295.86,459.3 295.94,444.8 296.02,458.2 296.1,445.4 296.17,456.1 296.25,457.3 296.33,456.3 296.41,457.3 296.49,456.7 296.57,427 296.65,436.3 296.72,437.4 296.8,455.7 296.88,442 296.96,452.7 297.04,441.3 297.12,452.7 297.19,438.8 297.27,458.2 297.35,439.3 297.43,458.2 297.51,440 297.59,459.1 297.67,440.5 297.74,454.6 297.82,440.5 297.9,453.6 297.98,428.8 298.06,456.3 298.14,440.4 298.22,454.8 298.29,440.2 298.37,453.2 298.45,440.5 298.53,456.9 298.61,473.1 298.69,461.8 298.76,464.6 298.84,457 298.92,467.9 299,454.2 299.08,443.3 299.16,454.8 299.24,429 299.31,454.9 299.39,442.9 299.47,455.7 299.55,441.4 299.63,457.2 299.71,456.8 299.79,454.7 299.86,455.2 299.94,455.6 300.02,455.6 300.1,439.2 300.18,442.8 300.26,456.4 300.33,443.3 300.41,457.3 300.49,441.5 300.57,458.1 300.65,441.4 300.73,458 300.81,443.9 300.88,437.6 300.96,441.8 301.04,457 301.12,442.3 301.2,462.1 301.28,442.7 301.36,460.6 301.43,444.4 301.51,462.6 301.59,444.8 301.67,457 301.75,441.1 301.83,454.8 301.9,441.4 301.98,456.8 302.06,441.8 302.14,439.7 302.22,442.2 302.3,455.5 302.38,440 302.45,454.1 302.53,457 302.61,452.6 302.69,455.9 302.77,456.3 302.85,456.6 302.92,454.9 303,441.1 303.08,455.4 303.16,468.2 303.24,431.3 303.32,472.5 303.4,453.5 303.47,470.1 303.55,454.9 303.63,441.5 303.71,453.5 303.79,442 303.87,452.5 303.95,438.7 304.02,453.4 304.1,439.2 304.18,438.4 304.26,439.6 304.34,455.4 304.42,441.1 304.49,455.1 304.57,440.5 304.65,453.5 304.73,441 304.81,464.7 304.89,440.3 304.97,466.9 305.04,443.6 305.12,469.5 305.2,443.5 305.28,456.7 305.36,440.7 305.44,455.1 305.52,440.6 305.59,454 305.67,442.7 305.75,458.3 305.83,441.1 305.91,456.3 305.99,441.6 306.06,455.9 306.14,443.9 306.22,434.8 306.3,444.9 306.38,459.2 306.46,443.6 306.54,458.6 306.61,447.1 306.69,460.4 306.77,444.9 306.85,460.4 306.93,446.1 307.01,460 307.08,445.3 307.16,458.9 307.24,445.2 307.32,436.9 307.4,447.2 307.48,454.6 307.56,444.5 307.63,455.7 307.71,446.6 307.79,455 307.87,444.6 307.95,457.2 308.03,441.8 308.11,456.3 308.18,440.5 308.26,454.9 308.34,439 308.42,453.8 308.5,455.3 308.58,452.7 308.65,454.7 308.73,452.5 308.81,454.2 308.89,454.7 308.97,440 309.05,433.1 309.13,438.1 309.2,453.4 309.28,439.1 309.36,455.4 309.44,439.2 309.52,455.7 309.6,439.5 309.68,456.4 309.75,443.6 309.83,455.6 309.91,436.9 309.99,456.9 310.07,442.1 310.15,454.9 310.22,444.1 310.3,456.9 310.38,441.8 310.46,456.1 310.54,441.7 310.62,454.9 310.7,441.9 310.77,455.3 310.85,440.7 310.93,455 311.01,440.1 311.09,454.4 311.17,454 311.25,451.7 311.32,454.7 311.4,450.2 311.48,453.3 311.56,433.2 311.64,438 311.72,450.6 311.79,438.6 311.87,460.9 311.95,437.5 312.03,459.4 312.11,439.7 312.19,460 312.27,438.9 312.34,452.6 312.42,437.3 312.5,455.4 312.58,441.9 312.66,454.6 312.74,439.1 312.81,455.7 312.89,442.3 312.97,434.5 313.05,441.5 313.13,454.4 313.21,441.8 313.29,455.7 313.36,456.3 313.44,453.2 313.52,456.8 313.6,455.1 313.68,457.1 313.76,454.7 313.84,440.1 313.91,451 313.99,437.6 314.07,453.8 314.15,438.6 314.23,428 314.31,436.4 314.38,449.4 314.46,436.3 314.54,451.3 314.62,435.2 314.7,455.1 314.78,434.6 314.86,454.2 314.93,442 315.01,446.5 315.09,441.4 315.17,457.4 315.25,441.6 315.33,456.5 315.41,440.7 315.48,455 315.56,440.7 315.64,455.8 315.72,441.3 315.8,445.9 315.88,441.1 315.95,446.8 316.03,457.7 316.11,445.9 316.19,458.2 316.27,446.6 316.35,458.4 316.43,445.6 316.5,457.8 316.58,446.1 316.66,441.3 316.74,446.3 316.82,440.8 316.9,446.9 316.97,455.1 317.05,437.6 317.13,456.4 317.21,446.9 317.29,455.8 317.37,446.6 317.45,455.6 317.52,446.9 317.6,441.7 317.68,446.9 317.76,460.6 317.84,445.5 317.92,459.4 318,446.4 318.07,458.9 318.15,445.7 318.23,458.9 318.31,446.2 318.39,440.8 318.47,446.9 318.54,441.1 318.62,446.8 318.7,440.9 318.78,455.2 318.86,438 318.94,456.4 319.02,470 319.09,458.1 319.17,440.5 319.25,458.3 319.33,441.5 319.41,459.1 319.49,440.4 319.57,457.1 319.64,440.4 319.72,460 319.8,440.3 319.88,458.6 319.96,441.3 320.04,446.6 320.11,440.4 320.19,445.5 320.27,440.3 320.35,446.7 320.43,456 320.51,446.7 320.59,458.6 320.66,446.4 320.74,458.5 320.82,446.5 320.9,457.4 320.98,445.8 321.06,440 321.13,446.2 321.21,441.2 321.29,445.3 321.37,459.3 321.45,445.6 321.53,462.3 321.61,446.7 321.68,464 321.76,445.6 321.84,461.7 321.92,445.6 322,440.4 322.08,445.7 322.16,440.6 322.23,439.2 322.31,463.2 322.39,445.3 322.47,460.3 322.55,445.5 322.63,461.5 322.7,446 322.78,463.6 322.86,445.2 322.94,440.2 323.02,446 323.1,440.4 323.18,446.2 323.25,455.8 323.33,445.8 323.41,455.1 323.49,445.4 323.57,455.3 323.65,446 323.73,457.4 323.8,445.2 323.88,440.7 323.96,445.8 324.04,441.4 324.12,445.4 324.2,441 324.27,460.9 324.35,441.3 324.43,464.2 324.51,440.1 324.59,463.2 324.67,440.2 324.75,459.8 324.82,441.3 324.9,445.9 324.98,440.3 325.06,445.2 325.14,458 325.22,445.1 325.3,462.6 325.37,445.9 325.45,462 325.53,445.8 325.61,460.5 325.69,439.6 325.77,440.2 325.84,445.8 325.92,441.1 326,446.3 326.08,440.5 326.16,446.3 326.24,440.4 326.32,445.9 326.39,457.7 326.47,446.1 326.55,456.9 326.63,445.9 326.71,455.1 326.79,437.1 326.86,456 326.94,445.2 327.02,440.1 327.1,455.6 327.18,440.2 327.26,455.5 327.34,440.5 327.41,457.3 327.49,441.3 327.57,456.9 327.65,440.3 327.73,445.9 327.81,440.7 327.89,445.1 327.96,439.9 328.04,456.2 328.12,440.9 328.2,456.1 328.28,440 328.36,455.1 328.43,440 328.51,454.3 328.59,440.1 328.67,445 328.75,440 328.83,446 328.91,439.9 328.98,446.3 329.06,455.8 329.14,445.2 329.22,455.1 329.3,445.6 329.38,454 329.46,446.3 329.53,455.6 329.61,445.4 329.69,440.3 329.77,445.4 329.85,460.8 329.93,445.3 330,458.8 330.08,446.2 330.16,460.4 330.24,445.4 330.32,458.7 330.4,445 330.48,440 330.55,437.4 330.63,456.8 330.71,445.4 330.79,457 330.87,445 330.95,455.4 331.02,445.9 331.1,457.2 331.18,446.2 331.26,441 331.34,445.5 331.42,439.9 331.5,445 331.57,440.6 331.65,446 331.73,441.1 331.81,445.8 331.89,461.2 331.97,446.2 332.05,458.2 332.12,446.3 332.2,459.8 332.28,446.2 332.36,458.9 332.44,445.2 332.52,441 332.59,462 332.67,440.8 332.75,459.9 332.83,440.9 332.91,459 332.99,440.7 333.07,458.9 333.14,441.1 333.22,444.9 333.3,439.9 333.38,445.4 333.46,440.9 333.54,439.5 333.62,441 333.69,458.8 333.77,441 333.85,455.7 333.93,440.3 334.01,459.4 334.09,439.9 334.16,459.3 334.24,440.7 334.32,439.6 334.4,439.9 334.48,445.9 334.56,439.9 334.64,455.1 334.71,440.6 334.79,457.1 334.87,440.9 334.95,457.6 335.03,440.7 335.11,456.5 335.18,440.5 335.26,445.1 335.34,439.9 335.42,463.1 335.5,440.6 335.58,460.2 335.66,440 335.73,463.7 335.81,437.7 335.89,459.1 335.97,440 336.05,446.1 336.13,440 336.21,445.8 336.28,440.7 336.36,445.1 336.44,458.6 336.52,446.1 336.6,458.4 336.68,445.2 336.75,458.8 336.83,446.2 336.91,456.4 336.99,446.3 337.07,440.7 337.15,439.5 337.23,440.3 337.3,446.3 337.38,441 337.46,446.1 337.54,440.8 337.62,454.4 337.7,440.1 337.78,456.4 337.85,440.3 337.93,454.1 338.01,439.9 338.09,454 338.17,440.6 338.25,444.8 338.32,462.3 338.4,445.6 338.48,458.8 338.56,446.2 338.64,460.9 338.72,445.6 338.8,458.4 338.87,446 338.95,440.2 339.03,445.9 339.11,440.7 339.19,445.3 339.27,454.3 339.35,439.6 339.42,456.9 339.5,445.6 339.58,457 339.66,445.5 339.74,457.2 339.82,444.9 339.89,440.4 339.97,446.3 340.05,454.1 340.13,445 340.21,454.6 340.29,445.1 340.37,455.9 340.44,445.8 340.52,454.5 340.6,446.1 340.68,441.1 340.76,445.9 340.84,440.1 340.91,446.2 340.99,436.8 341.07,445.3 341.15,440.6 341.23,460.1 341.31,440.5 341.39,460 341.46,440.3 341.54,458.9 341.62,440 341.7,457.4 341.78,440.2 341.86,445.6 341.94,439.9 342.01,456.5 342.09,440.3 342.17,453.9 342.25,440.9 342.33,456.3 342.41,440.1 342.48,453.3 342.56,440.7 342.64,446.2 342.72,440.5 342.8,445 342.88,440 342.96,438.2 343.03,440.9 343.11,454 343.19,440 343.27,455.3 343.35,440 343.43,455 343.51,440.6 343.58,453.5 343.66,440.5 343.74,445.3 343.82,440.1 343.9,446 343.98,440 344.05,464.7 344.13,441.1 344.21,461.3 344.29,439.9 344.37,462.7 344.45,439.9 344.53,460 344.6,439.8 344.68,446.2 344.76,439.8 344.84,439.5 344.92,440.3 345,457.5 345.07,441.1 345.15,455.5 345.23,439.5 345.31,458.1 345.39,441 345.47,458.4 345.55,440.5 345.62,446.2 345.7,440.6 345.78,445.6 345.86,458.2 345.94,445.7 346.02,456.9 346.1,445.6 346.17,456.2 346.25,445.6 346.33,457.6 346.41,437.5 346.49,441.2 346.57,445.2 346.64,439.9 346.72,446.2 346.8,455.6 346.88,446.2 346.96,454.5 347.04,445.8 347.12,454.6 347.19,446.1 347.27,455.4 347.35,446.2 347.43,440.1 347.51,446.1 347.59,440.6 347.67,445.5 347.74,439.7 347.82,446.2 347.9,456.5 347.98,446.1 348.06,458.4 348.14,445.5 348.21,457.8 348.29,445.5 348.37,456.6 348.45,446.1 348.53,440.6 348.61,446.1 348.69,440.8 348.76,444.9 348.84,457.4 348.92,445.4 349,460.7 349.08,438.3 349.16,457.2 349.24,445.8 349.31,457.9 349.39,445.4 349.47,455.6 349.55,446.1 349.63,456.7 349.71,445.6 349.78,456.9 349.86,439.4 349.94,457 350.02,446 350.1,440.7 350.18,445.2 350.26,439.8 350.33,445.8 350.41,440.2 350.49,444.8 350.57,440.9 350.65,446.2 350.73,456.3 350.8,446 350.88,456.3 350.96,446 351.04,453.7 351.12,445 351.2,454.9 351.28,444.9 351.35,440.5 351.43,444.8 351.51,440.8 351.59,438.7 351.67,440.6 351.75,453.6 351.83,440.3 351.9,453.6 351.98,439.8 352.06,454 352.14,440.7 352.22,455.5 352.3,440.9 352.37,445.2 352.45,458.8 352.53,445.8 352.61,455.8 352.69,436.8 352.77,456.5 352.85,446.2 352.92,455.6 353,445.1 353.08,441 353.16,446 353.24,441 353.32,445.7 353.4,440.5 353.47,445.6 353.55,455.9 353.63,444.9 353.71,455.8 353.79,446.1 353.87,457.3 353.94,445.8 354.02,457.2 354.1,446 354.18,440.7 354.26,446.2 354.34,440 354.42,457.2 354.49,440.9 354.57,459.1 354.65,439.7 354.73,456.2 354.81,440.8 354.89,458.7 354.96,440.9 355.04,446.1 355.12,439.8 355.2,446.2 355.28,441.1 355.36,460.6 355.44,440.2 355.51,461.4 355.59,440.9 355.67,462 355.75,439.8 355.83,461.9 355.91,439.7 355.99,446 356.06,438.5 356.14,446 356.22,440.4 356.3,446.2 356.38,456.9 356.46,444.7 356.53,455.3 356.61,444.8 356.69,458.7 356.77,445.4 356.85,458.5 356.93,445.2 357.01,456.8 357.08,445.4 357.16,455.6 357.24,439.1 357.32,457.6 357.4,444.9 357.48,456.2 357.56,445.1 357.63,440.4 357.71,445.3 357.79,439.9 357.87,446 357.95,440.2 358.03,445.2 358.1,440.3 358.18,456.5 358.26,439.7 358.34,456.4 358.42,436.8 358.5,455.1 358.58,441 358.65,456.5 358.73,439.7 358.81,456.4 358.89,440.8 358.97,454 359.05,440.6 359.12,454.9 359.2,440.1 359.28,454.8 359.36,440.4 359.44,444.8 359.52,440.4 359.6,446.1 359.67,440.4 359.75,444.9 359.83,441 359.91,445 359.99,458.7 360.07,438.4 360.15,459.6 360.22,445.1 360.3,456.8 360.38,445.1 360.46,457.5 360.54,446.2 360.62,440.2 360.69,445.3 360.77,439.8 360.85,446.1 360.93,440.3 361.01,454.6 361.09,441.1 361.17,454.7 361.24,440.1 361.32,454.4 361.4,441.1 361.48,454.3 361.56,439.7 361.64,444.8 361.72,440.9 361.79,453.8 361.87,440.7 361.95,453.5 362.03,440 362.11,456.9 362.19,440.6 362.26,455.4 362.34,440.5 362.42,439.2 362.5,440.2 362.58,461 362.66,440.2 362.74,461.3 362.81,439.7 362.89,460.8 362.97,440.7 363.05,460.5 363.13,439.8 363.21,445.7 363.29,440.5 363.36,444.7 363.44,440.6 363.52,445 363.6,440.5 363.68,445.6 363.76,439.9 363.83,445.2 363.91,463.9 363.99,445.9 364.07,464.6 364.15,445.4 364.23,464 364.31,445.8 364.38,460.7 364.46,459 364.54,440.5 364.62,460 364.7,440.1 364.78,458.8 364.85,439.8 364.93,460.9 365.01,439.7 365.09,446.1 365.17,440.9 365.25,446 365.33,440.4 365.4,446.1 365.48,440.6 365.56,457.9 365.64,438.2 365.72,456.7 365.8,440.2 365.88,457.5 365.95,439.8 366.03,456.3 366.11,440.1 366.19,445.7 366.27,439.8 366.35,446 366.42,440.4 366.5,445.2 366.58,440.5 366.66,445.4 366.74,455.1 366.82,445.8 366.9,455.1 366.97,446.1 367.05,458.6 367.13,444.7 367.21,458.7 367.29,445.4 367.37,440.9 367.45,455.1 367.52,440.7 367.6,457 367.68,439.7 367.76,457.9 367.84,440.7 367.92,455.7 367.99,440.9 368.07,446.1 368.15,439.6 368.23,459.4 368.31,439.8 368.39,459.3 368.47,439.9 368.54,462.6 368.62,439.7 368.7,458 368.78,440.6 368.86,445.7 368.94,439.8 369.01,439.2 369.09,440.7 369.17,457.1 369.25,439.8 369.33,456.8 369.41,440.4 369.49,458.9 369.56,439.9 369.64,459.8 369.72,440.2 369.8,445.9 369.88,439.3 369.96,446 370.04,439.9 370.11,446 370.19,441 370.27,444.8 370.35,439.7 370.43,462.8 370.51,440.9 370.58,459.8 370.66,439.1 370.74,462.8 370.82,440.4 370.9,462.8 370.98,440.1 371.06,445.8 371.13,441 371.21,455.8 371.29,439.7 371.37,454.9 371.45,440.3 371.53,456.8 371.61,440.5 371.68,454.4 371.76,440.2 371.84,445.9 371.92,440.6 372,445.9 372.08,440.3 372.15,445.7 372.23,440.1 372.31,444.7 372.39,459 372.47,445.1 372.55,458.9 372.63,446 372.7,459.2 372.78,445.6 372.86,457.5 372.94,456.3 373.02,437.7 373.1,453.9 373.17,439.9 373.25,455.5 373.33,439.6 373.41,453.5 373.49,439.2 373.57,445.9 373.65,440 373.72,444.7 373.8,439.7 373.88,445.3 373.96,440.6 374.04,445 374.12,439.7 374.2,457.2 374.27,440 374.35,455.9 374.43,440.4 374.51,454.7 374.59,440.9 374.67,456.5 374.74,440.4 374.82,445.9 374.9,457 374.98,439.4 375.06,456.9 375.14,445.8 375.22,457.5 375.29,445.6 375.37,455.7 375.45,445.3 375.53,439.9 375.61,445.5 375.69,439.6 375.77,446 375.84,439.6 375.92,445.9 376,440 376.08,460 376.16,440.6 376.24,458.8 376.31,440.2 376.39,462.1 376.47,439.9 376.55,460.9 376.63,440.8 376.71,439.2 376.79,440.3 376.86,445.1 376.94,458.1 377.02,444.7 377.1,457.5 377.18,445.9 377.26,459 377.34,445.8 377.41,456.9 377.49,444.7 377.57,439.3 377.65,445.7 377.73,440.8 377.81,455.4 377.88,440.8 377.96,455.7 378.04,440.9 378.12,457.2 378.2,438.2 378.28,455.6 378.36,440.5 378.43,446 378.51,440.5 378.59,445.7 378.67,454 378.75,445 378.83,456.1 378.9,445.3 378.98,455.9 379.06,445.2 379.14,454.3 379.22,446 379.3,440.8 379.38,444.6 379.45,457.8 379.53,445.9 379.61,459.7 379.69,446 379.77,459.7 379.85,445.9 379.93,459.1 380,445.6 380.08,440 380.16,446 380.24,467 380.32,456.1 380.4,439.8 380.47,438.4 380.55,440.5 380.63,446 380.71,453.9 380.79,446 380.87,455.5 380.95,445 381.02,456.4 381.1,445.4 381.18,456.3 381.26,445.8 381.34,439.6 381.42,445.6 381.5,454.8 381.57,445.9 381.65,456.1 381.73,445.4 381.81,453.9 381.89,445.2 381.97,453.6 382.04,445.5 382.12,436.6 382.2,445 382.28,440.3 382.36,446 382.44,440 382.52,445.8 382.59,439.9 382.67,456.4 382.75,440.4 382.83,460.1 382.91,439.7 382.99,456.4 383.06,439.9 383.14,460.7 383.22,457.3 383.3,444.8 383.38,456.1 383.46,444.9 383.54,456 383.61,445.8 383.69,459.5 383.77,445.6 383.85,440.1 383.93,445.8 384.01,440.1 384.09,445.7 384.16,440 384.24,455.4 384.32,439.8 384.4,454 384.48,439.6 384.56,454.9 384.63,440.7 384.71,453.6 384.79,439.7 384.87,445.9 384.95,440.6 385.03,445.6 385.11,439.6 385.18,438.6 385.26,440.4 385.34,445.7 385.42,455.3 385.5,439.5 385.58,455.9 385.66,444.9 385.73,456.3 385.81,444.9 385.89,454.9 385.97,444.8 386.05,439.9 386.13,444.8 386.2,440.1 386.28,456 386.36,439.6 386.44,455.6 386.52,440.3 386.6,456.9 386.68,440.6 386.75,453.8 386.83,440.1 386.91,445.4 386.99,439.8 387.07,445.8 387.15,440.4 387.23,445.5 387.3,440.2 387.38,459.8 387.46,439.6 387.54,458.9 387.62,439.5 387.7,457 387.77,439.8 387.85,457 387.93,440.9 388.01,446 388.09,440.5 388.17,445.1 388.25,439.7 388.32,455.2 388.4,439 388.48,455 388.56,439.9 388.64,453.2 388.72,441 388.79,454.5 388.87,440.5 388.95,445.1 389.03,440.7 389.11,459 389.19,440.3 389.27,461.3 389.34,439.9 389.42,460.4 389.5,440.5 389.58,458.6 389.66,440.7 389.74,445.8 389.82,459.9 389.89,437.9 389.97,459.3 390.05,445.4 390.13,459.2 390.21,445.3 390.29,456.7 390.36,445.8 390.44,439.7 390.52,444.8 390.6,440.8 390.68,446 390.76,439.9 390.84,457.4 390.91,440.5 390.99,458.7 391.07,439.6 391.15,456.4 391.23,440.7 391.31,455.3 391.39,439.5 391.46,446 391.54,440.9 391.62,445.8 391.7,439.6 391.78,444.7 391.86,440.4 391.93,461.7 392.01,440.7 392.09,459.8 392.17,439.8 392.25,462.6 392.33,440.1 392.41,458.9 392.48,439.4 392.56,445.3 392.64,440.2 392.72,444.7 392.8,440 392.88,454.6 392.95,440 393.03,457.2 393.11,440.3 393.19,456.3 393.27,440.4 393.35,456.3 393.43,440.3 393.5,445.9 393.58,440.8 393.66,455.2 393.74,438.2 393.82,455.3 393.9,440.2 393.98,456.1 394.05,440.9 394.13,456.5 394.21,439.6 394.29,445 394.37,440.9 394.45,445.7 394.52,458.5 394.6,445.8 394.68,460.4 394.76,445.9 394.84,460.8 394.92,445.9 395,456.6 395.07,436.6 395.15,439.5 395.23,444.9 395.31,440 395.39,445.2 395.47,460 395.55,446 395.62,456.8 395.7,445.9 395.78,458.1 395.86,444.8 395.94,456.5 396.02,445.4 396.09,437.7 396.17,444.8 396.25,439.5 396.33,446 396.41,438.6 396.49,445.9 396.57,439.9 396.64,445.9 396.72,457.4 396.8,445.4 396.88,457.1 396.96,445.7 397.04,459.3 397.11,444.8 397.19,457.2 397.27,445.9 397.35,439.9 397.43,445.8 397.51,439.6 397.59,445.4 397.66,439.6 397.74,455.1 397.82,440.2 397.9,455.7 397.98,439.6 398.06,456.2 398.14,438.7 398.21,457.7 398.29,439.6 398.37,445.5 398.45,458.4 398.53,445.8 398.61,456.9 398.68,445.4 398.76,455.3 398.84,444.9 398.92,455.6 399,445.9 399.08,439.7 399.16,444.6 399.23,440.2 399.31,445.7 399.39,439.8 399.47,444.6 399.55,459.8 399.63,445.1 399.71,460 399.78,445.1 399.86,462 399.94,445.2 400.02,458.6 400.1,445.9 400.18,439.9 400.25,457.6 400.33,439.7 400.41,457 400.49,440.9 400.57,458.3 400.65,440.7 400.73,456.1 400.8,440.6 400.88,445.3 400.96,440.5 401.04,455.2 401.12,439.7 401.2,454.6 401.28,440 401.35,456.9 401.43,440.7 401.51,454.3 401.59,439.5 401.67,444.8 401.75,440.2 401.82,445.5 401.9,439.7 401.98,445.8 402.06,440.9 402.14,445.7 402.22,440 402.3,445.7 402.37,440.6 402.45,458.6 402.53,440.6 402.61,456.1 402.69,439.7 402.77,455.3 402.84,439.9 402.92,459.1 403,440.4 403.08,455.6 403.16,439.8 403.24,458.1 403.32,438.7 403.39,458.3 403.47,439.9 403.55,445.7 403.63,440.5 403.71,445.2 403.79,440.8 403.87,445.3 403.94,439.5 404.02,445.1 404.1,440.8 404.18,445.9 404.26,463.9 404.34,445 404.41,462.4 404.49,445 404.57,464.2 404.65,445.3 404.73,459.8 404.81,444.5 404.89,440.4 404.96,445.6 405.04,461 405.12,445.4 405.2,461.8 405.28,445.7 405.36,460 405.44,444.7 405.51,462.1 405.59,445.2 405.67,440.5 405.75,444.7 405.83,439.5 405.91,457.8 405.98,440.5 406.06,457.2 406.14,439.5 406.22,459.1 406.3,440 406.38,457.3 406.46,440.6 406.53,445.4 406.61,439.5 406.69,445.9 406.77,440.7 406.85,445.5 406.93,440.4 407,454.1 407.08,440.8 407.16,453.8 407.24,439.6 407.32,455.8 407.4,440.5 407.48,454.9 407.55,440.8 407.63,454.2 407.71,440.5 407.79,455.8 407.87,438.8 407.95,456.8 408.03,439.9 408.1,453.9 408.18,440.2 408.26,444.5 408.34,440.8 408.42,445 408.5,439.4 408.57,444.6 408.65,440.4 408.73,445.8 408.81,458.6 408.89,445.3 408.97,459.9 409.05,444.5 409.12,460.1 409.2,444.5 409.28,459.4 409.36,445.1 409.44,439.4 409.52,444.8 409.6,439.6 409.67,454 409.75,439.5 409.83,454.6 409.91,440.3 409.99,457.1 410.07,440.6 410.14,456.8 410.22,440.3 410.3,445.1 410.38,440.4 410.46,445.8 410.54,439.5 410.62,445.5 410.69,439.4 410.77,453.8 410.85,439.7 410.93,454.8 411.01,439.1 411.09,455.2 411.16,439.4 411.24,456.8 411.32,461.3 411.4,445.8 411.48,461.9 411.56,445.8 411.64,462.1 411.71,445.8 411.79,460.8 411.87,445.5 411.95,440.3 412.03,445.9 412.11,440.6 412.19,445.9 412.26,439.5 412.34,445.8 412.42,439.4 412.5,445.7 412.58,439.8 412.66,456.2 412.73,440.7 412.81,459 412.89,444.5 412.97,450.1 413.05,444.8 413.13,449.4 413.21,444.5 413.28,450.5 413.36,445.8 413.44,443.6 413.52,445.7 413.6,449.8 413.68,442.9 413.76,450.5 413.83,458.1 413.91,450 413.99,458.8 414.07,450.1 414.15,459.5 414.23,450.5 414.3,458.3 414.38,450.1 414.46,445 414.54,450 414.62,457 414.7,450.1 414.78,457.3 414.85,449.9 414.93,457 415.01,450.1 415.09,458.1 415.17,450.5 415.25,444.8 415.33,450 415.4,445.2 415.48,450.4 415.56,459.5 415.64,449.9 415.72,460.1 415.8,450.4 415.87,461.5 415.95,449.9 416.03,462.2 416.11,450.2 416.19,444.7 416.27,450.4 416.35,444.5 416.42,450.4 416.5,442.8 416.58,450.2 416.66,444.7 416.74,449.3 416.82,461.4 416.89,468.5 416.97,459.1 417.05,450.6 417.13,458.9 417.21,449.4 417.29,459.7 417.37,450.6 417.44,445.8 417.52,450.3 417.6,445.2 417.68,457.7 417.76,445.4 417.84,456.6 417.92,445.5 417.99,458.8 418.07,445 418.15,459.4 418.23,445.5 418.31,449.7 418.39,444.6 418.46,450 418.54,461 418.62,450.1 418.7,462.5 418.78,450.3 418.86,461.6 418.94,449.7 419.01,461.5 419.09,449.6 419.17,445.2 419.25,450.6 419.33,444.6 419.41,450.6 419.49,458.7 419.56,450 419.64,457.6 419.72,450.5 419.8,458 419.88,450.3 419.96,458.8 420.03,450.4 420.11,444.4 420.19,449.7 420.27,445.4 420.35,449.7 420.43,444.6 420.51,461.7 420.58,445.7 420.66,461.6 420.74,444.5 420.82,463.2 420.9,445.2 420.98,460.3 421.05,444.5 421.13,457.7 421.21,445.2 421.29,456.6 421.37,444.8 421.45,456.9 421.53,445.1 421.6,457.3 421.68,445.2 421.76,450.4 421.84,445.2 421.92,450.1 422,443.8 422.08,458.7 422.15,445.4 422.23,459 422.31,444.6 422.39,459.7 422.47,445.7 422.55,460.1 422.62,444.8 422.7,450.4 422.78,444.5 422.86,450.5 422.94,445.6 423.02,443.2 423.1,445.5 423.17,450.6 423.25,443.3 423.33,460 423.41,445.4 423.49,461.7 423.57,445.5 423.65,461.8 423.72,445.3 423.8,460.8 423.88,444.8 423.96,450.1 424.04,445.6 424.12,461.7 424.19,444.5 424.27,462 424.35,445.6 424.43,462.1 424.51,445.3 424.59,461.7 424.67,445.2 424.74,450.4 424.82,444.8 424.9,450.4 424.98,445.3 425.06,450.6 425.14,444.5 425.22,463.4 425.29,444.5 425.37,463.9 425.45,445.7 425.53,464.3 425.61,445.6 425.69,463.4 425.76,444.6 425.84,450 425.92,444.8 426,459.1 426.08,444.8 426.16,458.5 426.24,444.5 426.31,458.5 426.39,445 426.47,458.4 426.55,445.8 426.63,450.5 426.71,456.3 426.78,442.2 426.86,457.3 426.94,450.4 427.02,456.7 427.1,450.6 427.18,457.2 427.26,450.6 427.33,445 427.41,450.6 427.49,444.9 427.57,450.5 427.65,445 427.73,449.8 427.81,444.8 427.88,450.3 427.96,459.8 428.04,450.3 428.12,461.5 428.2,450.4 428.28,459.7 428.35,450.5 428.43,460.4 428.51,450.5 428.59,444.9 428.67,450.6 428.75,444.5 428.83,449.5 428.9,444.6 428.98,456.5 429.06,444.6 429.14,457.1 429.22,445.1 429.3,456.3 429.38,445.5 429.45,456.3 429.53,457.7 429.61,450.3 429.69,456.5 429.77,450.2 429.85,458.3 429.92,443.9 430,457.9 430.08,450.1 430.16,444.9 430.24,449.6 430.32,445 430.4,450.4 430.47,444.5 430.55,449.6 430.63,445.3 430.71,442.5 430.79,444.9 430.87,457.6 430.94,444.9 431.02,458.3 431.1,445.3 431.18,458.1 431.26,445.3 431.34,456.1 431.42,458.6 431.49,450.4 431.57,459.5 431.65,449.3 431.73,458.4 431.81,450.5 431.89,458.4 431.97,450.4 432.04,444.8 432.12,449.8 432.2,444.1 432.28,450 432.36,445.2 432.44,449.5 432.51,444.8 432.59,457.2 432.67,444.8 432.75,458.1 432.83,444.8 432.91,458.3 432.99,444.5 433.06,458.1 433.14,444.7 433.22,450.6 433.3,459.3 433.38,444 433.46,456.7 433.54,450 433.61,458 433.69,449.5 433.77,458.9 433.85,450.5 433.93,445 434.01,450.6 434.08,444.7 434.16,450.4 434.24,461.3 434.32,450.1 434.4,461 434.48,450.5 434.56,459.4 434.63,450.6 434.71,460.7 434.79,444 434.87,444.9 434.95,450.3 435.03,444.6 435.1,450.6 435.18,445.2 435.26,450.6 435.34,444.9 435.42,457.8 435.5,445.8 435.58,457.4 435.65,444.6 435.73,456.9 435.81,445.2 435.89,457.7 435.97,444.7 436.05,450.6 436.13,444.9 436.2,449.4 436.28,445.7 436.36,460.5 436.44,445.4 436.52,459.9 436.6,443.7 436.67,461.2 436.75,444.3 436.83,458.9 436.91,444.5 436.99,450.2 437.07,444.7 437.15,450 437.22,445.6 437.3,470 437.38,459.9 437.46,464.2 437.54,444.6 437.62,463.6 437.7,445.5 437.77,461.6 437.85,444.9 437.93,462.2 438.01,445.2 438.09,450.4 438.17,444.7 438.24,450.5 438.32,458.5 438.4,450 438.48,460 438.56,450.2 438.64,459 438.72,450.4 438.79,459.4 438.87,450.2 438.95,445 439.03,440.6 439.11,444.9 439.19,459.6 439.27,444.6 439.34,459.7 439.42,439.4 439.5,445.6 439.58,437.1 439.66,446.1 439.74,440.1 439.81,447 439.89,439.1 439.97,446.4 440.05,439.4 440.13,445.4 440.21,458.7 440.29,447 440.36,456.8 440.44,446.9 440.52,458.1 440.6,445.6 440.68,456.1 440.76,445.4 440.83,439.4 440.91,446 440.99,439.2 441.07,446.8 441.15,457.7 441.23,446.5 441.31,455.9 441.38,445.9 441.46,456.1 441.54,446.9 441.62,457 441.7,446 441.78,439 441.86,445.6 441.93,438.6 442.01,446.7 442.09,439 442.17,453.3 442.25,440.6 442.33,456 442.4,440.3 442.48,453.5 442.56,440.5 442.64,455.6 442.72,439 442.8,438.4 442.88,438.9 442.95,446.7 443.03,439.1 443.11,446.7 443.19,440.6 443.27,454.1 443.35,440 443.43,455.3 443.5,439.4 443.58,454.8 443.66,440 443.74,454.5 443.82,439 443.9,445.6 443.97,456.4 444.05,435.5 444.13,456.1 444.21,446.7 444.29,455.6 444.37,446.3 444.45,455.8 444.52,445.1 444.6,439.1 444.68,445.6 444.76,439.4 444.84,456.5 444.92,439.2 444.99,454.7 445.07,440.1 445.15,453.2 445.23,438.8 445.31,455.2 445.39,438.9 445.47,445.1 445.54,440 445.62,446.6 445.7,457.8 445.78,445.6 445.86,458.3 445.94,445.7 446.02,455.1 446.09,445.3 446.17,457 446.25,446.7 446.33,440.1 446.41,446 446.49,434.2 446.56,446.7 446.64,439.7 446.72,446.7 446.8,438.7 446.88,457.3 446.96,438.9 447.04,459.8 447.11,439.8 447.19,456.2 447.27,440 447.35,456.6 447.43,439.5 447.51,445 447.59,438.7 447.66,438.3 447.74,439.2 447.82,445.5 447.9,453.1 447.98,446.6 448.06,455.6 448.13,445.6 448.21,456 448.29,446.4 448.37,455.5 448.45,446.5 448.53,439 448.61,446.3 448.68,455.4 448.76,446 448.84,454.9 448.92,446.3 449,456.1 449.08,446.5 449.15,456.8 449.23,445 449.31,438.7 449.39,446.1 449.47,458.3 449.55,445.5 449.63,461.5 449.7,445.7 449.78,459.5 449.86,445.6 449.94,458 450.02,444.7 450.1,438.8 450.18,445.2 450.25,439.1 450.33,445.5 450.41,439.4 450.49,446.4 450.57,458.7 450.65,446.1 450.72,457.4 450.8,446.5 450.88,457.9 450.96,445.2 451.04,455.5 451.12,446.4 451.2,439.4 451.27,436.1 451.35,439.2 451.43,446.2 451.51,439.7 451.59,446.1 451.67,438.6 451.75,453.8 451.82,439.2 451.9,456.5 451.98,439.6 452.06,454 452.14,439.6 452.22,454.3 452.29,439.3 452.37,455.2 452.45,438.7 452.53,454.3 452.61,438.4 452.69,456.5 452.77,439.8 452.84,454.2 452.92,439.1 453,446.3 453.08,440.1 453.16,446.2 453.24,438.7 453.32,446.1 453.39,438.5 453.47,445.1 453.55,453.8 453.63,445.2 453.71,454.8 453.79,446.1 453.86,452.7 453.94,446.1 454.02,454.5 454.1,446.2 454.18,439.7 454.26,445.7 454.34,438.3 454.41,445.6 454.49,454.2 454.57,446.2 454.65,457.8 454.73,445.8 454.81,455.1 454.88,445.8 454.96,454 455.04,437.2 455.12,438.6 455.2,456.7 455.28,439.2 455.36,453.9 455.43,438.3 455.51,453.8 455.59,439.3 455.67,454.2 455.75,439.9 455.83,445.1 455.91,438.4 455.98,445.7 456.06,438.7 456.14,445.4 456.22,438.4 456.3,436.9 456.38,438.2 456.45,456.9 456.53,438.9 456.61,457.9 456.69,438.6 456.77,455.2 456.85,438.1 456.93,456.2 457,454.8 457.08,445.3 457.16,455.7 457.24,445.9 457.32,454 457.4,445.8 457.48,454.2 457.55,437.5 457.63,438.5 457.71,445.8 457.79,438.1 457.87,445.3 457.95,457.8 458.02,444.5 458.1,459.7 458.18,446 458.26,458.9 458.34,445.1 458.42,457.4 458.5,445.1 458.57,439.7 458.65,445.7 458.73,438.3 458.81,437.4 458.89,439.4 458.97,460.1 459.04,438.1 459.12,459 459.2,438.5 459.28,459.4 459.36,439 459.44,460.5 459.52,438.2 459.59,444.5 459.67,438.4 459.75,431.6 459.83,436.2 459.91,445.9 459.99,438.1 460.07,445.3 460.14,438 460.22,454.7 460.3,438.1 460.38,453.9 460.46,438.8 460.54,455.2 460.61,437.9 460.69,456.2 460.77,438.1 460.85,458.9 460.93,437.9 461.01,458.1 461.09,438.9 461.16,456.2 461.24,438.9 461.32,458.3 461.4,438.6 461.48,445.8 461.56,438.6 461.64,444.2 461.71,438.1 461.79,427 461.87,433.7 461.95,445.4 462.03,455.2 462.11,445.4 462.18,454 462.26,444.1 462.34,455.3 462.42,445.7 462.5,438.1 462.58,454.5 462.66,438.7 462.73,455.5 462.81,439.5 462.89,457.7 462.97,439.2 463.05,455.1 463.13,438.2 463.21,445.6 463.28,437.9 463.36,445.4 463.44,438.8 463.52,445.6 463.6,439.3 463.68,445.7 463.75,437.7 463.83,444.1 463.91,460.4 463.99,445 464.07,460.6 464.15,445.6 464.23,460.2 464.3,445 464.38,459.7 464.46,445.4 464.54,438.2 464.62,460.1 464.7,437.7 464.77,459.1 464.85,439.3 464.93,458 465.01,439.1 465.09,461.2 465.17,439 465.25,444.8 465.32,437.7 465.4,444.8 465.48,438.7 465.56,444.5 465.64,438 465.72,443.9 465.8,457.8 465.87,444.8 465.95,455.4 466.03,444.2 466.11,456.8 466.19,445.6 466.27,456.5 466.34,444.7 466.42,438.2 466.5,445.1 466.58,438.3 466.66,445.5 466.74,448.9 466.82,457.9 466.89,450.7 466.97,460.5 467.05,455.7 467.13,462.3 467.21,456.9 467.29,465.9 467.37,460.1 467.44,469.8 467.52,462.8 467.6,471.9 467.68,465.5 467.76,476 467.84,470.4 467.91,478.4 467.99,472.1 468.07,480.2 468.15,474.6 468.23,484.7 468.31,477.7 468.39,486.4 468.46,481.8 468.54,491.4 468.62,484.4 468.7,494.4 468.78,488.6 468.86,497.8 468.93,493.5 469.01,500.7 469.09,495.9 469.17,505.3 469.25,499.2 469.33,508.4 469.41,502.1 469.48,512.2 469.56,505.8 469.64,516.5 469.72,509.7 469.8,518.2 469.88,512.9 469.96,521.7 470.03,515.5 470.11,524.2 470.19,515.9 470.27,524 470.35,518.2 470.43,524.6 470.5,517.7 470.58,526.7 470.66,518.3 470.74,525.6 470.82,526.2 470.9,520.3 470.98,520.4 471.05,524.8 471.13,515.1 471.21,517.6 471.29,520.3 471.37,496.9 471.45,520.8 471.53,525.3 471.6,505.4 471.68,525.3 471.76,520.9 471.84,511.2 471.92,521.4 472,525.9 472.07,514.3 472.15,525 472.23,521.1 472.31,516.5 472.39,518.9 472.47,525.6 472.55,518.2 472.62,525.7 472.7,520.9 472.78,519.7 472.86,520.8 472.94,525.3 473.02,520.5 473.09,525.5 473.17,521 473.25,521.2 473.33,520.5 473.41,525.6 473.49,521 473.57,522 473.64,520 473.72,522.1 473.8,519.9 473.88,525.8 473.96,521 474.04,512.3 474.12,520.6 474.19,522.5 474.27,516.4 474.35,525.1 474.43,521.6 474.51,517.8 474.59,520.6 474.66,522.8 474.74,519 474.82,525.6 474.9,522.9 474.98,519.4 475.06,520.4 475.14,523 475.21,520.9 475.29,525.7 475.37,520.4 475.45,521.5 475.53,521.3 475.61,523 475.69,520.5 475.76,525.5 475.84,521 475.92,522.3 476,520.7 476.08,525.6 476.16,521.3 476.23,525.5 476.31,519.9 476.39,522.7 476.47,521.5 476.55,524.7 476.63,520.9 476.71,526.8 476.78,521.4 476.86,519.9 476.94,520.6 477.02,525.7 477.1,521.5 477.18,525.2 477.26,520.6 477.33,523 477.41,520.3 477.49,525.3 477.57,521.2 477.65,521 477.73,526.8 477.8,523 477.88,517 477.96,525.7 478.04,520.5 478.12,504.6 478.2,520.7 478.28,523.1 478.35,509.9 478.43,525.2 478.51,521.1 478.59,514.6 478.67,520.4 478.75,519.9 478.82,517.1 478.9,525.7 478.98,520.8 479.06,518.2 479.14,521 479.22,525.6 479.3,519.7 479.37,525.1 479.45,520.7 479.53,520.6 479.61,519.1 479.69,525.5 479.77,520.5 479.85,522.6 479.92,520.7 480,521.7 480.08,520.4 480.16,525.3 480.24,521.3 480.32,518.2 480.39,520.4 480.47,522.4 480.55,507.7 480.63,525.6 480.71,521.2 480.79,512.7 480.87,526.2 480.94,522.8 481.02,515.3 481.1,525.5 481.18,521.5 481.26,518 481.34,520.6 481.42,522.9 481.49,519.4 481.57,525.8 481.65,520.5 481.73,520.3 481.81,521.2 481.89,523 481.96,520.8 482.04,525.2 482.12,521" stroke="url(#g7)" class="l"/><text class="t" transform="translate(278.2 540.7) scale(1 1.07)" text-anchor="middle">184</text><text class="t" transform="translate(319 540.7) scale(1 1.07)" text-anchor="middle">185</text><text class="t" transform="translate(359.8 540.7) scale(1 1.07)" text-anchor="middle">186</text><text class="t" transform="translate(400.6 540.7) scale(1 1.07)" text-anchor="middle">187</text><text class="t" transform="translate(441.4 540.7) scale(1 1.07)" text-anchor="middle">188</text><text class="t" transform="translate(482.2 540.7) scale(1 1.07)" text-anchor="middle">189</text><text class="t" transform="translate(265.4 514.85) scale(1 1.07)" text-anchor="end">0.4</text><text class="t" transform="translate(265.4 484.08) scale(1 1.07)" text-anchor="end">0.6</text><text class="t" transform="translate(265.4 453.32) scale(1 1.07)" text-anchor="end">0.8</text><text class="t" transform="translate(265.4 422.55) scale(1 1.07)" text-anchor="end">1</text><text class="a" transform="translate(380.8 548.4) scale(1 1.07)" text-anchor="middle">Time(s)</text><text class="v" transform="translate(254.39 477.3) rotate(-90) scale(1.025 1)" text-anchor="middle">Current(A)</text><text class="h" transform="translate(371.5 419.4) scale(1 1.07)" text-anchor="middle">Raspberry Pi: Hydra T32 IKE</text></g></svg>
</body></html>
